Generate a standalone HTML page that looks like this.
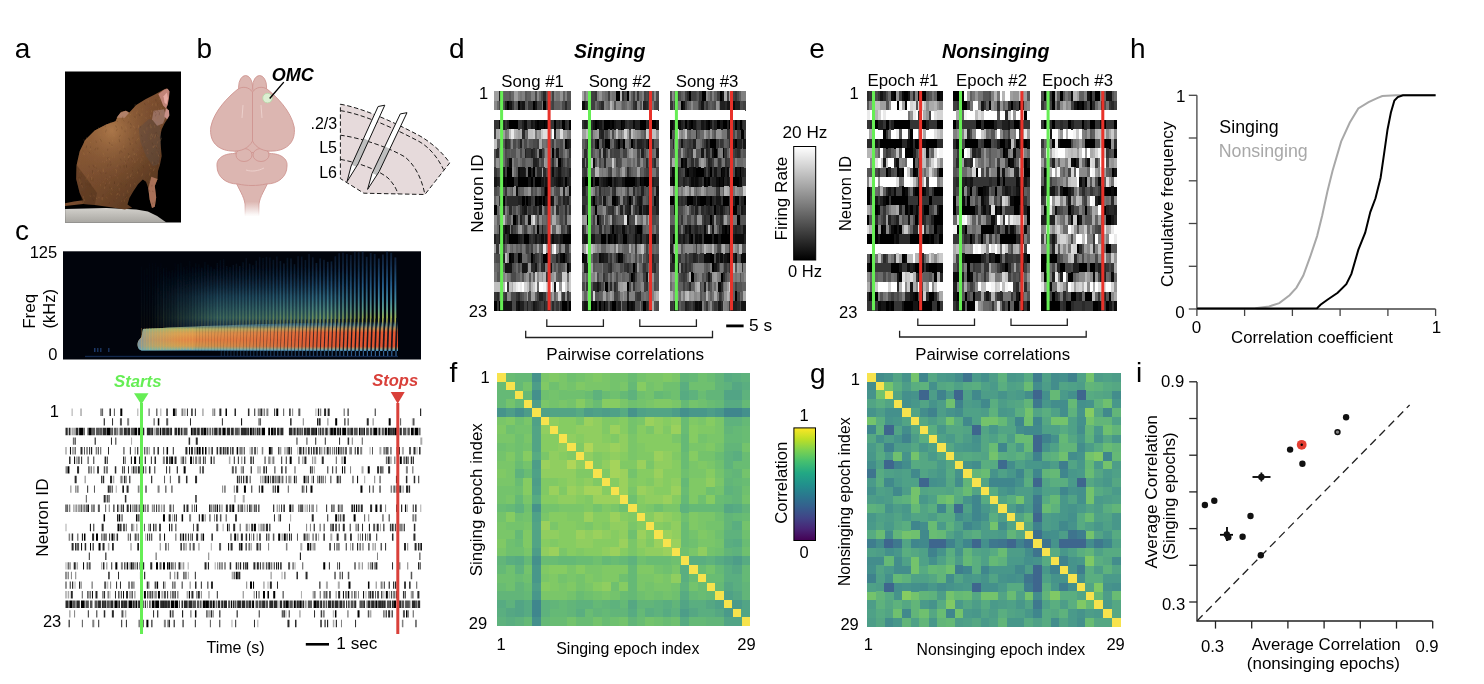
<!DOCTYPE html>
<html><head><meta charset="utf-8"><style>
html,body{margin:0;padding:0;background:#fff;}
svg{display:block;font-family:"Liberation Sans", sans-serif;}
text{opacity:0.999;}
</style></head><body>
<svg width="1484" height="684" viewBox="0 0 1484 684">
<rect width="1484" height="684" fill="#fff"/>
<text x="14.78" y="58.10" font-size="28" fill="#000" font-weight="normal" font-style="normal">a</text>
<text x="196.55" y="57.90" font-size="28" fill="#000" font-weight="normal" font-style="normal">b</text>
<text x="15.07" y="240.20" font-size="28" fill="#000" font-weight="normal" font-style="normal">c</text>
<text x="448.88" y="58.00" font-size="28" fill="#000" font-weight="normal" font-style="normal">d</text>
<text x="809.27" y="58.30" font-size="28" fill="#000" font-weight="normal" font-style="normal">e</text>
<text x="449.52" y="381.90" font-size="28" fill="#000" font-weight="normal" font-style="normal">f</text>
<text x="810.08" y="382.60" font-size="28" fill="#000" font-weight="normal" font-style="normal">g</text>
<text x="1129.92" y="58.10" font-size="28" fill="#000" font-weight="normal" font-style="normal">h</text>
<text x="1136.03" y="381.90" font-size="28" fill="#000" font-weight="normal" font-style="normal">i</text>
<g id="photo">
<rect x="65" y="71.5" width="116" height="151" fill="#000"/>
<defs><linearGradient id="rockg" x1="0" y1="0" x2="0" y2="1"><stop offset="0" stop-color="#d2d0cb"/><stop offset="1" stop-color="#a9a7a2"/></linearGradient><linearGradient id="fur" x1="0" y1="0" x2="1" y2="1"><stop offset="0" stop-color="#a06a3c"/><stop offset="0.45" stop-color="#7e5030"/><stop offset="1" stop-color="#4a2e1a"/></linearGradient><radialGradient id="furh" cx="0.45" cy="0.35" r="0.55"><stop offset="0" stop-color="#b88250" stop-opacity="0.75"/><stop offset="1" stop-color="#6a4428" stop-opacity="0"/></radialGradient></defs>
<polygon points="65.1,209.0 106.2,208.1 136.3,209.5 147.9,211.4 157.1,216.0 166.4,222.5 65.1,222.5" fill="url(#rockg)"/>
<defs><filter id="pblur"><feGaussianBlur stdDeviation="0.7"/></filter><clipPath id="pclip"><rect x="65" y="71.5" width="116" height="151"/></clipPath></defs><g clip-path="url(#pclip)"><g filter="url(#pblur)">
<polygon points="65.1,203.3 73.9,201.6 83.1,200.3 79.7,192.9 76.2,179.0 76.6,165.1 79.7,151.2 85.4,139.7 94.7,130.4 106.2,124.6 115.5,121.2 117.8,116.6 121.3,111.9 125.9,110.8 129.4,112.4 136.3,105.0 145.5,99.2 154.8,94.6 162.9,90.0 166.8,88.3 169.1,91.1 168.7,98.1 166.4,106.8 169.1,111.9 168.2,117.7 164.5,123.5 161.7,129.3 159.9,137.4 160.8,146.6 161.7,155.9 159.9,165.1 158.0,170.9 157.6,179.0 154.8,185.9 156.2,197.5 154.8,206.7 152.0,208.1 149.7,199.8 148.3,188.2 146.0,181.8 142.8,179.4 138.2,184.1 133.5,191.0 129.4,197.9 127.5,204.4 132.1,207.7 124.7,209.5 110.9,207.2 94.7,204.9 83.1,204.0 65.1,206.0" fill="url(#fur)"/>
<polygon points="65.1,203.3 73.9,201.6 83.1,200.3 79.7,192.9 76.2,179.0 76.6,165.1 79.7,151.2 85.4,139.7 94.7,130.4 106.2,124.6 115.5,121.2 117.8,116.6 121.3,111.9 125.9,110.8 129.4,112.4 136.3,105.0 145.5,99.2 154.8,94.6 162.9,90.0 166.8,88.3 169.1,91.1 168.7,98.1 166.4,106.8 169.1,111.9 168.2,117.7 164.5,123.5 161.7,129.3 159.9,137.4 160.8,146.6 161.7,155.9 159.9,165.1 158.0,170.9 157.6,179.0 154.8,185.9 156.2,197.5 154.8,206.7 152.0,208.1 149.7,199.8 148.3,188.2 146.0,181.8 142.8,179.4 138.2,184.1 133.5,191.0 129.4,197.9 127.5,204.4 132.1,207.7 124.7,209.5 110.9,207.2 94.7,204.9 83.1,204.0 65.1,206.0" fill="url(#furh)"/>
<polygon points="138.6,128.1 149.0,118.9 159.4,122.3 161.3,137.4 160.3,151.2 159.0,164.0 152.9,166.3 146.0,155.9 140.5,142.0" fill="#5e4c42" opacity="0.45"/>
<polygon points="153.6,110.8 164.0,109.2 165.9,115.4 163.1,123.5 157.1,125.8 152.0,119.3" fill="#a88078" opacity="0.7"/>
<polygon points="158.3,93.9 164.5,89.5 167.7,88.8 169.6,91.6 168.9,98.1 167.7,105.0 165.9,108.2 163.1,105.5 160.8,99.4" fill="#c08478"/>
<polygon points="163.6,96.2 166.8,92.5 168.0,98.5 166.6,104.5 164.5,102.7" fill="#e6aaa2"/>
<polygon points="165.9,108.2 168.9,110.3 169.4,115.4 167.1,119.3 164.3,116.6" fill="#c89088"/>
<polygon points="116.6,117.7 120.6,112.4 125.9,110.8 128.9,113.1 124.7,117.7" fill="#b08068"/>
<polygon points="151.3,176.7 157.6,179.0 154.8,185.9 156.2,197.5 154.8,206.7 152.0,208.1 149.7,199.8 148.3,188.2" fill="#a87058"/>
<polygon points="79.7,192.9 76.2,179.0 76.6,165.1 85.4,176.7 97.0,192.9 94.7,204.9 83.1,204.0" fill="#3e2614" opacity="0.35"/>
<line x1="130.3" y1="177.0" x2="131.4" y2="173.7" stroke="#b8844f" stroke-width="0.6" opacity="0.4"/><line x1="157.0" y1="167.1" x2="157.8" y2="165.5" stroke="#4a2e1a" stroke-width="0.6" opacity="0.4"/><line x1="150.8" y1="138.6" x2="149.8" y2="136.8" stroke="#9a6a40" stroke-width="0.6" opacity="0.4"/><line x1="150.7" y1="139.5" x2="151.2" y2="137.9" stroke="#b8844f" stroke-width="0.6" opacity="0.4"/><line x1="102.6" y1="200.3" x2="102.6" y2="197.5" stroke="#9a6a40" stroke-width="0.6" opacity="0.4"/><line x1="93.6" y1="201.1" x2="92.3" y2="197.9" stroke="#4a2e1a" stroke-width="0.6" opacity="0.4"/><line x1="103.4" y1="136.5" x2="102.6" y2="134.8" stroke="#a87448" stroke-width="0.6" opacity="0.4"/><line x1="106.1" y1="185.0" x2="106.3" y2="182.3" stroke="#5a3820" stroke-width="0.6" opacity="0.4"/><line x1="104.0" y1="172.1" x2="103.0" y2="169.9" stroke="#9a6a40" stroke-width="0.6" opacity="0.4"/><line x1="83.2" y1="201.8" x2="81.5" y2="199.3" stroke="#4a2e1a" stroke-width="0.6" opacity="0.4"/><line x1="80.0" y1="181.8" x2="79.5" y2="179.2" stroke="#a87448" stroke-width="0.6" opacity="0.4"/><line x1="116.2" y1="173.3" x2="116.6" y2="169.9" stroke="#a87448" stroke-width="0.6" opacity="0.4"/><line x1="156.9" y1="134.7" x2="156.4" y2="132.2" stroke="#4a2e1a" stroke-width="0.6" opacity="0.4"/><line x1="87.5" y1="177.7" x2="88.5" y2="174.6" stroke="#a87448" stroke-width="0.6" opacity="0.4"/><line x1="114.5" y1="202.1" x2="113.6" y2="199.8" stroke="#5a3820" stroke-width="0.6" opacity="0.4"/><line x1="154.9" y1="134.2" x2="156.1" y2="131.9" stroke="#5a3820" stroke-width="0.6" opacity="0.4"/><line x1="135.6" y1="130.6" x2="136.5" y2="128.0" stroke="#5a3820" stroke-width="0.6" opacity="0.4"/><line x1="161.5" y1="115.2" x2="159.6" y2="112.3" stroke="#b8844f" stroke-width="0.6" opacity="0.4"/><line x1="155.4" y1="101.4" x2="155.9" y2="99.3" stroke="#5a3820" stroke-width="0.6" opacity="0.4"/><line x1="116.4" y1="142.9" x2="114.6" y2="140.1" stroke="#a87448" stroke-width="0.6" opacity="0.4"/><line x1="145.2" y1="133.6" x2="143.9" y2="130.4" stroke="#b8844f" stroke-width="0.6" opacity="0.4"/><line x1="157.6" y1="165.1" x2="158.1" y2="163.5" stroke="#4a2e1a" stroke-width="0.6" opacity="0.4"/><line x1="155.2" y1="164.0" x2="154.2" y2="161.7" stroke="#4a2e1a" stroke-width="0.6" opacity="0.4"/><line x1="135.8" y1="131.8" x2="135.1" y2="129.5" stroke="#9a6a40" stroke-width="0.6" opacity="0.4"/><line x1="87.9" y1="185.5" x2="87.9" y2="183.6" stroke="#4a2e1a" stroke-width="0.6" opacity="0.4"/><line x1="150.7" y1="117.2" x2="150.6" y2="114.7" stroke="#b8844f" stroke-width="0.6" opacity="0.4"/><line x1="150.7" y1="136.5" x2="151.6" y2="133.6" stroke="#b8844f" stroke-width="0.6" opacity="0.4"/><line x1="133.8" y1="178.9" x2="133.2" y2="176.0" stroke="#5a3820" stroke-width="0.6" opacity="0.4"/><line x1="148.0" y1="126.2" x2="149.5" y2="123.7" stroke="#5a3820" stroke-width="0.6" opacity="0.4"/><line x1="132.6" y1="159.8" x2="131.1" y2="157.7" stroke="#5a3820" stroke-width="0.6" opacity="0.4"/><line x1="105.6" y1="127.2" x2="104.9" y2="124.8" stroke="#5a3820" stroke-width="0.6" opacity="0.4"/><line x1="107.5" y1="166.6" x2="108.3" y2="163.5" stroke="#5a3820" stroke-width="0.6" opacity="0.4"/><line x1="155.3" y1="116.4" x2="156.2" y2="114.2" stroke="#5a3820" stroke-width="0.6" opacity="0.4"/><line x1="158.1" y1="153.2" x2="158.1" y2="151.3" stroke="#5a3820" stroke-width="0.6" opacity="0.4"/><line x1="156.5" y1="148.8" x2="157.1" y2="145.9" stroke="#4a2e1a" stroke-width="0.6" opacity="0.4"/><line x1="92.8" y1="181.1" x2="93.0" y2="178.2" stroke="#4a2e1a" stroke-width="0.6" opacity="0.4"/><line x1="103.7" y1="156.9" x2="104.5" y2="155.0" stroke="#a87448" stroke-width="0.6" opacity="0.4"/><line x1="94.8" y1="160.4" x2="95.0" y2="158.6" stroke="#9a6a40" stroke-width="0.6" opacity="0.4"/><line x1="117.8" y1="122.1" x2="116.8" y2="120.6" stroke="#5a3820" stroke-width="0.6" opacity="0.4"/><line x1="159.1" y1="149.4" x2="159.1" y2="147.1" stroke="#5a3820" stroke-width="0.6" opacity="0.4"/><line x1="110.2" y1="163.1" x2="110.3" y2="161.2" stroke="#5a3820" stroke-width="0.6" opacity="0.4"/><line x1="101.7" y1="141.7" x2="100.2" y2="138.9" stroke="#5a3820" stroke-width="0.6" opacity="0.4"/><line x1="158.8" y1="156.5" x2="158.2" y2="154.5" stroke="#b8844f" stroke-width="0.6" opacity="0.4"/><line x1="106.7" y1="159.8" x2="108.3" y2="157.1" stroke="#4a2e1a" stroke-width="0.6" opacity="0.4"/><line x1="112.6" y1="158.0" x2="112.6" y2="155.6" stroke="#9a6a40" stroke-width="0.6" opacity="0.4"/><line x1="128.1" y1="158.0" x2="129.8" y2="155.0" stroke="#b8844f" stroke-width="0.6" opacity="0.4"/><line x1="86.1" y1="185.4" x2="86.4" y2="183.2" stroke="#5a3820" stroke-width="0.6" opacity="0.4"/><line x1="125.6" y1="163.5" x2="124.4" y2="161.0" stroke="#b8844f" stroke-width="0.6" opacity="0.4"/><line x1="109.8" y1="144.0" x2="109.1" y2="142.0" stroke="#4a2e1a" stroke-width="0.6" opacity="0.4"/><line x1="110.5" y1="189.0" x2="109.3" y2="186.6" stroke="#5a3820" stroke-width="0.6" opacity="0.4"/><line x1="119.8" y1="142.2" x2="119.0" y2="138.9" stroke="#4a2e1a" stroke-width="0.6" opacity="0.4"/><line x1="155.9" y1="113.3" x2="154.3" y2="111.0" stroke="#4a2e1a" stroke-width="0.6" opacity="0.4"/><line x1="89.9" y1="139.8" x2="89.7" y2="137.2" stroke="#9a6a40" stroke-width="0.6" opacity="0.4"/><line x1="156.3" y1="181.2" x2="155.7" y2="179.3" stroke="#9a6a40" stroke-width="0.6" opacity="0.4"/><line x1="138.5" y1="128.4" x2="138.4" y2="125.0" stroke="#b8844f" stroke-width="0.6" opacity="0.4"/><line x1="132.2" y1="162.3" x2="132.6" y2="160.6" stroke="#9a6a40" stroke-width="0.6" opacity="0.4"/><line x1="103.5" y1="154.8" x2="103.1" y2="152.8" stroke="#b8844f" stroke-width="0.6" opacity="0.4"/><line x1="135.2" y1="184.5" x2="134.6" y2="183.1" stroke="#b8844f" stroke-width="0.6" opacity="0.4"/><line x1="116.4" y1="195.5" x2="117.5" y2="193.2" stroke="#a87448" stroke-width="0.6" opacity="0.4"/><line x1="114.3" y1="183.9" x2="114.5" y2="181.1" stroke="#4a2e1a" stroke-width="0.6" opacity="0.4"/><line x1="150.0" y1="187.5" x2="149.8" y2="184.7" stroke="#9a6a40" stroke-width="0.6" opacity="0.4"/><line x1="153.3" y1="147.5" x2="153.9" y2="145.5" stroke="#a87448" stroke-width="0.6" opacity="0.4"/><line x1="136.3" y1="144.1" x2="135.5" y2="141.2" stroke="#5a3820" stroke-width="0.6" opacity="0.4"/><line x1="90.4" y1="148.9" x2="90.4" y2="146.4" stroke="#5a3820" stroke-width="0.6" opacity="0.4"/><line x1="123.3" y1="143.3" x2="123.3" y2="141.7" stroke="#9a6a40" stroke-width="0.6" opacity="0.4"/><line x1="83.7" y1="198.3" x2="83.2" y2="196.0" stroke="#a87448" stroke-width="0.6" opacity="0.4"/><line x1="82.6" y1="187.6" x2="81.6" y2="185.0" stroke="#a87448" stroke-width="0.6" opacity="0.4"/><line x1="137.8" y1="112.4" x2="136.9" y2="109.2" stroke="#9a6a40" stroke-width="0.6" opacity="0.4"/><line x1="145.3" y1="105.2" x2="144.3" y2="102.8" stroke="#4a2e1a" stroke-width="0.6" opacity="0.4"/><line x1="140.6" y1="127.8" x2="140.6" y2="126.1" stroke="#4a2e1a" stroke-width="0.6" opacity="0.4"/><line x1="151.6" y1="112.3" x2="151.4" y2="110.2" stroke="#b8844f" stroke-width="0.6" opacity="0.4"/><line x1="119.2" y1="135.6" x2="119.8" y2="132.4" stroke="#9a6a40" stroke-width="0.6" opacity="0.4"/><line x1="136.5" y1="114.1" x2="136.9" y2="111.6" stroke="#b8844f" stroke-width="0.6" opacity="0.4"/><line x1="124.3" y1="121.5" x2="123.2" y2="119.8" stroke="#5a3820" stroke-width="0.6" opacity="0.4"/><line x1="121.5" y1="112.3" x2="120.8" y2="110.2" stroke="#4a2e1a" stroke-width="0.6" opacity="0.4"/><line x1="93.4" y1="173.9" x2="93.7" y2="172.3" stroke="#a87448" stroke-width="0.6" opacity="0.4"/><line x1="127.9" y1="123.4" x2="128.9" y2="121.2" stroke="#5a3820" stroke-width="0.6" opacity="0.4"/><line x1="87.5" y1="154.5" x2="87.5" y2="152.2" stroke="#9a6a40" stroke-width="0.6" opacity="0.4"/><line x1="157.1" y1="143.7" x2="158.1" y2="140.9" stroke="#a87448" stroke-width="0.6" opacity="0.4"/><line x1="146.8" y1="112.9" x2="147.1" y2="110.7" stroke="#9a6a40" stroke-width="0.6" opacity="0.4"/><line x1="102.6" y1="197.0" x2="103.3" y2="194.0" stroke="#4a2e1a" stroke-width="0.6" opacity="0.4"/><line x1="89.9" y1="186.5" x2="90.3" y2="183.4" stroke="#4a2e1a" stroke-width="0.6" opacity="0.4"/><line x1="158.5" y1="136.6" x2="156.6" y2="133.7" stroke="#9a6a40" stroke-width="0.6" opacity="0.4"/><line x1="140.1" y1="140.1" x2="139.3" y2="138.8" stroke="#9a6a40" stroke-width="0.6" opacity="0.4"/><line x1="94.8" y1="150.2" x2="96.1" y2="147.7" stroke="#5a3820" stroke-width="0.6" opacity="0.4"/><line x1="152.6" y1="163.9" x2="152.3" y2="161.5" stroke="#a87448" stroke-width="0.6" opacity="0.4"/><line x1="94.4" y1="167.5" x2="92.8" y2="164.8" stroke="#4a2e1a" stroke-width="0.6" opacity="0.4"/><line x1="155.5" y1="137.3" x2="156.8" y2="134.8" stroke="#4a2e1a" stroke-width="0.6" opacity="0.4"/><line x1="117.8" y1="198.6" x2="116.4" y2="196.1" stroke="#5a3820" stroke-width="0.6" opacity="0.4"/><line x1="116.3" y1="123.6" x2="117.1" y2="122.3" stroke="#a87448" stroke-width="0.6" opacity="0.4"/><line x1="126.3" y1="167.9" x2="126.7" y2="164.6" stroke="#5a3820" stroke-width="0.6" opacity="0.4"/><line x1="135.1" y1="117.7" x2="134.8" y2="116.1" stroke="#4a2e1a" stroke-width="0.6" opacity="0.4"/><line x1="132.3" y1="143.9" x2="133.0" y2="142.6" stroke="#a87448" stroke-width="0.6" opacity="0.4"/><line x1="116.2" y1="170.5" x2="115.6" y2="169.1" stroke="#b8844f" stroke-width="0.6" opacity="0.4"/><line x1="125.5" y1="198.0" x2="126.0" y2="196.1" stroke="#4a2e1a" stroke-width="0.6" opacity="0.4"/><line x1="86.2" y1="148.2" x2="86.7" y2="145.4" stroke="#4a2e1a" stroke-width="0.6" opacity="0.4"/><line x1="99.8" y1="141.4" x2="99.3" y2="139.8" stroke="#a87448" stroke-width="0.6" opacity="0.4"/><line x1="157.6" y1="118.7" x2="158.2" y2="116.0" stroke="#9a6a40" stroke-width="0.6" opacity="0.4"/><line x1="123.6" y1="196.0" x2="123.9" y2="192.8" stroke="#9a6a40" stroke-width="0.6" opacity="0.4"/><line x1="130.5" y1="145.0" x2="130.0" y2="142.7" stroke="#4a2e1a" stroke-width="0.6" opacity="0.4"/><line x1="122.0" y1="112.2" x2="120.2" y2="109.7" stroke="#4a2e1a" stroke-width="0.6" opacity="0.4"/><line x1="152.7" y1="204.4" x2="152.8" y2="202.6" stroke="#4a2e1a" stroke-width="0.6" opacity="0.4"/><line x1="85.8" y1="180.2" x2="86.5" y2="178.2" stroke="#9a6a40" stroke-width="0.6" opacity="0.4"/><line x1="123.2" y1="148.2" x2="123.8" y2="145.2" stroke="#b8844f" stroke-width="0.6" opacity="0.4"/><line x1="134.0" y1="127.4" x2="133.9" y2="125.4" stroke="#9a6a40" stroke-width="0.6" opacity="0.4"/><line x1="152.2" y1="105.7" x2="152.9" y2="103.5" stroke="#b8844f" stroke-width="0.6" opacity="0.4"/><line x1="156.8" y1="112.0" x2="155.8" y2="110.6" stroke="#a87448" stroke-width="0.6" opacity="0.4"/><line x1="139.1" y1="172.6" x2="138.1" y2="169.7" stroke="#4a2e1a" stroke-width="0.6" opacity="0.4"/><line x1="125.3" y1="132.2" x2="124.8" y2="130.5" stroke="#4a2e1a" stroke-width="0.6" opacity="0.4"/><line x1="134.8" y1="128.4" x2="133.2" y2="125.8" stroke="#b8844f" stroke-width="0.6" opacity="0.4"/><line x1="114.8" y1="125.5" x2="115.5" y2="124.2" stroke="#b8844f" stroke-width="0.6" opacity="0.4"/><line x1="114.2" y1="136.6" x2="113.8" y2="135.1" stroke="#b8844f" stroke-width="0.6" opacity="0.4"/><line x1="130.0" y1="115.4" x2="131.1" y2="113.7" stroke="#b8844f" stroke-width="0.6" opacity="0.4"/><line x1="92.7" y1="173.5" x2="92.4" y2="170.1" stroke="#4a2e1a" stroke-width="0.6" opacity="0.4"/><line x1="154.7" y1="147.1" x2="154.4" y2="144.7" stroke="#9a6a40" stroke-width="0.6" opacity="0.4"/><line x1="122.8" y1="201.2" x2="123.0" y2="199.5" stroke="#4a2e1a" stroke-width="0.6" opacity="0.4"/><line x1="135.6" y1="120.1" x2="133.6" y2="117.4" stroke="#9a6a40" stroke-width="0.6" opacity="0.4"/><line x1="118.6" y1="191.8" x2="118.3" y2="189.9" stroke="#5a3820" stroke-width="0.6" opacity="0.4"/><line x1="146.9" y1="130.3" x2="146.9" y2="127.3" stroke="#9a6a40" stroke-width="0.6" opacity="0.4"/><line x1="109.0" y1="184.1" x2="110.0" y2="181.4" stroke="#a87448" stroke-width="0.6" opacity="0.4"/><line x1="130.0" y1="140.7" x2="128.6" y2="137.9" stroke="#4a2e1a" stroke-width="0.6" opacity="0.4"/><line x1="111.5" y1="178.2" x2="110.6" y2="175.0" stroke="#5a3820" stroke-width="0.6" opacity="0.4"/><line x1="118.2" y1="148.1" x2="118.2" y2="146.4" stroke="#9a6a40" stroke-width="0.6" opacity="0.4"/><line x1="121.1" y1="160.5" x2="120.2" y2="158.4" stroke="#5a3820" stroke-width="0.6" opacity="0.4"/><line x1="134.9" y1="163.0" x2="134.9" y2="160.5" stroke="#b8844f" stroke-width="0.6" opacity="0.4"/><line x1="137.0" y1="140.5" x2="138.7" y2="137.8" stroke="#b8844f" stroke-width="0.6" opacity="0.4"/><line x1="134.3" y1="155.1" x2="135.0" y2="153.0" stroke="#b8844f" stroke-width="0.6" opacity="0.4"/><line x1="80.2" y1="179.9" x2="79.4" y2="178.0" stroke="#a87448" stroke-width="0.6" opacity="0.4"/><line x1="126.8" y1="178.8" x2="127.3" y2="176.8" stroke="#a87448" stroke-width="0.6" opacity="0.4"/><line x1="101.4" y1="174.2" x2="99.8" y2="171.6" stroke="#5a3820" stroke-width="0.6" opacity="0.4"/><line x1="153.2" y1="171.2" x2="154.3" y2="168.4" stroke="#b8844f" stroke-width="0.6" opacity="0.4"/><line x1="125.3" y1="149.4" x2="124.4" y2="147.9" stroke="#5a3820" stroke-width="0.6" opacity="0.4"/><line x1="159.6" y1="155.9" x2="159.4" y2="154.4" stroke="#4a2e1a" stroke-width="0.6" opacity="0.4"/><line x1="110.0" y1="177.9" x2="110.0" y2="176.0" stroke="#b8844f" stroke-width="0.6" opacity="0.4"/><line x1="105.3" y1="132.5" x2="106.5" y2="129.5" stroke="#5a3820" stroke-width="0.6" opacity="0.4"/><line x1="103.0" y1="182.9" x2="103.5" y2="181.3" stroke="#9a6a40" stroke-width="0.6" opacity="0.4"/><line x1="84.9" y1="142.0" x2="83.8" y2="139.4" stroke="#b8844f" stroke-width="0.6" opacity="0.4"/><line x1="125.6" y1="186.4" x2="126.8" y2="183.7" stroke="#4a2e1a" stroke-width="0.6" opacity="0.4"/><line x1="97.7" y1="149.5" x2="97.9" y2="147.5" stroke="#4a2e1a" stroke-width="0.6" opacity="0.4"/><line x1="101.9" y1="162.4" x2="102.8" y2="160.8" stroke="#a87448" stroke-width="0.6" opacity="0.4"/><line x1="124.7" y1="158.0" x2="124.5" y2="155.8" stroke="#a87448" stroke-width="0.6" opacity="0.4"/><line x1="132.3" y1="171.5" x2="132.7" y2="169.9" stroke="#4a2e1a" stroke-width="0.6" opacity="0.4"/><line x1="90.0" y1="153.3" x2="89.0" y2="151.7" stroke="#4a2e1a" stroke-width="0.6" opacity="0.4"/><line x1="97.6" y1="172.2" x2="98.5" y2="169.9" stroke="#a87448" stroke-width="0.6" opacity="0.4"/><line x1="78.6" y1="169.6" x2="77.6" y2="167.7" stroke="#5a3820" stroke-width="0.6" opacity="0.4"/><line x1="141.6" y1="176.4" x2="142.7" y2="173.4" stroke="#b8844f" stroke-width="0.6" opacity="0.4"/><line x1="158.1" y1="164.5" x2="159.0" y2="163.1" stroke="#a87448" stroke-width="0.6" opacity="0.4"/><line x1="146.3" y1="118.9" x2="145.8" y2="117.1" stroke="#a87448" stroke-width="0.6" opacity="0.4"/><line x1="99.0" y1="198.2" x2="98.9" y2="196.7" stroke="#b8844f" stroke-width="0.6" opacity="0.4"/><line x1="158.6" y1="112.2" x2="157.3" y2="110.3" stroke="#5a3820" stroke-width="0.6" opacity="0.4"/><line x1="157.2" y1="105.7" x2="158.0" y2="102.9" stroke="#5a3820" stroke-width="0.6" opacity="0.4"/><line x1="79.8" y1="184.2" x2="81.4" y2="181.6" stroke="#9a6a40" stroke-width="0.6" opacity="0.4"/><line x1="154.9" y1="138.7" x2="154.2" y2="136.3" stroke="#a87448" stroke-width="0.6" opacity="0.4"/><line x1="126.4" y1="129.5" x2="125.7" y2="126.4" stroke="#b8844f" stroke-width="0.6" opacity="0.4"/><line x1="160.6" y1="126.9" x2="161.0" y2="125.1" stroke="#a87448" stroke-width="0.6" opacity="0.4"/><line x1="124.6" y1="144.1" x2="123.3" y2="141.1" stroke="#9a6a40" stroke-width="0.6" opacity="0.4"/><line x1="142.2" y1="136.5" x2="141.1" y2="134.8" stroke="#4a2e1a" stroke-width="0.6" opacity="0.4"/><line x1="85.0" y1="201.4" x2="83.8" y2="198.5" stroke="#a87448" stroke-width="0.6" opacity="0.4"/><line x1="101.7" y1="199.6" x2="102.2" y2="197.1" stroke="#a87448" stroke-width="0.6" opacity="0.4"/><line x1="91.8" y1="180.0" x2="91.7" y2="176.8" stroke="#b8844f" stroke-width="0.6" opacity="0.4"/><line x1="80.5" y1="179.9" x2="80.0" y2="176.7" stroke="#4a2e1a" stroke-width="0.6" opacity="0.4"/><line x1="154.7" y1="138.3" x2="156.3" y2="135.8" stroke="#5a3820" stroke-width="0.6" opacity="0.4"/><line x1="90.8" y1="181.1" x2="90.4" y2="177.7" stroke="#5a3820" stroke-width="0.6" opacity="0.4"/><line x1="96.5" y1="142.9" x2="95.8" y2="140.6" stroke="#5a3820" stroke-width="0.6" opacity="0.4"/><line x1="78.7" y1="165.4" x2="79.6" y2="162.5" stroke="#a87448" stroke-width="0.6" opacity="0.4"/><line x1="153.2" y1="192.2" x2="152.6" y2="190.8" stroke="#4a2e1a" stroke-width="0.6" opacity="0.4"/><line x1="158.5" y1="161.8" x2="157.6" y2="160.0" stroke="#5a3820" stroke-width="0.6" opacity="0.4"/><line x1="156.5" y1="101.4" x2="155.6" y2="99.2" stroke="#5a3820" stroke-width="0.6" opacity="0.4"/><line x1="89.4" y1="167.6" x2="89.0" y2="165.7" stroke="#5a3820" stroke-width="0.6" opacity="0.4"/><line x1="121.6" y1="201.8" x2="122.0" y2="200.1" stroke="#a87448" stroke-width="0.6" opacity="0.4"/><line x1="87.3" y1="140.5" x2="86.4" y2="137.3" stroke="#b8844f" stroke-width="0.6" opacity="0.4"/><line x1="126.9" y1="200.8" x2="126.0" y2="198.3" stroke="#5a3820" stroke-width="0.6" opacity="0.4"/><line x1="110.6" y1="123.3" x2="110.8" y2="121.7" stroke="#a87448" stroke-width="0.6" opacity="0.4"/><line x1="142.7" y1="142.6" x2="142.6" y2="139.9" stroke="#5a3820" stroke-width="0.6" opacity="0.4"/><line x1="83.2" y1="151.3" x2="81.9" y2="149.4" stroke="#5a3820" stroke-width="0.6" opacity="0.4"/><line x1="143.1" y1="157.4" x2="143.0" y2="155.7" stroke="#a87448" stroke-width="0.6" opacity="0.4"/><line x1="155.5" y1="137.5" x2="155.5" y2="134.5" stroke="#b8844f" stroke-width="0.6" opacity="0.4"/><line x1="156.1" y1="106.3" x2="155.8" y2="103.3" stroke="#b8844f" stroke-width="0.6" opacity="0.4"/><line x1="121.2" y1="185.0" x2="120.8" y2="182.7" stroke="#4a2e1a" stroke-width="0.6" opacity="0.4"/><line x1="107.7" y1="150.6" x2="107.8" y2="148.7" stroke="#4a2e1a" stroke-width="0.6" opacity="0.4"/><line x1="82.0" y1="177.0" x2="80.5" y2="174.1" stroke="#5a3820" stroke-width="0.6" opacity="0.4"/><line x1="159.0" y1="126.1" x2="158.1" y2="123.1" stroke="#a87448" stroke-width="0.6" opacity="0.4"/><line x1="100.3" y1="186.2" x2="100.6" y2="184.0" stroke="#9a6a40" stroke-width="0.6" opacity="0.4"/><line x1="136.9" y1="161.0" x2="138.3" y2="158.0" stroke="#9a6a40" stroke-width="0.6" opacity="0.4"/><line x1="127.9" y1="158.2" x2="128.9" y2="156.2" stroke="#a87448" stroke-width="0.6" opacity="0.4"/><line x1="147.1" y1="150.6" x2="147.7" y2="149.2" stroke="#b8844f" stroke-width="0.6" opacity="0.4"/><line x1="112.7" y1="141.9" x2="112.8" y2="139.6" stroke="#b8844f" stroke-width="0.6" opacity="0.4"/><line x1="96.9" y1="199.0" x2="96.2" y2="197.6" stroke="#b8844f" stroke-width="0.6" opacity="0.4"/><line x1="116.8" y1="167.1" x2="118.1" y2="164.4" stroke="#a87448" stroke-width="0.6" opacity="0.4"/><line x1="158.1" y1="170.4" x2="157.4" y2="168.2" stroke="#5a3820" stroke-width="0.6" opacity="0.4"/><line x1="100.0" y1="129.8" x2="98.3" y2="127.4" stroke="#b8844f" stroke-width="0.6" opacity="0.4"/><line x1="133.2" y1="151.0" x2="132.8" y2="148.3" stroke="#5a3820" stroke-width="0.6" opacity="0.4"/><line x1="104.7" y1="163.1" x2="104.5" y2="161.3" stroke="#a87448" stroke-width="0.6" opacity="0.4"/><line x1="131.8" y1="144.6" x2="131.7" y2="142.3" stroke="#9a6a40" stroke-width="0.6" opacity="0.4"/><line x1="90.1" y1="150.3" x2="90.5" y2="148.0" stroke="#b8844f" stroke-width="0.6" opacity="0.4"/><line x1="114.6" y1="158.0" x2="114.5" y2="154.6" stroke="#9a6a40" stroke-width="0.6" opacity="0.4"/><line x1="124.7" y1="168.5" x2="124.3" y2="165.5" stroke="#5a3820" stroke-width="0.6" opacity="0.4"/><line x1="100.1" y1="136.1" x2="100.9" y2="134.3" stroke="#a87448" stroke-width="0.6" opacity="0.4"/><line x1="158.1" y1="110.4" x2="158.7" y2="108.4" stroke="#a87448" stroke-width="0.6" opacity="0.4"/><line x1="151.0" y1="128.3" x2="151.5" y2="126.5" stroke="#b8844f" stroke-width="0.6" opacity="0.4"/><line x1="110.5" y1="165.7" x2="111.0" y2="163.8" stroke="#4a2e1a" stroke-width="0.6" opacity="0.4"/><line x1="149.9" y1="191.9" x2="149.4" y2="189.9" stroke="#5a3820" stroke-width="0.6" opacity="0.4"/><line x1="112.7" y1="190.6" x2="111.6" y2="188.8" stroke="#9a6a40" stroke-width="0.6" opacity="0.4"/><line x1="112.3" y1="147.2" x2="111.1" y2="145.2" stroke="#b8844f" stroke-width="0.6" opacity="0.4"/><line x1="123.5" y1="167.4" x2="123.9" y2="165.2" stroke="#5a3820" stroke-width="0.6" opacity="0.4"/><line x1="157.2" y1="147.6" x2="155.8" y2="145.0" stroke="#a87448" stroke-width="0.6" opacity="0.4"/><line x1="133.0" y1="168.7" x2="132.7" y2="167.0" stroke="#5a3820" stroke-width="0.6" opacity="0.4"/><line x1="124.4" y1="201.5" x2="124.1" y2="199.6" stroke="#b8844f" stroke-width="0.6" opacity="0.4"/><line x1="160.2" y1="112.3" x2="160.5" y2="110.4" stroke="#9a6a40" stroke-width="0.6" opacity="0.4"/><line x1="105.6" y1="184.3" x2="105.6" y2="182.5" stroke="#a87448" stroke-width="0.6" opacity="0.4"/><line x1="149.7" y1="166.3" x2="149.1" y2="163.7" stroke="#b8844f" stroke-width="0.6" opacity="0.4"/><line x1="131.4" y1="125.3" x2="130.2" y2="122.8" stroke="#4a2e1a" stroke-width="0.6" opacity="0.4"/><line x1="117.7" y1="178.7" x2="117.8" y2="177.0" stroke="#9a6a40" stroke-width="0.6" opacity="0.4"/><line x1="116.5" y1="199.1" x2="117.2" y2="196.8" stroke="#9a6a40" stroke-width="0.6" opacity="0.4"/><line x1="86.0" y1="145.5" x2="86.3" y2="142.3" stroke="#9a6a40" stroke-width="0.6" opacity="0.4"/><line x1="145.2" y1="149.3" x2="144.4" y2="146.2" stroke="#5a3820" stroke-width="0.6" opacity="0.4"/><line x1="136.6" y1="155.8" x2="136.6" y2="153.8" stroke="#a87448" stroke-width="0.6" opacity="0.4"/><line x1="106.5" y1="161.0" x2="106.8" y2="158.5" stroke="#b8844f" stroke-width="0.6" opacity="0.4"/><line x1="155.0" y1="128.1" x2="154.3" y2="124.9" stroke="#9a6a40" stroke-width="0.6" opacity="0.4"/><line x1="122.1" y1="129.4" x2="121.5" y2="126.4" stroke="#5a3820" stroke-width="0.6" opacity="0.4"/><line x1="133.0" y1="178.6" x2="133.4" y2="177.1" stroke="#9a6a40" stroke-width="0.6" opacity="0.4"/><line x1="104.5" y1="188.8" x2="104.9" y2="186.5" stroke="#b8844f" stroke-width="0.6" opacity="0.4"/><line x1="134.7" y1="134.2" x2="135.4" y2="131.8" stroke="#b8844f" stroke-width="0.6" opacity="0.4"/><line x1="126.5" y1="167.4" x2="126.6" y2="164.9" stroke="#4a2e1a" stroke-width="0.6" opacity="0.4"/><line x1="148.2" y1="102.6" x2="148.2" y2="100.2" stroke="#a87448" stroke-width="0.6" opacity="0.4"/><line x1="139.8" y1="116.0" x2="138.8" y2="113.7" stroke="#4a2e1a" stroke-width="0.6" opacity="0.4"/><line x1="132.7" y1="139.0" x2="133.0" y2="137.1" stroke="#5a3820" stroke-width="0.6" opacity="0.4"/><line x1="155.1" y1="119.9" x2="154.5" y2="118.3" stroke="#b8844f" stroke-width="0.6" opacity="0.4"/><line x1="109.6" y1="160.0" x2="109.0" y2="158.4" stroke="#b8844f" stroke-width="0.6" opacity="0.4"/><line x1="128.2" y1="178.6" x2="127.9" y2="175.8" stroke="#a87448" stroke-width="0.6" opacity="0.4"/><line x1="152.7" y1="154.5" x2="151.4" y2="152.6" stroke="#4a2e1a" stroke-width="0.6" opacity="0.4"/><line x1="79.7" y1="179.5" x2="78.5" y2="177.4" stroke="#4a2e1a" stroke-width="0.6" opacity="0.4"/><line x1="153.3" y1="148.0" x2="152.9" y2="146.4" stroke="#b8844f" stroke-width="0.6" opacity="0.4"/><line x1="130.4" y1="186.8" x2="130.7" y2="183.9" stroke="#b8844f" stroke-width="0.6" opacity="0.4"/><line x1="95.5" y1="167.3" x2="95.3" y2="164.8" stroke="#a87448" stroke-width="0.6" opacity="0.4"/><line x1="136.5" y1="119.4" x2="136.5" y2="116.2" stroke="#9a6a40" stroke-width="0.6" opacity="0.4"/><line x1="114.2" y1="130.0" x2="114.7" y2="127.8" stroke="#9a6a40" stroke-width="0.6" opacity="0.4"/><line x1="142.7" y1="110.2" x2="142.4" y2="108.4" stroke="#9a6a40" stroke-width="0.6" opacity="0.4"/><line x1="112.0" y1="146.0" x2="111.8" y2="144.5" stroke="#4a2e1a" stroke-width="0.6" opacity="0.4"/><line x1="122.2" y1="119.5" x2="122.8" y2="116.4" stroke="#5a3820" stroke-width="0.6" opacity="0.4"/><line x1="154.8" y1="182.4" x2="154.5" y2="179.6" stroke="#b8844f" stroke-width="0.6" opacity="0.4"/><line x1="152.0" y1="174.0" x2="151.8" y2="172.1" stroke="#5a3820" stroke-width="0.6" opacity="0.4"/><line x1="126.9" y1="174.2" x2="127.6" y2="172.8" stroke="#b8844f" stroke-width="0.6" opacity="0.4"/><line x1="159.2" y1="115.2" x2="159.6" y2="112.3" stroke="#4a2e1a" stroke-width="0.6" opacity="0.4"/><line x1="90.9" y1="143.3" x2="90.2" y2="142.0" stroke="#b8844f" stroke-width="0.6" opacity="0.4"/><line x1="117.3" y1="186.2" x2="118.6" y2="183.5" stroke="#a87448" stroke-width="0.6" opacity="0.4"/><line x1="119.1" y1="137.2" x2="120.7" y2="134.7" stroke="#5a3820" stroke-width="0.6" opacity="0.4"/><line x1="141.5" y1="148.9" x2="142.3" y2="146.6" stroke="#5a3820" stroke-width="0.6" opacity="0.4"/><line x1="129.1" y1="155.2" x2="128.1" y2="153.0" stroke="#4a2e1a" stroke-width="0.6" opacity="0.4"/><line x1="159.9" y1="99.8" x2="159.8" y2="98.1" stroke="#b8844f" stroke-width="0.6" opacity="0.4"/><line x1="84.4" y1="155.2" x2="83.4" y2="152.5" stroke="#b8844f" stroke-width="0.6" opacity="0.4"/><line x1="107.7" y1="179.9" x2="106.2" y2="177.6" stroke="#a87448" stroke-width="0.6" opacity="0.4"/><line x1="135.2" y1="107.1" x2="135.1" y2="103.9" stroke="#9a6a40" stroke-width="0.6" opacity="0.4"/><line x1="101.7" y1="145.9" x2="100.2" y2="143.4" stroke="#9a6a40" stroke-width="0.6" opacity="0.4"/><line x1="151.8" y1="186.5" x2="152.0" y2="184.8" stroke="#4a2e1a" stroke-width="0.6" opacity="0.4"/><line x1="107.3" y1="198.6" x2="106.2" y2="196.7" stroke="#9a6a40" stroke-width="0.6" opacity="0.4"/><line x1="105.6" y1="186.4" x2="105.5" y2="184.8" stroke="#4a2e1a" stroke-width="0.6" opacity="0.4"/><line x1="128.0" y1="192.7" x2="127.4" y2="190.3" stroke="#b8844f" stroke-width="0.6" opacity="0.4"/><line x1="122.3" y1="152.7" x2="121.0" y2="150.5" stroke="#4a2e1a" stroke-width="0.6" opacity="0.4"/><line x1="143.9" y1="142.8" x2="144.8" y2="141.3" stroke="#a87448" stroke-width="0.6" opacity="0.4"/><line x1="115.6" y1="176.1" x2="114.7" y2="174.7" stroke="#a87448" stroke-width="0.6" opacity="0.4"/><line x1="130.7" y1="128.3" x2="130.9" y2="126.8" stroke="#4a2e1a" stroke-width="0.6" opacity="0.4"/><line x1="103.2" y1="171.9" x2="103.2" y2="168.5" stroke="#b8844f" stroke-width="0.6" opacity="0.4"/><line x1="149.5" y1="187.6" x2="149.9" y2="184.4" stroke="#9a6a40" stroke-width="0.6" opacity="0.4"/><line x1="108.9" y1="204.1" x2="109.6" y2="202.5" stroke="#4a2e1a" stroke-width="0.6" opacity="0.4"/><line x1="152.2" y1="137.5" x2="153.2" y2="134.2" stroke="#a87448" stroke-width="0.6" opacity="0.4"/><line x1="111.0" y1="189.2" x2="111.9" y2="187.7" stroke="#b8844f" stroke-width="0.6" opacity="0.4"/><line x1="116.6" y1="127.6" x2="115.6" y2="125.5" stroke="#4a2e1a" stroke-width="0.6" opacity="0.4"/><line x1="91.4" y1="195.0" x2="91.4" y2="193.2" stroke="#4a2e1a" stroke-width="0.6" opacity="0.4"/><line x1="81.5" y1="185.1" x2="81.8" y2="183.1" stroke="#4a2e1a" stroke-width="0.6" opacity="0.4"/><line x1="151.3" y1="169.1" x2="150.4" y2="167.7" stroke="#b8844f" stroke-width="0.6" opacity="0.4"/><line x1="104.0" y1="134.1" x2="104.2" y2="132.3" stroke="#a87448" stroke-width="0.6" opacity="0.4"/><line x1="82.3" y1="151.2" x2="81.5" y2="148.7" stroke="#a87448" stroke-width="0.6" opacity="0.4"/><line x1="155.2" y1="203.6" x2="154.7" y2="201.6" stroke="#5a3820" stroke-width="0.6" opacity="0.4"/><line x1="160.4" y1="131.2" x2="159.9" y2="129.7" stroke="#a87448" stroke-width="0.6" opacity="0.4"/><line x1="127.1" y1="196.1" x2="126.7" y2="194.0" stroke="#4a2e1a" stroke-width="0.6" opacity="0.4"/><line x1="138.4" y1="150.3" x2="137.2" y2="148.6" stroke="#9a6a40" stroke-width="0.6" opacity="0.4"/><line x1="149.3" y1="175.6" x2="150.1" y2="172.4" stroke="#b8844f" stroke-width="0.6" opacity="0.4"/><line x1="96.7" y1="168.8" x2="95.5" y2="166.6" stroke="#5a3820" stroke-width="0.6" opacity="0.4"/><line x1="157.3" y1="153.6" x2="156.9" y2="151.6" stroke="#9a6a40" stroke-width="0.6" opacity="0.4"/><line x1="149.7" y1="182.1" x2="149.2" y2="180.4" stroke="#a87448" stroke-width="0.6" opacity="0.4"/><line x1="127.8" y1="119.2" x2="128.9" y2="116.8" stroke="#a87448" stroke-width="0.6" opacity="0.4"/><line x1="133.8" y1="160.2" x2="132.9" y2="157.4" stroke="#9a6a40" stroke-width="0.6" opacity="0.4"/><line x1="141.7" y1="116.1" x2="142.0" y2="113.3" stroke="#b8844f" stroke-width="0.6" opacity="0.4"/><line x1="119.0" y1="190.8" x2="119.4" y2="187.9" stroke="#a87448" stroke-width="0.6" opacity="0.4"/><line x1="128.2" y1="160.8" x2="129.1" y2="158.1" stroke="#5a3820" stroke-width="0.6" opacity="0.4"/><line x1="125.7" y1="198.6" x2="126.6" y2="197.3" stroke="#a87448" stroke-width="0.6" opacity="0.4"/><line x1="125.1" y1="162.5" x2="125.4" y2="160.4" stroke="#5a3820" stroke-width="0.6" opacity="0.4"/><line x1="128.9" y1="133.9" x2="127.9" y2="131.5" stroke="#9a6a40" stroke-width="0.6" opacity="0.4"/><line x1="140.2" y1="163.0" x2="141.5" y2="159.9" stroke="#9a6a40" stroke-width="0.6" opacity="0.4"/><line x1="111.8" y1="194.8" x2="110.7" y2="192.9" stroke="#a87448" stroke-width="0.6" opacity="0.4"/><line x1="153.0" y1="145.1" x2="152.2" y2="142.7" stroke="#4a2e1a" stroke-width="0.6" opacity="0.4"/><line x1="160.0" y1="141.2" x2="161.5" y2="138.1" stroke="#b8844f" stroke-width="0.6" opacity="0.4"/><line x1="83.6" y1="203.2" x2="83.2" y2="200.5" stroke="#9a6a40" stroke-width="0.6" opacity="0.4"/><line x1="120.5" y1="168.5" x2="119.9" y2="165.7" stroke="#5a3820" stroke-width="0.6" opacity="0.4"/><line x1="114.4" y1="184.0" x2="114.7" y2="182.2" stroke="#4a2e1a" stroke-width="0.6" opacity="0.4"/><line x1="137.4" y1="173.5" x2="137.8" y2="171.6" stroke="#b8844f" stroke-width="0.6" opacity="0.4"/><line x1="143.9" y1="168.3" x2="142.9" y2="165.0" stroke="#4a2e1a" stroke-width="0.6" opacity="0.4"/><line x1="119.5" y1="153.8" x2="120.2" y2="150.8" stroke="#4a2e1a" stroke-width="0.6" opacity="0.4"/><line x1="118.5" y1="150.2" x2="118.8" y2="148.3" stroke="#9a6a40" stroke-width="0.6" opacity="0.4"/><line x1="105.4" y1="174.0" x2="106.3" y2="172.5" stroke="#4a2e1a" stroke-width="0.6" opacity="0.4"/><line x1="132.8" y1="155.5" x2="133.8" y2="152.4" stroke="#9a6a40" stroke-width="0.6" opacity="0.4"/><line x1="79.6" y1="172.3" x2="80.0" y2="170.5" stroke="#a87448" stroke-width="0.6" opacity="0.4"/><line x1="83.9" y1="143.4" x2="85.4" y2="140.4" stroke="#a87448" stroke-width="0.6" opacity="0.4"/><line x1="106.3" y1="179.9" x2="106.3" y2="177.1" stroke="#5a3820" stroke-width="0.6" opacity="0.4"/><line x1="119.6" y1="150.5" x2="120.0" y2="148.0" stroke="#a87448" stroke-width="0.6" opacity="0.4"/><line x1="142.6" y1="160.5" x2="140.6" y2="157.7" stroke="#9a6a40" stroke-width="0.6" opacity="0.4"/><line x1="94.3" y1="196.8" x2="93.7" y2="194.8" stroke="#9a6a40" stroke-width="0.6" opacity="0.4"/><line x1="119.8" y1="196.0" x2="119.0" y2="193.8" stroke="#9a6a40" stroke-width="0.6" opacity="0.4"/><line x1="104.7" y1="179.8" x2="105.7" y2="177.8" stroke="#9a6a40" stroke-width="0.6" opacity="0.4"/><line x1="161.2" y1="109.1" x2="161.2" y2="107.1" stroke="#b8844f" stroke-width="0.6" opacity="0.4"/><line x1="122.1" y1="126.7" x2="120.7" y2="123.9" stroke="#a87448" stroke-width="0.6" opacity="0.4"/><line x1="90.6" y1="197.0" x2="89.8" y2="195.0" stroke="#9a6a40" stroke-width="0.6" opacity="0.4"/><line x1="82.1" y1="193.3" x2="81.9" y2="191.8" stroke="#5a3820" stroke-width="0.6" opacity="0.4"/><line x1="148.0" y1="154.0" x2="147.7" y2="152.3" stroke="#a87448" stroke-width="0.6" opacity="0.4"/><line x1="117.3" y1="194.8" x2="118.1" y2="193.2" stroke="#b8844f" stroke-width="0.6" opacity="0.4"/><line x1="150.6" y1="127.6" x2="150.2" y2="124.2" stroke="#a87448" stroke-width="0.6" opacity="0.4"/><line x1="116.2" y1="131.1" x2="117.4" y2="128.9" stroke="#5a3820" stroke-width="0.6" opacity="0.4"/>
</g></g>
</g>
<defs><linearGradient id="stemg" x1="0" y1="0" x2="0" y2="1"><stop offset="0.6" stop-color="#dcb6b1"/><stop offset="1" stop-color="#dcb6b1" stop-opacity="0"/></linearGradient><linearGradient id="stems" x1="0" y1="0" x2="0" y2="1"><stop offset="0.6" stop-color="#cf9591"/><stop offset="1" stop-color="#cf9591" stop-opacity="0"/></linearGradient></defs>
<g id="brain" stroke="#cf9591" stroke-width="0.9">
<path d="M235,180 C239,190 244,196 245,204 L245,216 L259,216 L259,204 C260,196 265,190 269,180 Z" fill="url(#stemg)" stroke="url(#stems)"/>
<path d="M236,132 L268,132 L270,160 L234,160 Z" fill="#dcb6b1" stroke="none"/>
<path d="M217,166 C216,157 227,152 239,154 C247,152 257,152 265,154 C277,152 288,157 287,166 C287,177 278,184 266,184 C257,186 247,186 238,184 C226,184 217,177 217,166 Z" fill="#dcb6b1"/>
<ellipse cx="244" cy="155" rx="8" ry="6.5" fill="#dcb6b1"/>
<ellipse cx="261" cy="155" rx="8" ry="6.5" fill="#dcb6b1"/>
<ellipse cx="245.6" cy="87" rx="7" ry="11.5" fill="#dcb6b1"/>
<ellipse cx="259.6" cy="87" rx="7" ry="11.5" fill="#dcb6b1"/>
<path d="M252.5,92 C249,87 243,86 238,89 C228,97 214,111 210.8,127 C209,142 218,150 231,151 C241,152 249,148 252.5,141 Z" fill="#dcb6b1"/>
<path d="M252.5,92 C256,87 262,86 267,89 C277,97 291,111 294.2,127 C296,142 287,150 274,151 C264,152 256,148 252.5,141 Z" fill="#dcb6b1"/>
</g>
<g stroke="#efd6d2" stroke-width="1" fill="none" opacity="0.8"><path d="M243,105 L242,118"/><path d="M261,105 L262,118"/><path d="M246,170 C252,172 258,171 264,168"/></g>
<circle cx="267.5" cy="98.1" r="4.8" fill="#dcefd2" stroke="#b5d8a8" stroke-width="0.8"/>
<line x1="269.7" y1="98.5" x2="283.8" y2="82.1" stroke="#000" stroke-width="1.4"/>
<text x="271.82" y="81.00" font-size="18" fill="#000" font-weight="bold" font-style="italic">OMC</text>
<g id="cortex">
<path d="M340.4,104.2 C362,108 392,121 420,136 C432,143 443,153 449.7,162.9 L424.9,194.5 L363.8,193.2 L340.4,178.6 Z" fill="#e6dadb"/>
<path d="M340.4,110.6 C362,114 392,127 420,142 C430,148 438,158 443.5,169.5" stroke="#1a1a1a" stroke-width="1" stroke-dasharray="4.5,2.5" fill="none"/>
<path d="M340.4,135.2 C362,138 390,148 405,157 C416,166 422,180 424.9,194.5" stroke="#1a1a1a" stroke-width="1" stroke-dasharray="4.5,2.5" fill="none"/>
<path d="M340.4,159.4 C360,163 378,170 388,178 C394,184 397,190 397.8,194" stroke="#1a1a1a" stroke-width="1" stroke-dasharray="4.5,2.5" fill="none"/>
<path d="M340.4,104.2 C362,108 392,121 420,136 C432,143 443,153 449.7,162.9 L424.9,194.5 L363.8,193.2 L340.4,178.6 Z" stroke="#1a1a1a" stroke-width="1" stroke-dasharray="4.5,2.5" fill="none"/>
<polygon points="384.8,105.2 378.1,106.5 351.1,166.0 347.0,181.7 358.2,163.7" fill="#fff"/>
<polygon points="368.7,140.7 363.6,138.3 351.6,164.8 356.7,167.1" fill="#bfbfbf"/>
<polygon points="384.8,105.2 378.1,106.5 351.1,166.0 347.0,181.7 358.2,163.7" fill="none" stroke="#111" stroke-width="1" stroke-linejoin="miter"/>
<polygon points="407.0,112.7 400.3,113.9 371.9,173.7 367.6,189.4 379.1,171.6" fill="#fff"/>
<polygon points="389.9,148.8 384.8,146.5 372.2,173.1 377.3,175.5" fill="#bfbfbf"/>
<polygon points="407.0,112.7 400.3,113.9 371.9,173.7 367.6,189.4 379.1,171.6" fill="none" stroke="#111" stroke-width="1" stroke-linejoin="miter"/>
</g>
<text x="310.50" y="129.00" font-size="16" fill="#000" font-weight="normal" font-style="normal">.2/3</text>
<text x="319.15" y="153.00" font-size="16" fill="#000" font-weight="normal" font-style="normal">L5</text>
<text x="319.15" y="177.60" font-size="16" fill="#000" font-weight="normal" font-style="normal">L6</text>
<rect x="63" y="251.3" width="358" height="108.19999999999999" fill="#01040c"/>
<defs><linearGradient id="band" gradientUnits="userSpaceOnUse" x1="0" y1="321" x2="0" y2="351"><stop offset="0" stop-color="#3a7ab0" stop-opacity="0"/><stop offset="0.13" stop-color="#5a9ab0" stop-opacity="0.6"/><stop offset="0.27" stop-color="#a8c870"/><stop offset="0.43" stop-color="#d8c060"/><stop offset="0.63" stop-color="#e0a050"/><stop offset="0.83" stop-color="#c8c060"/><stop offset="0.93" stop-color="#80b8a0"/><stop offset="1" stop-color="#4a90c8"/></linearGradient><linearGradient id="redV" gradientUnits="userSpaceOnUse" x1="0" y1="325" x2="0" y2="350"><stop offset="0" stop-color="#e5502e" stop-opacity="0"/><stop offset="0.3" stop-color="#e5502e"/><stop offset="0.85" stop-color="#e24a2c"/><stop offset="1" stop-color="#e24a2c" stop-opacity="0"/></linearGradient><linearGradient id="redH" gradientUnits="userSpaceOnUse" x1="140" y1="0" x2="398" y2="0"><stop offset="0" stop-color="#fff" stop-opacity="0.15"/><stop offset="0.4" stop-color="#fff" stop-opacity="0.5"/><stop offset="0.7" stop-color="#fff" stop-opacity="0.85"/><stop offset="1" stop-color="#fff" stop-opacity="0.95"/></linearGradient><mask id="redM"><rect x="130" y="310" width="280" height="45" fill="url(#redH)"/></mask><linearGradient id="bandL" gradientUnits="userSpaceOnUse" x1="137" y1="0" x2="185" y2="0"><stop offset="0" stop-color="#5f9fc0" stop-opacity="0.95"/><stop offset="0.25" stop-color="#7eb4a0" stop-opacity="0.6"/><stop offset="1" stop-color="#a8c070" stop-opacity="0"/></linearGradient><linearGradient id="stripe" gradientUnits="userSpaceOnUse" x1="0" y1="253" x2="0" y2="351"><stop offset="0" stop-color="#1c3a66" stop-opacity="0.5"/><stop offset="0.33" stop-color="#2a6a9c"/><stop offset="0.48" stop-color="#4a98b0"/><stop offset="0.58" stop-color="#70b8a0"/><stop offset="0.66" stop-color="#a8c460"/><stop offset="0.72" stop-color="#c8b850"/><stop offset="0.78" stop-color="#e88a40"/><stop offset="0.85" stop-color="#e5502e"/><stop offset="0.97" stop-color="#e24c2c"/><stop offset="1" stop-color="#4f90c0"/></linearGradient><linearGradient id="haze" x1="0" y1="0" x2="0" y2="1"><stop offset="0" stop-color="#0a2040" stop-opacity="0"/><stop offset="0.5" stop-color="#24566e" stop-opacity="0.6"/><stop offset="0.85" stop-color="#3a7070" stop-opacity="0.8"/><stop offset="1" stop-color="#2a5a80" stop-opacity="0.6"/></linearGradient><linearGradient id="hazeX" x1="0" y1="0" x2="1" y2="0"><stop offset="0" stop-color="#fff" stop-opacity="0"/><stop offset="0.3" stop-color="#fff" stop-opacity="1"/><stop offset="0.8" stop-color="#fff" stop-opacity="1"/><stop offset="1" stop-color="#fff" stop-opacity="0"/></linearGradient><mask id="hm"><rect x="150" y="265" width="220" height="62" fill="url(#hazeX)"/></mask></defs>
<defs><filter id="sblur" x="-5%" y="-5%" width="110%" height="110%"><feGaussianBlur stdDeviation="0.6"/></filter><clipPath id="sclip"><rect x="63" y="251.3" width="358" height="108.2"/></clipPath></defs><g clip-path="url(#sclip)"><g filter="url(#sblur)">
<rect x="85" y="355.8" width="313" height="1.3" fill="#1a3868" opacity="0.7"/>
<rect x="94" y="348" width="1.5" height="4" fill="#2a5090" opacity="0.7"/><rect x="97" y="348" width="1.5" height="4" fill="#2a5090" opacity="0.6"/><rect x="100" y="348" width="1.5" height="4" fill="#2a5090" opacity="0.6"/><rect x="108" y="348" width="1.5" height="4" fill="#2a5090" opacity="0.6"/>
<rect x="150" y="265" width="220" height="62" fill="url(#haze)" mask="url(#hm)" opacity="0.9"/>
<rect x="141.0" y="266.2" width="1.2" height="62.8" fill="url(#stripe)" opacity="0.05"/>
<rect x="143.7" y="269.4" width="1.2" height="59.6" fill="url(#stripe)" opacity="0.05"/>
<rect x="146.4" y="268.1" width="1.2" height="60.8" fill="url(#stripe)" opacity="0.05"/>
<rect x="149.1" y="263.1" width="1.2" height="65.6" fill="url(#stripe)" opacity="0.05"/>
<rect x="151.9" y="262.8" width="1.2" height="65.9" fill="url(#stripe)" opacity="0.05"/>
<rect x="154.7" y="263.0" width="1.2" height="65.6" fill="url(#stripe)" opacity="0.05"/>
<rect x="157.4" y="266.3" width="1.2" height="62.1" fill="url(#stripe)" opacity="0.09"/>
<rect x="160.2" y="263.2" width="1.3" height="65.2" fill="url(#stripe)" opacity="0.05"/>
<rect x="163.0" y="268.1" width="1.3" height="60.2" fill="url(#stripe)" opacity="0.11"/>
<rect x="165.9" y="267.4" width="1.3" height="60.8" fill="url(#stripe)" opacity="0.06"/>
<rect x="168.7" y="271.2" width="1.3" height="56.9" fill="url(#stripe)" opacity="0.05"/>
<rect x="171.6" y="269.9" width="1.3" height="58.1" fill="url(#stripe)" opacity="0.06"/>
<rect x="174.5" y="262.6" width="1.3" height="65.3" fill="url(#stripe)" opacity="0.05"/>
<rect x="177.4" y="264.1" width="1.3" height="63.8" fill="url(#stripe)" opacity="0.12"/>
<rect x="180.3" y="262.7" width="1.3" height="65.1" fill="url(#stripe)" opacity="0.10"/>
<rect x="183.2" y="267.1" width="1.3" height="60.6" fill="url(#stripe)" opacity="0.09"/>
<rect x="186.2" y="266.0" width="1.3" height="61.6" fill="url(#stripe)" opacity="0.06"/>
<rect x="189.1" y="261.0" width="1.3" height="66.5" fill="url(#stripe)" opacity="0.08"/>
<rect x="192.1" y="267.0" width="1.3" height="60.4" fill="url(#stripe)" opacity="0.11"/>
<rect x="195.1" y="263.2" width="1.3" height="64.1" fill="url(#stripe)" opacity="0.13"/>
<rect x="198.1" y="264.4" width="1.4" height="62.8" fill="url(#stripe)" opacity="0.11"/>
<rect x="201.1" y="267.7" width="1.4" height="59.5" fill="url(#stripe)" opacity="0.16"/>
<rect x="204.2" y="262.0" width="1.4" height="65.0" fill="url(#stripe)" opacity="0.15"/>
<rect x="207.3" y="264.6" width="1.4" height="62.3" fill="url(#stripe)" opacity="0.19"/>
<rect x="210.4" y="266.5" width="1.4" height="60.3" fill="url(#stripe)" opacity="0.14"/>
<rect x="213.5" y="268.8" width="1.4" height="57.9" fill="url(#stripe)" opacity="0.13"/>
<rect x="216.6" y="263.0" width="1.4" height="63.6" fill="url(#stripe)" opacity="0.20"/>
<rect x="219.7" y="260.2" width="1.4" height="66.3" fill="url(#stripe)" opacity="0.19"/>
<rect x="222.9" y="258.9" width="1.4" height="67.5" fill="url(#stripe)" opacity="0.21"/>
<rect x="226.1" y="266.0" width="1.4" height="60.3" fill="url(#stripe)" opacity="0.21"/>
<rect x="229.3" y="266.9" width="1.4" height="59.3" fill="url(#stripe)" opacity="0.20"/>
<rect x="232.5" y="264.9" width="1.5" height="61.2" fill="url(#stripe)" opacity="0.23"/>
<rect x="235.7" y="263.6" width="1.5" height="62.4" fill="url(#stripe)" opacity="0.23"/>
<rect x="239.0" y="266.0" width="1.5" height="59.9" fill="url(#stripe)" opacity="0.29"/>
<rect x="242.3" y="262.2" width="1.5" height="63.6" fill="url(#stripe)" opacity="0.27"/>
<rect x="245.5" y="257.9" width="1.5" height="67.8" fill="url(#stripe)" opacity="0.28"/>
<rect x="248.9" y="263.6" width="1.5" height="62.1" fill="url(#stripe)" opacity="0.33"/>
<rect x="252.2" y="265.1" width="1.5" height="60.4" fill="url(#stripe)" opacity="0.27"/>
<rect x="255.5" y="260.6" width="1.5" height="64.8" fill="url(#stripe)" opacity="0.32"/>
<rect x="258.9" y="256.8" width="1.5" height="68.5" fill="url(#stripe)" opacity="0.31"/>
<rect x="262.3" y="258.0" width="1.5" height="67.2" fill="url(#stripe)" opacity="0.28"/>
<rect x="265.7" y="256.8" width="1.5" height="68.3" fill="url(#stripe)" opacity="0.36"/>
<rect x="269.1" y="257.3" width="1.6" height="93.7" fill="url(#stripe)" opacity="0.32"/>
<rect x="272.6" y="259.7" width="1.6" height="91.3" fill="url(#stripe)" opacity="0.40"/>
<rect x="276.1" y="256.4" width="1.6" height="94.6" fill="url(#stripe)" opacity="0.37"/>
<rect x="279.6" y="260.9" width="1.6" height="90.1" fill="url(#stripe)" opacity="0.43"/>
<rect x="283.1" y="263.4" width="1.6" height="87.6" fill="url(#stripe)" opacity="0.44"/>
<rect x="286.6" y="257.8" width="1.6" height="93.2" fill="url(#stripe)" opacity="0.41"/>
<rect x="290.2" y="258.4" width="1.6" height="92.6" fill="url(#stripe)" opacity="0.47"/>
<rect x="293.7" y="264.2" width="1.6" height="86.8" fill="url(#stripe)" opacity="0.41"/>
<rect x="297.3" y="256.2" width="1.6" height="94.8" fill="url(#stripe)" opacity="0.43"/>
<rect x="300.9" y="256.6" width="1.6" height="94.4" fill="url(#stripe)" opacity="0.47"/>
<rect x="304.6" y="259.9" width="1.6" height="91.1" fill="url(#stripe)" opacity="0.47"/>
<rect x="308.2" y="253.9" width="1.7" height="97.1" fill="url(#stripe)" opacity="0.50"/>
<rect x="311.9" y="257.3" width="1.7" height="93.7" fill="url(#stripe)" opacity="0.53"/>
<rect x="315.6" y="263.0" width="1.7" height="88.0" fill="url(#stripe)" opacity="0.56"/>
<rect x="319.3" y="258.4" width="1.7" height="92.6" fill="url(#stripe)" opacity="0.57"/>
<rect x="323.1" y="259.8" width="1.7" height="91.2" fill="url(#stripe)" opacity="0.53"/>
<rect x="326.9" y="261.8" width="1.7" height="89.2" fill="url(#stripe)" opacity="0.62"/>
<rect x="330.6" y="261.4" width="1.7" height="89.6" fill="url(#stripe)" opacity="0.64"/>
<rect x="334.5" y="256.3" width="1.7" height="94.7" fill="url(#stripe)" opacity="0.61"/>
<rect x="338.3" y="253.2" width="1.7" height="97.8" fill="url(#stripe)" opacity="0.66"/>
<rect x="342.1" y="252.6" width="1.8" height="98.4" fill="url(#stripe)" opacity="0.62"/>
<rect x="346.0" y="253.9" width="1.8" height="97.1" fill="url(#stripe)" opacity="0.65"/>
<rect x="349.9" y="255.0" width="1.8" height="96.0" fill="url(#stripe)" opacity="0.66"/>
<rect x="353.9" y="251.4" width="1.8" height="99.6" fill="url(#stripe)" opacity="0.68"/>
<rect x="357.8" y="252.2" width="1.8" height="98.8" fill="url(#stripe)" opacity="0.73"/>
<rect x="361.8" y="251.2" width="1.8" height="99.8" fill="url(#stripe)" opacity="0.80"/>
<rect x="365.8" y="256.8" width="1.8" height="94.2" fill="url(#stripe)" opacity="0.75"/>
<rect x="369.8" y="253.0" width="1.8" height="98.0" fill="url(#stripe)" opacity="0.79"/>
<rect x="373.8" y="253.9" width="1.8" height="97.1" fill="url(#stripe)" opacity="0.79"/>
<rect x="377.9" y="258.5" width="1.8" height="92.5" fill="url(#stripe)" opacity="0.89"/>
<rect x="382.0" y="254.5" width="1.9" height="96.5" fill="url(#stripe)" opacity="0.87"/>
<rect x="386.1" y="250.5" width="1.9" height="100.5" fill="url(#stripe)" opacity="0.85"/>
<rect x="390.2" y="252.8" width="1.9" height="98.2" fill="url(#stripe)" opacity="0.89"/>
<rect x="394.4" y="257.4" width="1.9" height="93.6" fill="url(#stripe)" opacity="0.90"/>
<path d="M143,329 C170,327 220,325 300,323 L398,321 L398,351 L143,350.5 C137,350.5 136.5,343 139,340 L141.5,337 Z" fill="url(#band)"/>
<path d="M143,329 C170,327 220,325 300,323 L398,321 L398,351 L143,350.5 C137,350.5 136.5,343 139,340 L141.5,337 Z" fill="url(#bandL)"/>
<path d="M143,329 C170,327 220,325 300,323 L398,321 L398,351 L143,350.5 C137,350.5 136.5,343 139,340 L141.5,337 Z" fill="url(#redV)" mask="url(#redM)"/>
<rect x="141.0" y="328" width="0.8" height="22" fill="#f0b050" opacity="0.35"/>
<rect x="143.7" y="328" width="0.8" height="22" fill="#f0b050" opacity="0.35"/>
<rect x="146.4" y="328" width="0.8" height="22" fill="#f0b050" opacity="0.35"/>
<rect x="149.1" y="328" width="0.8" height="22" fill="#f0b050" opacity="0.35"/>
<rect x="151.9" y="328" width="0.8" height="22" fill="#f0b050" opacity="0.35"/>
<rect x="154.7" y="328" width="0.8" height="22" fill="#f0b050" opacity="0.35"/>
<rect x="157.4" y="328" width="0.8" height="22" fill="#f0b050" opacity="0.35"/>
<rect x="160.2" y="328" width="0.8" height="22" fill="#f0b050" opacity="0.35"/>
<rect x="163.0" y="328" width="0.8" height="22" fill="#f0b050" opacity="0.35"/>
<rect x="165.9" y="328" width="0.8" height="22" fill="#f0b050" opacity="0.35"/>
<rect x="168.7" y="328" width="0.8" height="22" fill="#f0b050" opacity="0.35"/>
<rect x="171.6" y="328" width="0.8" height="22" fill="#f0b050" opacity="0.35"/>
<rect x="174.5" y="328" width="0.8" height="22" fill="#f0b050" opacity="0.35"/>
<rect x="177.4" y="328" width="0.8" height="22" fill="#f0b050" opacity="0.35"/>
<rect x="180.3" y="328" width="0.8" height="22" fill="#f0b050" opacity="0.35"/>
<rect x="183.2" y="328" width="0.8" height="22" fill="#f0b050" opacity="0.35"/>
<rect x="186.2" y="328" width="0.8" height="22" fill="#f0b050" opacity="0.35"/>
<rect x="189.1" y="328" width="0.8" height="22" fill="#f0b050" opacity="0.35"/>
<rect x="192.1" y="328" width="0.8" height="22" fill="#f0b050" opacity="0.35"/>
<path d="M196.8,321.2 l0.4,0 l-1.2,29.8 l-0.4,0 z" fill="#07101c" opacity="0.23"/>
<path d="M199.8,321.1 l0.4,0 l-1.2,29.9 l-0.4,0 z" fill="#07101c" opacity="0.25"/>
<path d="M202.8,321.1 l0.4,0 l-1.2,29.9 l-0.4,0 z" fill="#07101c" opacity="0.26"/>
<path d="M205.9,321.0 l0.4,0 l-1.2,30.0 l-0.4,0 z" fill="#07101c" opacity="0.27"/>
<path d="M209.0,321.0 l0.4,0 l-1.2,30.0 l-0.4,0 z" fill="#07101c" opacity="0.28"/>
<path d="M212.1,320.9 l0.4,0 l-1.2,30.1 l-0.4,0 z" fill="#07101c" opacity="0.30"/>
<path d="M215.2,320.9 l0.4,0 l-1.2,30.1 l-0.4,0 z" fill="#07101c" opacity="0.31"/>
<path d="M218.3,320.8 l0.4,0 l-1.2,30.2 l-0.4,0 z" fill="#07101c" opacity="0.32"/>
<path d="M221.4,320.8 l0.4,0 l-1.2,30.2 l-0.4,0 z" fill="#07101c" opacity="0.34"/>
<rect x="220.7" y="351" width="1.2" height="5" fill="#3f7fc0" opacity="0.25"/>
<path d="M224.6,320.7 l0.4,0 l-1.2,30.3 l-0.4,0 z" fill="#07101c" opacity="0.35"/>
<rect x="223.9" y="351" width="1.2" height="5" fill="#3f7fc0" opacity="0.26"/>
<path d="M227.8,320.7 l0.4,0 l-1.2,30.3 l-0.4,0 z" fill="#07101c" opacity="0.37"/>
<rect x="227.1" y="351" width="1.2" height="5" fill="#3f7fc0" opacity="0.27"/>
<path d="M231.0,320.6 l0.4,0 l-1.2,30.4 l-0.4,0 z" fill="#07101c" opacity="0.38"/>
<rect x="230.3" y="351" width="1.2" height="5" fill="#3f7fc0" opacity="0.28"/>
<path d="M234.2,320.6 l0.4,0 l-1.2,30.4 l-0.4,0 z" fill="#07101c" opacity="0.39"/>
<rect x="233.5" y="351" width="1.2" height="5" fill="#3f7fc0" opacity="0.29"/>
<path d="M237.4,320.5 l0.4,0 l-1.2,30.5 l-0.4,0 z" fill="#07101c" opacity="0.41"/>
<rect x="236.7" y="351" width="1.2" height="5" fill="#3f7fc0" opacity="0.30"/>
<path d="M240.7,320.5 l0.4,0 l-1.2,30.5 l-0.4,0 z" fill="#07101c" opacity="0.42"/>
<rect x="240.0" y="351" width="1.2" height="5" fill="#3f7fc0" opacity="0.31"/>
<path d="M244.0,320.4 l0.5,0 l-1.2,30.6 l-0.5,0 z" fill="#07101c" opacity="0.44"/>
<rect x="243.3" y="351" width="1.2" height="5" fill="#3f7fc0" opacity="0.32"/>
<path d="M247.2,320.4 l0.5,0 l-1.2,30.6 l-0.5,0 z" fill="#07101c" opacity="0.45"/>
<rect x="246.5" y="351" width="1.2" height="5" fill="#3f7fc0" opacity="0.33"/>
<path d="M250.6,320.3 l0.5,0 l-1.2,30.7 l-0.5,0 z" fill="#07101c" opacity="0.46"/>
<rect x="249.9" y="351" width="1.2" height="5" fill="#3f7fc0" opacity="0.34"/>
<path d="M253.9,320.3 l0.5,0 l-1.2,30.7 l-0.5,0 z" fill="#07101c" opacity="0.48"/>
<rect x="253.2" y="351" width="1.2" height="5" fill="#3f7fc0" opacity="0.35"/>
<path d="M257.2,320.2 l0.6,0 l-1.2,30.8 l-0.6,0 z" fill="#07101c" opacity="0.49"/>
<rect x="256.5" y="351" width="1.2" height="5" fill="#3f7fc0" opacity="0.36"/>
<path d="M260.6,320.2 l0.6,0 l-1.2,30.8 l-0.6,0 z" fill="#07101c" opacity="0.51"/>
<rect x="259.9" y="351" width="1.2" height="5" fill="#3f7fc0" opacity="0.37"/>
<path d="M264.0,320.1 l0.6,0 l-1.2,30.9 l-0.6,0 z" fill="#07101c" opacity="0.52"/>
<rect x="263.3" y="351" width="1.2" height="5" fill="#3f7fc0" opacity="0.38"/>
<path d="M267.4,320.1 l0.6,0 l-1.2,30.9 l-0.6,0 z" fill="#07101c" opacity="0.54"/>
<rect x="266.7" y="351" width="1.2" height="5" fill="#3f7fc0" opacity="0.39"/>
<path d="M270.8,320.0 l0.6,0 l-1.2,31.0 l-0.6,0 z" fill="#07101c" opacity="0.55"/>
<rect x="270.1" y="351" width="1.2" height="5" fill="#3f7fc0" opacity="0.40"/>
<path d="M274.3,319.9 l0.7,0 l-1.2,31.1 l-0.7,0 z" fill="#07101c" opacity="0.57"/>
<rect x="273.6" y="351" width="1.2" height="5" fill="#3f7fc0" opacity="0.41"/>
<path d="M277.8,319.9 l0.7,0 l-1.2,31.1 l-0.7,0 z" fill="#07101c" opacity="0.58"/>
<rect x="277.1" y="351" width="1.2" height="5" fill="#3f7fc0" opacity="0.42"/>
<path d="M281.3,319.8 l0.7,0 l-1.2,31.2 l-0.7,0 z" fill="#07101c" opacity="0.60"/>
<rect x="280.6" y="351" width="1.2" height="5" fill="#3f7fc0" opacity="0.43"/>
<path d="M284.8,319.8 l0.8,0 l-1.2,31.2 l-0.8,0 z" fill="#07101c" opacity="0.61"/>
<rect x="284.1" y="351" width="1.2" height="5" fill="#3f7fc0" opacity="0.44"/>
<path d="M288.3,319.7 l0.8,0 l-1.2,31.3 l-0.8,0 z" fill="#07101c" opacity="0.63"/>
<rect x="287.6" y="351" width="1.2" height="5" fill="#3f7fc0" opacity="0.46"/>
<path d="M291.9,319.7 l0.8,0 l-1.2,31.3 l-0.8,0 z" fill="#07101c" opacity="0.64"/>
<rect x="291.2" y="351" width="1.2" height="5" fill="#3f7fc0" opacity="0.47"/>
<path d="M295.4,319.6 l0.8,0 l-1.2,31.4 l-0.8,0 z" fill="#07101c" opacity="0.66"/>
<rect x="294.7" y="351" width="1.2" height="5" fill="#3f7fc0" opacity="0.48"/>
<path d="M299.0,319.6 l0.9,0 l-1.2,31.4 l-0.9,0 z" fill="#07101c" opacity="0.67"/>
<rect x="298.3" y="351" width="1.2" height="5" fill="#3f7fc0" opacity="0.49"/>
<path d="M302.6,319.5 l0.9,0 l-1.2,31.5 l-0.9,0 z" fill="#07101c" opacity="0.69"/>
<rect x="301.9" y="351" width="1.2" height="5" fill="#3f7fc0" opacity="0.50"/>
<path d="M306.3,319.4 l0.9,0 l-1.2,31.6 l-0.9,0 z" fill="#07101c" opacity="0.70"/>
<rect x="305.6" y="351" width="1.2" height="5" fill="#3f7fc0" opacity="0.51"/>
<path d="M309.9,319.4 l1.0,0 l-1.2,31.6 l-1.0,0 z" fill="#07101c" opacity="0.72"/>
<rect x="309.2" y="351" width="1.2" height="5" fill="#3f7fc0" opacity="0.52"/>
<path d="M313.6,319.3 l1.0,0 l-1.2,31.7 l-1.0,0 z" fill="#07101c" opacity="0.73"/>
<rect x="312.9" y="351" width="1.2" height="5" fill="#3f7fc0" opacity="0.53"/>
<path d="M317.3,319.3 l1.0,0 l-1.2,31.7 l-1.0,0 z" fill="#07101c" opacity="0.75"/>
<rect x="316.6" y="351" width="1.2" height="5" fill="#3f7fc0" opacity="0.55"/>
<path d="M321.0,319.2 l1.0,0 l-1.2,31.8 l-1.0,0 z" fill="#07101c" opacity="0.77"/>
<rect x="320.3" y="351" width="1.2" height="5" fill="#3f7fc0" opacity="0.56"/>
<path d="M324.8,319.2 l1.1,0 l-1.2,31.8 l-1.1,0 z" fill="#07101c" opacity="0.78"/>
<rect x="324.1" y="351" width="1.2" height="5" fill="#3f7fc0" opacity="0.57"/>
<path d="M328.6,319.1 l1.1,0 l-1.2,31.9 l-1.1,0 z" fill="#07101c" opacity="0.80"/>
<rect x="327.9" y="351" width="1.2" height="5" fill="#3f7fc0" opacity="0.58"/>
<path d="M332.3,319.0 l1.1,0 l-1.2,32.0 l-1.1,0 z" fill="#07101c" opacity="0.81"/>
<rect x="331.6" y="351" width="1.2" height="5" fill="#3f7fc0" opacity="0.59"/>
<path d="M336.2,319.0 l1.2,0 l-1.2,32.0 l-1.2,0 z" fill="#07101c" opacity="0.83"/>
<rect x="335.5" y="351" width="1.2" height="5" fill="#3f7fc0" opacity="0.60"/>
<path d="M340.0,318.9 l1.2,0 l-1.2,32.1 l-1.2,0 z" fill="#07101c" opacity="0.85"/>
<rect x="339.3" y="351" width="1.2" height="5" fill="#3f7fc0" opacity="0.62"/>
<path d="M343.8,318.9 l1.3,0 l-1.2,32.1 l-1.3,0 z" fill="#07101c" opacity="0.86"/>
<rect x="343.1" y="351" width="1.2" height="5" fill="#3f7fc0" opacity="0.63"/>
<path d="M347.7,318.8 l1.3,0 l-1.2,32.2 l-1.3,0 z" fill="#07101c" opacity="0.88"/>
<rect x="347.0" y="351" width="1.2" height="5" fill="#3f7fc0" opacity="0.64"/>
<path d="M351.6,318.7 l1.3,0 l-1.2,32.3 l-1.3,0 z" fill="#07101c" opacity="0.90"/>
<rect x="350.9" y="351" width="1.2" height="5" fill="#3f7fc0" opacity="0.65"/>
<path d="M355.6,318.7 l1.4,0 l-1.2,32.3 l-1.4,0 z" fill="#07101c" opacity="0.90"/>
<rect x="354.9" y="351" width="1.2" height="5" fill="#3f7fc0" opacity="0.67"/>
<path d="M359.5,318.6 l1.4,0 l-1.2,32.4 l-1.4,0 z" fill="#07101c" opacity="0.90"/>
<rect x="358.8" y="351" width="1.2" height="5" fill="#3f7fc0" opacity="0.68"/>
<path d="M363.5,318.6 l1.4,0 l-1.2,32.4 l-1.4,0 z" fill="#07101c" opacity="0.90"/>
<rect x="362.8" y="351" width="1.2" height="5" fill="#3f7fc0" opacity="0.69"/>
<path d="M367.5,318.5 l1.5,0 l-1.2,32.5 l-1.5,0 z" fill="#07101c" opacity="0.90"/>
<rect x="366.8" y="351" width="1.2" height="5" fill="#3f7fc0" opacity="0.70"/>
<path d="M371.5,318.4 l1.5,0 l-1.2,32.6 l-1.5,0 z" fill="#07101c" opacity="0.90"/>
<rect x="370.8" y="351" width="1.2" height="5" fill="#3f7fc0" opacity="0.71"/>
<path d="M375.5,318.4 l1.6,0 l-1.2,32.6 l-1.6,0 z" fill="#07101c" opacity="0.90"/>
<rect x="374.8" y="351" width="1.2" height="5" fill="#3f7fc0" opacity="0.73"/>
<path d="M379.6,318.3 l1.6,0 l-1.2,32.7 l-1.6,0 z" fill="#07101c" opacity="0.90"/>
<rect x="378.9" y="351" width="1.2" height="5" fill="#3f7fc0" opacity="0.74"/>
<path d="M383.7,318.2 l1.7,0 l-1.2,32.8 l-1.7,0 z" fill="#07101c" opacity="0.90"/>
<rect x="383.0" y="351" width="1.2" height="5" fill="#3f7fc0" opacity="0.75"/>
<path d="M387.8,318.2 l1.7,0 l-1.2,32.8 l-1.7,0 z" fill="#07101c" opacity="0.90"/>
<rect x="387.1" y="351" width="1.2" height="5" fill="#3f7fc0" opacity="0.77"/>
<path d="M391.9,318.1 l1.7,0 l-1.2,32.9 l-1.7,0 z" fill="#07101c" opacity="0.90"/>
<rect x="391.2" y="351" width="1.2" height="5" fill="#3f7fc0" opacity="0.78"/>
<path d="M396.1,318.0 l1.8,0 l-1.2,33.0 l-1.8,0 z" fill="#07101c" opacity="0.90"/>
<rect x="395.4" y="351" width="1.2" height="5" fill="#3f7fc0" opacity="0.79"/>
</g></g>
<text x="29.65" y="258.40" font-size="16.5" fill="#000" font-weight="normal" font-style="normal">125</text>
<text x="48.27" y="360.30" font-size="16.5" fill="#000" font-weight="normal" font-style="normal">0</text>
<text x="34.95" y="328.77" font-size="17" fill="#000" font-weight="normal" font-style="normal" transform="rotate(-90 34.95 328.77)">Freq</text>
<text x="54.70" y="328.40" font-size="16.5" fill="#000" font-weight="normal" font-style="normal" transform="rotate(-90 54.70 328.40)">(kHz)</text>
<path fill="#aaaaaa" d="M71.62 408.6h1v7.4h-1zM137.32 408.6h1v7.4h-1zM160.33 408.6h1v7.4h-1zM202.17 408.6h1.5v7.4h-1.5zM315.42 408.6h1v7.4h-1zM372.43 418.2h1.5v7.4h-1.5zM411.88 418.2h1v7.4h-1zM73.17 427.8h2v7.4h-2zM131.06 437.4h1v7.4h-1zM420.3 437.4h2v7.4h-2zM71.94 447h2v7.4h-2zM149.01 447h1v7.4h-1zM208.21 447h2v7.4h-2zM249.57 447h1v7.4h-1zM256.95 447h1v7.4h-1zM297.29 447h1v7.4h-1zM321 447h1.5v7.4h-1.5zM369.56 447h1v7.4h-1zM379.38 447h2v7.4h-2zM401.91 447h2v7.4h-2zM416.53 447h1v7.4h-1zM75.83 456.6h2v7.4h-2zM197.73 456.6h1v7.4h-1zM228.89 456.6h1.5v7.4h-1.5zM270.24 456.6h1v7.4h-1zM314.22 456.6h2v7.4h-2zM341.23 456.6h2v7.4h-2zM314.03 466.2h1v7.4h-1zM361.52 466.2h2v7.4h-2zM84.47 475.8h1.5v7.4h-1.5zM112.82 475.8h1.5v7.4h-1.5zM119.96 475.8h1v7.4h-1zM260.05 475.8h1v7.4h-1zM261.67 475.8h2v7.4h-2zM364.19 475.8h1v7.4h-1zM115.75 485.4h1v7.4h-1zM234.18 495h1.5v7.4h-1.5zM242.72 495h2v7.4h-2zM119.61 504.6h1v7.4h-1zM160.84 504.6h1.5v7.4h-1.5zM252.5 504.6h1v7.4h-1zM304.61 504.6h1v7.4h-1zM311.1 504.6h1v7.4h-1zM420.27 504.6h1v7.4h-1zM172.17 514.2h1v7.4h-1zM277.94 514.2h1v7.4h-1zM290.12 514.2h1v7.4h-1zM396.93 514.2h1v7.4h-1zM65.5 523.8h1v7.4h-1zM133.26 523.8h1v7.4h-1zM222.6 523.8h1v7.4h-1zM248.73 523.8h1v7.4h-1zM258.41 523.8h1v7.4h-1zM380 523.8h1v7.4h-1zM145.19 533.4h1v7.4h-1zM250.91 533.4h1v7.4h-1zM308.22 533.4h1.5v7.4h-1.5zM318.11 533.4h1v7.4h-1zM330.29 533.4h2v7.4h-2zM107.9 543h1.5v7.4h-1.5zM198.18 543h1.5v7.4h-1.5zM210.8 543h1v7.4h-1zM300.29 543h2v7.4h-2zM350.06 543h1v7.4h-1zM361.92 543h2v7.4h-2zM65.5 562.2h1v7.4h-1zM76.54 562.2h1.5v7.4h-1.5zM101.11 562.2h1v7.4h-1zM181.49 562.2h1v7.4h-1zM187.67 562.2h1v7.4h-1zM214.7 562.2h1v7.4h-1zM294.52 562.2h1v7.4h-1zM358.22 562.2h2v7.4h-2zM367.77 562.2h1.5v7.4h-1.5zM187.84 571.8h1v7.4h-1zM231.65 571.8h1.5v7.4h-1.5zM281.52 571.8h1v7.4h-1zM74.52 581.4h1v7.4h-1zM107.23 581.4h1v7.4h-1zM267.52 581.4h1v7.4h-1zM325.93 581.4h2v7.4h-2zM337.79 581.4h2v7.4h-2zM67.7 591h1.5v7.4h-1.5zM109.43 591h1v7.4h-1zM129.01 591h2v7.4h-2zM134.09 591h1.5v7.4h-1.5zM161.32 591h2v7.4h-2zM186.59 591h2v7.4h-2zM300.94 591h1v7.4h-1zM365.48 591h1v7.4h-1zM383.36 591h1v7.4h-1zM388.69 591h1.5v7.4h-1.5zM277.57 600.6h1v7.4h-1zM366.03 600.6h1v7.4h-1zM124.84 610.2h1.5v7.4h-1.5zM208.16 610.2h2v7.4h-2zM285.46 610.2h1v7.4h-1zM332.82 610.2h1v7.4h-1zM369.4 610.2h2v7.4h-2zM231.47 619.8h1v7.4h-1zM257.32 619.8h1v7.4h-1zM332.81 619.8h1.5v7.4h-1.5z"/>
<path fill="#808080" d="M80.52 408.6h1v7.4h-1zM181.44 408.6h2v7.4h-2zM184.42 408.6h1v7.4h-1zM212.36 408.6h1v7.4h-1zM213.78 408.6h1.5v7.4h-1.5zM257.78 408.6h2v7.4h-2zM263.56 408.6h1.5v7.4h-1.5zM266.37 408.6h2v7.4h-2zM292.15 408.6h1v7.4h-1zM319.75 408.6h1.5v7.4h-1.5zM127.14 418.2h2v7.4h-2zM153.41 418.2h1.5v7.4h-1.5zM302.78 418.2h1v7.4h-1zM327.39 418.2h1v7.4h-1zM71.67 427.8h1v7.4h-1zM116.33 427.8h2v7.4h-2zM154.36 427.8h1v7.4h-1zM328.64 427.8h1v7.4h-1zM306.13 437.4h1.5v7.4h-1.5zM351.79 437.4h1v7.4h-1zM65.5 447h1v7.4h-1zM134.71 447h1v7.4h-1zM146.3 447h2v7.4h-2zM194.13 447h1.5v7.4h-1.5zM251.05 447h2v7.4h-2zM261.76 447h1.5v7.4h-1.5zM280.27 447h1v7.4h-1zM284.46 447h1v7.4h-1zM323.8 447h1.5v7.4h-1.5zM329.51 447h1.5v7.4h-1.5zM332.09 447h1v7.4h-1zM339.86 447h1v7.4h-1zM351.01 447h1v7.4h-1zM360.19 447h2v7.4h-2zM124.45 456.6h1.5v7.4h-1.5zM162.85 456.6h2v7.4h-2zM180.7 456.6h1v7.4h-1zM184.79 456.6h1.5v7.4h-1.5zM192.96 456.6h1v7.4h-1zM241.29 456.6h1v7.4h-1zM272.37 456.6h2v7.4h-2zM298.18 456.6h1.5v7.4h-1.5zM302.33 456.6h1v7.4h-1zM312.21 456.6h1v7.4h-1zM390.47 456.6h1v7.4h-1zM65.5 466.2h1.5v7.4h-1.5zM90.53 466.2h1.5v7.4h-1.5zM93.41 466.2h1v7.4h-1zM131.43 466.2h1v7.4h-1zM240.78 466.2h1v7.4h-1zM257.53 466.2h1v7.4h-1zM259.54 466.2h1v7.4h-1zM350.06 466.2h1v7.4h-1zM405.88 466.2h2v7.4h-2zM125.81 475.8h1v7.4h-1zM249.49 475.8h1.5v7.4h-1.5zM276.28 475.8h1.5v7.4h-1.5zM280.56 475.8h1v7.4h-1zM288.35 475.8h1.5v7.4h-1.5zM290.32 475.8h1v7.4h-1zM311.47 475.8h1v7.4h-1zM317 475.8h1.5v7.4h-1.5zM324.94 475.8h1v7.4h-1zM374.2 475.8h1v7.4h-1zM70.37 485.4h1v7.4h-1zM77.1 485.4h1.5v7.4h-1.5zM137.77 485.4h1.5v7.4h-1.5zM139.78 485.4h1.5v7.4h-1.5zM157.58 485.4h2v7.4h-2zM222.15 485.4h1v7.4h-1zM233.8 485.4h1v7.4h-1zM390.6 485.4h1.5v7.4h-1.5zM402.59 485.4h1v7.4h-1zM68.81 504.6h1.5v7.4h-1.5zM73.42 504.6h1v7.4h-1zM77.72 504.6h1v7.4h-1zM108.78 504.6h1v7.4h-1zM132.25 504.6h1v7.4h-1zM144.55 504.6h1.5v7.4h-1.5zM146.88 504.6h2v7.4h-2zM151.85 504.6h1v7.4h-1zM210.96 504.6h1v7.4h-1zM221.5 504.6h1v7.4h-1zM244.31 504.6h1v7.4h-1zM276.73 504.6h1v7.4h-1zM278.82 504.6h1v7.4h-1zM306.67 504.6h1v7.4h-1zM316.25 504.6h1v7.4h-1zM332.84 504.6h2v7.4h-2zM341.03 504.6h2v7.4h-2zM385.1 504.6h1v7.4h-1zM406.55 504.6h1v7.4h-1zM189.09 514.2h2v7.4h-2zM204.7 514.2h1v7.4h-1zM214.01 514.2h1v7.4h-1zM225.52 514.2h1.5v7.4h-1.5zM368.22 514.2h1v7.4h-1zM412.34 514.2h2v7.4h-2zM136.34 523.8h1v7.4h-1zM154.8 523.8h2v7.4h-2zM245.73 523.8h2v7.4h-2zM264.29 523.8h1v7.4h-1zM306.1 523.8h1v7.4h-1zM309.93 523.8h1v7.4h-1zM68.64 533.4h1.5v7.4h-1.5zM76.97 533.4h1.5v7.4h-1.5zM114.11 533.4h1v7.4h-1zM139.97 533.4h2v7.4h-2zM256.65 533.4h1v7.4h-1zM281.63 533.4h1v7.4h-1zM312.36 533.4h1.5v7.4h-1.5zM357.77 533.4h1v7.4h-1zM359.89 533.4h1v7.4h-1zM367.19 533.4h1v7.4h-1zM130.51 543h1v7.4h-1zM159.73 543h1v7.4h-1zM167.93 543h1v7.4h-1zM185.58 543h1v7.4h-1zM250.64 543h1v7.4h-1zM268.08 543h1v7.4h-1zM285.91 543h1.5v7.4h-1.5zM312.63 543h1v7.4h-1zM372.52 543h1v7.4h-1zM374.72 543h1v7.4h-1zM407.2 543h1v7.4h-1zM208.23 552.6h1v7.4h-1zM376.98 552.6h1v7.4h-1zM106.34 562.2h1v7.4h-1zM120.88 562.2h2v7.4h-2zM139.17 562.2h2v7.4h-2zM183.22 562.2h1v7.4h-1zM217.21 562.2h1v7.4h-1zM262.27 562.2h2v7.4h-2zM361.79 562.2h1v7.4h-1zM373.83 562.2h1v7.4h-1zM407.24 562.2h1v7.4h-1zM70.91 571.8h1v7.4h-1zM75.23 571.8h1v7.4h-1zM174.28 571.8h1v7.4h-1zM270.6 571.8h1v7.4h-1zM80.72 581.4h1v7.4h-1zM110.11 581.4h1v7.4h-1zM128.06 581.4h2v7.4h-2zM164.53 581.4h1v7.4h-1zM189.65 581.4h1v7.4h-1zM246.2 581.4h1v7.4h-1zM263.45 581.4h1v7.4h-1zM375.7 581.4h1v7.4h-1zM380.61 581.4h2v7.4h-2zM65.5 591h1v7.4h-1zM102.1 591h1v7.4h-1zM107.46 591h1.5v7.4h-1.5zM153.61 591h1v7.4h-1zM170.15 591h1v7.4h-1zM200.84 591h1v7.4h-1zM208.48 591h1v7.4h-1zM242.71 591h1v7.4h-1zM253.68 591h1v7.4h-1zM258.28 591h1.5v7.4h-1.5zM312.69 591h1v7.4h-1zM335.64 591h1v7.4h-1zM351.25 591h1.5v7.4h-1.5zM357.98 591h1v7.4h-1zM410.77 591h1v7.4h-1zM146.9 600.6h1v7.4h-1zM69.39 610.2h1v7.4h-1zM74.09 610.2h1v7.4h-1zM212.78 610.2h1v7.4h-1zM299.45 610.2h1v7.4h-1zM322.71 610.2h2v7.4h-2zM92.3 619.8h2v7.4h-2zM138.42 619.8h2v7.4h-2zM163.87 619.8h2v7.4h-2zM340.97 619.8h1v7.4h-1zM401.88 619.8h1.5v7.4h-1.5z"/>
<path fill="#2a2a2a" d="M100.54 408.6h1v7.4h-1zM109.46 408.6h1.5v7.4h-1.5zM156.34 408.6h1v7.4h-1zM166.3 408.6h1.5v7.4h-1.5zM175.44 408.6h1v7.4h-1zM186.92 408.6h1v7.4h-1zM191.19 408.6h1.5v7.4h-1.5zM194.87 408.6h1v7.4h-1zM219.37 408.6h2v7.4h-2zM234.51 408.6h1.5v7.4h-1.5zM247.92 408.6h1.5v7.4h-1.5zM254.23 408.6h1v7.4h-1zM260.35 408.6h2v7.4h-2zM274.15 408.6h1v7.4h-1zM289.15 408.6h1.5v7.4h-1.5zM324.09 408.6h2v7.4h-2zM327.65 408.6h2v7.4h-2zM374.73 408.6h1v7.4h-1zM112.05 418.2h1v7.4h-1zM189.99 418.2h1v7.4h-1zM221.88 418.2h1v7.4h-1zM258.57 418.2h1v7.4h-1zM290.09 418.2h1.5v7.4h-1.5zM318.62 418.2h2v7.4h-2zM347.64 418.2h1v7.4h-1zM366.75 418.2h2v7.4h-2zM65.5 427.8h2.24v7.4h-2.24zM68.7 427.8h1.79v7.4h-1.79zM75.58 427.8h2.84v7.4h-2.84zM102.76 427.8h3.63v7.4h-3.63zM123.75 427.8h3.13v7.4h-3.13zM127.33 427.8h2.74v7.4h-2.74zM142.55 427.8h1.73v7.4h-1.73zM146.86 427.8h3.94v7.4h-3.94zM151.16 427.8h2.07v7.4h-2.07zM162.13 427.8h3.51v7.4h-3.51zM166.12 427.8h3.4v7.4h-3.4zM170.11 427.8h1.95v7.4h-1.95zM174.49 427.8h2.78v7.4h-2.78zM180.68 427.8h1.84v7.4h-1.84zM193.22 427.8h3.24v7.4h-3.24zM197.11 427.8h2.63v7.4h-2.63zM200.8 427.8h2.84v7.4h-2.84zM214.14 427.8h3.46v7.4h-3.46zM218.55 427.8h2.73v7.4h-2.73zM226.77 427.8h3.42v7.4h-3.42zM231.05 427.8h2.7v7.4h-2.7zM240.8 427.8h2.31v7.4h-2.31zM243.14 427.8h3.73v7.4h-3.73zM247.19 427.8h1.97v7.4h-1.97zM252.38 427.8h1.67v7.4h-1.67zM256.58 427.8h1.55v7.4h-1.55zM258.46 427.8h2.05v7.4h-2.05zM273.67 427.8h2.33v7.4h-2.33zM276.96 427.8h2.54v7.4h-2.54zM280.3 427.8h3.12v7.4h-3.12zM288.91 427.8h3.62v7.4h-3.62zM293.35 427.8h2.36v7.4h-2.36zM296.6 427.8h2.13v7.4h-2.13zM303.97 427.8h2v7.4h-2zM306.32 427.8h3.93v7.4h-3.93zM311.09 427.8h3.82v7.4h-3.82zM318.28 427.8h1v7.4h-1zM319.82 427.8h1.57v7.4h-1.57zM325.25 427.8h2.48v7.4h-2.48zM336.99 427.8h2.07v7.4h-2.07zM350.25 427.8h2.88v7.4h-2.88zM378.43 427.8h2v7.4h-2zM390.09 427.8h1.83v7.4h-1.83zM392.16 427.8h1.89v7.4h-1.89zM399.53 427.8h2.3v7.4h-2.3zM110.97 437.4h1v7.4h-1zM115.31 437.4h1v7.4h-1zM188.62 437.4h1.5v7.4h-1.5zM195.76 437.4h2v7.4h-2zM296.46 437.4h1v7.4h-1zM315.21 437.4h1v7.4h-1zM324.79 437.4h1v7.4h-1zM339.07 437.4h1v7.4h-1zM347.63 437.4h1.5v7.4h-1.5zM74.65 447h1v7.4h-1zM80.5 447h2v7.4h-2zM86.53 447h1v7.4h-1zM89.12 447h1v7.4h-1zM97.78 447h1v7.4h-1zM107.99 447h1v7.4h-1zM123.44 447h1v7.4h-1zM129.86 447h1v7.4h-1zM142.05 447h1v7.4h-1zM144.26 447h1v7.4h-1zM157.47 447h1.5v7.4h-1.5zM172.8 447h1v7.4h-1zM185.42 447h2v7.4h-2zM190.94 447h2v7.4h-2zM211.39 447h1.5v7.4h-1.5zM216.59 447h1.5v7.4h-1.5zM219.6 447h2v7.4h-2zM222.77 447h1.5v7.4h-1.5zM224.75 447h1v7.4h-1zM226.61 447h2v7.4h-2zM230.2 447h1v7.4h-1zM232.12 447h1.5v7.4h-1.5zM239.62 447h1v7.4h-1zM241.4 447h1v7.4h-1zM243.73 447h1v7.4h-1zM290.74 447h1v7.4h-1zM308.07 447h1.5v7.4h-1.5zM310.93 447h1v7.4h-1zM313.12 447h1.5v7.4h-1.5zM315.74 447h2v7.4h-2zM326.71 447h2v7.4h-2zM335.91 447h1v7.4h-1zM341.35 447h1v7.4h-1zM345.26 447h1.5v7.4h-1.5zM349.58 447h1v7.4h-1zM354.73 447h1v7.4h-1zM383.6 447h1v7.4h-1zM390.45 447h1v7.4h-1zM396.55 447h1.5v7.4h-1.5zM398.98 447h1v7.4h-1zM413.51 447h2v7.4h-2zM419.04 447h1.5v7.4h-1.5zM69.05 456.6h1.5v7.4h-1.5zM81.11 456.6h1v7.4h-1zM87.6 456.6h1v7.4h-1zM93.28 456.6h1v7.4h-1zM104.59 456.6h1.5v7.4h-1.5zM106.79 456.6h1v7.4h-1zM123 456.6h1v7.4h-1zM138.98 456.6h1v7.4h-1zM150.88 456.6h1v7.4h-1zM154.52 456.6h1.5v7.4h-1.5zM166.04 456.6h2v7.4h-2zM169.16 456.6h1.5v7.4h-1.5zM174.52 456.6h2v7.4h-2zM182.38 456.6h1.5v7.4h-1.5zM202.92 456.6h1v7.4h-1zM204.73 456.6h1v7.4h-1zM210.55 456.6h1.5v7.4h-1.5zM213.54 456.6h1v7.4h-1zM233.79 456.6h1v7.4h-1zM237.87 456.6h1v7.4h-1zM252.87 456.6h1v7.4h-1zM264.55 456.6h1v7.4h-1zM268.55 456.6h1v7.4h-1zM281.18 456.6h1v7.4h-1zM285.77 456.6h1v7.4h-1zM304.4 456.6h2v7.4h-2zM321.75 456.6h2v7.4h-2zM387.66 456.6h2v7.4h-2zM405.67 456.6h1.5v7.4h-1.5zM407.63 456.6h1v7.4h-1zM410.75 456.6h1.5v7.4h-1.5zM412.92 456.6h1v7.4h-1zM77.07 466.2h2v7.4h-2zM114.79 466.2h1.5v7.4h-1.5zM122.16 466.2h1v7.4h-1zM123.87 466.2h1v7.4h-1zM127.99 466.2h1v7.4h-1zM132.97 466.2h1.5v7.4h-1.5zM137.83 466.2h2v7.4h-2zM143.08 466.2h1v7.4h-1zM148.96 466.2h1.5v7.4h-1.5zM154.29 466.2h1v7.4h-1zM166.05 466.2h1v7.4h-1zM169.21 466.2h1v7.4h-1zM199.7 466.2h1v7.4h-1zM263.31 466.2h1.5v7.4h-1.5zM274.39 466.2h1v7.4h-1zM281.11 466.2h1.5v7.4h-1.5zM309.94 466.2h1.5v7.4h-1.5zM327.29 466.2h1v7.4h-1zM332.17 466.2h1v7.4h-1zM335.72 466.2h1v7.4h-1zM377.1 466.2h2v7.4h-2zM380.2 466.2h1.5v7.4h-1.5zM382.37 466.2h1v7.4h-1zM388.13 466.2h2v7.4h-2zM74.65 475.8h2v7.4h-2zM101.1 475.8h1v7.4h-1zM102.69 475.8h1.5v7.4h-1.5zM110.02 475.8h2v7.4h-2zM121.38 475.8h1v7.4h-1zM123.9 475.8h1.5v7.4h-1.5zM185.96 475.8h1.5v7.4h-1.5zM195.07 475.8h2v7.4h-2zM236.88 475.8h1.5v7.4h-1.5zM240.87 475.8h1v7.4h-1zM245.74 475.8h2v7.4h-2zM264.51 475.8h2v7.4h-2zM274.65 475.8h1v7.4h-1zM278.37 475.8h1.5v7.4h-1.5zM282.28 475.8h1v7.4h-1zM295.67 475.8h1v7.4h-1zM305.51 475.8h1v7.4h-1zM313 475.8h1v7.4h-1zM318.95 475.8h1v7.4h-1zM320.73 475.8h1v7.4h-1zM322.6 475.8h1v7.4h-1zM330.36 475.8h1v7.4h-1zM336.66 475.8h2v7.4h-2zM352.48 475.8h1v7.4h-1zM379.56 475.8h1v7.4h-1zM405.88 475.8h1.5v7.4h-1.5zM413.72 475.8h1.5v7.4h-1.5zM418.22 475.8h1v7.4h-1zM87.16 485.4h1v7.4h-1zM107.73 485.4h2v7.4h-2zM110.28 485.4h1v7.4h-1zM126.59 485.4h2v7.4h-2zM165.36 485.4h1v7.4h-1zM171.44 485.4h1v7.4h-1zM224.45 485.4h1v7.4h-1zM236.18 485.4h2v7.4h-2zM251.26 485.4h1v7.4h-1zM258.85 485.4h1v7.4h-1zM272.69 485.4h1v7.4h-1zM301.78 485.4h1v7.4h-1zM306.07 485.4h1v7.4h-1zM369.13 485.4h1v7.4h-1zM372.67 485.4h1v7.4h-1zM395.64 485.4h1v7.4h-1zM397.23 485.4h1v7.4h-1zM399.24 485.4h2v7.4h-2zM406.02 485.4h2v7.4h-2zM408.62 485.4h1.5v7.4h-1.5zM103.68 495h2v7.4h-2zM108.56 495h1v7.4h-1zM124.86 495h1.5v7.4h-1.5zM141.7 495h1v7.4h-1zM195.23 495h1.5v7.4h-1.5zM81.27 504.6h1v7.4h-1zM83.59 504.6h1v7.4h-1zM85.7 504.6h1v7.4h-1zM91.44 504.6h1v7.4h-1zM117.03 504.6h1.5v7.4h-1.5zM123.02 504.6h1v7.4h-1zM126.71 504.6h2v7.4h-2zM138.69 504.6h1v7.4h-1zM143.08 504.6h1v7.4h-1zM153.66 504.6h1v7.4h-1zM156.09 504.6h1v7.4h-1zM158.47 504.6h1v7.4h-1zM163.6 504.6h1v7.4h-1zM183.57 504.6h1.5v7.4h-1.5zM186.48 504.6h2v7.4h-2zM209 504.6h1.5v7.4h-1.5zM219.24 504.6h1v7.4h-1zM225.85 504.6h2v7.4h-2zM229.39 504.6h2v7.4h-2zM237.79 504.6h1v7.4h-1zM249.06 504.6h1v7.4h-1zM255.79 504.6h1v7.4h-1zM281.08 504.6h1v7.4h-1zM283.41 504.6h1.5v7.4h-1.5zM292.44 504.6h1v7.4h-1zM298.38 504.6h1v7.4h-1zM300.26 504.6h1.5v7.4h-1.5zM302.18 504.6h1v7.4h-1zM312.52 504.6h1v7.4h-1zM326.12 504.6h1v7.4h-1zM337.86 504.6h1v7.4h-1zM351.35 504.6h2v7.4h-2zM360.76 504.6h2v7.4h-2zM370.11 504.6h2v7.4h-2zM379.81 504.6h2v7.4h-2zM396.04 504.6h1.5v7.4h-1.5zM412.75 504.6h1v7.4h-1zM415.1 504.6h1.5v7.4h-1.5zM121.55 514.2h1v7.4h-1zM138.24 514.2h1v7.4h-1zM139.81 514.2h1v7.4h-1zM168.68 514.2h2v7.4h-2zM174.17 514.2h1v7.4h-1zM175.96 514.2h1v7.4h-1zM209.45 514.2h1v7.4h-1zM216.11 514.2h1.5v7.4h-1.5zM273.96 514.2h1v7.4h-1zM279.55 514.2h1.5v7.4h-1.5zM311.74 514.2h2v7.4h-2zM327.22 514.2h1v7.4h-1zM340.23 514.2h1v7.4h-1zM342.72 514.2h2v7.4h-2zM382.46 514.2h1v7.4h-1zM388.67 514.2h1v7.4h-1zM415.33 514.2h1v7.4h-1zM93.27 523.8h1v7.4h-1zM101.64 523.8h2v7.4h-2zM120.07 523.8h1.5v7.4h-1.5zM149.97 523.8h1v7.4h-1zM175.37 523.8h1v7.4h-1zM196.57 523.8h2v7.4h-2zM228.66 523.8h1v7.4h-1zM233.19 523.8h2v7.4h-2zM251.2 523.8h2v7.4h-2zM262.62 523.8h1v7.4h-1zM266.01 523.8h2v7.4h-2zM288.99 523.8h1v7.4h-1zM323.64 523.8h1v7.4h-1zM335.3 523.8h1.5v7.4h-1.5zM338.69 523.8h1v7.4h-1zM342.79 523.8h2v7.4h-2zM349.71 523.8h1v7.4h-1zM362.02 523.8h1v7.4h-1zM376.71 523.8h2v7.4h-2zM389.91 523.8h1v7.4h-1zM391.6 523.8h2v7.4h-2zM394.85 523.8h1v7.4h-1zM399.57 523.8h1v7.4h-1zM401.41 523.8h1v7.4h-1zM413.83 523.8h1.5v7.4h-1.5zM71.66 533.4h1.5v7.4h-1.5zM92.08 533.4h2v7.4h-2zM101.38 533.4h1v7.4h-1zM109.1 533.4h1v7.4h-1zM116.57 533.4h1.5v7.4h-1.5zM129.89 533.4h1v7.4h-1zM137.69 533.4h1v7.4h-1zM147.11 533.4h1v7.4h-1zM149.15 533.4h1v7.4h-1zM151.22 533.4h1v7.4h-1zM179.93 533.4h1.5v7.4h-1.5zM187.93 533.4h1v7.4h-1zM191.89 533.4h1v7.4h-1zM196.16 533.4h2v7.4h-2zM211.4 533.4h1.5v7.4h-1.5zM230.49 533.4h1v7.4h-1zM240.88 533.4h2v7.4h-2zM245.62 533.4h1.5v7.4h-1.5zM249 533.4h1v7.4h-1zM253.2 533.4h1v7.4h-1zM259.22 533.4h1.5v7.4h-1.5zM268.39 533.4h1v7.4h-1zM286.6 533.4h1v7.4h-1zM290.92 533.4h1v7.4h-1zM303.56 533.4h2v7.4h-2zM306.59 533.4h1v7.4h-1zM323.39 533.4h1.5v7.4h-1.5zM336.64 533.4h2v7.4h-2zM362.02 533.4h1v7.4h-1zM365.06 533.4h1v7.4h-1zM376.2 533.4h1v7.4h-1zM391.96 533.4h1.5v7.4h-1.5zM413.44 533.4h2v7.4h-2zM71.61 543h2v7.4h-2zM75.02 543h1.5v7.4h-1.5zM84.69 543h1.5v7.4h-1.5zM102.54 543h2v7.4h-2zM180.4 543h1.5v7.4h-1.5zM183.47 543h1v7.4h-1zM189.6 543h1v7.4h-1zM230.59 543h2v7.4h-2zM238.94 543h1v7.4h-1zM248.65 543h1v7.4h-1zM256.43 543h2v7.4h-2zM309.79 543h1.5v7.4h-1.5zM329.31 543h1.5v7.4h-1.5zM336.51 543h1v7.4h-1zM338.43 543h1v7.4h-1zM345.74 543h1v7.4h-1zM352.33 543h1v7.4h-1zM359.6 543h1v7.4h-1zM385.09 543h1v7.4h-1zM404.01 543h2v7.4h-2zM414.59 543h2v7.4h-2zM417.94 543h1.5v7.4h-1.5zM88.8 552.6h1v7.4h-1zM419.39 552.6h1v7.4h-1zM67.7 562.2h1v7.4h-1zM73.73 562.2h2v7.4h-2zM86.73 562.2h1v7.4h-1zM102.92 562.2h1.5v7.4h-1.5zM111.23 562.2h1v7.4h-1zM142.7 562.2h1.5v7.4h-1.5zM150.25 562.2h2v7.4h-2zM170.77 562.2h1v7.4h-1zM172.46 562.2h1v7.4h-1zM178.49 562.2h2v7.4h-2zM204.55 562.2h2v7.4h-2zM219.33 562.2h1v7.4h-1zM221.54 562.2h1v7.4h-1zM224.5 562.2h1v7.4h-1zM229.69 562.2h1.5v7.4h-1.5zM235.74 562.2h1.5v7.4h-1.5zM245.16 562.2h1.5v7.4h-1.5zM253.41 562.2h2v7.4h-2zM256.81 562.2h2v7.4h-2zM259.89 562.2h1v7.4h-1zM268.3 562.2h2v7.4h-2zM273.76 562.2h1v7.4h-1zM280.15 562.2h1.5v7.4h-1.5zM292.57 562.2h1v7.4h-1zM328.89 562.2h1v7.4h-1zM339.04 562.2h1v7.4h-1zM370.42 562.2h1v7.4h-1zM372.01 562.2h1v7.4h-1zM375.37 562.2h2v7.4h-2zM392.04 562.2h1v7.4h-1zM419.68 562.2h1v7.4h-1zM65.5 571.8h1v7.4h-1zM108.19 571.8h1.5v7.4h-1.5zM118.02 571.8h1v7.4h-1zM139.95 571.8h1v7.4h-1zM185.45 571.8h1v7.4h-1zM194.84 571.8h1v7.4h-1zM233.7 571.8h1v7.4h-1zM238.31 571.8h2v7.4h-2zM296.48 571.8h1.5v7.4h-1.5zM305.55 571.8h2v7.4h-2zM339.58 571.8h1v7.4h-1zM341.86 571.8h1v7.4h-1zM65.5 581.4h1v7.4h-1zM69.73 581.4h1v7.4h-1zM116.07 581.4h1v7.4h-1zM119.97 581.4h1v7.4h-1zM163.08 581.4h1v7.4h-1zM172.35 581.4h1v7.4h-1zM174.43 581.4h1v7.4h-1zM181.66 581.4h1v7.4h-1zM194.99 581.4h1.5v7.4h-1.5zM200.85 581.4h1v7.4h-1zM207.35 581.4h1v7.4h-1zM210.97 581.4h2v7.4h-2zM269.85 581.4h2v7.4h-2zM276.99 581.4h1v7.4h-1zM383.79 581.4h1v7.4h-1zM393.04 581.4h1v7.4h-1zM394.8 581.4h1.5v7.4h-1.5zM409.09 581.4h1.5v7.4h-1.5zM70.79 591h2v7.4h-2zM89.62 591h1v7.4h-1zM95.48 591h2v7.4h-2zM103.57 591h1.5v7.4h-1.5zM114.97 591h1v7.4h-1zM120.82 591h1v7.4h-1zM126.05 591h2v7.4h-2zM151.82 591h1v7.4h-1zM155.48 591h1v7.4h-1zM167.12 591h1v7.4h-1zM173.36 591h1v7.4h-1zM174.83 591h1v7.4h-1zM191.43 591h2v7.4h-2zM197.79 591h2v7.4h-2zM216.81 591h1v7.4h-1zM256.01 591h1v7.4h-1zM282.63 591h1v7.4h-1zM314.39 591h1v7.4h-1zM323.64 591h1v7.4h-1zM329.22 591h1.5v7.4h-1.5zM338.15 591h2v7.4h-2zM370.03 591h1v7.4h-1zM371.74 591h2v7.4h-2zM391.16 591h1v7.4h-1zM395.71 591h1.5v7.4h-1.5zM402.96 591h1v7.4h-1zM412.41 591h1v7.4h-1zM417.38 591h2v7.4h-2zM65.5 600.6h3.09v7.4h-3.09zM76.37 600.6h3.45v7.4h-3.45zM98.04 600.6h2.9v7.4h-2.9zM101.81 600.6h2.1v7.4h-2.1zM104.12 600.6h2.23v7.4h-2.23zM110.32 600.6h3.04v7.4h-3.04zM118.3 600.6h1.75v7.4h-1.75zM121.03 600.6h2.59v7.4h-2.59zM123.78 600.6h3.58v7.4h-3.58zM132.57 600.6h2.18v7.4h-2.18zM138.11 600.6h2.93v7.4h-2.93zM141.47 600.6h2.24v7.4h-2.24zM160.17 600.6h2.86v7.4h-2.86zM164.9 600.6h2.7v7.4h-2.7zM167.79 600.6h2.17v7.4h-2.17zM181.47 600.6h1.7v7.4h-1.7zM184 600.6h3.68v7.4h-3.68zM188.46 600.6h3.72v7.4h-3.72zM209.53 600.6h2.88v7.4h-2.88zM215.71 600.6h1v7.4h-1zM217.71 600.6h2.51v7.4h-2.51zM221.19 600.6h2.21v7.4h-2.21zM223.92 600.6h3.06v7.4h-3.06zM232.75 600.6h1.61v7.4h-1.61zM237.18 600.6h3.78v7.4h-3.78zM241.66 600.6h3.35v7.4h-3.35zM248.41 600.6h2.85v7.4h-2.85zM262.09 600.6h3.15v7.4h-3.15zM269.26 600.6h3.84v7.4h-3.84zM273.7 600.6h3.62v7.4h-3.62zM279.72 600.6h2.42v7.4h-2.42zM283.3 600.6h1.88v7.4h-1.88zM296.52 600.6h2.35v7.4h-2.35zM302.42 600.6h1.78v7.4h-1.78zM316.79 600.6h2.53v7.4h-2.53zM320.13 600.6h2.09v7.4h-2.09zM328.03 600.6h3.32v7.4h-3.32zM331.93 600.6h1.94v7.4h-1.94zM334.55 600.6h3.96v7.4h-3.96zM339.36 600.6h2.65v7.4h-2.65zM346.06 600.6h1v7.4h-1zM354.2 600.6h2.05v7.4h-2.05zM363.22 600.6h1.83v7.4h-1.83zM367.45 600.6h3.03v7.4h-3.03zM371.13 600.6h3.5v7.4h-3.5zM378.12 600.6h2.94v7.4h-2.94zM381.19 600.6h1.98v7.4h-1.98zM383.3 600.6h2.38v7.4h-2.38zM389.97 600.6h1v7.4h-1zM391.82 600.6h2.02v7.4h-2.02zM396.84 600.6h1v7.4h-1zM399.05 600.6h2.16v7.4h-2.16zM409.31 600.6h1v7.4h-1zM411.87 600.6h3.17v7.4h-3.17zM418.03 600.6h2.12v7.4h-2.12zM87.82 610.2h1v7.4h-1zM96.31 610.2h1v7.4h-1zM103.76 610.2h1.5v7.4h-1.5zM111.86 610.2h2v7.4h-2zM153.08 610.2h1v7.4h-1zM169.73 610.2h1.5v7.4h-1.5zM210.71 610.2h1.5v7.4h-1.5zM258.72 610.2h1v7.4h-1zM281.76 610.2h1v7.4h-1zM283.36 610.2h1.5v7.4h-1.5zM288.72 610.2h1v7.4h-1zM314.04 610.2h1v7.4h-1zM367.81 610.2h1v7.4h-1zM383.43 610.2h1v7.4h-1zM388.15 610.2h2v7.4h-2zM98.2 619.8h1v7.4h-1zM121.19 619.8h1v7.4h-1zM125.9 619.8h1v7.4h-1zM167.6 619.8h1v7.4h-1zM169.02 619.8h1v7.4h-1zM194.83 619.8h1v7.4h-1zM219.28 619.8h1v7.4h-1zM235.19 619.8h1v7.4h-1zM253.98 619.8h1v7.4h-1zM287.46 619.8h2v7.4h-2zM294.99 619.8h1.5v7.4h-1.5zM320.28 619.8h1.5v7.4h-1.5zM355.06 619.8h1v7.4h-1z"/>
<path fill="#555555" d="M102.09 408.6h1v7.4h-1zM113.89 408.6h1v7.4h-1zM140.44 408.6h1v7.4h-1zM148.59 408.6h1v7.4h-1zM283.16 408.6h1v7.4h-1zM298.33 408.6h2v7.4h-2zM343.67 408.6h1v7.4h-1zM119.94 418.2h2v7.4h-2zM166.18 418.2h2v7.4h-2zM260.05 418.2h1v7.4h-1zM344.1 418.2h1.5v7.4h-1.5zM400.11 418.2h1v7.4h-1zM83.29 427.8h1.57v7.4h-1.57zM87.42 427.8h1.51v7.4h-1.51zM92.06 427.8h3.09v7.4h-3.09zM96.04 427.8h2.98v7.4h-2.98zM99.16 427.8h3.29v7.4h-3.29zM111.17 427.8h2v7.4h-2zM114.09 427.8h2.16v7.4h-2.16zM119.48 427.8h3.35v7.4h-3.35zM130.78 427.8h3.26v7.4h-3.26zM155.83 427.8h3.24v7.4h-3.24zM183.53 427.8h3.99v7.4h-3.99zM206.63 427.8h1.85v7.4h-1.85zM209.38 427.8h1.53v7.4h-1.53zM211.8 427.8h1.67v7.4h-1.67zM234.77 427.8h3.79v7.4h-3.79zM238.7 427.8h1v7.4h-1zM299.17 427.8h1.96v7.4h-1.96zM301.38 427.8h1.82v7.4h-1.82zM321.97 427.8h2.27v7.4h-2.27zM347.23 427.8h2.54v7.4h-2.54zM353.87 427.8h3.85v7.4h-3.85zM360.62 427.8h2.4v7.4h-2.4zM366.07 427.8h2.82v7.4h-2.82zM369.84 427.8h2.5v7.4h-2.5zM381.7 427.8h2.19v7.4h-2.19zM402.96 427.8h3.45v7.4h-3.45zM407.38 427.8h2.48v7.4h-2.48zM419.12 427.8h1.38v7.4h-1.38zM72.88 437.4h1v7.4h-1zM361.77 437.4h1v7.4h-1zM83.98 447h1v7.4h-1zM95.75 447h1v7.4h-1zM100.23 447h1v7.4h-1zM163.14 447h1v7.4h-1zM254.08 447h2v7.4h-2zM286.67 447h1v7.4h-1zM301.25 447h1v7.4h-1zM305.62 447h1v7.4h-1zM319 447h1.5v7.4h-1.5zM333.88 447h1v7.4h-1zM343.21 447h1v7.4h-1zM372 447h1v7.4h-1zM409.03 447h2v7.4h-2zM250.1 456.6h2v7.4h-2zM335.79 456.6h1v7.4h-1zM385.89 456.6h1v7.4h-1zM394.33 456.6h1v7.4h-1zM403.39 456.6h1.5v7.4h-1.5zM103.75 466.2h1.5v7.4h-1.5zM106.25 466.2h1.5v7.4h-1.5zM145.34 466.2h1v7.4h-1zM202.03 466.2h2v7.4h-2zM231.83 466.2h2v7.4h-2zM294.49 466.2h1v7.4h-1zM312.1 466.2h1v7.4h-1zM412.34 466.2h1v7.4h-1zM164.05 475.8h1v7.4h-1zM169.86 475.8h1v7.4h-1zM178.15 475.8h2v7.4h-2zM239.03 475.8h1v7.4h-1zM270.13 475.8h1v7.4h-1zM285.79 475.8h1v7.4h-1zM307.49 475.8h1.5v7.4h-1.5zM339.53 475.8h1.5v7.4h-1.5zM75.38 485.4h1v7.4h-1zM93.97 485.4h1v7.4h-1zM111.88 485.4h1v7.4h-1zM287.79 485.4h1v7.4h-1zM303.34 485.4h1v7.4h-1zM379.29 485.4h1.5v7.4h-1.5zM85.83 495h1v7.4h-1zM106.63 495h1.5v7.4h-1.5zM66.92 504.6h1v7.4h-1zM75.61 504.6h1v7.4h-1zM79.44 504.6h1v7.4h-1zM97.87 504.6h2v7.4h-2zM105.14 504.6h1v7.4h-1zM113.1 504.6h1.5v7.4h-1.5zM133.72 504.6h1v7.4h-1zM135.39 504.6h2v7.4h-2zM169.37 504.6h2v7.4h-2zM172.86 504.6h1v7.4h-1zM191.69 504.6h1v7.4h-1zM194.08 504.6h1v7.4h-1zM212.69 504.6h1v7.4h-1zM214.47 504.6h2v7.4h-2zM239.67 504.6h1v7.4h-1zM241.15 504.6h2v7.4h-2zM246.83 504.6h1v7.4h-1zM258.04 504.6h1.5v7.4h-1.5zM309.07 504.6h1v7.4h-1zM339.42 504.6h1v7.4h-1zM357.72 504.6h2v7.4h-2zM219.92 514.2h1.5v7.4h-1.5zM338.25 514.2h1v7.4h-1zM364.14 514.2h1v7.4h-1zM122.95 523.8h2v7.4h-2zM125.77 523.8h1v7.4h-1zM140.33 523.8h1v7.4h-1zM143.95 523.8h1v7.4h-1zM148.45 523.8h1v7.4h-1zM193.01 523.8h1v7.4h-1zM216.24 523.8h2v7.4h-2zM239.69 523.8h1v7.4h-1zM260.58 523.8h1v7.4h-1zM319.63 523.8h1v7.4h-1zM355.59 523.8h1v7.4h-1zM373.17 523.8h2v7.4h-2zM397.27 523.8h1v7.4h-1zM127.76 533.4h1v7.4h-1zM134.63 533.4h2v7.4h-2zM175.36 533.4h1v7.4h-1zM190.24 533.4h1v7.4h-1zM200.8 533.4h1v7.4h-1zM237.38 533.4h1v7.4h-1zM272.84 533.4h1.5v7.4h-1.5zM296.96 533.4h1v7.4h-1zM315.4 533.4h1.5v7.4h-1.5zM344.28 533.4h2v7.4h-2zM369.02 533.4h2v7.4h-2zM77.09 543h2v7.4h-2zM92.47 543h1.5v7.4h-1.5zM165.1 543h1.5v7.4h-1.5zM192.72 543h2v7.4h-2zM219.07 543h2v7.4h-2zM259.52 543h1.5v7.4h-1.5zM314.34 543h1v7.4h-1zM334 543h1v7.4h-1zM380.53 543h1.5v7.4h-1.5zM105.04 552.6h1.5v7.4h-1.5zM155.62 552.6h1v7.4h-1zM69.54 562.2h1v7.4h-1zM88.65 562.2h2v7.4h-2zM129.65 562.2h1v7.4h-1zM133.03 562.2h1v7.4h-1zM134.57 562.2h1v7.4h-1zM159.53 562.2h2v7.4h-2zM174.77 562.2h1v7.4h-1zM238.19 562.2h1v7.4h-1zM265.86 562.2h1.5v7.4h-1.5zM271.25 562.2h1v7.4h-1zM288.1 562.2h2v7.4h-2zM302.24 562.2h1v7.4h-1zM337.1 562.2h1v7.4h-1zM399.33 562.2h1v7.4h-1zM67.67 571.8h1v7.4h-1zM169.72 571.8h1v7.4h-1zM176.84 571.8h1.5v7.4h-1.5zM284.39 571.8h1v7.4h-1zM347.78 571.8h1.5v7.4h-1.5zM410.72 571.8h1.5v7.4h-1.5zM91.62 581.4h1v7.4h-1zM104.18 581.4h2v7.4h-2zM133.42 581.4h1v7.4h-1zM148.33 581.4h1v7.4h-1zM319.08 581.4h1.5v7.4h-1.5zM416.23 581.4h1v7.4h-1zM81.78 591h1v7.4h-1zM118.04 591h1.5v7.4h-1.5zM141.98 591h1v7.4h-1zM149.35 591h2v7.4h-2zM163.94 591h2v7.4h-2zM171.9 591h1v7.4h-1zM177.34 591h1v7.4h-1zM196.32 591h1v7.4h-1zM319.72 591h1v7.4h-1zM325.48 591h2v7.4h-2zM345.24 591h1.5v7.4h-1.5zM354.04 591h1v7.4h-1zM355.45 591h1v7.4h-1zM375.02 591h1v7.4h-1zM377.06 591h2v7.4h-2zM72.4 600.6h3.25v7.4h-3.25zM85.47 600.6h3.41v7.4h-3.41zM89.94 600.6h2.54v7.4h-2.54zM94.6 600.6h3.05v7.4h-3.05zM106.91 600.6h2.9v7.4h-2.9zM149.1 600.6h1.6v7.4h-1.6zM178.97 600.6h1v7.4h-1zM192.43 600.6h3.64v7.4h-3.64zM196.95 600.6h2.4v7.4h-2.4zM199.96 600.6h1.65v7.4h-1.65zM228.12 600.6h2.13v7.4h-2.13zM234.69 600.6h1.77v7.4h-1.77zM245.63 600.6h2.4v7.4h-2.4zM255.51 600.6h2.63v7.4h-2.63zM258.76 600.6h2.94v7.4h-2.94zM265.63 600.6h2.45v7.4h-2.45zM289.42 600.6h3.36v7.4h-3.36zM305.39 600.6h1v7.4h-1zM307.78 600.6h3.18v7.4h-3.18zM311.03 600.6h1v7.4h-1zM323.04 600.6h1.86v7.4h-1.86zM325.59 600.6h1.65v7.4h-1.65zM342.43 600.6h2.52v7.4h-2.52zM347.82 600.6h1.92v7.4h-1.92zM350.67 600.6h2.89v7.4h-2.89zM359.46 600.6h3.45v7.4h-3.45zM386.86 600.6h3.09v7.4h-3.09zM401.55 600.6h2.61v7.4h-2.61zM405.09 600.6h3.89v7.4h-3.89zM415.07 600.6h2.48v7.4h-2.48zM121.44 610.2h2v7.4h-2zM190.4 610.2h1v7.4h-1zM236.48 610.2h1.5v7.4h-1.5zM347.44 610.2h1v7.4h-1zM402.94 610.2h2v7.4h-2zM412.73 610.2h1v7.4h-1zM81.86 619.8h1v7.4h-1zM142.87 619.8h1v7.4h-1zM209.87 619.8h1v7.4h-1z"/>
<path fill="#000000" d="M120.3 408.6h2v7.4h-2zM172.94 408.6h2v7.4h-2zM225.49 408.6h1.5v7.4h-1.5zM276.24 408.6h2v7.4h-2zM317.88 408.6h1v7.4h-1zM347.59 408.6h1v7.4h-1zM420.17 408.6h1v7.4h-1zM103.74 418.2h1v7.4h-1zM157.79 418.2h1.5v7.4h-1.5zM241.09 418.2h1v7.4h-1zM317.12 418.2h1v7.4h-1zM335.18 418.2h2v7.4h-2zM388.69 418.2h2v7.4h-2zM413.34 418.2h1v7.4h-1zM79.11 427.8h3.97v7.4h-3.97zM89 427.8h2.71v7.4h-2.71zM106.7 427.8h3.93v7.4h-3.93zM134.2 427.8h3v7.4h-3zM138.09 427.8h3.96v7.4h-3.96zM159.78 427.8h1.5v7.4h-1.5zM178.05 427.8h1.76v7.4h-1.76zM190.91 427.8h1.82v7.4h-1.82zM203.8 427.8h2.39v7.4h-2.39zM222.4 427.8h3.26v7.4h-3.26zM249.89 427.8h2v7.4h-2zM254.59 427.8h1v7.4h-1zM261.62 427.8h3.41v7.4h-3.41zM268.22 427.8h1.76v7.4h-1.76zM270.95 427.8h2.49v7.4h-2.49zM315.23 427.8h1.85v7.4h-1.85zM330.22 427.8h2.72v7.4h-2.72zM333.33 427.8h2.91v7.4h-2.91zM339.5 427.8h1.63v7.4h-1.63zM342.2 427.8h3.99v7.4h-3.99zM358.91 427.8h1.57v7.4h-1.57zM363.39 427.8h1.53v7.4h-1.53zM373.33 427.8h3.96v7.4h-3.96zM384.65 427.8h2.28v7.4h-2.28zM387.71 427.8h2.16v7.4h-2.16zM394.27 427.8h2.5v7.4h-2.5zM396.88 427.8h1.94v7.4h-1.94zM410.92 427.8h2.81v7.4h-2.81zM414.6 427.8h3.78v7.4h-3.78zM74.62 437.4h1v7.4h-1zM94.68 437.4h1v7.4h-1zM69.95 447h1v7.4h-1zM91.14 447h1v7.4h-1zM137.25 447h1v7.4h-1zM153.6 447h1v7.4h-1zM166.57 447h1.5v7.4h-1.5zM188.96 447h1v7.4h-1zM196.59 447h1.5v7.4h-1.5zM198.66 447h2v7.4h-2zM202.02 447h1.5v7.4h-1.5zM205 447h1.5v7.4h-1.5zM236.66 447h1.5v7.4h-1.5zM268.89 447h2v7.4h-2zM271.39 447h1v7.4h-1zM278.3 447h1v7.4h-1zM288.37 447h1.5v7.4h-1.5zM299.31 447h1.5v7.4h-1.5zM303.17 447h1v7.4h-1zM337.9 447h1.5v7.4h-1.5zM357.19 447h1.5v7.4h-1.5zM385.66 447h1v7.4h-1zM387.36 447h1v7.4h-1zM74.06 456.6h1v7.4h-1zM78.45 456.6h1v7.4h-1zM130.88 456.6h1v7.4h-1zM134.09 456.6h2v7.4h-2zM144.75 456.6h1v7.4h-1zM171.1 456.6h2v7.4h-2zM190.06 456.6h2v7.4h-2zM195.52 456.6h1v7.4h-1zM199.58 456.6h1v7.4h-1zM244.26 456.6h1v7.4h-1zM289.67 456.6h2v7.4h-2zM343.88 456.6h2v7.4h-2zM398.04 456.6h1v7.4h-1zM399.8 456.6h2v7.4h-2zM67.43 466.2h2v7.4h-2zM88.45 466.2h1v7.4h-1zM97.28 466.2h1.5v7.4h-1.5zM135.55 466.2h1v7.4h-1zM176.77 466.2h1v7.4h-1zM183.64 466.2h2v7.4h-2zM235.42 466.2h1v7.4h-1zM242.62 466.2h1v7.4h-1zM250.71 466.2h1v7.4h-1zM265.86 466.2h1v7.4h-1zM285.42 466.2h1v7.4h-1zM341.98 466.2h1v7.4h-1zM344.28 466.2h1v7.4h-1zM367.76 466.2h2v7.4h-2zM129.31 475.8h1v7.4h-1zM151.21 475.8h1v7.4h-1zM243.21 475.8h1v7.4h-1zM267.57 475.8h1.5v7.4h-1.5zM272.3 475.8h1.5v7.4h-1.5zM293.89 475.8h1v7.4h-1zM303.58 475.8h1.5v7.4h-1.5zM357.09 475.8h1v7.4h-1zM395.94 475.8h1v7.4h-1zM122.41 485.4h1.5v7.4h-1.5zM145.51 485.4h1v7.4h-1zM243.92 485.4h2v7.4h-2zM261.35 485.4h2v7.4h-2zM274.78 485.4h1v7.4h-1zM277.11 485.4h2v7.4h-2zM310.49 485.4h2v7.4h-2zM360.47 485.4h2v7.4h-2zM393.6 485.4h1v7.4h-1zM65.5 504.6h1v7.4h-1zM87.44 504.6h1.5v7.4h-1.5zM93.48 504.6h1v7.4h-1zM121.33 504.6h1v7.4h-1zM130.1 504.6h1v7.4h-1zM141.13 504.6h1.5v7.4h-1.5zM195.94 504.6h1v7.4h-1zM217.03 504.6h1v7.4h-1zM232.22 504.6h2v7.4h-2zM250.48 504.6h1v7.4h-1zM254.34 504.6h1v7.4h-1zM273.22 504.6h1v7.4h-1zM289.29 504.6h2v7.4h-2zM331.38 504.6h1v7.4h-1zM354.07 504.6h1v7.4h-1zM356 504.6h1v7.4h-1zM375.35 504.6h2v7.4h-2zM401.18 504.6h1v7.4h-1zM404.96 504.6h1v7.4h-1zM103.56 514.2h1.5v7.4h-1.5zM117.13 514.2h1v7.4h-1zM118.71 514.2h1.5v7.4h-1.5zM135.97 514.2h1.5v7.4h-1.5zM162.98 514.2h2v7.4h-2zM181.62 514.2h1.5v7.4h-1.5zM198.82 514.2h1v7.4h-1zM201.67 514.2h2v7.4h-2zM235.24 514.2h1.5v7.4h-1.5zM335.17 514.2h2v7.4h-2zM353.62 514.2h2v7.4h-2zM89.89 523.8h1v7.4h-1zM117.49 523.8h2v7.4h-2zM131.48 523.8h1v7.4h-1zM153.18 523.8h1v7.4h-1zM159.25 523.8h1.5v7.4h-1.5zM169.03 523.8h1v7.4h-1zM171.34 523.8h1v7.4h-1zM226.98 523.8h1v7.4h-1zM253.93 523.8h2v7.4h-2zM269.34 523.8h1v7.4h-1zM313.71 523.8h1v7.4h-1zM330.47 523.8h1v7.4h-1zM332.32 523.8h1.5v7.4h-1.5zM357.69 523.8h1v7.4h-1zM368.89 523.8h1v7.4h-1zM383.37 523.8h1v7.4h-1zM403.72 523.8h1v7.4h-1zM81.89 533.4h1v7.4h-1zM83.95 533.4h1.5v7.4h-1.5zM96 533.4h2v7.4h-2zM103.61 533.4h1v7.4h-1zM105.51 533.4h1v7.4h-1zM111.48 533.4h2v7.4h-2zM159.55 533.4h1v7.4h-1zM164.05 533.4h1v7.4h-1zM182.59 533.4h1.5v7.4h-1.5zM185.33 533.4h1v7.4h-1zM202.56 533.4h1.5v7.4h-1.5zM234.18 533.4h2v7.4h-2zM266.26 533.4h1v7.4h-1zM278.2 533.4h2v7.4h-2zM283.76 533.4h2v7.4h-2zM289.1 533.4h1v7.4h-1zM350.21 533.4h1.5v7.4h-1.5zM81.07 543h1v7.4h-1zM89.99 543h1v7.4h-1zM98.54 543h2v7.4h-2zM112.17 543h1.5v7.4h-1.5zM137.38 543h1.5v7.4h-1.5zM228.1 543h1v7.4h-1zM240.48 543h2v7.4h-2zM245.63 543h1v7.4h-1zM307.15 543h2v7.4h-2zM357.13 543h1v7.4h-1zM368.42 543h1v7.4h-1zM420.41 543h1.5v7.4h-1.5zM299.86 552.6h1v7.4h-1zM83.06 562.2h1v7.4h-1zM115.35 562.2h2v7.4h-2zM124.34 562.2h1v7.4h-1zM126.68 562.2h1.5v7.4h-1.5zM131.07 562.2h1.5v7.4h-1.5zM136.79 562.2h1v7.4h-1zM156 562.2h2v7.4h-2zM162.99 562.2h2v7.4h-2zM167.04 562.2h1.5v7.4h-1.5zM169 562.2h1v7.4h-1zM207.88 562.2h1v7.4h-1zM240.11 562.2h1v7.4h-1zM243.2 562.2h1v7.4h-1zM247.11 562.2h1v7.4h-1zM276.13 562.2h1v7.4h-1zM277.9 562.2h1v7.4h-1zM323.25 562.2h2v7.4h-2zM354.51 562.2h1v7.4h-1zM418.14 562.2h1v7.4h-1zM144.2 571.8h1v7.4h-1zM183.44 571.8h1v7.4h-1zM235.75 571.8h2v7.4h-2zM334.52 571.8h1v7.4h-1zM72.19 581.4h1v7.4h-1zM79.15 581.4h1v7.4h-1zM131.48 581.4h1v7.4h-1zM140.91 581.4h1v7.4h-1zM146.78 581.4h1v7.4h-1zM154.71 581.4h1v7.4h-1zM156.62 581.4h1.5v7.4h-1.5zM249.99 581.4h2v7.4h-2zM253.05 581.4h1v7.4h-1zM348.48 581.4h2v7.4h-2zM367.94 581.4h1.5v7.4h-1.5zM388.71 581.4h1v7.4h-1zM404.26 581.4h1.5v7.4h-1.5zM87.42 591h1v7.4h-1zM91.94 591h1v7.4h-1zM123.02 591h1v7.4h-1zM131.64 591h1v7.4h-1zM140.27 591h1v7.4h-1zM143.91 591h2v7.4h-2zM147.32 591h1v7.4h-1zM157.96 591h2v7.4h-2zM189.03 591h1v7.4h-1zM262.99 591h2v7.4h-2zM267.46 591h1.5v7.4h-1.5zM273.23 591h2v7.4h-2zM342.94 591h1v7.4h-1zM347.75 591h1.5v7.4h-1.5zM363.08 591h1v7.4h-1zM368.52 591h1v7.4h-1zM381.3 591h1v7.4h-1zM385.83 591h2v7.4h-2zM393.55 591h1v7.4h-1zM404.65 591h1v7.4h-1zM69.33 600.6h2.94v7.4h-2.94zM80.96 600.6h3.7v7.4h-3.7zM114.43 600.6h3.19v7.4h-3.19zM128.51 600.6h3.63v7.4h-3.63zM135.41 600.6h1.88v7.4h-1.88zM144.79 600.6h1v7.4h-1zM151.81 600.6h2.78v7.4h-2.78zM155.2 600.6h3.97v7.4h-3.97zM163.14 600.6h1.63v7.4h-1.63zM170.77 600.6h3.68v7.4h-3.68zM174.96 600.6h3.17v7.4h-3.17zM202.77 600.6h2.52v7.4h-2.52zM205.44 600.6h3.45v7.4h-3.45zM212.97 600.6h1.73v7.4h-1.73zM230.97 600.6h1v7.4h-1zM252.08 600.6h2v7.4h-2zM285.45 600.6h3.26v7.4h-3.26zM293.79 600.6h2v7.4h-2zM299.29 600.6h2.41v7.4h-2.41zM313.57 600.6h3.06v7.4h-3.06zM375.31 600.6h2.17v7.4h-2.17zM394.03 600.6h1.99v7.4h-1.99zM157.25 610.2h1v7.4h-1zM172.45 610.2h1v7.4h-1zM182.14 610.2h1v7.4h-1zM194.94 610.2h1.5v7.4h-1.5zM206.44 610.2h1v7.4h-1zM219.35 610.2h1v7.4h-1zM320.75 610.2h1v7.4h-1zM334.93 610.2h1.5v7.4h-1.5zM357.53 610.2h2v7.4h-2zM385.69 610.2h1v7.4h-1zM391.67 610.2h1v7.4h-1zM406.03 610.2h1v7.4h-1zM407.49 610.2h1v7.4h-1zM68.65 619.8h1v7.4h-1zM146.4 619.8h2v7.4h-2zM151.39 619.8h1v7.4h-1zM173.67 619.8h1v7.4h-1zM182.56 619.8h1v7.4h-1zM324.57 619.8h1v7.4h-1zM327.14 619.8h1v7.4h-1zM335.82 619.8h1v7.4h-1zM415.48 619.8h1v7.4h-1z"/>
<rect x="140" y="403" width="3" height="231" fill="#66ee55"/>
<polygon points="134,393.2 148.5,393.2 141.3,404.5" fill="#66ee55"/>
<rect x="396.3" y="403" width="3" height="231" fill="#d9403a"/>
<polygon points="390.7,392 404.7,392 397.7,403.7" fill="#d9403a"/>
<text x="113.95" y="386.90" font-size="16.8" fill="#66ee55" font-weight="bold" font-style="italic">Starts</text>
<text x="372.15" y="385.60" font-size="16.6" fill="#d9403a" font-weight="bold" font-style="italic">Stops</text>
<text x="49.75" y="417.30" font-size="16.5" fill="#000" font-weight="normal" font-style="normal">1</text>
<text x="42.92" y="627.00" font-size="16.5" fill="#000" font-weight="normal" font-style="normal">23</text>
<text x="48.38" y="556.77" font-size="17.2" fill="#000" font-weight="normal" font-style="normal" transform="rotate(-90 48.38 556.77)">Neuron ID</text>
<text x="206.53" y="653.00" font-size="16" fill="#000" font-weight="normal" font-style="normal">Time (s)</text>
<rect x="305.8" y="643" width="23.2" height="2.6" fill="#000"/>
<text x="336.35" y="649.20" font-size="17.2" fill="#000" font-weight="normal" font-style="normal">1 sec</text>
<path fill="#9f9f9f" shape-rendering="crispEdges" d="M494.3 91.1h2.53v9.93h-2.53zM496.43 91.1h2.53v9.93h-2.53zM513.48 91.1h2.53v9.93h-2.53zM515.61 91.1h2.53v9.93h-2.53zM502.82 129.22h2.53v9.93h-2.53zM517.74 129.22h2.53v9.93h-2.53zM536.91 129.22h2.53v9.93h-2.53zM562.48 129.22h2.53v9.93h-2.53zM564.61 129.22h2.53v9.93h-2.53zM543.3 157.81h2.53v9.93h-2.53zM541.17 167.34h2.53v9.93h-2.53zM553.96 205.47h2.53v9.93h-2.53zM519.87 224.53h2.53v9.93h-2.53zM494.3 243.59h2.53v9.93h-2.53zM536.91 243.59h2.53v9.93h-2.53zM545.43 243.59h2.53v9.93h-2.53zM566.74 281.71h2.53v9.93h-2.53zM526.26 291.24h2.53v9.93h-2.53zM530.52 291.24h2.53v9.93h-2.53zM532.65 291.24h2.53v9.93h-2.53zM547.56 291.24h2.53v9.93h-2.53zM551.83 291.24h2.53v9.93h-2.53z"/>
<path fill="#202020" shape-rendering="crispEdges" d="M498.56 91.1h2.53v9.93h-2.53zM504.95 100.63h2.53v9.93h-2.53zM519.87 100.63h2.53v9.93h-2.53zM502.82 119.69h2.53v9.93h-2.53zM507.08 119.69h2.53v9.93h-2.53zM522 119.69h2.53v9.93h-2.53zM532.65 119.69h2.53v9.93h-2.53zM558.22 119.69h2.53v9.93h-2.53zM553.96 129.22h2.53v9.93h-2.53zM519.87 138.75h2.53v9.93h-2.53zM568.87 138.75h2.53v9.93h-2.53zM524.13 148.28h2.53v9.93h-2.53zM530.52 148.28h2.53v9.93h-2.53zM532.65 157.81h2.53v9.93h-2.53zM534.78 157.81h2.53v9.93h-2.53zM524.13 167.34h2.53v9.93h-2.53zM530.52 167.34h2.53v9.93h-2.53zM568.87 167.34h2.53v9.93h-2.53zM496.43 176.87h2.53v9.93h-2.53zM553.96 176.87h2.53v9.93h-2.53zM566.74 176.87h2.53v9.93h-2.53zM543.3 186.4h2.53v9.93h-2.53zM562.48 186.4h2.53v9.93h-2.53zM517.74 195.93h2.53v9.93h-2.53zM519.87 195.93h2.53v9.93h-2.53zM524.13 195.93h2.53v9.93h-2.53zM541.17 195.93h2.53v9.93h-2.53zM562.48 195.93h2.53v9.93h-2.53zM566.74 195.93h2.53v9.93h-2.53zM522 205.47h2.53v9.93h-2.53zM519.87 215h2.53v9.93h-2.53zM498.56 224.53h2.53v9.93h-2.53zM502.82 224.53h2.53v9.93h-2.53zM541.17 224.53h2.53v9.93h-2.53zM494.3 234.06h2.53v9.93h-2.53zM498.56 234.06h2.53v9.93h-2.53zM507.08 234.06h2.53v9.93h-2.53zM519.87 234.06h2.53v9.93h-2.53zM539.04 234.06h2.53v9.93h-2.53zM549.69 234.06h2.53v9.93h-2.53zM553.96 234.06h2.53v9.93h-2.53zM556.09 234.06h2.53v9.93h-2.53zM502.82 253.12h2.53v9.93h-2.53zM532.65 253.12h2.53v9.93h-2.53zM556.09 253.12h2.53v9.93h-2.53zM564.61 253.12h2.53v9.93h-2.53zM500.69 262.65h2.53v9.93h-2.53zM543.3 262.65h2.53v9.93h-2.53zM568.87 262.65h2.53v9.93h-2.53zM539.04 291.24h2.53v9.93h-2.53zM541.17 291.24h2.53v9.93h-2.53zM519.87 300.77h2.53v9.93h-2.53zM522 300.77h2.53v9.93h-2.53zM526.26 300.77h2.53v9.93h-2.53zM534.78 300.77h2.53v9.93h-2.53zM543.3 300.77h2.53v9.93h-2.53zM547.56 300.77h2.53v9.93h-2.53zM566.74 300.77h2.53v9.93h-2.53z"/>
<path fill="#606060" shape-rendering="crispEdges" d="M500.69 91.1h2.53v9.93h-2.53zM502.82 91.1h2.53v9.93h-2.53zM504.95 91.1h2.53v9.93h-2.53zM507.08 91.1h2.53v9.93h-2.53zM526.26 91.1h2.53v9.93h-2.53zM528.39 91.1h2.53v9.93h-2.53zM562.48 91.1h2.53v9.93h-2.53zM513.48 100.63h2.53v9.93h-2.53zM526.26 100.63h2.53v9.93h-2.53zM553.96 100.63h2.53v9.93h-2.53zM556.09 100.63h2.53v9.93h-2.53zM558.22 100.63h2.53v9.93h-2.53zM526.26 129.22h2.53v9.93h-2.53zM496.43 138.75h2.53v9.93h-2.53zM498.56 138.75h2.53v9.93h-2.53zM515.61 138.75h2.53v9.93h-2.53zM500.69 148.28h2.53v9.93h-2.53zM509.21 148.28h2.53v9.93h-2.53zM543.3 148.28h2.53v9.93h-2.53zM566.74 148.28h2.53v9.93h-2.53zM494.3 157.81h2.53v9.93h-2.53zM513.48 157.81h2.53v9.93h-2.53zM515.61 157.81h2.53v9.93h-2.53zM524.13 157.81h2.53v9.93h-2.53zM530.52 157.81h2.53v9.93h-2.53zM539.04 157.81h2.53v9.93h-2.53zM553.96 157.81h2.53v9.93h-2.53zM564.61 157.81h2.53v9.93h-2.53zM519.87 186.4h2.53v9.93h-2.53zM522 186.4h2.53v9.93h-2.53zM532.65 186.4h2.53v9.93h-2.53zM494.3 195.93h2.53v9.93h-2.53zM556.09 195.93h2.53v9.93h-2.53zM496.43 205.47h2.53v9.93h-2.53zM507.08 205.47h2.53v9.93h-2.53zM511.34 205.47h2.53v9.93h-2.53zM566.74 205.47h2.53v9.93h-2.53zM496.43 215h2.53v9.93h-2.53zM541.17 215h2.53v9.93h-2.53zM545.43 215h2.53v9.93h-2.53zM558.22 215h2.53v9.93h-2.53zM562.48 215h2.53v9.93h-2.53zM500.69 224.53h2.53v9.93h-2.53zM522 224.53h2.53v9.93h-2.53zM551.83 224.53h2.53v9.93h-2.53zM553.96 224.53h2.53v9.93h-2.53zM564.61 224.53h2.53v9.93h-2.53zM504.95 243.59h2.53v9.93h-2.53zM511.34 243.59h2.53v9.93h-2.53zM515.61 243.59h2.53v9.93h-2.53zM524.13 243.59h2.53v9.93h-2.53zM539.04 243.59h2.53v9.93h-2.53zM496.43 262.65h2.53v9.93h-2.53zM519.87 262.65h2.53v9.93h-2.53zM562.48 262.65h2.53v9.93h-2.53zM515.61 272.18h2.53v9.93h-2.53zM517.74 272.18h2.53v9.93h-2.53zM532.65 272.18h2.53v9.93h-2.53zM556.09 272.18h2.53v9.93h-2.53zM534.78 291.24h2.53v9.93h-2.53zM553.96 291.24h2.53v9.93h-2.53z"/>
<path fill="#555555" shape-rendering="crispEdges" d="M509.21 91.1h2.53v9.93h-2.53zM524.13 91.1h2.53v9.93h-2.53zM545.43 91.1h2.53v9.93h-2.53zM566.74 91.1h2.53v9.93h-2.53zM568.87 91.1h2.53v9.93h-2.53zM500.69 100.63h2.53v9.93h-2.53zM515.61 100.63h2.53v9.93h-2.53zM524.13 100.63h2.53v9.93h-2.53zM502.82 138.75h2.53v9.93h-2.53zM509.21 138.75h2.53v9.93h-2.53zM528.39 138.75h2.53v9.93h-2.53zM530.52 138.75h2.53v9.93h-2.53zM549.69 138.75h2.53v9.93h-2.53zM556.09 138.75h2.53v9.93h-2.53zM558.22 138.75h2.53v9.93h-2.53zM494.3 148.28h2.53v9.93h-2.53zM507.08 148.28h2.53v9.93h-2.53zM511.34 148.28h2.53v9.93h-2.53zM513.48 148.28h2.53v9.93h-2.53zM553.96 148.28h2.53v9.93h-2.53zM558.22 148.28h2.53v9.93h-2.53zM522 157.81h2.53v9.93h-2.53zM498.56 167.34h2.53v9.93h-2.53zM515.61 167.34h2.53v9.93h-2.53zM534.78 167.34h2.53v9.93h-2.53zM496.43 186.4h2.53v9.93h-2.53zM502.82 186.4h2.53v9.93h-2.53zM511.34 186.4h2.53v9.93h-2.53zM517.74 186.4h2.53v9.93h-2.53zM534.78 186.4h2.53v9.93h-2.53zM553.96 186.4h2.53v9.93h-2.53zM517.74 205.47h2.53v9.93h-2.53zM543.3 205.47h2.53v9.93h-2.53zM551.83 205.47h2.53v9.93h-2.53zM558.22 205.47h2.53v9.93h-2.53zM562.48 205.47h2.53v9.93h-2.53zM507.08 215h2.53v9.93h-2.53zM509.21 215h2.53v9.93h-2.53zM515.61 224.53h2.53v9.93h-2.53zM539.04 224.53h2.53v9.93h-2.53zM545.43 224.53h2.53v9.93h-2.53zM500.69 243.59h2.53v9.93h-2.53zM519.87 243.59h2.53v9.93h-2.53zM528.39 243.59h2.53v9.93h-2.53zM541.17 243.59h2.53v9.93h-2.53zM494.3 253.12h2.53v9.93h-2.53zM526.26 253.12h2.53v9.93h-2.53zM539.04 253.12h2.53v9.93h-2.53zM549.69 253.12h2.53v9.93h-2.53zM498.56 262.65h2.53v9.93h-2.53zM502.82 262.65h2.53v9.93h-2.53zM513.48 262.65h2.53v9.93h-2.53zM553.96 262.65h2.53v9.93h-2.53zM560.35 262.65h2.53v9.93h-2.53zM496.43 272.18h2.53v9.93h-2.53zM498.56 272.18h2.53v9.93h-2.53zM522 272.18h2.53v9.93h-2.53zM528.39 272.18h2.53v9.93h-2.53zM558.22 272.18h2.53v9.93h-2.53zM560.35 272.18h2.53v9.93h-2.53zM498.56 291.24h2.53v9.93h-2.53zM522 291.24h2.53v9.93h-2.53zM568.87 291.24h2.53v9.93h-2.53zM558.22 300.77h2.53v9.93h-2.53z"/>
<path fill="#6a6a6a" shape-rendering="crispEdges" d="M511.34 91.1h2.53v9.93h-2.53zM539.04 91.1h2.53v9.93h-2.53zM549.69 91.1h2.53v9.93h-2.53zM496.43 100.63h2.53v9.93h-2.53zM547.56 100.63h2.53v9.93h-2.53zM560.35 100.63h2.53v9.93h-2.53zM524.13 129.22h2.53v9.93h-2.53zM522 138.75h2.53v9.93h-2.53zM526.26 138.75h2.53v9.93h-2.53zM541.17 138.75h2.53v9.93h-2.53zM545.43 138.75h2.53v9.93h-2.53zM502.82 148.28h2.53v9.93h-2.53zM522 148.28h2.53v9.93h-2.53zM549.69 148.28h2.53v9.93h-2.53zM562.48 148.28h2.53v9.93h-2.53zM502.82 157.81h2.53v9.93h-2.53zM519.87 157.81h2.53v9.93h-2.53zM526.26 157.81h2.53v9.93h-2.53zM528.39 157.81h2.53v9.93h-2.53zM513.48 167.34h2.53v9.93h-2.53zM526.26 167.34h2.53v9.93h-2.53zM498.56 186.4h2.53v9.93h-2.53zM509.21 186.4h2.53v9.93h-2.53zM539.04 186.4h2.53v9.93h-2.53zM549.69 186.4h2.53v9.93h-2.53zM515.61 205.47h2.53v9.93h-2.53zM498.56 215h2.53v9.93h-2.53zM500.69 215h2.53v9.93h-2.53zM517.74 215h2.53v9.93h-2.53zM543.3 215h2.53v9.93h-2.53zM496.43 224.53h2.53v9.93h-2.53zM526.26 224.53h2.53v9.93h-2.53zM530.52 224.53h2.53v9.93h-2.53zM509.21 243.59h2.53v9.93h-2.53zM517.74 243.59h2.53v9.93h-2.53zM534.78 243.59h2.53v9.93h-2.53zM522 253.12h2.53v9.93h-2.53zM524.13 253.12h2.53v9.93h-2.53zM494.3 262.65h2.53v9.93h-2.53zM515.61 262.65h2.53v9.93h-2.53zM539.04 262.65h2.53v9.93h-2.53zM547.56 262.65h2.53v9.93h-2.53zM551.83 262.65h2.53v9.93h-2.53zM556.09 262.65h2.53v9.93h-2.53zM509.21 272.18h2.53v9.93h-2.53zM566.74 272.18h2.53v9.93h-2.53zM536.91 281.71h2.53v9.93h-2.53zM524.13 291.24h2.53v9.93h-2.53zM545.43 291.24h2.53v9.93h-2.53zM560.35 291.24h2.53v9.93h-2.53z"/>
<path fill="#808080" shape-rendering="crispEdges" d="M517.74 91.1h2.53v9.93h-2.53zM522 91.1h2.53v9.93h-2.53zM530.52 91.1h2.53v9.93h-2.53zM532.65 91.1h2.53v9.93h-2.53zM553.96 91.1h2.53v9.93h-2.53zM564.61 91.1h2.53v9.93h-2.53zM507.08 129.22h2.53v9.93h-2.53zM566.74 129.22h2.53v9.93h-2.53zM511.34 138.75h2.53v9.93h-2.53zM536.91 148.28h2.53v9.93h-2.53zM564.61 148.28h2.53v9.93h-2.53zM498.56 157.81h2.53v9.93h-2.53zM511.34 157.81h2.53v9.93h-2.53zM524.13 186.4h2.53v9.93h-2.53zM526.26 186.4h2.53v9.93h-2.53zM551.83 186.4h2.53v9.93h-2.53zM496.43 195.93h2.53v9.93h-2.53zM498.56 205.47h2.53v9.93h-2.53zM504.95 205.47h2.53v9.93h-2.53zM541.17 205.47h2.53v9.93h-2.53zM511.34 215h2.53v9.93h-2.53zM526.26 215h2.53v9.93h-2.53zM534.78 215h2.53v9.93h-2.53zM547.56 215h2.53v9.93h-2.53zM494.3 224.53h2.53v9.93h-2.53zM528.39 224.53h2.53v9.93h-2.53zM560.35 243.59h2.53v9.93h-2.53zM564.61 262.65h2.53v9.93h-2.53zM502.82 272.18h2.53v9.93h-2.53zM524.13 272.18h2.53v9.93h-2.53zM500.69 281.71h2.53v9.93h-2.53zM528.39 281.71h2.53v9.93h-2.53zM509.21 291.24h2.53v9.93h-2.53zM549.69 291.24h2.53v9.93h-2.53zM556.09 291.24h2.53v9.93h-2.53z"/>
<path fill="#757575" shape-rendering="crispEdges" d="M519.87 91.1h2.53v9.93h-2.53zM556.09 91.1h2.53v9.93h-2.53zM558.22 91.1h2.53v9.93h-2.53zM541.17 100.63h2.53v9.93h-2.53zM504.95 129.22h2.53v9.93h-2.53zM534.78 129.22h2.53v9.93h-2.53zM568.87 129.22h2.53v9.93h-2.53zM500.69 138.75h2.53v9.93h-2.53zM543.3 138.75h2.53v9.93h-2.53zM553.96 138.75h2.53v9.93h-2.53zM562.48 138.75h2.53v9.93h-2.53zM498.56 148.28h2.53v9.93h-2.53zM515.61 148.28h2.53v9.93h-2.53zM517.74 148.28h2.53v9.93h-2.53zM517.74 157.81h2.53v9.93h-2.53zM507.08 186.4h2.53v9.93h-2.53zM536.91 186.4h2.53v9.93h-2.53zM566.74 186.4h2.53v9.93h-2.53zM553.96 195.93h2.53v9.93h-2.53zM549.69 205.47h2.53v9.93h-2.53zM504.95 215h2.53v9.93h-2.53zM549.69 215h2.53v9.93h-2.53zM556.09 215h2.53v9.93h-2.53zM509.21 224.53h2.53v9.93h-2.53zM534.78 224.53h2.53v9.93h-2.53zM513.48 243.59h2.53v9.93h-2.53zM522 243.59h2.53v9.93h-2.53zM532.65 243.59h2.53v9.93h-2.53zM549.69 243.59h2.53v9.93h-2.53zM568.87 243.59h2.53v9.93h-2.53zM547.56 253.12h2.53v9.93h-2.53zM545.43 262.65h2.53v9.93h-2.53zM494.3 272.18h2.53v9.93h-2.53zM500.69 272.18h2.53v9.93h-2.53zM507.08 272.18h2.53v9.93h-2.53zM519.87 272.18h2.53v9.93h-2.53z"/>
<path fill="#4a4a4a" shape-rendering="crispEdges" d="M534.78 91.1h2.53v9.93h-2.53zM541.17 91.1h2.53v9.93h-2.53zM498.56 100.63h2.53v9.93h-2.53zM502.82 100.63h2.53v9.93h-2.53zM549.69 100.63h2.53v9.93h-2.53zM562.48 100.63h2.53v9.93h-2.53zM566.74 100.63h2.53v9.93h-2.53zM568.87 100.63h2.53v9.93h-2.53zM513.48 138.75h2.53v9.93h-2.53zM517.74 138.75h2.53v9.93h-2.53zM524.13 138.75h2.53v9.93h-2.53zM532.65 138.75h2.53v9.93h-2.53zM534.78 138.75h2.53v9.93h-2.53zM560.35 138.75h2.53v9.93h-2.53zM504.95 148.28h2.53v9.93h-2.53zM519.87 148.28h2.53v9.93h-2.53zM560.35 148.28h2.53v9.93h-2.53zM504.95 157.81h2.53v9.93h-2.53zM541.17 157.81h2.53v9.93h-2.53zM549.69 157.81h2.53v9.93h-2.53zM562.48 157.81h2.53v9.93h-2.53zM568.87 157.81h2.53v9.93h-2.53zM496.43 167.34h2.53v9.93h-2.53zM545.43 167.34h2.53v9.93h-2.53zM494.3 186.4h2.53v9.93h-2.53zM500.69 186.4h2.53v9.93h-2.53zM530.52 186.4h2.53v9.93h-2.53zM556.09 186.4h2.53v9.93h-2.53zM558.22 186.4h2.53v9.93h-2.53zM560.35 195.93h2.53v9.93h-2.53zM568.87 195.93h2.53v9.93h-2.53zM513.48 205.47h2.53v9.93h-2.53zM526.26 205.47h2.53v9.93h-2.53zM536.91 205.47h2.53v9.93h-2.53zM560.35 205.47h2.53v9.93h-2.53zM536.91 215h2.53v9.93h-2.53zM560.35 215h2.53v9.93h-2.53zM543.3 224.53h2.53v9.93h-2.53zM547.56 224.53h2.53v9.93h-2.53zM562.48 224.53h2.53v9.93h-2.53zM558.22 243.59h2.53v9.93h-2.53zM496.43 253.12h2.53v9.93h-2.53zM498.56 253.12h2.53v9.93h-2.53zM500.69 253.12h2.53v9.93h-2.53zM528.39 253.12h2.53v9.93h-2.53zM551.83 253.12h2.53v9.93h-2.53zM553.96 253.12h2.53v9.93h-2.53zM568.87 253.12h2.53v9.93h-2.53zM511.34 262.65h2.53v9.93h-2.53zM517.74 262.65h2.53v9.93h-2.53zM536.91 262.65h2.53v9.93h-2.53zM558.22 262.65h2.53v9.93h-2.53zM511.34 272.18h2.53v9.93h-2.53zM513.48 272.18h2.53v9.93h-2.53zM511.34 291.24h2.53v9.93h-2.53zM513.48 291.24h2.53v9.93h-2.53zM519.87 291.24h2.53v9.93h-2.53zM528.39 291.24h2.53v9.93h-2.53zM511.34 300.77h2.53v9.93h-2.53zM513.48 300.77h2.53v9.93h-2.53zM549.69 300.77h2.53v9.93h-2.53zM553.96 300.77h2.53v9.93h-2.53z"/>
<path fill="#8a8a8a" shape-rendering="crispEdges" d="M536.91 91.1h2.53v9.93h-2.53zM494.3 100.63h2.53v9.93h-2.53zM545.43 148.28h2.53v9.93h-2.53zM556.09 157.81h2.53v9.93h-2.53zM511.34 167.34h2.53v9.93h-2.53zM564.61 186.4h2.53v9.93h-2.53zM494.3 215h2.53v9.93h-2.53zM524.13 215h2.53v9.93h-2.53zM539.04 215h2.53v9.93h-2.53zM566.74 215h2.53v9.93h-2.53zM568.87 215h2.53v9.93h-2.53zM507.08 243.59h2.53v9.93h-2.53zM556.09 243.59h2.53v9.93h-2.53zM562.48 243.59h2.53v9.93h-2.53zM507.08 253.12h2.53v9.93h-2.53zM536.91 272.18h2.53v9.93h-2.53zM549.69 272.18h2.53v9.93h-2.53zM507.08 291.24h2.53v9.93h-2.53zM564.61 291.24h2.53v9.93h-2.53z"/>
<path fill="#2a2a2a" shape-rendering="crispEdges" d="M543.3 91.1h2.53v9.93h-2.53zM564.61 100.63h2.53v9.93h-2.53zM556.09 119.69h2.53v9.93h-2.53zM564.61 119.69h2.53v9.93h-2.53zM522 129.22h2.53v9.93h-2.53zM504.95 138.75h2.53v9.93h-2.53zM496.43 148.28h2.53v9.93h-2.53zM532.65 148.28h2.53v9.93h-2.53zM536.91 157.81h2.53v9.93h-2.53zM551.83 157.81h2.53v9.93h-2.53zM560.35 157.81h2.53v9.93h-2.53zM536.91 167.34h2.53v9.93h-2.53zM539.04 167.34h2.53v9.93h-2.53zM543.3 167.34h2.53v9.93h-2.53zM547.56 167.34h2.53v9.93h-2.53zM549.69 167.34h2.53v9.93h-2.53zM556.09 167.34h2.53v9.93h-2.53zM560.35 167.34h2.53v9.93h-2.53zM498.56 176.87h2.53v9.93h-2.53zM500.69 176.87h2.53v9.93h-2.53zM513.48 176.87h2.53v9.93h-2.53zM515.61 176.87h2.53v9.93h-2.53zM532.65 176.87h2.53v9.93h-2.53zM543.3 176.87h2.53v9.93h-2.53zM547.56 176.87h2.53v9.93h-2.53zM549.69 176.87h2.53v9.93h-2.53zM551.83 176.87h2.53v9.93h-2.53zM562.48 176.87h2.53v9.93h-2.53zM568.87 176.87h2.53v9.93h-2.53zM507.08 195.93h2.53v9.93h-2.53zM509.21 195.93h2.53v9.93h-2.53zM511.34 195.93h2.53v9.93h-2.53zM513.48 195.93h2.53v9.93h-2.53zM515.61 195.93h2.53v9.93h-2.53zM564.61 195.93h2.53v9.93h-2.53zM502.82 205.47h2.53v9.93h-2.53zM509.21 205.47h2.53v9.93h-2.53zM532.65 205.47h2.53v9.93h-2.53zM534.78 205.47h2.53v9.93h-2.53zM556.09 205.47h2.53v9.93h-2.53zM564.61 205.47h2.53v9.93h-2.53zM515.61 215h2.53v9.93h-2.53zM511.34 224.53h2.53v9.93h-2.53zM566.74 224.53h2.53v9.93h-2.53zM500.69 234.06h2.53v9.93h-2.53zM522 234.06h2.53v9.93h-2.53zM528.39 234.06h2.53v9.93h-2.53zM532.65 234.06h2.53v9.93h-2.53zM536.91 234.06h2.53v9.93h-2.53zM543.3 234.06h2.53v9.93h-2.53zM547.56 234.06h2.53v9.93h-2.53zM558.22 234.06h2.53v9.93h-2.53zM526.26 262.65h2.53v9.93h-2.53zM530.52 262.65h2.53v9.93h-2.53zM532.65 262.65h2.53v9.93h-2.53zM541.17 262.65h2.53v9.93h-2.53zM496.43 291.24h2.53v9.93h-2.53zM517.74 291.24h2.53v9.93h-2.53zM536.91 300.77h2.53v9.93h-2.53zM551.83 300.77h2.53v9.93h-2.53zM560.35 300.77h2.53v9.93h-2.53z"/>
<path fill="#353535" shape-rendering="crispEdges" d="M547.56 91.1h2.53v9.93h-2.53zM511.34 100.63h2.53v9.93h-2.53zM528.39 100.63h2.53v9.93h-2.53zM530.52 100.63h2.53v9.93h-2.53zM494.3 119.69h2.53v9.93h-2.53zM496.43 119.69h2.53v9.93h-2.53zM504.95 119.69h2.53v9.93h-2.53zM517.74 119.69h2.53v9.93h-2.53zM519.87 119.69h2.53v9.93h-2.53zM526.26 119.69h2.53v9.93h-2.53zM528.39 119.69h2.53v9.93h-2.53zM547.56 119.69h2.53v9.93h-2.53zM549.69 119.69h2.53v9.93h-2.53zM551.83 119.69h2.53v9.93h-2.53zM560.35 119.69h2.53v9.93h-2.53zM566.74 119.69h2.53v9.93h-2.53zM507.08 138.75h2.53v9.93h-2.53zM526.26 148.28h2.53v9.93h-2.53zM528.39 148.28h2.53v9.93h-2.53zM568.87 148.28h2.53v9.93h-2.53zM507.08 157.81h2.53v9.93h-2.53zM494.3 167.34h2.53v9.93h-2.53zM553.96 167.34h2.53v9.93h-2.53zM562.48 167.34h2.53v9.93h-2.53zM566.74 167.34h2.53v9.93h-2.53zM504.95 186.4h2.53v9.93h-2.53zM498.56 195.93h2.53v9.93h-2.53zM500.69 195.93h2.53v9.93h-2.53zM530.52 195.93h2.53v9.93h-2.53zM558.22 195.93h2.53v9.93h-2.53zM519.87 205.47h2.53v9.93h-2.53zM528.39 205.47h2.53v9.93h-2.53zM568.87 205.47h2.53v9.93h-2.53zM564.61 215h2.53v9.93h-2.53zM496.43 234.06h2.53v9.93h-2.53zM504.95 234.06h2.53v9.93h-2.53zM530.52 234.06h2.53v9.93h-2.53zM496.43 243.59h2.53v9.93h-2.53zM564.61 243.59h2.53v9.93h-2.53zM566.74 243.59h2.53v9.93h-2.53zM534.78 253.12h2.53v9.93h-2.53zM541.17 253.12h2.53v9.93h-2.53zM558.22 253.12h2.53v9.93h-2.53zM566.74 253.12h2.53v9.93h-2.53zM545.43 272.18h2.53v9.93h-2.53zM507.08 281.71h2.53v9.93h-2.53zM494.3 291.24h2.53v9.93h-2.53zM504.95 291.24h2.53v9.93h-2.53zM515.61 291.24h2.53v9.93h-2.53zM543.3 291.24h2.53v9.93h-2.53zM562.48 291.24h2.53v9.93h-2.53zM566.74 291.24h2.53v9.93h-2.53zM496.43 300.77h2.53v9.93h-2.53zM530.52 300.77h2.53v9.93h-2.53zM539.04 300.77h2.53v9.93h-2.53zM545.43 300.77h2.53v9.93h-2.53zM556.09 300.77h2.53v9.93h-2.53z"/>
<path fill="#404040" shape-rendering="crispEdges" d="M551.83 91.1h2.53v9.93h-2.53zM536.91 100.63h2.53v9.93h-2.53zM539.04 100.63h2.53v9.93h-2.53zM545.43 100.63h2.53v9.93h-2.53zM551.83 100.63h2.53v9.93h-2.53zM494.3 129.22h2.53v9.93h-2.53zM536.91 138.75h2.53v9.93h-2.53zM547.56 138.75h2.53v9.93h-2.53zM551.83 138.75h2.53v9.93h-2.53zM534.78 148.28h2.53v9.93h-2.53zM541.17 148.28h2.53v9.93h-2.53zM547.56 157.81h2.53v9.93h-2.53zM566.74 157.81h2.53v9.93h-2.53zM504.95 167.34h2.53v9.93h-2.53zM564.61 167.34h2.53v9.93h-2.53zM541.17 186.4h2.53v9.93h-2.53zM504.95 195.93h2.53v9.93h-2.53zM532.65 195.93h2.53v9.93h-2.53zM530.52 205.47h2.53v9.93h-2.53zM545.43 205.47h2.53v9.93h-2.53zM522 215h2.53v9.93h-2.53zM513.48 224.53h2.53v9.93h-2.53zM524.13 224.53h2.53v9.93h-2.53zM532.65 224.53h2.53v9.93h-2.53zM560.35 224.53h2.53v9.93h-2.53zM502.82 243.59h2.53v9.93h-2.53zM526.26 243.59h2.53v9.93h-2.53zM530.52 243.59h2.53v9.93h-2.53zM513.48 253.12h2.53v9.93h-2.53zM515.61 253.12h2.53v9.93h-2.53zM536.91 253.12h2.53v9.93h-2.53zM547.56 272.18h2.53v9.93h-2.53zM502.82 291.24h2.53v9.93h-2.53zM536.91 291.24h2.53v9.93h-2.53zM524.13 300.77h2.53v9.93h-2.53zM528.39 300.77h2.53v9.93h-2.53zM541.17 300.77h2.53v9.93h-2.53z"/>
<path fill="#959595" shape-rendering="crispEdges" d="M560.35 91.1h2.53v9.93h-2.53zM539.04 129.22h2.53v9.93h-2.53zM556.09 129.22h2.53v9.93h-2.53zM558.22 129.22h2.53v9.93h-2.53zM547.56 148.28h2.53v9.93h-2.53zM496.43 157.81h2.53v9.93h-2.53zM545.43 157.81h2.53v9.93h-2.53zM513.48 186.4h2.53v9.93h-2.53zM528.39 186.4h2.53v9.93h-2.53zM560.35 186.4h2.53v9.93h-2.53zM517.74 224.53h2.53v9.93h-2.53zM558.22 224.53h2.53v9.93h-2.53zM528.39 262.65h2.53v9.93h-2.53zM504.95 272.18h2.53v9.93h-2.53zM526.26 272.18h2.53v9.93h-2.53zM530.52 272.18h2.53v9.93h-2.53zM541.17 272.18h2.53v9.93h-2.53zM551.83 272.18h2.53v9.93h-2.53zM558.22 281.71h2.53v9.93h-2.53zM560.35 281.71h2.53v9.93h-2.53z"/>
<path fill="#000000" shape-rendering="crispEdges" d="M507.08 100.63h2.53v9.93h-2.53zM517.74 100.63h2.53v9.93h-2.53zM532.65 100.63h2.53v9.93h-2.53zM543.3 100.63h2.53v9.93h-2.53zM500.69 119.69h2.53v9.93h-2.53zM509.21 119.69h2.53v9.93h-2.53zM511.34 119.69h2.53v9.93h-2.53zM513.48 119.69h2.53v9.93h-2.53zM515.61 119.69h2.53v9.93h-2.53zM536.91 119.69h2.53v9.93h-2.53zM543.3 119.69h2.53v9.93h-2.53zM553.96 119.69h2.53v9.93h-2.53zM562.48 119.69h2.53v9.93h-2.53zM568.87 119.69h2.53v9.93h-2.53zM564.61 138.75h2.53v9.93h-2.53zM551.83 148.28h2.53v9.93h-2.53zM558.22 157.81h2.53v9.93h-2.53zM500.69 167.34h2.53v9.93h-2.53zM507.08 167.34h2.53v9.93h-2.53zM509.21 167.34h2.53v9.93h-2.53zM528.39 167.34h2.53v9.93h-2.53zM532.65 167.34h2.53v9.93h-2.53zM502.82 176.87h2.53v9.93h-2.53zM507.08 176.87h2.53v9.93h-2.53zM509.21 176.87h2.53v9.93h-2.53zM511.34 176.87h2.53v9.93h-2.53zM517.74 176.87h2.53v9.93h-2.53zM519.87 176.87h2.53v9.93h-2.53zM522 176.87h2.53v9.93h-2.53zM524.13 176.87h2.53v9.93h-2.53zM526.26 176.87h2.53v9.93h-2.53zM530.52 176.87h2.53v9.93h-2.53zM534.78 176.87h2.53v9.93h-2.53zM536.91 176.87h2.53v9.93h-2.53zM539.04 176.87h2.53v9.93h-2.53zM564.61 176.87h2.53v9.93h-2.53zM545.43 186.4h2.53v9.93h-2.53zM547.56 186.4h2.53v9.93h-2.53zM502.82 195.93h2.53v9.93h-2.53zM522 195.93h2.53v9.93h-2.53zM526.26 195.93h2.53v9.93h-2.53zM534.78 195.93h2.53v9.93h-2.53zM539.04 195.93h2.53v9.93h-2.53zM543.3 195.93h2.53v9.93h-2.53zM494.3 205.47h2.53v9.93h-2.53zM500.69 205.47h2.53v9.93h-2.53zM513.48 215h2.53v9.93h-2.53zM536.91 224.53h2.53v9.93h-2.53zM509.21 234.06h2.53v9.93h-2.53zM511.34 234.06h2.53v9.93h-2.53zM513.48 234.06h2.53v9.93h-2.53zM515.61 234.06h2.53v9.93h-2.53zM524.13 234.06h2.53v9.93h-2.53zM526.26 234.06h2.53v9.93h-2.53zM562.48 234.06h2.53v9.93h-2.53zM564.61 234.06h2.53v9.93h-2.53zM566.74 234.06h2.53v9.93h-2.53zM568.87 234.06h2.53v9.93h-2.53zM509.21 253.12h2.53v9.93h-2.53zM517.74 253.12h2.53v9.93h-2.53zM530.52 253.12h2.53v9.93h-2.53zM543.3 253.12h2.53v9.93h-2.53zM545.43 253.12h2.53v9.93h-2.53zM562.48 253.12h2.53v9.93h-2.53zM566.74 262.65h2.53v9.93h-2.53zM494.3 300.77h2.53v9.93h-2.53zM498.56 300.77h2.53v9.93h-2.53zM500.69 300.77h2.53v9.93h-2.53zM562.48 300.77h2.53v9.93h-2.53zM564.61 300.77h2.53v9.93h-2.53zM568.87 300.77h2.53v9.93h-2.53z"/>
<path fill="#151515" shape-rendering="crispEdges" d="M509.21 100.63h2.53v9.93h-2.53zM522 100.63h2.53v9.93h-2.53zM534.78 100.63h2.53v9.93h-2.53zM530.52 119.69h2.53v9.93h-2.53zM566.74 138.75h2.53v9.93h-2.53zM539.04 148.28h2.53v9.93h-2.53zM556.09 148.28h2.53v9.93h-2.53zM502.82 167.34h2.53v9.93h-2.53zM519.87 167.34h2.53v9.93h-2.53zM522 167.34h2.53v9.93h-2.53zM558.22 167.34h2.53v9.93h-2.53zM494.3 176.87h2.53v9.93h-2.53zM528.39 176.87h2.53v9.93h-2.53zM541.17 176.87h2.53v9.93h-2.53zM545.43 176.87h2.53v9.93h-2.53zM556.09 176.87h2.53v9.93h-2.53zM560.35 176.87h2.53v9.93h-2.53zM528.39 195.93h2.53v9.93h-2.53zM545.43 195.93h2.53v9.93h-2.53zM551.83 195.93h2.53v9.93h-2.53zM524.13 205.47h2.53v9.93h-2.53zM539.04 205.47h2.53v9.93h-2.53zM507.08 224.53h2.53v9.93h-2.53zM568.87 224.53h2.53v9.93h-2.53zM502.82 234.06h2.53v9.93h-2.53zM517.74 234.06h2.53v9.93h-2.53zM534.78 234.06h2.53v9.93h-2.53zM545.43 234.06h2.53v9.93h-2.53zM560.35 234.06h2.53v9.93h-2.53zM504.95 262.65h2.53v9.93h-2.53zM507.08 262.65h2.53v9.93h-2.53zM509.21 262.65h2.53v9.93h-2.53zM522 262.65h2.53v9.93h-2.53zM524.13 262.65h2.53v9.93h-2.53zM534.78 262.65h2.53v9.93h-2.53zM549.69 262.65h2.53v9.93h-2.53zM553.96 281.71h2.53v9.93h-2.53zM502.82 300.77h2.53v9.93h-2.53zM504.95 300.77h2.53v9.93h-2.53zM507.08 300.77h2.53v9.93h-2.53zM509.21 300.77h2.53v9.93h-2.53zM515.61 300.77h2.53v9.93h-2.53zM532.65 300.77h2.53v9.93h-2.53z"/>
<path fill="#ffffff" shape-rendering="crispEdges" d="M494.3 110.16h76.7v9.93h-76.7zM551.83 129.22h2.53v9.93h-2.53zM553.96 243.59h2.53v9.93h-2.53zM504.95 281.71h2.53v9.93h-2.53zM522 281.71h2.53v9.93h-2.53zM539.04 281.71h2.53v9.93h-2.53zM541.17 281.71h2.53v9.93h-2.53zM549.69 281.71h2.53v9.93h-2.53zM556.09 281.71h2.53v9.93h-2.53zM562.48 281.71h2.53v9.93h-2.53z"/>
<path fill="#0b0b0b" shape-rendering="crispEdges" d="M498.56 119.69h2.53v9.93h-2.53zM524.13 119.69h2.53v9.93h-2.53zM534.78 119.69h2.53v9.93h-2.53zM539.04 119.69h2.53v9.93h-2.53zM541.17 119.69h2.53v9.93h-2.53zM545.43 119.69h2.53v9.93h-2.53zM500.69 157.81h2.53v9.93h-2.53zM509.21 157.81h2.53v9.93h-2.53zM517.74 167.34h2.53v9.93h-2.53zM551.83 167.34h2.53v9.93h-2.53zM504.95 176.87h2.53v9.93h-2.53zM558.22 176.87h2.53v9.93h-2.53zM515.61 186.4h2.53v9.93h-2.53zM568.87 186.4h2.53v9.93h-2.53zM536.91 195.93h2.53v9.93h-2.53zM547.56 195.93h2.53v9.93h-2.53zM549.69 195.93h2.53v9.93h-2.53zM528.39 215h2.53v9.93h-2.53zM504.95 224.53h2.53v9.93h-2.53zM541.17 234.06h2.53v9.93h-2.53zM551.83 234.06h2.53v9.93h-2.53zM511.34 253.12h2.53v9.93h-2.53zM519.87 253.12h2.53v9.93h-2.53zM560.35 253.12h2.53v9.93h-2.53zM500.69 291.24h2.53v9.93h-2.53zM517.74 300.77h2.53v9.93h-2.53z"/>
<path fill="#aaaaaa" shape-rendering="crispEdges" d="M496.43 129.22h2.53v9.93h-2.53zM515.61 129.22h2.53v9.93h-2.53zM519.87 129.22h2.53v9.93h-2.53zM549.69 129.22h2.53v9.93h-2.53zM539.04 138.75h2.53v9.93h-2.53zM551.83 215h2.53v9.93h-2.53zM553.96 215h2.53v9.93h-2.53zM556.09 224.53h2.53v9.93h-2.53zM498.56 243.59h2.53v9.93h-2.53zM547.56 243.59h2.53v9.93h-2.53zM539.04 272.18h2.53v9.93h-2.53zM553.96 272.18h2.53v9.93h-2.53zM511.34 281.71h2.53v9.93h-2.53z"/>
<path fill="#b5b5b5" shape-rendering="crispEdges" d="M498.56 129.22h2.53v9.93h-2.53zM500.69 129.22h2.53v9.93h-2.53zM513.48 129.22h2.53v9.93h-2.53zM547.56 129.22h2.53v9.93h-2.53zM547.56 205.47h2.53v9.93h-2.53zM549.69 224.53h2.53v9.93h-2.53zM543.3 272.18h2.53v9.93h-2.53zM502.82 281.71h2.53v9.93h-2.53zM530.52 281.71h2.53v9.93h-2.53z"/>
<path fill="#bfbfbf" shape-rendering="crispEdges" d="M509.21 129.22h2.53v9.93h-2.53zM528.39 129.22h2.53v9.93h-2.53zM530.52 129.22h2.53v9.93h-2.53zM494.3 138.75h2.53v9.93h-2.53zM502.82 215h2.53v9.93h-2.53zM530.52 215h2.53v9.93h-2.53zM504.95 253.12h2.53v9.93h-2.53zM494.3 281.71h2.53v9.93h-2.53zM496.43 281.71h2.53v9.93h-2.53zM498.56 281.71h2.53v9.93h-2.53zM509.21 281.71h2.53v9.93h-2.53zM526.26 281.71h2.53v9.93h-2.53z"/>
<path fill="#eaeaea" shape-rendering="crispEdges" d="M511.34 129.22h2.53v9.93h-2.53zM543.3 243.59h2.53v9.93h-2.53zM515.61 281.71h2.53v9.93h-2.53zM519.87 281.71h2.53v9.93h-2.53zM534.78 281.71h2.53v9.93h-2.53z"/>
<path fill="#cacaca" shape-rendering="crispEdges" d="M532.65 129.22h2.53v9.93h-2.53zM541.17 129.22h2.53v9.93h-2.53zM534.78 272.18h2.53v9.93h-2.53zM562.48 272.18h2.53v9.93h-2.53zM564.61 272.18h2.53v9.93h-2.53zM568.87 272.18h2.53v9.93h-2.53zM532.65 281.71h2.53v9.93h-2.53zM568.87 281.71h2.53v9.93h-2.53z"/>
<path fill="#dfdfdf" shape-rendering="crispEdges" d="M543.3 129.22h2.53v9.93h-2.53zM545.43 129.22h2.53v9.93h-2.53zM560.35 129.22h2.53v9.93h-2.53zM532.65 215h2.53v9.93h-2.53z"/>
<path fill="#d4d4d4" shape-rendering="crispEdges" d="M551.83 243.59h2.53v9.93h-2.53zM513.48 281.71h2.53v9.93h-2.53zM524.13 281.71h2.53v9.93h-2.53zM545.43 281.71h2.53v9.93h-2.53zM547.56 281.71h2.53v9.93h-2.53zM551.83 281.71h2.53v9.93h-2.53zM564.61 281.71h2.53v9.93h-2.53zM558.22 291.24h2.53v9.93h-2.53z"/>
<path fill="#f4f4f4" shape-rendering="crispEdges" d="M517.74 281.71h2.53v9.93h-2.53zM543.3 281.71h2.53v9.93h-2.53z"/>
<rect x="500.1" y="91.1" width="3" height="219.2" fill="#66ee55"/>
<rect x="547.6" y="91.1" width="3" height="219.2" fill="#e8322a"/>
<path fill="#aaaaaa" shape-rendering="crispEdges" d="M582.2 91.1h2.51v9.93h-2.51zM649.76 224.53h2.51v9.93h-2.51zM592.76 243.59h2.51v9.93h-2.51zM628.64 243.59h2.51v9.93h-2.51zM647.64 272.18h2.51v9.93h-2.51zM622.31 281.71h2.51v9.93h-2.51zM624.42 281.71h2.51v9.93h-2.51zM649.76 291.24h2.51v9.93h-2.51zM651.87 300.77h2.51v9.93h-2.51z"/>
<path fill="#757575" shape-rendering="crispEdges" d="M584.31 91.1h2.51v9.93h-2.51zM601.2 91.1h2.51v9.93h-2.51zM603.31 91.1h2.51v9.93h-2.51zM611.76 91.1h2.51v9.93h-2.51zM613.87 91.1h2.51v9.93h-2.51zM634.98 91.1h2.51v9.93h-2.51zM605.42 100.63h2.51v9.93h-2.51zM620.2 100.63h2.51v9.93h-2.51zM628.64 100.63h2.51v9.93h-2.51zM649.76 100.63h2.51v9.93h-2.51zM651.87 100.63h2.51v9.93h-2.51zM620.2 129.22h2.51v9.93h-2.51zM624.42 138.75h2.51v9.93h-2.51zM626.53 138.75h2.51v9.93h-2.51zM582.2 148.28h2.51v9.93h-2.51zM594.87 148.28h2.51v9.93h-2.51zM626.53 148.28h2.51v9.93h-2.51zM639.2 148.28h2.51v9.93h-2.51zM653.98 148.28h2.51v9.93h-2.51zM584.31 157.81h2.51v9.93h-2.51zM605.42 157.81h2.51v9.93h-2.51zM607.53 157.81h2.51v9.93h-2.51zM609.64 157.81h2.51v9.93h-2.51zM656.09 157.81h2.51v9.93h-2.51zM586.42 167.34h2.51v9.93h-2.51zM601.2 167.34h2.51v9.93h-2.51zM605.42 167.34h2.51v9.93h-2.51zM651.87 167.34h2.51v9.93h-2.51zM653.98 167.34h2.51v9.93h-2.51zM615.98 186.4h2.51v9.93h-2.51zM620.2 186.4h2.51v9.93h-2.51zM628.64 186.4h2.51v9.93h-2.51zM630.76 186.4h2.51v9.93h-2.51zM601.2 195.93h2.51v9.93h-2.51zM632.87 195.93h2.51v9.93h-2.51zM601.2 205.47h2.51v9.93h-2.51zM649.76 205.47h2.51v9.93h-2.51zM607.53 215h2.51v9.93h-2.51zM639.2 215h2.51v9.93h-2.51zM653.98 224.53h2.51v9.93h-2.51zM613.87 243.59h2.51v9.93h-2.51zM618.09 243.59h2.51v9.93h-2.51zM630.76 243.59h2.51v9.93h-2.51zM643.42 243.59h2.51v9.93h-2.51zM649.76 243.59h2.51v9.93h-2.51zM632.87 253.12h2.51v9.93h-2.51zM637.09 253.12h2.51v9.93h-2.51zM601.2 262.65h2.51v9.93h-2.51zM601.2 272.18h2.51v9.93h-2.51zM607.53 272.18h2.51v9.93h-2.51zM620.2 272.18h2.51v9.93h-2.51zM639.2 272.18h2.51v9.93h-2.51zM641.31 272.18h2.51v9.93h-2.51zM584.31 281.71h2.51v9.93h-2.51zM603.31 281.71h2.51v9.93h-2.51zM639.2 281.71h2.51v9.93h-2.51zM643.42 291.24h2.51v9.93h-2.51zM620.2 300.77h2.51v9.93h-2.51zM639.2 300.77h2.51v9.93h-2.51z"/>
<path fill="#959595" shape-rendering="crispEdges" d="M586.42 91.1h2.51v9.93h-2.51zM599.09 91.1h2.51v9.93h-2.51zM611.76 100.63h2.51v9.93h-2.51zM641.31 100.63h2.51v9.93h-2.51zM594.87 129.22h2.51v9.93h-2.51zM609.64 129.22h2.51v9.93h-2.51zM622.31 129.22h2.51v9.93h-2.51zM634.98 129.22h2.51v9.93h-2.51zM656.09 129.22h2.51v9.93h-2.51zM628.64 148.28h2.51v9.93h-2.51zM590.64 186.4h2.51v9.93h-2.51zM615.98 205.47h2.51v9.93h-2.51zM582.2 215h2.51v9.93h-2.51zM603.31 215h2.51v9.93h-2.51zM594.87 243.59h2.51v9.93h-2.51zM609.64 243.59h2.51v9.93h-2.51zM611.76 243.59h2.51v9.93h-2.51zM637.09 243.59h2.51v9.93h-2.51zM641.31 253.12h2.51v9.93h-2.51zM637.09 262.65h2.51v9.93h-2.51zM651.87 272.18h2.51v9.93h-2.51zM618.09 281.71h2.51v9.93h-2.51zM622.31 291.24h2.51v9.93h-2.51z"/>
<path fill="#555555" shape-rendering="crispEdges" d="M588.53 91.1h2.51v9.93h-2.51zM651.87 91.1h2.51v9.93h-2.51zM596.98 100.63h2.51v9.93h-2.51zM613.87 100.63h2.51v9.93h-2.51zM639.2 100.63h2.51v9.93h-2.51zM590.64 129.22h2.51v9.93h-2.51zM603.31 129.22h2.51v9.93h-2.51zM628.64 129.22h2.51v9.93h-2.51zM643.42 129.22h2.51v9.93h-2.51zM592.76 138.75h2.51v9.93h-2.51zM628.64 138.75h2.51v9.93h-2.51zM653.98 138.75h2.51v9.93h-2.51zM656.09 138.75h2.51v9.93h-2.51zM586.42 148.28h2.51v9.93h-2.51zM588.53 148.28h2.51v9.93h-2.51zM594.87 157.81h2.51v9.93h-2.51zM620.2 157.81h2.51v9.93h-2.51zM647.64 157.81h2.51v9.93h-2.51zM590.64 167.34h2.51v9.93h-2.51zM592.76 167.34h2.51v9.93h-2.51zM618.09 167.34h2.51v9.93h-2.51zM639.2 167.34h2.51v9.93h-2.51zM634.98 186.4h2.51v9.93h-2.51zM645.53 186.4h2.51v9.93h-2.51zM588.53 195.93h2.51v9.93h-2.51zM605.42 195.93h2.51v9.93h-2.51zM645.53 195.93h2.51v9.93h-2.51zM588.53 205.47h2.51v9.93h-2.51zM592.76 205.47h2.51v9.93h-2.51zM613.87 205.47h2.51v9.93h-2.51zM605.42 215h2.51v9.93h-2.51zM615.98 215h2.51v9.93h-2.51zM656.09 215h2.51v9.93h-2.51zM605.42 224.53h2.51v9.93h-2.51zM607.53 224.53h2.51v9.93h-2.51zM624.42 253.12h2.51v9.93h-2.51zM639.2 253.12h2.51v9.93h-2.51zM643.42 253.12h2.51v9.93h-2.51zM592.76 262.65h2.51v9.93h-2.51zM611.76 262.65h2.51v9.93h-2.51zM622.31 262.65h2.51v9.93h-2.51zM641.31 262.65h2.51v9.93h-2.51zM656.09 262.65h2.51v9.93h-2.51zM609.64 272.18h2.51v9.93h-2.51zM653.98 272.18h2.51v9.93h-2.51zM656.09 272.18h2.51v9.93h-2.51zM590.64 281.71h2.51v9.93h-2.51zM656.09 281.71h2.51v9.93h-2.51zM594.87 291.24h2.51v9.93h-2.51zM596.98 291.24h2.51v9.93h-2.51zM618.09 291.24h2.51v9.93h-2.51zM653.98 300.77h2.51v9.93h-2.51z"/>
<path fill="#404040" shape-rendering="crispEdges" d="M590.64 91.1h2.51v9.93h-2.51zM592.76 91.1h2.51v9.93h-2.51zM607.53 91.1h2.51v9.93h-2.51zM632.87 91.1h2.51v9.93h-2.51zM643.42 91.1h2.51v9.93h-2.51zM647.64 91.1h2.51v9.93h-2.51zM590.64 100.63h2.51v9.93h-2.51zM592.76 100.63h2.51v9.93h-2.51zM599.09 100.63h2.51v9.93h-2.51zM647.64 100.63h2.51v9.93h-2.51zM656.09 100.63h2.51v9.93h-2.51zM605.42 129.22h2.51v9.93h-2.51zM590.64 138.75h2.51v9.93h-2.51zM609.64 148.28h2.51v9.93h-2.51zM613.87 148.28h2.51v9.93h-2.51zM615.98 148.28h2.51v9.93h-2.51zM618.09 148.28h2.51v9.93h-2.51zM622.31 148.28h2.51v9.93h-2.51zM624.42 148.28h2.51v9.93h-2.51zM637.09 148.28h2.51v9.93h-2.51zM649.76 148.28h2.51v9.93h-2.51zM615.98 157.81h2.51v9.93h-2.51zM649.76 157.81h2.51v9.93h-2.51zM651.87 157.81h2.51v9.93h-2.51zM582.2 167.34h2.51v9.93h-2.51zM609.64 167.34h2.51v9.93h-2.51zM645.53 167.34h2.51v9.93h-2.51zM647.64 167.34h2.51v9.93h-2.51zM603.31 186.4h2.51v9.93h-2.51zM626.53 186.4h2.51v9.93h-2.51zM637.09 186.4h2.51v9.93h-2.51zM586.42 195.93h2.51v9.93h-2.51zM624.42 195.93h2.51v9.93h-2.51zM634.98 195.93h2.51v9.93h-2.51zM647.64 195.93h2.51v9.93h-2.51zM641.31 205.47h2.51v9.93h-2.51zM592.76 215h2.51v9.93h-2.51zM613.87 215h2.51v9.93h-2.51zM628.64 215h2.51v9.93h-2.51zM649.76 215h2.51v9.93h-2.51zM603.31 224.53h2.51v9.93h-2.51zM626.53 224.53h2.51v9.93h-2.51zM634.98 243.59h2.51v9.93h-2.51zM645.53 243.59h2.51v9.93h-2.51zM592.76 253.12h2.51v9.93h-2.51zM594.87 253.12h2.51v9.93h-2.51zM622.31 253.12h2.51v9.93h-2.51zM645.53 253.12h2.51v9.93h-2.51zM653.98 253.12h2.51v9.93h-2.51zM656.09 253.12h2.51v9.93h-2.51zM628.64 262.65h2.51v9.93h-2.51zM628.64 272.18h2.51v9.93h-2.51zM634.98 272.18h2.51v9.93h-2.51zM643.42 272.18h2.51v9.93h-2.51zM615.98 281.71h2.51v9.93h-2.51zM643.42 281.71h2.51v9.93h-2.51zM613.87 291.24h2.51v9.93h-2.51zM615.98 291.24h2.51v9.93h-2.51zM634.98 291.24h2.51v9.93h-2.51zM641.31 300.77h2.51v9.93h-2.51z"/>
<path fill="#353535" shape-rendering="crispEdges" d="M594.87 91.1h2.51v9.93h-2.51zM637.09 91.1h2.51v9.93h-2.51zM586.42 100.63h2.51v9.93h-2.51zM632.87 100.63h2.51v9.93h-2.51zM582.2 119.69h2.51v9.93h-2.51zM586.42 119.69h2.51v9.93h-2.51zM626.53 119.69h2.51v9.93h-2.51zM586.42 138.75h2.51v9.93h-2.51zM588.53 138.75h2.51v9.93h-2.51zM603.31 138.75h2.51v9.93h-2.51zM613.87 138.75h2.51v9.93h-2.51zM643.42 138.75h2.51v9.93h-2.51zM599.09 148.28h2.51v9.93h-2.51zM586.42 157.81h2.51v9.93h-2.51zM584.31 167.34h2.51v9.93h-2.51zM649.76 167.34h2.51v9.93h-2.51zM611.76 186.4h2.51v9.93h-2.51zM582.2 195.93h2.51v9.93h-2.51zM584.31 195.93h2.51v9.93h-2.51zM594.87 195.93h2.51v9.93h-2.51zM599.09 195.93h2.51v9.93h-2.51zM618.09 195.93h2.51v9.93h-2.51zM622.31 195.93h2.51v9.93h-2.51zM641.31 195.93h2.51v9.93h-2.51zM649.76 195.93h2.51v9.93h-2.51zM584.31 205.47h2.51v9.93h-2.51zM607.53 205.47h2.51v9.93h-2.51zM609.64 205.47h2.51v9.93h-2.51zM637.09 205.47h2.51v9.93h-2.51zM651.87 205.47h2.51v9.93h-2.51zM653.98 205.47h2.51v9.93h-2.51zM611.76 215h2.51v9.93h-2.51zM620.2 224.53h2.51v9.93h-2.51zM630.76 224.53h2.51v9.93h-2.51zM632.87 224.53h2.51v9.93h-2.51zM641.31 224.53h2.51v9.93h-2.51zM594.87 234.06h2.51v9.93h-2.51zM596.98 234.06h2.51v9.93h-2.51zM599.09 234.06h2.51v9.93h-2.51zM605.42 234.06h2.51v9.93h-2.51zM618.09 234.06h2.51v9.93h-2.51zM628.64 234.06h2.51v9.93h-2.51zM630.76 234.06h2.51v9.93h-2.51zM641.31 234.06h2.51v9.93h-2.51zM643.42 234.06h2.51v9.93h-2.51zM656.09 234.06h2.51v9.93h-2.51zM588.53 253.12h2.51v9.93h-2.51zM609.64 253.12h2.51v9.93h-2.51zM647.64 253.12h2.51v9.93h-2.51zM607.53 262.65h2.51v9.93h-2.51zM624.42 262.65h2.51v9.93h-2.51zM643.42 262.65h2.51v9.93h-2.51zM651.87 262.65h2.51v9.93h-2.51zM603.31 272.18h2.51v9.93h-2.51zM586.42 281.71h2.51v9.93h-2.51zM632.87 281.71h2.51v9.93h-2.51zM645.53 281.71h2.51v9.93h-2.51zM637.09 291.24h2.51v9.93h-2.51zM639.2 291.24h2.51v9.93h-2.51zM622.31 300.77h2.51v9.93h-2.51zM624.42 300.77h2.51v9.93h-2.51zM647.64 300.77h2.51v9.93h-2.51z"/>
<path fill="#808080" shape-rendering="crispEdges" d="M596.98 91.1h2.51v9.93h-2.51zM609.64 91.1h2.51v9.93h-2.51zM641.31 91.1h2.51v9.93h-2.51zM603.31 100.63h2.51v9.93h-2.51zM626.53 100.63h2.51v9.93h-2.51zM637.09 100.63h2.51v9.93h-2.51zM613.87 129.22h2.51v9.93h-2.51zM639.2 129.22h2.51v9.93h-2.51zM607.53 148.28h2.51v9.93h-2.51zM632.87 148.28h2.51v9.93h-2.51zM634.98 148.28h2.51v9.93h-2.51zM647.64 148.28h2.51v9.93h-2.51zM596.98 157.81h2.51v9.93h-2.51zM613.87 157.81h2.51v9.93h-2.51zM622.31 157.81h2.51v9.93h-2.51zM624.42 157.81h2.51v9.93h-2.51zM630.76 157.81h2.51v9.93h-2.51zM634.98 157.81h2.51v9.93h-2.51zM639.2 157.81h2.51v9.93h-2.51zM599.09 167.34h2.51v9.93h-2.51zM603.31 167.34h2.51v9.93h-2.51zM613.87 167.34h2.51v9.93h-2.51zM620.2 167.34h2.51v9.93h-2.51zM592.76 186.4h2.51v9.93h-2.51zM618.09 186.4h2.51v9.93h-2.51zM620.2 195.93h2.51v9.93h-2.51zM594.87 215h2.51v9.93h-2.51zM637.09 215h2.51v9.93h-2.51zM582.2 243.59h2.51v9.93h-2.51zM596.98 243.59h2.51v9.93h-2.51zM605.42 243.59h2.51v9.93h-2.51zM607.53 243.59h2.51v9.93h-2.51zM620.2 243.59h2.51v9.93h-2.51zM586.42 253.12h2.51v9.93h-2.51zM630.76 253.12h2.51v9.93h-2.51zM582.2 262.65h2.51v9.93h-2.51zM584.31 272.18h2.51v9.93h-2.51zM588.53 272.18h2.51v9.93h-2.51zM592.76 272.18h2.51v9.93h-2.51zM611.76 272.18h2.51v9.93h-2.51zM588.53 281.71h2.51v9.93h-2.51zM630.76 281.71h2.51v9.93h-2.51zM651.87 281.71h2.51v9.93h-2.51zM607.53 291.24h2.51v9.93h-2.51zM620.2 291.24h2.51v9.93h-2.51zM624.42 291.24h2.51v9.93h-2.51zM628.64 291.24h2.51v9.93h-2.51zM630.76 291.24h2.51v9.93h-2.51zM632.87 291.24h2.51v9.93h-2.51zM651.87 291.24h2.51v9.93h-2.51z"/>
<path fill="#6a6a6a" shape-rendering="crispEdges" d="M605.42 91.1h2.51v9.93h-2.51zM639.2 91.1h2.51v9.93h-2.51zM588.53 100.63h2.51v9.93h-2.51zM594.87 100.63h2.51v9.93h-2.51zM607.53 100.63h2.51v9.93h-2.51zM624.42 100.63h2.51v9.93h-2.51zM641.31 129.22h2.51v9.93h-2.51zM611.76 138.75h2.51v9.93h-2.51zM596.98 148.28h2.51v9.93h-2.51zM645.53 148.28h2.51v9.93h-2.51zM651.87 148.28h2.51v9.93h-2.51zM626.53 157.81h2.51v9.93h-2.51zM628.64 157.81h2.51v9.93h-2.51zM632.87 157.81h2.51v9.93h-2.51zM588.53 167.34h2.51v9.93h-2.51zM624.42 167.34h2.51v9.93h-2.51zM632.87 167.34h2.51v9.93h-2.51zM634.98 167.34h2.51v9.93h-2.51zM609.64 186.4h2.51v9.93h-2.51zM624.42 186.4h2.51v9.93h-2.51zM653.98 186.4h2.51v9.93h-2.51zM607.53 195.93h2.51v9.93h-2.51zM609.64 195.93h2.51v9.93h-2.51zM590.64 205.47h2.51v9.93h-2.51zM596.98 205.47h2.51v9.93h-2.51zM599.09 205.47h2.51v9.93h-2.51zM641.31 215h2.51v9.93h-2.51zM645.53 215h2.51v9.93h-2.51zM601.2 224.53h2.51v9.93h-2.51zM645.53 224.53h2.51v9.93h-2.51zM647.64 224.53h2.51v9.93h-2.51zM622.31 243.59h2.51v9.93h-2.51zM653.98 243.59h2.51v9.93h-2.51zM590.64 253.12h2.51v9.93h-2.51zM626.53 253.12h2.51v9.93h-2.51zM615.98 262.65h2.51v9.93h-2.51zM618.09 262.65h2.51v9.93h-2.51zM639.2 262.65h2.51v9.93h-2.51zM647.64 262.65h2.51v9.93h-2.51zM582.2 272.18h2.51v9.93h-2.51zM599.09 272.18h2.51v9.93h-2.51zM613.87 272.18h2.51v9.93h-2.51zM618.09 272.18h2.51v9.93h-2.51zM624.42 272.18h2.51v9.93h-2.51zM626.53 272.18h2.51v9.93h-2.51zM637.09 272.18h2.51v9.93h-2.51zM649.76 272.18h2.51v9.93h-2.51zM611.76 281.71h2.51v9.93h-2.51zM637.09 281.71h2.51v9.93h-2.51zM647.64 281.71h2.51v9.93h-2.51zM601.2 291.24h2.51v9.93h-2.51zM605.42 291.24h2.51v9.93h-2.51zM641.31 291.24h2.51v9.93h-2.51zM645.53 291.24h2.51v9.93h-2.51z"/>
<path fill="#000000" shape-rendering="crispEdges" d="M615.98 91.1h2.51v9.93h-2.51zM618.09 91.1h2.51v9.93h-2.51zM626.53 91.1h2.51v9.93h-2.51zM594.87 119.69h2.51v9.93h-2.51zM603.31 119.69h2.51v9.93h-2.51zM605.42 119.69h2.51v9.93h-2.51zM607.53 119.69h2.51v9.93h-2.51zM611.76 119.69h2.51v9.93h-2.51zM620.2 119.69h2.51v9.93h-2.51zM639.2 119.69h2.51v9.93h-2.51zM641.31 119.69h2.51v9.93h-2.51zM643.42 119.69h2.51v9.93h-2.51zM651.87 119.69h2.51v9.93h-2.51zM653.98 119.69h2.51v9.93h-2.51zM596.98 138.75h2.51v9.93h-2.51zM605.42 138.75h2.51v9.93h-2.51zM607.53 138.75h2.51v9.93h-2.51zM618.09 138.75h2.51v9.93h-2.51zM622.31 138.75h2.51v9.93h-2.51zM630.76 138.75h2.51v9.93h-2.51zM647.64 138.75h2.51v9.93h-2.51zM588.53 157.81h2.51v9.93h-2.51zM584.31 176.87h2.51v9.93h-2.51zM586.42 176.87h2.51v9.93h-2.51zM588.53 176.87h2.51v9.93h-2.51zM590.64 176.87h2.51v9.93h-2.51zM594.87 176.87h2.51v9.93h-2.51zM596.98 176.87h2.51v9.93h-2.51zM607.53 176.87h2.51v9.93h-2.51zM609.64 176.87h2.51v9.93h-2.51zM624.42 176.87h2.51v9.93h-2.51zM626.53 176.87h2.51v9.93h-2.51zM628.64 176.87h2.51v9.93h-2.51zM630.76 176.87h2.51v9.93h-2.51zM632.87 176.87h2.51v9.93h-2.51zM639.2 176.87h2.51v9.93h-2.51zM643.42 176.87h2.51v9.93h-2.51zM645.53 176.87h2.51v9.93h-2.51zM647.64 176.87h2.51v9.93h-2.51zM592.76 195.93h2.51v9.93h-2.51zM611.76 195.93h2.51v9.93h-2.51zM613.87 195.93h2.51v9.93h-2.51zM628.64 195.93h2.51v9.93h-2.51zM594.87 205.47h2.51v9.93h-2.51zM586.42 215h2.51v9.93h-2.51zM596.98 215h2.51v9.93h-2.51zM611.76 224.53h2.51v9.93h-2.51zM637.09 224.53h2.51v9.93h-2.51zM639.2 224.53h2.51v9.93h-2.51zM588.53 234.06h2.51v9.93h-2.51zM601.2 234.06h2.51v9.93h-2.51zM603.31 234.06h2.51v9.93h-2.51zM607.53 234.06h2.51v9.93h-2.51zM613.87 234.06h2.51v9.93h-2.51zM622.31 234.06h2.51v9.93h-2.51zM624.42 234.06h2.51v9.93h-2.51zM649.76 234.06h2.51v9.93h-2.51zM582.2 253.12h2.51v9.93h-2.51zM618.09 253.12h2.51v9.93h-2.51zM632.87 262.65h2.51v9.93h-2.51zM630.76 272.18h2.51v9.93h-2.51zM605.42 281.71h2.51v9.93h-2.51zM626.53 281.71h2.51v9.93h-2.51zM590.64 300.77h2.51v9.93h-2.51zM594.87 300.77h2.51v9.93h-2.51zM599.09 300.77h2.51v9.93h-2.51zM603.31 300.77h2.51v9.93h-2.51zM611.76 300.77h2.51v9.93h-2.51zM613.87 300.77h2.51v9.93h-2.51zM626.53 300.77h2.51v9.93h-2.51zM643.42 300.77h2.51v9.93h-2.51z"/>
<path fill="#b5b5b5" shape-rendering="crispEdges" d="M620.2 91.1h2.51v9.93h-2.51zM609.64 100.63h2.51v9.93h-2.51zM594.87 167.34h2.51v9.93h-2.51zM596.98 167.34h2.51v9.93h-2.51zM615.98 243.59h2.51v9.93h-2.51zM656.09 291.24h2.51v9.93h-2.51z"/>
<path fill="#2a2a2a" shape-rendering="crispEdges" d="M622.31 91.1h2.51v9.93h-2.51zM584.31 100.63h2.51v9.93h-2.51zM601.2 100.63h2.51v9.93h-2.51zM634.98 100.63h2.51v9.93h-2.51zM645.53 100.63h2.51v9.93h-2.51zM588.53 119.69h2.51v9.93h-2.51zM590.64 119.69h2.51v9.93h-2.51zM601.2 119.69h2.51v9.93h-2.51zM624.42 119.69h2.51v9.93h-2.51zM628.64 119.69h2.51v9.93h-2.51zM630.76 119.69h2.51v9.93h-2.51zM645.53 119.69h2.51v9.93h-2.51zM649.76 119.69h2.51v9.93h-2.51zM599.09 129.22h2.51v9.93h-2.51zM601.2 138.75h2.51v9.93h-2.51zM620.2 138.75h2.51v9.93h-2.51zM632.87 138.75h2.51v9.93h-2.51zM641.31 138.75h2.51v9.93h-2.51zM651.87 138.75h2.51v9.93h-2.51zM584.31 148.28h2.51v9.93h-2.51zM582.2 157.81h2.51v9.93h-2.51zM603.31 157.81h2.51v9.93h-2.51zM645.53 157.81h2.51v9.93h-2.51zM653.98 157.81h2.51v9.93h-2.51zM626.53 167.34h2.51v9.93h-2.51zM592.76 176.87h2.51v9.93h-2.51zM599.09 176.87h2.51v9.93h-2.51zM611.76 176.87h2.51v9.93h-2.51zM618.09 176.87h2.51v9.93h-2.51zM620.2 176.87h2.51v9.93h-2.51zM637.09 176.87h2.51v9.93h-2.51zM653.98 176.87h2.51v9.93h-2.51zM656.09 176.87h2.51v9.93h-2.51zM584.31 186.4h2.51v9.93h-2.51zM599.09 186.4h2.51v9.93h-2.51zM613.87 186.4h2.51v9.93h-2.51zM632.87 186.4h2.51v9.93h-2.51zM630.76 195.93h2.51v9.93h-2.51zM611.76 205.47h2.51v9.93h-2.51zM624.42 205.47h2.51v9.93h-2.51zM634.98 205.47h2.51v9.93h-2.51zM599.09 215h2.51v9.93h-2.51zM582.2 224.53h2.51v9.93h-2.51zM599.09 224.53h2.51v9.93h-2.51zM609.64 224.53h2.51v9.93h-2.51zM613.87 224.53h2.51v9.93h-2.51zM618.09 224.53h2.51v9.93h-2.51zM624.42 224.53h2.51v9.93h-2.51zM628.64 224.53h2.51v9.93h-2.51zM586.42 234.06h2.51v9.93h-2.51zM620.2 234.06h2.51v9.93h-2.51zM626.53 234.06h2.51v9.93h-2.51zM632.87 234.06h2.51v9.93h-2.51zM615.98 253.12h2.51v9.93h-2.51zM651.87 253.12h2.51v9.93h-2.51zM609.64 262.65h2.51v9.93h-2.51zM626.53 262.65h2.51v9.93h-2.51zM634.98 262.65h2.51v9.93h-2.51zM653.98 262.65h2.51v9.93h-2.51zM592.76 281.71h2.51v9.93h-2.51zM594.87 281.71h2.51v9.93h-2.51zM599.09 281.71h2.51v9.93h-2.51zM609.64 281.71h2.51v9.93h-2.51zM613.87 281.71h2.51v9.93h-2.51zM626.53 291.24h2.51v9.93h-2.51zM582.2 300.77h2.51v9.93h-2.51zM596.98 300.77h2.51v9.93h-2.51zM615.98 300.77h2.51v9.93h-2.51zM645.53 300.77h2.51v9.93h-2.51z"/>
<path fill="#4a4a4a" shape-rendering="crispEdges" d="M624.42 91.1h2.51v9.93h-2.51zM645.53 91.1h2.51v9.93h-2.51zM656.09 91.1h2.51v9.93h-2.51zM653.98 100.63h2.51v9.93h-2.51zM611.76 129.22h2.51v9.93h-2.51zM584.31 138.75h2.51v9.93h-2.51zM634.98 138.75h2.51v9.93h-2.51zM590.64 148.28h2.51v9.93h-2.51zM605.42 148.28h2.51v9.93h-2.51zM611.76 148.28h2.51v9.93h-2.51zM643.42 148.28h2.51v9.93h-2.51zM599.09 157.81h2.51v9.93h-2.51zM618.09 157.81h2.51v9.93h-2.51zM637.09 157.81h2.51v9.93h-2.51zM607.53 167.34h2.51v9.93h-2.51zM628.64 167.34h2.51v9.93h-2.51zM643.42 167.34h2.51v9.93h-2.51zM656.09 167.34h2.51v9.93h-2.51zM586.42 186.4h2.51v9.93h-2.51zM594.87 186.4h2.51v9.93h-2.51zM601.2 186.4h2.51v9.93h-2.51zM605.42 186.4h2.51v9.93h-2.51zM607.53 186.4h2.51v9.93h-2.51zM639.2 186.4h2.51v9.93h-2.51zM643.42 186.4h2.51v9.93h-2.51zM647.64 186.4h2.51v9.93h-2.51zM649.76 186.4h2.51v9.93h-2.51zM651.87 186.4h2.51v9.93h-2.51zM596.98 195.93h2.51v9.93h-2.51zM651.87 195.93h2.51v9.93h-2.51zM586.42 205.47h2.51v9.93h-2.51zM605.42 205.47h2.51v9.93h-2.51zM632.87 205.47h2.51v9.93h-2.51zM601.2 215h2.51v9.93h-2.51zM630.76 215h2.51v9.93h-2.51zM632.87 215h2.51v9.93h-2.51zM651.87 215h2.51v9.93h-2.51zM653.98 215h2.51v9.93h-2.51zM584.31 224.53h2.51v9.93h-2.51zM590.64 224.53h2.51v9.93h-2.51zM592.76 224.53h2.51v9.93h-2.51zM656.09 224.53h2.51v9.93h-2.51zM596.98 253.12h2.51v9.93h-2.51zM607.53 253.12h2.51v9.93h-2.51zM613.87 253.12h2.51v9.93h-2.51zM634.98 253.12h2.51v9.93h-2.51zM603.31 262.65h2.51v9.93h-2.51zM605.42 262.65h2.51v9.93h-2.51zM620.2 262.65h2.51v9.93h-2.51zM630.76 262.65h2.51v9.93h-2.51zM645.53 262.65h2.51v9.93h-2.51zM649.76 262.65h2.51v9.93h-2.51zM596.98 272.18h2.51v9.93h-2.51zM605.42 272.18h2.51v9.93h-2.51zM615.98 272.18h2.51v9.93h-2.51zM582.2 281.71h2.51v9.93h-2.51zM601.2 281.71h2.51v9.93h-2.51zM628.64 281.71h2.51v9.93h-2.51zM653.98 281.71h2.51v9.93h-2.51zM590.64 291.24h2.51v9.93h-2.51zM607.53 300.77h2.51v9.93h-2.51zM634.98 300.77h2.51v9.93h-2.51zM637.09 300.77h2.51v9.93h-2.51zM656.09 300.77h2.51v9.93h-2.51z"/>
<path fill="#8a8a8a" shape-rendering="crispEdges" d="M628.64 91.1h2.51v9.93h-2.51zM653.98 91.1h2.51v9.93h-2.51zM615.98 100.63h2.51v9.93h-2.51zM618.09 100.63h2.51v9.93h-2.51zM592.76 129.22h2.51v9.93h-2.51zM618.09 129.22h2.51v9.93h-2.51zM637.09 129.22h2.51v9.93h-2.51zM601.2 148.28h2.51v9.93h-2.51zM641.31 157.81h2.51v9.93h-2.51zM611.76 167.34h2.51v9.93h-2.51zM622.31 186.4h2.51v9.93h-2.51zM603.31 205.47h2.51v9.93h-2.51zM630.76 205.47h2.51v9.93h-2.51zM586.42 224.53h2.51v9.93h-2.51zM599.09 243.59h2.51v9.93h-2.51zM632.87 243.59h2.51v9.93h-2.51zM590.64 272.18h2.51v9.93h-2.51zM641.31 281.71h2.51v9.93h-2.51zM649.76 281.71h2.51v9.93h-2.51zM582.2 291.24h2.51v9.93h-2.51zM586.42 291.24h2.51v9.93h-2.51zM611.76 291.24h2.51v9.93h-2.51z"/>
<path fill="#606060" shape-rendering="crispEdges" d="M630.76 91.1h2.51v9.93h-2.51zM649.76 91.1h2.51v9.93h-2.51zM622.31 100.63h2.51v9.93h-2.51zM630.76 100.63h2.51v9.93h-2.51zM607.53 129.22h2.51v9.93h-2.51zM582.2 138.75h2.51v9.93h-2.51zM599.09 138.75h2.51v9.93h-2.51zM609.64 138.75h2.51v9.93h-2.51zM592.76 148.28h2.51v9.93h-2.51zM620.2 148.28h2.51v9.93h-2.51zM601.2 157.81h2.51v9.93h-2.51zM643.42 157.81h2.51v9.93h-2.51zM615.98 167.34h2.51v9.93h-2.51zM630.76 167.34h2.51v9.93h-2.51zM641.31 167.34h2.51v9.93h-2.51zM588.53 186.4h2.51v9.93h-2.51zM596.98 186.4h2.51v9.93h-2.51zM643.42 195.93h2.51v9.93h-2.51zM618.09 205.47h2.51v9.93h-2.51zM622.31 205.47h2.51v9.93h-2.51zM590.64 215h2.51v9.93h-2.51zM618.09 215h2.51v9.93h-2.51zM620.2 215h2.51v9.93h-2.51zM622.31 215h2.51v9.93h-2.51zM594.87 224.53h2.51v9.93h-2.51zM596.98 224.53h2.51v9.93h-2.51zM643.42 224.53h2.51v9.93h-2.51zM651.87 224.53h2.51v9.93h-2.51zM601.2 243.59h2.51v9.93h-2.51zM603.31 243.59h2.51v9.93h-2.51zM624.42 243.59h2.51v9.93h-2.51zM626.53 243.59h2.51v9.93h-2.51zM647.64 243.59h2.51v9.93h-2.51zM651.87 243.59h2.51v9.93h-2.51zM656.09 243.59h2.51v9.93h-2.51zM611.76 253.12h2.51v9.93h-2.51zM628.64 253.12h2.51v9.93h-2.51zM649.76 253.12h2.51v9.93h-2.51zM594.87 262.65h2.51v9.93h-2.51zM596.98 262.65h2.51v9.93h-2.51zM599.09 262.65h2.51v9.93h-2.51zM613.87 262.65h2.51v9.93h-2.51zM586.42 272.18h2.51v9.93h-2.51zM622.31 272.18h2.51v9.93h-2.51zM607.53 281.71h2.51v9.93h-2.51zM634.98 281.71h2.51v9.93h-2.51zM584.31 291.24h2.51v9.93h-2.51zM599.09 291.24h2.51v9.93h-2.51zM647.64 291.24h2.51v9.93h-2.51z"/>
<path fill="#0b0b0b" shape-rendering="crispEdges" d="M582.2 100.63h2.51v9.93h-2.51zM596.98 119.69h2.51v9.93h-2.51zM609.64 119.69h2.51v9.93h-2.51zM622.31 119.69h2.51v9.93h-2.51zM632.87 119.69h2.51v9.93h-2.51zM649.76 138.75h2.51v9.93h-2.51zM592.76 157.81h2.51v9.93h-2.51zM605.42 176.87h2.51v9.93h-2.51zM641.31 176.87h2.51v9.93h-2.51zM649.76 176.87h2.51v9.93h-2.51zM653.98 195.93h2.51v9.93h-2.51zM639.2 205.47h2.51v9.93h-2.51zM626.53 215h2.51v9.93h-2.51zM588.53 224.53h2.51v9.93h-2.51zM622.31 224.53h2.51v9.93h-2.51zM609.64 234.06h2.51v9.93h-2.51zM634.98 234.06h2.51v9.93h-2.51zM639.2 234.06h2.51v9.93h-2.51zM653.98 234.06h2.51v9.93h-2.51zM584.31 253.12h2.51v9.93h-2.51zM599.09 253.12h2.51v9.93h-2.51zM620.2 253.12h2.51v9.93h-2.51zM592.76 300.77h2.51v9.93h-2.51zM630.76 300.77h2.51v9.93h-2.51z"/>
<path fill="#202020" shape-rendering="crispEdges" d="M643.42 100.63h2.51v9.93h-2.51zM584.31 119.69h2.51v9.93h-2.51zM615.98 119.69h2.51v9.93h-2.51zM618.09 119.69h2.51v9.93h-2.51zM634.98 119.69h2.51v9.93h-2.51zM637.09 119.69h2.51v9.93h-2.51zM647.64 119.69h2.51v9.93h-2.51zM601.2 129.22h2.51v9.93h-2.51zM615.98 138.75h2.51v9.93h-2.51zM637.09 138.75h2.51v9.93h-2.51zM639.2 138.75h2.51v9.93h-2.51zM645.53 138.75h2.51v9.93h-2.51zM603.31 148.28h2.51v9.93h-2.51zM641.31 148.28h2.51v9.93h-2.51zM656.09 148.28h2.51v9.93h-2.51zM601.2 176.87h2.51v9.93h-2.51zM615.98 176.87h2.51v9.93h-2.51zM651.87 176.87h2.51v9.93h-2.51zM582.2 186.4h2.51v9.93h-2.51zM641.31 186.4h2.51v9.93h-2.51zM590.64 195.93h2.51v9.93h-2.51zM626.53 195.93h2.51v9.93h-2.51zM637.09 195.93h2.51v9.93h-2.51zM656.09 195.93h2.51v9.93h-2.51zM582.2 205.47h2.51v9.93h-2.51zM620.2 205.47h2.51v9.93h-2.51zM626.53 205.47h2.51v9.93h-2.51zM643.42 205.47h2.51v9.93h-2.51zM656.09 205.47h2.51v9.93h-2.51zM615.98 224.53h2.51v9.93h-2.51zM582.2 234.06h2.51v9.93h-2.51zM637.09 234.06h2.51v9.93h-2.51zM645.53 234.06h2.51v9.93h-2.51zM603.31 253.12h2.51v9.93h-2.51zM605.42 253.12h2.51v9.93h-2.51zM584.31 262.65h2.51v9.93h-2.51zM586.42 262.65h2.51v9.93h-2.51zM586.42 300.77h2.51v9.93h-2.51zM601.2 300.77h2.51v9.93h-2.51zM605.42 300.77h2.51v9.93h-2.51zM609.64 300.77h2.51v9.93h-2.51zM618.09 300.77h2.51v9.93h-2.51z"/>
<path fill="#ffffff" shape-rendering="crispEdges" d="M582.2 110.16h76v9.93h-76z"/>
<path fill="#151515" shape-rendering="crispEdges" d="M592.76 119.69h2.51v9.93h-2.51zM599.09 119.69h2.51v9.93h-2.51zM613.87 119.69h2.51v9.93h-2.51zM656.09 119.69h2.51v9.93h-2.51zM594.87 138.75h2.51v9.93h-2.51zM582.2 176.87h2.51v9.93h-2.51zM603.31 176.87h2.51v9.93h-2.51zM613.87 176.87h2.51v9.93h-2.51zM622.31 176.87h2.51v9.93h-2.51zM634.98 176.87h2.51v9.93h-2.51zM656.09 186.4h2.51v9.93h-2.51zM603.31 195.93h2.51v9.93h-2.51zM615.98 195.93h2.51v9.93h-2.51zM639.2 195.93h2.51v9.93h-2.51zM628.64 205.47h2.51v9.93h-2.51zM645.53 205.47h2.51v9.93h-2.51zM647.64 205.47h2.51v9.93h-2.51zM588.53 215h2.51v9.93h-2.51zM634.98 224.53h2.51v9.93h-2.51zM584.31 234.06h2.51v9.93h-2.51zM590.64 234.06h2.51v9.93h-2.51zM592.76 234.06h2.51v9.93h-2.51zM611.76 234.06h2.51v9.93h-2.51zM615.98 234.06h2.51v9.93h-2.51zM647.64 234.06h2.51v9.93h-2.51zM651.87 234.06h2.51v9.93h-2.51zM601.2 253.12h2.51v9.93h-2.51zM588.53 262.65h2.51v9.93h-2.51zM632.87 272.18h2.51v9.93h-2.51zM645.53 272.18h2.51v9.93h-2.51zM596.98 281.71h2.51v9.93h-2.51zM584.31 300.77h2.51v9.93h-2.51zM588.53 300.77h2.51v9.93h-2.51zM628.64 300.77h2.51v9.93h-2.51zM632.87 300.77h2.51v9.93h-2.51zM649.76 300.77h2.51v9.93h-2.51z"/>
<path fill="#9f9f9f" shape-rendering="crispEdges" d="M582.2 129.22h2.51v9.93h-2.51zM584.31 129.22h2.51v9.93h-2.51zM596.98 129.22h2.51v9.93h-2.51zM626.53 129.22h2.51v9.93h-2.51zM632.87 129.22h2.51v9.93h-2.51zM630.76 148.28h2.51v9.93h-2.51zM622.31 167.34h2.51v9.93h-2.51zM637.09 167.34h2.51v9.93h-2.51zM584.31 215h2.51v9.93h-2.51zM609.64 215h2.51v9.93h-2.51zM643.42 215h2.51v9.93h-2.51zM647.64 215h2.51v9.93h-2.51zM584.31 243.59h2.51v9.93h-2.51zM639.2 243.59h2.51v9.93h-2.51zM590.64 262.65h2.51v9.93h-2.51zM594.87 272.18h2.51v9.93h-2.51zM620.2 281.71h2.51v9.93h-2.51zM588.53 291.24h2.51v9.93h-2.51zM603.31 291.24h2.51v9.93h-2.51zM609.64 291.24h2.51v9.93h-2.51zM653.98 291.24h2.51v9.93h-2.51z"/>
<path fill="#bfbfbf" shape-rendering="crispEdges" d="M586.42 129.22h2.51v9.93h-2.51zM588.53 129.22h2.51v9.93h-2.51zM615.98 129.22h2.51v9.93h-2.51zM630.76 129.22h2.51v9.93h-2.51zM647.64 129.22h2.51v9.93h-2.51zM651.87 129.22h2.51v9.93h-2.51zM653.98 129.22h2.51v9.93h-2.51zM590.64 157.81h2.51v9.93h-2.51zM590.64 243.59h2.51v9.93h-2.51zM641.31 243.59h2.51v9.93h-2.51z"/>
<path fill="#d4d4d4" shape-rendering="crispEdges" d="M624.42 129.22h2.51v9.93h-2.51zM592.76 291.24h2.51v9.93h-2.51z"/>
<path fill="#cacaca" shape-rendering="crispEdges" d="M645.53 129.22h2.51v9.93h-2.51zM649.76 129.22h2.51v9.93h-2.51zM611.76 157.81h2.51v9.93h-2.51zM634.98 215h2.51v9.93h-2.51z"/>
<path fill="#dfdfdf" shape-rendering="crispEdges" d="M624.42 215h2.51v9.93h-2.51zM586.42 243.59h2.51v9.93h-2.51z"/>
<path fill="#f4f4f4" shape-rendering="crispEdges" d="M588.53 243.59h2.51v9.93h-2.51z"/>
<rect x="588.0" y="91.1" width="3" height="219.2" fill="#66ee55"/>
<rect x="649.0" y="91.1" width="3" height="219.2" fill="#e8322a"/>
<path fill="#4a4a4a" shape-rendering="crispEdges" d="M670.1 91.1h2.49v9.93h-2.49zM678.47 91.1h2.49v9.93h-2.49zM695.2 91.1h2.49v9.93h-2.49zM737.03 91.1h2.49v9.93h-2.49zM697.29 100.63h2.49v9.93h-2.49zM703.57 100.63h2.49v9.93h-2.49zM714.02 100.63h2.49v9.93h-2.49zM739.12 100.63h2.49v9.93h-2.49zM741.22 100.63h2.49v9.93h-2.49zM732.85 129.22h2.49v9.93h-2.49zM739.12 129.22h2.49v9.93h-2.49zM743.31 129.22h2.49v9.93h-2.49zM678.47 138.75h2.49v9.93h-2.49zM684.74 138.75h2.49v9.93h-2.49zM701.48 138.75h2.49v9.93h-2.49zM684.74 148.28h2.49v9.93h-2.49zM688.92 157.81h2.49v9.93h-2.49zM697.29 157.81h2.49v9.93h-2.49zM705.66 157.81h2.49v9.93h-2.49zM682.65 167.34h2.49v9.93h-2.49zM732.85 167.34h2.49v9.93h-2.49zM678.47 205.47h2.49v9.93h-2.49zM680.56 205.47h2.49v9.93h-2.49zM693.11 205.47h2.49v9.93h-2.49zM697.29 205.47h2.49v9.93h-2.49zM726.58 205.47h2.49v9.93h-2.49zM739.12 205.47h2.49v9.93h-2.49zM686.83 215h2.49v9.93h-2.49zM688.92 215h2.49v9.93h-2.49zM693.11 215h2.49v9.93h-2.49zM739.12 215h2.49v9.93h-2.49zM716.12 243.59h2.49v9.93h-2.49zM686.83 253.12h2.49v9.93h-2.49zM697.29 253.12h2.49v9.93h-2.49zM714.02 253.12h2.49v9.93h-2.49zM730.76 253.12h2.49v9.93h-2.49zM739.12 253.12h2.49v9.93h-2.49zM691.02 262.65h2.49v9.93h-2.49zM718.21 262.65h2.49v9.93h-2.49zM726.58 262.65h2.49v9.93h-2.49zM678.47 272.18h2.49v9.93h-2.49zM724.48 272.18h2.49v9.93h-2.49zM676.38 281.71h2.49v9.93h-2.49zM686.83 281.71h2.49v9.93h-2.49zM699.38 281.71h2.49v9.93h-2.49zM674.28 291.24h2.49v9.93h-2.49zM680.56 300.77h2.49v9.93h-2.49zM682.65 300.77h2.49v9.93h-2.49zM711.93 300.77h2.49v9.93h-2.49z"/>
<path fill="#8a8a8a" shape-rendering="crispEdges" d="M672.19 91.1h2.49v9.93h-2.49zM705.66 91.1h2.49v9.93h-2.49zM691.02 100.63h2.49v9.93h-2.49zM720.3 129.22h2.49v9.93h-2.49zM699.38 157.81h2.49v9.93h-2.49zM703.57 157.81h2.49v9.93h-2.49zM730.76 157.81h2.49v9.93h-2.49zM678.47 186.4h2.49v9.93h-2.49zM703.57 186.4h2.49v9.93h-2.49zM728.67 186.4h2.49v9.93h-2.49zM737.03 186.4h2.49v9.93h-2.49zM686.83 205.47h2.49v9.93h-2.49zM674.28 215h2.49v9.93h-2.49zM714.02 215h2.49v9.93h-2.49zM676.38 243.59h2.49v9.93h-2.49zM684.74 243.59h2.49v9.93h-2.49zM686.83 243.59h2.49v9.93h-2.49zM688.92 243.59h2.49v9.93h-2.49zM691.02 243.59h2.49v9.93h-2.49zM701.48 243.59h2.49v9.93h-2.49zM709.84 243.59h2.49v9.93h-2.49zM720.3 243.59h2.49v9.93h-2.49zM734.94 243.59h2.49v9.93h-2.49zM678.47 262.65h2.49v9.93h-2.49zM743.31 272.18h2.49v9.93h-2.49zM705.66 281.71h2.49v9.93h-2.49zM672.19 291.24h2.49v9.93h-2.49zM693.11 291.24h2.49v9.93h-2.49zM695.2 291.24h2.49v9.93h-2.49zM709.84 300.77h2.49v9.93h-2.49zM722.39 300.77h2.49v9.93h-2.49z"/>
<path fill="#6a6a6a" shape-rendering="crispEdges" d="M674.28 91.1h2.49v9.93h-2.49zM682.65 91.1h2.49v9.93h-2.49zM672.19 100.63h2.49v9.93h-2.49zM688.92 100.63h2.49v9.93h-2.49zM693.11 100.63h2.49v9.93h-2.49zM695.2 100.63h2.49v9.93h-2.49zM686.83 129.22h2.49v9.93h-2.49zM699.38 129.22h2.49v9.93h-2.49zM701.48 129.22h2.49v9.93h-2.49zM707.75 129.22h2.49v9.93h-2.49zM711.93 129.22h2.49v9.93h-2.49zM734.94 129.22h2.49v9.93h-2.49zM699.38 138.75h2.49v9.93h-2.49zM676.38 148.28h2.49v9.93h-2.49zM703.57 148.28h2.49v9.93h-2.49zM674.28 157.81h2.49v9.93h-2.49zM737.03 157.81h2.49v9.93h-2.49zM739.12 157.81h2.49v9.93h-2.49zM741.22 157.81h2.49v9.93h-2.49zM728.67 167.34h2.49v9.93h-2.49zM705.66 186.4h2.49v9.93h-2.49zM714.02 186.4h2.49v9.93h-2.49zM682.65 215h2.49v9.93h-2.49zM691.02 215h2.49v9.93h-2.49zM726.58 215h2.49v9.93h-2.49zM672.19 243.59h2.49v9.93h-2.49zM699.38 243.59h2.49v9.93h-2.49zM730.76 243.59h2.49v9.93h-2.49zM676.38 272.18h2.49v9.93h-2.49zM686.83 272.18h2.49v9.93h-2.49zM728.67 272.18h2.49v9.93h-2.49zM730.76 272.18h2.49v9.93h-2.49zM670.1 281.71h2.49v9.93h-2.49zM693.11 281.71h2.49v9.93h-2.49zM714.02 281.71h2.49v9.93h-2.49zM722.39 281.71h2.49v9.93h-2.49zM678.47 291.24h2.49v9.93h-2.49zM701.48 291.24h2.49v9.93h-2.49zM730.76 291.24h2.49v9.93h-2.49zM739.12 291.24h2.49v9.93h-2.49zM707.75 300.77h2.49v9.93h-2.49z"/>
<path fill="#404040" shape-rendering="crispEdges" d="M676.38 91.1h2.49v9.93h-2.49zM684.74 91.1h2.49v9.93h-2.49zM691.02 91.1h2.49v9.93h-2.49zM693.11 91.1h2.49v9.93h-2.49zM716.12 91.1h2.49v9.93h-2.49zM718.21 91.1h2.49v9.93h-2.49zM726.58 91.1h2.49v9.93h-2.49zM730.76 91.1h2.49v9.93h-2.49zM732.85 91.1h2.49v9.93h-2.49zM674.28 100.63h2.49v9.93h-2.49zM676.38 100.63h2.49v9.93h-2.49zM684.74 100.63h2.49v9.93h-2.49zM743.31 100.63h2.49v9.93h-2.49zM737.03 129.22h2.49v9.93h-2.49zM682.65 138.75h2.49v9.93h-2.49zM686.83 138.75h2.49v9.93h-2.49zM691.02 138.75h2.49v9.93h-2.49zM722.39 138.75h2.49v9.93h-2.49zM741.22 138.75h2.49v9.93h-2.49zM674.28 148.28h2.49v9.93h-2.49zM688.92 148.28h2.49v9.93h-2.49zM732.85 148.28h2.49v9.93h-2.49zM739.12 148.28h2.49v9.93h-2.49zM711.93 157.81h2.49v9.93h-2.49zM726.58 157.81h2.49v9.93h-2.49zM728.67 157.81h2.49v9.93h-2.49zM680.56 167.34h2.49v9.93h-2.49zM705.66 167.34h2.49v9.93h-2.49zM676.38 205.47h2.49v9.93h-2.49zM724.48 205.47h2.49v9.93h-2.49zM695.2 215h2.49v9.93h-2.49zM701.48 215h2.49v9.93h-2.49zM716.12 215h2.49v9.93h-2.49zM718.21 215h2.49v9.93h-2.49zM678.47 224.53h2.49v9.93h-2.49zM682.65 224.53h2.49v9.93h-2.49zM705.66 224.53h2.49v9.93h-2.49zM695.2 243.59h2.49v9.93h-2.49zM718.21 243.59h2.49v9.93h-2.49zM728.67 243.59h2.49v9.93h-2.49zM670.1 253.12h2.49v9.93h-2.49zM674.28 262.65h2.49v9.93h-2.49zM682.65 262.65h2.49v9.93h-2.49zM686.83 262.65h2.49v9.93h-2.49zM680.56 272.18h2.49v9.93h-2.49zM684.74 272.18h2.49v9.93h-2.49zM705.66 272.18h2.49v9.93h-2.49zM682.65 281.71h2.49v9.93h-2.49zM707.75 281.71h2.49v9.93h-2.49zM734.94 281.71h2.49v9.93h-2.49zM720.3 291.24h2.49v9.93h-2.49zM737.03 291.24h2.49v9.93h-2.49zM672.19 300.77h2.49v9.93h-2.49zM691.02 300.77h2.49v9.93h-2.49zM716.12 300.77h2.49v9.93h-2.49zM739.12 300.77h2.49v9.93h-2.49z"/>
<path fill="#606060" shape-rendering="crispEdges" d="M680.56 91.1h2.49v9.93h-2.49zM714.02 91.1h2.49v9.93h-2.49zM739.12 91.1h2.49v9.93h-2.49zM686.83 100.63h2.49v9.93h-2.49zM709.84 100.63h2.49v9.93h-2.49zM688.92 129.22h2.49v9.93h-2.49zM724.48 138.75h2.49v9.93h-2.49zM672.19 148.28h2.49v9.93h-2.49zM682.65 148.28h2.49v9.93h-2.49zM699.38 148.28h2.49v9.93h-2.49zM726.58 148.28h2.49v9.93h-2.49zM741.22 148.28h2.49v9.93h-2.49zM676.38 157.81h2.49v9.93h-2.49zM678.47 157.81h2.49v9.93h-2.49zM693.11 157.81h2.49v9.93h-2.49zM716.12 157.81h2.49v9.93h-2.49zM695.2 186.4h2.49v9.93h-2.49zM722.39 186.4h2.49v9.93h-2.49zM682.65 205.47h2.49v9.93h-2.49zM699.38 205.47h2.49v9.93h-2.49zM670.1 215h2.49v9.93h-2.49zM672.19 215h2.49v9.93h-2.49zM722.39 215h2.49v9.93h-2.49zM728.67 215h2.49v9.93h-2.49zM703.57 262.65h2.49v9.93h-2.49zM707.75 262.65h2.49v9.93h-2.49zM722.39 262.65h2.49v9.93h-2.49zM693.11 272.18h2.49v9.93h-2.49zM695.2 272.18h2.49v9.93h-2.49zM703.57 272.18h2.49v9.93h-2.49zM726.58 272.18h2.49v9.93h-2.49zM678.47 281.71h2.49v9.93h-2.49zM680.56 281.71h2.49v9.93h-2.49zM691.02 281.71h2.49v9.93h-2.49zM701.48 281.71h2.49v9.93h-2.49zM732.85 281.71h2.49v9.93h-2.49zM741.22 281.71h2.49v9.93h-2.49zM743.31 281.71h2.49v9.93h-2.49zM703.57 291.24h2.49v9.93h-2.49zM709.84 291.24h2.49v9.93h-2.49zM722.39 291.24h2.49v9.93h-2.49zM732.85 291.24h2.49v9.93h-2.49zM741.22 291.24h2.49v9.93h-2.49zM678.47 300.77h2.49v9.93h-2.49z"/>
<path fill="#2a2a2a" shape-rendering="crispEdges" d="M686.83 91.1h2.49v9.93h-2.49zM724.48 100.63h2.49v9.93h-2.49zM674.28 119.69h2.49v9.93h-2.49zM682.65 119.69h2.49v9.93h-2.49zM695.2 119.69h2.49v9.93h-2.49zM741.22 119.69h2.49v9.93h-2.49zM695.2 129.22h2.49v9.93h-2.49zM672.19 138.75h2.49v9.93h-2.49zM707.75 138.75h2.49v9.93h-2.49zM707.75 148.28h2.49v9.93h-2.49zM716.12 148.28h2.49v9.93h-2.49zM737.03 148.28h2.49v9.93h-2.49zM691.02 157.81h2.49v9.93h-2.49zM709.84 157.81h2.49v9.93h-2.49zM743.31 167.34h2.49v9.93h-2.49zM684.74 176.87h2.49v9.93h-2.49zM709.84 176.87h2.49v9.93h-2.49zM718.21 186.4h2.49v9.93h-2.49zM680.56 195.93h2.49v9.93h-2.49zM684.74 195.93h2.49v9.93h-2.49zM714.02 195.93h2.49v9.93h-2.49zM701.48 205.47h2.49v9.93h-2.49zM705.66 205.47h2.49v9.93h-2.49zM709.84 205.47h2.49v9.93h-2.49zM718.21 205.47h2.49v9.93h-2.49zM722.39 205.47h2.49v9.93h-2.49zM728.67 205.47h2.49v9.93h-2.49zM703.57 215h2.49v9.93h-2.49zM711.93 215h2.49v9.93h-2.49zM720.3 215h2.49v9.93h-2.49zM674.28 224.53h2.49v9.93h-2.49zM693.11 224.53h2.49v9.93h-2.49zM699.38 224.53h2.49v9.93h-2.49zM718.21 224.53h2.49v9.93h-2.49zM732.85 224.53h2.49v9.93h-2.49zM737.03 224.53h2.49v9.93h-2.49zM739.12 224.53h2.49v9.93h-2.49zM680.56 234.06h2.49v9.93h-2.49zM684.74 234.06h2.49v9.93h-2.49zM730.76 234.06h2.49v9.93h-2.49zM695.2 253.12h2.49v9.93h-2.49zM718.21 253.12h2.49v9.93h-2.49zM722.39 253.12h2.49v9.93h-2.49zM670.1 262.65h2.49v9.93h-2.49zM672.19 262.65h2.49v9.93h-2.49zM680.56 262.65h2.49v9.93h-2.49zM684.74 262.65h2.49v9.93h-2.49zM716.12 262.65h2.49v9.93h-2.49zM722.39 272.18h2.49v9.93h-2.49zM688.92 281.71h2.49v9.93h-2.49zM720.3 281.71h2.49v9.93h-2.49zM686.83 300.77h2.49v9.93h-2.49zM693.11 300.77h2.49v9.93h-2.49zM720.3 300.77h2.49v9.93h-2.49zM737.03 300.77h2.49v9.93h-2.49z"/>
<path fill="#000000" shape-rendering="crispEdges" d="M688.92 91.1h2.49v9.93h-2.49zM701.48 91.1h2.49v9.93h-2.49zM703.57 91.1h2.49v9.93h-2.49zM720.3 91.1h2.49v9.93h-2.49zM680.56 100.63h2.49v9.93h-2.49zM730.76 100.63h2.49v9.93h-2.49zM684.74 119.69h2.49v9.93h-2.49zM691.02 119.69h2.49v9.93h-2.49zM707.75 119.69h2.49v9.93h-2.49zM716.12 119.69h2.49v9.93h-2.49zM718.21 119.69h2.49v9.93h-2.49zM722.39 119.69h2.49v9.93h-2.49zM724.48 119.69h2.49v9.93h-2.49zM728.67 119.69h2.49v9.93h-2.49zM730.76 119.69h2.49v9.93h-2.49zM734.94 119.69h2.49v9.93h-2.49zM739.12 119.69h2.49v9.93h-2.49zM670.1 129.22h2.49v9.93h-2.49zM741.22 129.22h2.49v9.93h-2.49zM709.84 138.75h2.49v9.93h-2.49zM711.93 138.75h2.49v9.93h-2.49zM714.02 138.75h2.49v9.93h-2.49zM734.94 138.75h2.49v9.93h-2.49zM714.02 148.28h2.49v9.93h-2.49zM722.39 148.28h2.49v9.93h-2.49zM680.56 157.81h2.49v9.93h-2.49zM686.83 167.34h2.49v9.93h-2.49zM695.2 167.34h2.49v9.93h-2.49zM697.29 167.34h2.49v9.93h-2.49zM699.38 167.34h2.49v9.93h-2.49zM701.48 167.34h2.49v9.93h-2.49zM709.84 167.34h2.49v9.93h-2.49zM720.3 167.34h2.49v9.93h-2.49zM739.12 167.34h2.49v9.93h-2.49zM672.19 176.87h2.49v9.93h-2.49zM674.28 176.87h2.49v9.93h-2.49zM703.57 176.87h2.49v9.93h-2.49zM707.75 176.87h2.49v9.93h-2.49zM718.21 176.87h2.49v9.93h-2.49zM722.39 176.87h2.49v9.93h-2.49zM730.76 176.87h2.49v9.93h-2.49zM732.85 176.87h2.49v9.93h-2.49zM734.94 176.87h2.49v9.93h-2.49zM737.03 176.87h2.49v9.93h-2.49zM670.1 195.93h2.49v9.93h-2.49zM672.19 195.93h2.49v9.93h-2.49zM686.83 195.93h2.49v9.93h-2.49zM688.92 195.93h2.49v9.93h-2.49zM691.02 195.93h2.49v9.93h-2.49zM699.38 195.93h2.49v9.93h-2.49zM701.48 195.93h2.49v9.93h-2.49zM703.57 195.93h2.49v9.93h-2.49zM709.84 195.93h2.49v9.93h-2.49zM722.39 195.93h2.49v9.93h-2.49zM724.48 195.93h2.49v9.93h-2.49zM726.58 195.93h2.49v9.93h-2.49zM734.94 195.93h2.49v9.93h-2.49zM737.03 195.93h2.49v9.93h-2.49zM743.31 195.93h2.49v9.93h-2.49zM714.02 205.47h2.49v9.93h-2.49zM732.85 205.47h2.49v9.93h-2.49zM734.94 205.47h2.49v9.93h-2.49zM709.84 215h2.49v9.93h-2.49zM737.03 215h2.49v9.93h-2.49zM724.48 224.53h2.49v9.93h-2.49zM728.67 224.53h2.49v9.93h-2.49zM730.76 224.53h2.49v9.93h-2.49zM672.19 234.06h2.49v9.93h-2.49zM674.28 234.06h2.49v9.93h-2.49zM676.38 234.06h2.49v9.93h-2.49zM691.02 234.06h2.49v9.93h-2.49zM703.57 234.06h2.49v9.93h-2.49zM705.66 234.06h2.49v9.93h-2.49zM707.75 234.06h2.49v9.93h-2.49zM709.84 234.06h2.49v9.93h-2.49zM714.02 234.06h2.49v9.93h-2.49zM716.12 234.06h2.49v9.93h-2.49zM720.3 234.06h2.49v9.93h-2.49zM722.39 234.06h2.49v9.93h-2.49zM724.48 234.06h2.49v9.93h-2.49zM726.58 234.06h2.49v9.93h-2.49zM728.67 234.06h2.49v9.93h-2.49zM709.84 253.12h2.49v9.93h-2.49zM711.93 253.12h2.49v9.93h-2.49zM728.67 253.12h2.49v9.93h-2.49zM711.93 262.65h2.49v9.93h-2.49zM691.02 272.18h2.49v9.93h-2.49zM720.3 272.18h2.49v9.93h-2.49zM734.94 291.24h2.49v9.93h-2.49z"/>
<path fill="#555555" shape-rendering="crispEdges" d="M697.29 91.1h2.49v9.93h-2.49zM709.84 91.1h2.49v9.93h-2.49zM707.75 100.63h2.49v9.93h-2.49zM711.93 100.63h2.49v9.93h-2.49zM672.19 129.22h2.49v9.93h-2.49zM674.28 129.22h2.49v9.93h-2.49zM697.29 129.22h2.49v9.93h-2.49zM714.02 129.22h2.49v9.93h-2.49zM670.1 138.75h2.49v9.93h-2.49zM718.21 138.75h2.49v9.93h-2.49zM726.58 138.75h2.49v9.93h-2.49zM670.1 148.28h2.49v9.93h-2.49zM678.47 148.28h2.49v9.93h-2.49zM695.2 148.28h2.49v9.93h-2.49zM697.29 148.28h2.49v9.93h-2.49zM709.84 148.28h2.49v9.93h-2.49zM743.31 148.28h2.49v9.93h-2.49zM670.1 157.81h2.49v9.93h-2.49zM686.83 157.81h2.49v9.93h-2.49zM720.3 157.81h2.49v9.93h-2.49zM732.85 157.81h2.49v9.93h-2.49zM670.1 205.47h2.49v9.93h-2.49zM672.19 205.47h2.49v9.93h-2.49zM688.92 205.47h2.49v9.93h-2.49zM678.47 215h2.49v9.93h-2.49zM741.22 215h2.49v9.93h-2.49zM743.31 215h2.49v9.93h-2.49zM709.84 224.53h2.49v9.93h-2.49zM716.12 224.53h2.49v9.93h-2.49zM680.56 243.59h2.49v9.93h-2.49zM741.22 243.59h2.49v9.93h-2.49zM743.31 243.59h2.49v9.93h-2.49zM680.56 253.12h2.49v9.93h-2.49zM682.65 253.12h2.49v9.93h-2.49zM737.03 253.12h2.49v9.93h-2.49zM705.66 262.65h2.49v9.93h-2.49zM734.94 262.65h2.49v9.93h-2.49zM701.48 272.18h2.49v9.93h-2.49zM739.12 272.18h2.49v9.93h-2.49zM674.28 281.71h2.49v9.93h-2.49zM684.74 281.71h2.49v9.93h-2.49zM709.84 281.71h2.49v9.93h-2.49zM737.03 281.71h2.49v9.93h-2.49zM739.12 281.71h2.49v9.93h-2.49zM699.38 291.24h2.49v9.93h-2.49zM703.57 300.77h2.49v9.93h-2.49z"/>
<path fill="#353535" shape-rendering="crispEdges" d="M699.38 91.1h2.49v9.93h-2.49zM734.94 91.1h2.49v9.93h-2.49zM670.1 100.63h2.49v9.93h-2.49zM699.38 100.63h2.49v9.93h-2.49zM705.66 100.63h2.49v9.93h-2.49zM676.38 119.69h2.49v9.93h-2.49zM697.29 119.69h2.49v9.93h-2.49zM699.38 119.69h2.49v9.93h-2.49zM711.93 119.69h2.49v9.93h-2.49zM732.85 119.69h2.49v9.93h-2.49zM743.31 119.69h2.49v9.93h-2.49zM726.58 129.22h2.49v9.93h-2.49zM728.67 129.22h2.49v9.93h-2.49zM688.92 138.75h2.49v9.93h-2.49zM703.57 138.75h2.49v9.93h-2.49zM716.12 138.75h2.49v9.93h-2.49zM720.3 138.75h2.49v9.93h-2.49zM728.67 138.75h2.49v9.93h-2.49zM686.83 148.28h2.49v9.93h-2.49zM691.02 148.28h2.49v9.93h-2.49zM724.48 148.28h2.49v9.93h-2.49zM734.94 148.28h2.49v9.93h-2.49zM695.2 157.81h2.49v9.93h-2.49zM718.21 157.81h2.49v9.93h-2.49zM724.48 157.81h2.49v9.93h-2.49zM670.1 167.34h2.49v9.93h-2.49zM678.47 167.34h2.49v9.93h-2.49zM711.93 167.34h2.49v9.93h-2.49zM716.12 167.34h2.49v9.93h-2.49zM718.21 167.34h2.49v9.93h-2.49zM730.76 167.34h2.49v9.93h-2.49zM678.47 176.87h2.49v9.93h-2.49zM680.56 176.87h2.49v9.93h-2.49zM686.83 176.87h2.49v9.93h-2.49zM701.48 176.87h2.49v9.93h-2.49zM741.22 176.87h2.49v9.93h-2.49zM743.31 176.87h2.49v9.93h-2.49zM716.12 186.4h2.49v9.93h-2.49zM678.47 195.93h2.49v9.93h-2.49zM682.65 195.93h2.49v9.93h-2.49zM695.2 195.93h2.49v9.93h-2.49zM720.3 195.93h2.49v9.93h-2.49zM728.67 195.93h2.49v9.93h-2.49zM730.76 195.93h2.49v9.93h-2.49zM739.12 195.93h2.49v9.93h-2.49zM691.02 205.47h2.49v9.93h-2.49zM703.57 205.47h2.49v9.93h-2.49zM711.93 205.47h2.49v9.93h-2.49zM730.76 205.47h2.49v9.93h-2.49zM737.03 205.47h2.49v9.93h-2.49zM676.38 215h2.49v9.93h-2.49zM680.56 215h2.49v9.93h-2.49zM705.66 215h2.49v9.93h-2.49zM707.75 215h2.49v9.93h-2.49zM670.1 224.53h2.49v9.93h-2.49zM672.19 224.53h2.49v9.93h-2.49zM691.02 224.53h2.49v9.93h-2.49zM697.29 224.53h2.49v9.93h-2.49zM701.48 224.53h2.49v9.93h-2.49zM720.3 224.53h2.49v9.93h-2.49zM741.22 224.53h2.49v9.93h-2.49zM670.1 234.06h2.49v9.93h-2.49zM686.83 234.06h2.49v9.93h-2.49zM693.11 234.06h2.49v9.93h-2.49zM701.48 234.06h2.49v9.93h-2.49zM676.38 253.12h2.49v9.93h-2.49zM678.47 253.12h2.49v9.93h-2.49zM684.74 253.12h2.49v9.93h-2.49zM688.92 253.12h2.49v9.93h-2.49zM691.02 253.12h2.49v9.93h-2.49zM699.38 253.12h2.49v9.93h-2.49zM701.48 253.12h2.49v9.93h-2.49zM688.92 262.65h2.49v9.93h-2.49zM724.48 262.65h2.49v9.93h-2.49zM728.67 262.65h2.49v9.93h-2.49zM730.76 262.65h2.49v9.93h-2.49zM741.22 262.65h2.49v9.93h-2.49zM682.65 272.18h2.49v9.93h-2.49zM709.84 272.18h2.49v9.93h-2.49zM718.21 291.24h2.49v9.93h-2.49zM670.1 300.77h2.49v9.93h-2.49zM676.38 300.77h2.49v9.93h-2.49zM688.92 300.77h2.49v9.93h-2.49zM705.66 300.77h2.49v9.93h-2.49zM714.02 300.77h2.49v9.93h-2.49zM728.67 300.77h2.49v9.93h-2.49z"/>
<path fill="#757575" shape-rendering="crispEdges" d="M707.75 91.1h2.49v9.93h-2.49zM718.21 100.63h2.49v9.93h-2.49zM691.02 129.22h2.49v9.93h-2.49zM693.11 129.22h2.49v9.93h-2.49zM722.39 129.22h2.49v9.93h-2.49zM724.48 129.22h2.49v9.93h-2.49zM674.28 138.75h2.49v9.93h-2.49zM676.38 138.75h2.49v9.93h-2.49zM695.2 138.75h2.49v9.93h-2.49zM697.29 138.75h2.49v9.93h-2.49zM718.21 148.28h2.49v9.93h-2.49zM714.02 157.81h2.49v9.93h-2.49zM722.39 157.81h2.49v9.93h-2.49zM743.31 157.81h2.49v9.93h-2.49zM672.19 186.4h2.49v9.93h-2.49zM676.38 186.4h2.49v9.93h-2.49zM680.56 186.4h2.49v9.93h-2.49zM688.92 186.4h2.49v9.93h-2.49zM693.11 186.4h2.49v9.93h-2.49zM697.29 186.4h2.49v9.93h-2.49zM707.75 186.4h2.49v9.93h-2.49zM709.84 186.4h2.49v9.93h-2.49zM711.93 186.4h2.49v9.93h-2.49zM730.76 186.4h2.49v9.93h-2.49zM732.85 186.4h2.49v9.93h-2.49zM684.74 205.47h2.49v9.93h-2.49zM684.74 215h2.49v9.93h-2.49zM730.76 215h2.49v9.93h-2.49zM732.85 215h2.49v9.93h-2.49zM734.94 215h2.49v9.93h-2.49zM680.56 224.53h2.49v9.93h-2.49zM682.65 243.59h2.49v9.93h-2.49zM693.11 243.59h2.49v9.93h-2.49zM714.02 243.59h2.49v9.93h-2.49zM724.48 243.59h2.49v9.93h-2.49zM726.58 243.59h2.49v9.93h-2.49zM737.03 243.59h2.49v9.93h-2.49zM693.11 262.65h2.49v9.93h-2.49zM720.3 262.65h2.49v9.93h-2.49zM697.29 272.18h2.49v9.93h-2.49zM718.21 272.18h2.49v9.93h-2.49zM734.94 272.18h2.49v9.93h-2.49zM741.22 272.18h2.49v9.93h-2.49zM711.93 291.24h2.49v9.93h-2.49zM716.12 291.24h2.49v9.93h-2.49zM726.58 300.77h2.49v9.93h-2.49z"/>
<path fill="#808080" shape-rendering="crispEdges" d="M711.93 91.1h2.49v9.93h-2.49zM741.22 91.1h2.49v9.93h-2.49zM743.31 91.1h2.49v9.93h-2.49zM678.47 100.63h2.49v9.93h-2.49zM680.56 129.22h2.49v9.93h-2.49zM705.66 129.22h2.49v9.93h-2.49zM730.76 129.22h2.49v9.93h-2.49zM720.3 148.28h2.49v9.93h-2.49zM728.67 148.28h2.49v9.93h-2.49zM730.76 148.28h2.49v9.93h-2.49zM734.94 157.81h2.49v9.93h-2.49zM674.28 186.4h2.49v9.93h-2.49zM699.38 186.4h2.49v9.93h-2.49zM720.3 186.4h2.49v9.93h-2.49zM739.12 186.4h2.49v9.93h-2.49zM741.22 186.4h2.49v9.93h-2.49zM714.02 224.53h2.49v9.93h-2.49zM697.29 243.59h2.49v9.93h-2.49zM695.2 262.65h2.49v9.93h-2.49zM697.29 262.65h2.49v9.93h-2.49zM699.38 262.65h2.49v9.93h-2.49zM701.48 262.65h2.49v9.93h-2.49zM709.84 262.65h2.49v9.93h-2.49zM743.31 262.65h2.49v9.93h-2.49zM670.1 272.18h2.49v9.93h-2.49zM699.38 272.18h2.49v9.93h-2.49zM716.12 272.18h2.49v9.93h-2.49zM732.85 272.18h2.49v9.93h-2.49zM737.03 272.18h2.49v9.93h-2.49zM672.19 281.71h2.49v9.93h-2.49zM711.93 281.71h2.49v9.93h-2.49zM724.48 281.71h2.49v9.93h-2.49zM676.38 291.24h2.49v9.93h-2.49zM682.65 291.24h2.49v9.93h-2.49zM707.75 291.24h2.49v9.93h-2.49zM701.48 300.77h2.49v9.93h-2.49zM724.48 300.77h2.49v9.93h-2.49z"/>
<path fill="#151515" shape-rendering="crispEdges" d="M722.39 91.1h2.49v9.93h-2.49zM682.65 100.63h2.49v9.93h-2.49zM701.48 100.63h2.49v9.93h-2.49zM726.58 100.63h2.49v9.93h-2.49zM728.67 100.63h2.49v9.93h-2.49zM693.11 119.69h2.49v9.93h-2.49zM701.48 119.69h2.49v9.93h-2.49zM709.84 119.69h2.49v9.93h-2.49zM720.3 119.69h2.49v9.93h-2.49zM680.56 138.75h2.49v9.93h-2.49zM705.66 138.75h2.49v9.93h-2.49zM730.76 138.75h2.49v9.93h-2.49zM732.85 138.75h2.49v9.93h-2.49zM743.31 138.75h2.49v9.93h-2.49zM701.48 148.28h2.49v9.93h-2.49zM711.93 148.28h2.49v9.93h-2.49zM682.65 157.81h2.49v9.93h-2.49zM688.92 167.34h2.49v9.93h-2.49zM691.02 167.34h2.49v9.93h-2.49zM714.02 167.34h2.49v9.93h-2.49zM737.03 167.34h2.49v9.93h-2.49zM693.11 176.87h2.49v9.93h-2.49zM697.29 176.87h2.49v9.93h-2.49zM726.58 176.87h2.49v9.93h-2.49zM693.11 195.93h2.49v9.93h-2.49zM705.66 195.93h2.49v9.93h-2.49zM707.75 195.93h2.49v9.93h-2.49zM716.12 195.93h2.49v9.93h-2.49zM718.21 195.93h2.49v9.93h-2.49zM720.3 205.47h2.49v9.93h-2.49zM741.22 205.47h2.49v9.93h-2.49zM684.74 224.53h2.49v9.93h-2.49zM711.93 224.53h2.49v9.93h-2.49zM726.58 224.53h2.49v9.93h-2.49zM743.31 224.53h2.49v9.93h-2.49zM682.65 234.06h2.49v9.93h-2.49zM697.29 234.06h2.49v9.93h-2.49zM718.21 234.06h2.49v9.93h-2.49zM732.85 234.06h2.49v9.93h-2.49zM672.19 253.12h2.49v9.93h-2.49zM716.12 253.12h2.49v9.93h-2.49zM724.48 253.12h2.49v9.93h-2.49zM676.38 262.65h2.49v9.93h-2.49zM714.02 262.65h2.49v9.93h-2.49zM674.28 272.18h2.49v9.93h-2.49zM707.75 272.18h2.49v9.93h-2.49zM674.28 300.77h2.49v9.93h-2.49zM697.29 300.77h2.49v9.93h-2.49zM718.21 300.77h2.49v9.93h-2.49zM730.76 300.77h2.49v9.93h-2.49zM741.22 300.77h2.49v9.93h-2.49zM743.31 300.77h2.49v9.93h-2.49z"/>
<path fill="#aaaaaa" shape-rendering="crispEdges" d="M724.48 91.1h2.49v9.93h-2.49zM672.19 157.81h2.49v9.93h-2.49zM684.74 186.4h2.49v9.93h-2.49zM691.02 186.4h2.49v9.93h-2.49zM726.58 186.4h2.49v9.93h-2.49zM722.39 243.59h2.49v9.93h-2.49zM688.92 272.18h2.49v9.93h-2.49zM730.76 281.71h2.49v9.93h-2.49zM714.02 291.24h2.49v9.93h-2.49zM743.31 291.24h2.49v9.93h-2.49z"/>
<path fill="#9f9f9f" shape-rendering="crispEdges" d="M728.67 91.1h2.49v9.93h-2.49zM703.57 129.22h2.49v9.93h-2.49zM693.11 148.28h2.49v9.93h-2.49zM701.48 157.81h2.49v9.93h-2.49zM686.83 186.4h2.49v9.93h-2.49zM701.48 186.4h2.49v9.93h-2.49zM724.48 215h2.49v9.93h-2.49zM705.66 243.59h2.49v9.93h-2.49zM732.85 243.59h2.49v9.93h-2.49zM737.03 262.65h2.49v9.93h-2.49zM714.02 272.18h2.49v9.93h-2.49zM695.2 281.71h2.49v9.93h-2.49zM726.58 281.71h2.49v9.93h-2.49zM680.56 291.24h2.49v9.93h-2.49zM691.02 291.24h2.49v9.93h-2.49zM728.67 291.24h2.49v9.93h-2.49z"/>
<path fill="#959595" shape-rendering="crispEdges" d="M716.12 100.63h2.49v9.93h-2.49zM678.47 129.22h2.49v9.93h-2.49zM682.65 129.22h2.49v9.93h-2.49zM709.84 129.22h2.49v9.93h-2.49zM716.12 129.22h2.49v9.93h-2.49zM718.21 129.22h2.49v9.93h-2.49zM680.56 148.28h2.49v9.93h-2.49zM682.65 186.4h2.49v9.93h-2.49zM734.94 186.4h2.49v9.93h-2.49zM697.29 215h2.49v9.93h-2.49zM699.38 215h2.49v9.93h-2.49zM678.47 243.59h2.49v9.93h-2.49zM707.75 243.59h2.49v9.93h-2.49zM739.12 262.65h2.49v9.93h-2.49zM672.19 272.18h2.49v9.93h-2.49zM711.93 272.18h2.49v9.93h-2.49zM716.12 281.71h2.49v9.93h-2.49zM688.92 291.24h2.49v9.93h-2.49zM697.29 291.24h2.49v9.93h-2.49zM724.48 291.24h2.49v9.93h-2.49z"/>
<path fill="#202020" shape-rendering="crispEdges" d="M720.3 100.63h2.49v9.93h-2.49zM722.39 100.63h2.49v9.93h-2.49zM734.94 100.63h2.49v9.93h-2.49zM737.03 100.63h2.49v9.93h-2.49zM672.19 119.69h2.49v9.93h-2.49zM680.56 119.69h2.49v9.93h-2.49zM686.83 119.69h2.49v9.93h-2.49zM703.57 119.69h2.49v9.93h-2.49zM714.02 119.69h2.49v9.93h-2.49zM726.58 119.69h2.49v9.93h-2.49zM737.03 119.69h2.49v9.93h-2.49zM693.11 138.75h2.49v9.93h-2.49zM737.03 138.75h2.49v9.93h-2.49zM739.12 138.75h2.49v9.93h-2.49zM705.66 148.28h2.49v9.93h-2.49zM707.75 157.81h2.49v9.93h-2.49zM676.38 167.34h2.49v9.93h-2.49zM703.57 167.34h2.49v9.93h-2.49zM707.75 167.34h2.49v9.93h-2.49zM724.48 167.34h2.49v9.93h-2.49zM741.22 167.34h2.49v9.93h-2.49zM676.38 176.87h2.49v9.93h-2.49zM682.65 176.87h2.49v9.93h-2.49zM688.92 176.87h2.49v9.93h-2.49zM699.38 176.87h2.49v9.93h-2.49zM711.93 176.87h2.49v9.93h-2.49zM714.02 176.87h2.49v9.93h-2.49zM724.48 176.87h2.49v9.93h-2.49zM728.67 176.87h2.49v9.93h-2.49zM674.28 195.93h2.49v9.93h-2.49zM676.38 195.93h2.49v9.93h-2.49zM711.93 195.93h2.49v9.93h-2.49zM732.85 195.93h2.49v9.93h-2.49zM741.22 195.93h2.49v9.93h-2.49zM695.2 205.47h2.49v9.93h-2.49zM707.75 205.47h2.49v9.93h-2.49zM716.12 205.47h2.49v9.93h-2.49zM743.31 205.47h2.49v9.93h-2.49zM676.38 224.53h2.49v9.93h-2.49zM686.83 224.53h2.49v9.93h-2.49zM695.2 224.53h2.49v9.93h-2.49zM734.94 224.53h2.49v9.93h-2.49zM678.47 234.06h2.49v9.93h-2.49zM711.93 234.06h2.49v9.93h-2.49zM743.31 234.06h2.49v9.93h-2.49zM670.1 243.59h2.49v9.93h-2.49zM693.11 253.12h2.49v9.93h-2.49zM732.85 253.12h2.49v9.93h-2.49zM703.57 281.71h2.49v9.93h-2.49zM684.74 300.77h2.49v9.93h-2.49zM732.85 300.77h2.49v9.93h-2.49zM734.94 300.77h2.49v9.93h-2.49z"/>
<path fill="#0b0b0b" shape-rendering="crispEdges" d="M732.85 100.63h2.49v9.93h-2.49zM670.1 119.69h2.49v9.93h-2.49zM678.47 119.69h2.49v9.93h-2.49zM688.92 119.69h2.49v9.93h-2.49zM705.66 119.69h2.49v9.93h-2.49zM684.74 157.81h2.49v9.93h-2.49zM672.19 167.34h2.49v9.93h-2.49zM674.28 167.34h2.49v9.93h-2.49zM684.74 167.34h2.49v9.93h-2.49zM693.11 167.34h2.49v9.93h-2.49zM722.39 167.34h2.49v9.93h-2.49zM726.58 167.34h2.49v9.93h-2.49zM734.94 167.34h2.49v9.93h-2.49zM670.1 176.87h2.49v9.93h-2.49zM691.02 176.87h2.49v9.93h-2.49zM695.2 176.87h2.49v9.93h-2.49zM705.66 176.87h2.49v9.93h-2.49zM716.12 176.87h2.49v9.93h-2.49zM720.3 176.87h2.49v9.93h-2.49zM739.12 176.87h2.49v9.93h-2.49zM697.29 195.93h2.49v9.93h-2.49zM674.28 205.47h2.49v9.93h-2.49zM688.92 224.53h2.49v9.93h-2.49zM703.57 224.53h2.49v9.93h-2.49zM722.39 224.53h2.49v9.93h-2.49zM688.92 234.06h2.49v9.93h-2.49zM695.2 234.06h2.49v9.93h-2.49zM699.38 234.06h2.49v9.93h-2.49zM734.94 234.06h2.49v9.93h-2.49zM737.03 234.06h2.49v9.93h-2.49zM739.12 234.06h2.49v9.93h-2.49zM741.22 234.06h2.49v9.93h-2.49zM674.28 253.12h2.49v9.93h-2.49zM703.57 253.12h2.49v9.93h-2.49zM705.66 253.12h2.49v9.93h-2.49zM707.75 253.12h2.49v9.93h-2.49zM720.3 253.12h2.49v9.93h-2.49zM726.58 253.12h2.49v9.93h-2.49zM734.94 253.12h2.49v9.93h-2.49zM741.22 253.12h2.49v9.93h-2.49zM743.31 253.12h2.49v9.93h-2.49zM718.21 281.71h2.49v9.93h-2.49zM695.2 300.77h2.49v9.93h-2.49zM699.38 300.77h2.49v9.93h-2.49z"/>
<path fill="#ffffff" shape-rendering="crispEdges" d="M670.1 110.16h75.3v9.93h-75.3z"/>
<path fill="#d4d4d4" shape-rendering="crispEdges" d="M676.38 129.22h2.49v9.93h-2.49z"/>
<path fill="#bfbfbf" shape-rendering="crispEdges" d="M684.74 129.22h2.49v9.93h-2.49zM670.1 186.4h2.49v9.93h-2.49zM686.83 291.24h2.49v9.93h-2.49z"/>
<path fill="#b5b5b5" shape-rendering="crispEdges" d="M724.48 186.4h2.49v9.93h-2.49zM707.75 224.53h2.49v9.93h-2.49zM674.28 243.59h2.49v9.93h-2.49zM703.57 243.59h2.49v9.93h-2.49zM711.93 243.59h2.49v9.93h-2.49zM739.12 243.59h2.49v9.93h-2.49zM732.85 262.65h2.49v9.93h-2.49zM697.29 281.71h2.49v9.93h-2.49zM670.1 291.24h2.49v9.93h-2.49zM684.74 291.24h2.49v9.93h-2.49zM705.66 291.24h2.49v9.93h-2.49zM726.58 291.24h2.49v9.93h-2.49z"/>
<path fill="#cacaca" shape-rendering="crispEdges" d="M743.31 186.4h2.49v9.93h-2.49zM728.67 281.71h2.49v9.93h-2.49z"/>
<rect x="674.9" y="91.1" width="3" height="219.2" fill="#66ee55"/>
<rect x="730.0" y="91.1" width="3" height="219.2" fill="#e8322a"/>
<path fill="#2a2a2a" shape-rendering="crispEdges" d="M866.8 91.1h3.09v9.93h-3.09zM882.94 91.1h3.09v9.93h-3.09zM912.52 91.1h3.09v9.93h-3.09zM869.49 119.69h3.09v9.93h-3.09zM866.8 138.75h3.09v9.93h-3.09zM869.49 138.75h3.09v9.93h-3.09zM877.56 138.75h3.09v9.93h-3.09zM901.76 138.75h3.09v9.93h-3.09zM904.45 138.75h3.09v9.93h-3.09zM912.52 138.75h3.09v9.93h-3.09zM936.72 138.75h3.09v9.93h-3.09zM939.41 138.75h3.09v9.93h-3.09zM893.69 157.81h3.09v9.93h-3.09zM869.49 186.4h3.09v9.93h-3.09zM885.62 186.4h3.09v9.93h-3.09zM891 186.4h3.09v9.93h-3.09zM925.96 186.4h3.09v9.93h-3.09zM931.34 186.4h3.09v9.93h-3.09zM917.9 205.47h3.09v9.93h-3.09zM874.87 215h3.09v9.93h-3.09zM923.27 215h3.09v9.93h-3.09zM912.52 224.53h3.09v9.93h-3.09zM915.21 224.53h3.09v9.93h-3.09zM923.27 224.53h3.09v9.93h-3.09zM899.07 234.06h3.09v9.93h-3.09zM901.76 234.06h3.09v9.93h-3.09zM904.45 234.06h3.09v9.93h-3.09zM907.14 234.06h3.09v9.93h-3.09zM920.59 234.06h3.09v9.93h-3.09zM936.72 234.06h3.09v9.93h-3.09zM882.94 253.12h3.09v9.93h-3.09zM939.41 272.18h3.09v9.93h-3.09zM896.38 281.71h3.09v9.93h-3.09zM866.8 291.24h3.09v9.93h-3.09zM904.45 291.24h3.09v9.93h-3.09zM907.14 291.24h3.09v9.93h-3.09zM925.96 291.24h3.09v9.93h-3.09zM934.03 291.24h3.09v9.93h-3.09z"/>
<path fill="#353535" shape-rendering="crispEdges" d="M869.49 91.1h3.09v9.93h-3.09zM877.56 91.1h3.09v9.93h-3.09zM917.9 110.16h3.09v9.93h-3.09zM866.8 119.69h3.09v9.93h-3.09zM882.94 119.69h3.09v9.93h-3.09zM888.31 119.69h3.09v9.93h-3.09zM909.83 119.69h3.09v9.93h-3.09zM912.52 119.69h3.09v9.93h-3.09zM915.21 119.69h3.09v9.93h-3.09zM917.9 119.69h3.09v9.93h-3.09zM928.65 119.69h3.09v9.93h-3.09zM931.34 119.69h3.09v9.93h-3.09zM934.03 119.69h3.09v9.93h-3.09zM885.62 129.22h3.09v9.93h-3.09zM885.62 148.28h3.09v9.93h-3.09zM877.56 167.34h3.09v9.93h-3.09zM936.72 167.34h3.09v9.93h-3.09zM869.49 195.93h3.09v9.93h-3.09zM872.18 195.93h3.09v9.93h-3.09zM877.56 195.93h3.09v9.93h-3.09zM888.31 195.93h3.09v9.93h-3.09zM907.14 195.93h3.09v9.93h-3.09zM909.83 195.93h3.09v9.93h-3.09zM912.52 195.93h3.09v9.93h-3.09zM915.21 195.93h3.09v9.93h-3.09zM920.59 195.93h3.09v9.93h-3.09zM923.27 195.93h3.09v9.93h-3.09zM925.96 195.93h3.09v9.93h-3.09zM931.34 195.93h3.09v9.93h-3.09zM934.03 195.93h3.09v9.93h-3.09zM936.72 195.93h3.09v9.93h-3.09zM939.41 195.93h3.09v9.93h-3.09zM882.94 205.47h3.09v9.93h-3.09zM882.94 215h3.09v9.93h-3.09zM893.69 215h3.09v9.93h-3.09zM917.9 215h3.09v9.93h-3.09zM888.31 224.53h3.09v9.93h-3.09zM874.87 262.65h3.09v9.93h-3.09zM877.56 262.65h3.09v9.93h-3.09zM880.25 262.65h3.09v9.93h-3.09zM882.94 262.65h3.09v9.93h-3.09zM885.62 262.65h3.09v9.93h-3.09zM888.31 262.65h3.09v9.93h-3.09zM901.76 262.65h3.09v9.93h-3.09zM904.45 262.65h3.09v9.93h-3.09zM923.27 262.65h3.09v9.93h-3.09zM915.21 272.18h3.09v9.93h-3.09zM866.8 300.77h3.09v9.93h-3.09zM869.49 300.77h3.09v9.93h-3.09zM872.18 300.77h3.09v9.93h-3.09zM874.87 300.77h3.09v9.93h-3.09zM893.69 300.77h3.09v9.93h-3.09zM896.38 300.77h3.09v9.93h-3.09zM899.07 300.77h3.09v9.93h-3.09zM931.34 300.77h3.09v9.93h-3.09zM934.03 300.77h3.09v9.93h-3.09zM939.41 300.77h3.09v9.93h-3.09z"/>
<path fill="#757575" shape-rendering="crispEdges" d="M872.18 91.1h3.09v9.93h-3.09zM931.34 91.1h3.09v9.93h-3.09zM907.14 110.16h3.09v9.93h-3.09zM925.96 157.81h3.09v9.93h-3.09zM901.76 176.87h3.09v9.93h-3.09zM934.03 205.47h3.09v9.93h-3.09zM909.83 215h3.09v9.93h-3.09zM925.96 224.53h3.09v9.93h-3.09zM874.87 253.12h3.09v9.93h-3.09zM891 253.12h3.09v9.93h-3.09zM891 272.18h3.09v9.93h-3.09zM931.34 272.18h3.09v9.93h-3.09zM882.94 291.24h3.09v9.93h-3.09z"/>
<path fill="#4a4a4a" shape-rendering="crispEdges" d="M874.87 91.1h3.09v9.93h-3.09zM885.62 91.1h3.09v9.93h-3.09zM925.96 91.1h3.09v9.93h-3.09zM915.21 148.28h3.09v9.93h-3.09zM872.18 157.81h3.09v9.93h-3.09zM872.18 167.34h3.09v9.93h-3.09zM874.87 167.34h3.09v9.93h-3.09zM891 167.34h3.09v9.93h-3.09zM907.14 186.4h3.09v9.93h-3.09zM928.65 186.4h3.09v9.93h-3.09zM931.34 205.47h3.09v9.93h-3.09zM872.18 215h3.09v9.93h-3.09zM880.25 215h3.09v9.93h-3.09zM912.52 215h3.09v9.93h-3.09zM925.96 215h3.09v9.93h-3.09zM931.34 224.53h3.09v9.93h-3.09zM882.94 272.18h3.09v9.93h-3.09zM920.59 281.71h3.09v9.93h-3.09zM896.38 291.24h3.09v9.93h-3.09zM917.9 291.24h3.09v9.93h-3.09z"/>
<path fill="#151515" shape-rendering="crispEdges" d="M880.25 91.1h3.09v9.93h-3.09zM907.14 91.1h3.09v9.93h-3.09zM874.87 138.75h3.09v9.93h-3.09zM882.94 157.81h3.09v9.93h-3.09zM888.31 186.4h3.09v9.93h-3.09zM912.52 186.4h3.09v9.93h-3.09zM874.87 195.93h3.09v9.93h-3.09zM907.14 205.47h3.09v9.93h-3.09zM936.72 205.47h3.09v9.93h-3.09zM907.14 215h3.09v9.93h-3.09zM896.38 224.53h3.09v9.93h-3.09zM939.41 224.53h3.09v9.93h-3.09zM872.18 234.06h3.09v9.93h-3.09zM877.56 234.06h3.09v9.93h-3.09zM893.69 234.06h3.09v9.93h-3.09zM899.07 262.65h3.09v9.93h-3.09zM912.52 262.65h3.09v9.93h-3.09zM896.38 272.18h3.09v9.93h-3.09zM917.9 272.18h3.09v9.93h-3.09zM909.83 281.71h3.09v9.93h-3.09zM909.83 291.24h3.09v9.93h-3.09zM880.25 300.77h3.09v9.93h-3.09zM882.94 300.77h3.09v9.93h-3.09zM901.76 300.77h3.09v9.93h-3.09zM912.52 300.77h3.09v9.93h-3.09zM915.21 300.77h3.09v9.93h-3.09z"/>
<path fill="#6a6a6a" shape-rendering="crispEdges" d="M888.31 91.1h3.09v9.93h-3.09zM909.83 91.1h3.09v9.93h-3.09zM888.31 129.22h3.09v9.93h-3.09zM893.69 148.28h3.09v9.93h-3.09zM917.9 148.28h3.09v9.93h-3.09zM904.45 157.81h3.09v9.93h-3.09zM917.9 167.34h3.09v9.93h-3.09zM923.27 167.34h3.09v9.93h-3.09zM899.07 176.87h3.09v9.93h-3.09zM874.87 186.4h3.09v9.93h-3.09zM909.83 186.4h3.09v9.93h-3.09zM880.25 253.12h3.09v9.93h-3.09zM877.56 272.18h3.09v9.93h-3.09zM880.25 272.18h3.09v9.93h-3.09zM885.62 272.18h3.09v9.93h-3.09zM893.69 272.18h3.09v9.93h-3.09zM920.59 272.18h3.09v9.93h-3.09z"/>
<path fill="#0b0b0b" shape-rendering="crispEdges" d="M891 91.1h3.09v9.93h-3.09zM901.76 91.1h3.09v9.93h-3.09zM939.41 91.1h3.09v9.93h-3.09zM907.14 138.75h3.09v9.93h-3.09zM917.9 138.75h3.09v9.93h-3.09zM920.59 138.75h3.09v9.93h-3.09zM923.27 138.75h3.09v9.93h-3.09zM925.96 148.28h3.09v9.93h-3.09zM896.38 157.81h3.09v9.93h-3.09zM899.07 167.34h3.09v9.93h-3.09zM915.21 167.34h3.09v9.93h-3.09zM893.69 186.4h3.09v9.93h-3.09zM904.45 186.4h3.09v9.93h-3.09zM923.27 186.4h3.09v9.93h-3.09zM882.94 195.93h3.09v9.93h-3.09zM877.56 205.47h3.09v9.93h-3.09zM915.21 205.47h3.09v9.93h-3.09zM882.94 224.53h3.09v9.93h-3.09zM891 224.53h3.09v9.93h-3.09zM896.38 234.06h3.09v9.93h-3.09zM928.65 234.06h3.09v9.93h-3.09zM869.49 253.12h3.09v9.93h-3.09zM904.45 253.12h3.09v9.93h-3.09zM866.8 262.65h3.09v9.93h-3.09zM907.14 262.65h3.09v9.93h-3.09zM920.59 262.65h3.09v9.93h-3.09zM925.96 262.65h3.09v9.93h-3.09zM936.72 262.65h3.09v9.93h-3.09zM939.41 262.65h3.09v9.93h-3.09zM872.18 272.18h3.09v9.93h-3.09zM869.49 291.24h3.09v9.93h-3.09zM912.52 291.24h3.09v9.93h-3.09zM877.56 300.77h3.09v9.93h-3.09zM888.31 300.77h3.09v9.93h-3.09z"/>
<path fill="#000000" shape-rendering="crispEdges" d="M893.69 91.1h3.09v9.93h-3.09zM904.45 91.1h3.09v9.93h-3.09zM917.9 91.1h3.09v9.93h-3.09zM920.59 91.1h3.09v9.93h-3.09zM923.27 91.1h3.09v9.93h-3.09zM936.72 91.1h3.09v9.93h-3.09zM896.38 100.63h3.09v9.93h-3.09zM904.45 100.63h3.09v9.93h-3.09zM872.18 119.69h3.09v9.93h-3.09zM874.87 119.69h3.09v9.93h-3.09zM885.62 119.69h3.09v9.93h-3.09zM893.69 119.69h3.09v9.93h-3.09zM896.38 119.69h3.09v9.93h-3.09zM899.07 119.69h3.09v9.93h-3.09zM901.76 119.69h3.09v9.93h-3.09zM904.45 119.69h3.09v9.93h-3.09zM907.14 119.69h3.09v9.93h-3.09zM920.59 119.69h3.09v9.93h-3.09zM923.27 119.69h3.09v9.93h-3.09zM936.72 119.69h3.09v9.93h-3.09zM939.41 119.69h3.09v9.93h-3.09zM882.94 129.22h3.09v9.93h-3.09zM909.83 129.22h3.09v9.93h-3.09zM880.25 138.75h3.09v9.93h-3.09zM882.94 138.75h3.09v9.93h-3.09zM885.62 138.75h3.09v9.93h-3.09zM888.31 138.75h3.09v9.93h-3.09zM891 138.75h3.09v9.93h-3.09zM893.69 138.75h3.09v9.93h-3.09zM896.38 138.75h3.09v9.93h-3.09zM899.07 138.75h3.09v9.93h-3.09zM909.83 138.75h3.09v9.93h-3.09zM915.21 138.75h3.09v9.93h-3.09zM925.96 138.75h3.09v9.93h-3.09zM928.65 138.75h3.09v9.93h-3.09zM931.34 138.75h3.09v9.93h-3.09zM934.03 138.75h3.09v9.93h-3.09zM904.45 148.28h3.09v9.93h-3.09zM907.14 148.28h3.09v9.93h-3.09zM909.83 148.28h3.09v9.93h-3.09zM912.52 157.81h3.09v9.93h-3.09zM885.62 167.34h3.09v9.93h-3.09zM896.38 167.34h3.09v9.93h-3.09zM901.76 167.34h3.09v9.93h-3.09zM912.52 167.34h3.09v9.93h-3.09zM939.41 167.34h3.09v9.93h-3.09zM866.8 186.4h3.09v9.93h-3.09zM872.18 186.4h3.09v9.93h-3.09zM901.76 186.4h3.09v9.93h-3.09zM915.21 186.4h3.09v9.93h-3.09zM917.9 186.4h3.09v9.93h-3.09zM920.59 186.4h3.09v9.93h-3.09zM934.03 186.4h3.09v9.93h-3.09zM936.72 186.4h3.09v9.93h-3.09zM939.41 186.4h3.09v9.93h-3.09zM866.8 195.93h3.09v9.93h-3.09zM885.62 195.93h3.09v9.93h-3.09zM891 195.93h3.09v9.93h-3.09zM893.69 195.93h3.09v9.93h-3.09zM896.38 195.93h3.09v9.93h-3.09zM899.07 195.93h3.09v9.93h-3.09zM901.76 195.93h3.09v9.93h-3.09zM904.45 195.93h3.09v9.93h-3.09zM917.9 195.93h3.09v9.93h-3.09zM928.65 195.93h3.09v9.93h-3.09zM872.18 205.47h3.09v9.93h-3.09zM874.87 205.47h3.09v9.93h-3.09zM904.45 205.47h3.09v9.93h-3.09zM909.83 205.47h3.09v9.93h-3.09zM923.27 205.47h3.09v9.93h-3.09zM925.96 205.47h3.09v9.93h-3.09zM939.41 205.47h3.09v9.93h-3.09zM866.8 215h3.09v9.93h-3.09zM915.21 215h3.09v9.93h-3.09zM934.03 215h3.09v9.93h-3.09zM936.72 215h3.09v9.93h-3.09zM939.41 215h3.09v9.93h-3.09zM874.87 224.53h3.09v9.93h-3.09zM880.25 224.53h3.09v9.93h-3.09zM893.69 224.53h3.09v9.93h-3.09zM899.07 224.53h3.09v9.93h-3.09zM934.03 224.53h3.09v9.93h-3.09zM866.8 234.06h3.09v9.93h-3.09zM869.49 234.06h3.09v9.93h-3.09zM874.87 234.06h3.09v9.93h-3.09zM880.25 234.06h3.09v9.93h-3.09zM882.94 234.06h3.09v9.93h-3.09zM885.62 234.06h3.09v9.93h-3.09zM888.31 234.06h3.09v9.93h-3.09zM891 234.06h3.09v9.93h-3.09zM909.83 234.06h3.09v9.93h-3.09zM912.52 234.06h3.09v9.93h-3.09zM915.21 234.06h3.09v9.93h-3.09zM917.9 234.06h3.09v9.93h-3.09zM923.27 234.06h3.09v9.93h-3.09zM925.96 234.06h3.09v9.93h-3.09zM931.34 234.06h3.09v9.93h-3.09zM939.41 234.06h3.09v9.93h-3.09zM901.76 253.12h3.09v9.93h-3.09zM869.49 262.65h3.09v9.93h-3.09zM891 262.65h3.09v9.93h-3.09zM893.69 262.65h3.09v9.93h-3.09zM896.38 262.65h3.09v9.93h-3.09zM915.21 262.65h3.09v9.93h-3.09zM917.9 262.65h3.09v9.93h-3.09zM928.65 262.65h3.09v9.93h-3.09zM931.34 262.65h3.09v9.93h-3.09zM934.03 262.65h3.09v9.93h-3.09zM899.07 272.18h3.09v9.93h-3.09zM934.03 272.18h3.09v9.93h-3.09zM874.87 291.24h3.09v9.93h-3.09zM915.21 291.24h3.09v9.93h-3.09zM928.65 291.24h3.09v9.93h-3.09zM931.34 291.24h3.09v9.93h-3.09zM885.62 300.77h3.09v9.93h-3.09zM891 300.77h3.09v9.93h-3.09zM904.45 300.77h3.09v9.93h-3.09zM907.14 300.77h3.09v9.93h-3.09zM909.83 300.77h3.09v9.93h-3.09zM917.9 300.77h3.09v9.93h-3.09zM920.59 300.77h3.09v9.93h-3.09zM923.27 300.77h3.09v9.93h-3.09zM925.96 300.77h3.09v9.93h-3.09zM928.65 300.77h3.09v9.93h-3.09zM936.72 300.77h3.09v9.93h-3.09z"/>
<path fill="#959595" shape-rendering="crispEdges" d="M896.38 91.1h3.09v9.93h-3.09zM888.31 100.63h3.09v9.93h-3.09zM936.72 100.63h3.09v9.93h-3.09zM909.83 110.16h3.09v9.93h-3.09zM925.96 110.16h3.09v9.93h-3.09zM925.96 167.34h3.09v9.93h-3.09zM877.56 176.87h3.09v9.93h-3.09zM939.41 176.87h3.09v9.93h-3.09zM891 205.47h3.09v9.93h-3.09zM893.69 205.47h3.09v9.93h-3.09zM877.56 224.53h3.09v9.93h-3.09zM901.76 224.53h3.09v9.93h-3.09zM925.96 281.71h3.09v9.93h-3.09z"/>
<path fill="#404040" shape-rendering="crispEdges" d="M899.07 91.1h3.09v9.93h-3.09zM928.65 110.16h3.09v9.93h-3.09zM907.14 129.22h3.09v9.93h-3.09zM888.31 148.28h3.09v9.93h-3.09zM917.9 157.81h3.09v9.93h-3.09zM917.9 176.87h3.09v9.93h-3.09zM925.96 176.87h3.09v9.93h-3.09zM896.38 186.4h3.09v9.93h-3.09zM899.07 186.4h3.09v9.93h-3.09zM928.65 205.47h3.09v9.93h-3.09zM891 215h3.09v9.93h-3.09zM928.65 215h3.09v9.93h-3.09zM928.65 224.53h3.09v9.93h-3.09zM885.62 253.12h3.09v9.93h-3.09zM893.69 253.12h3.09v9.93h-3.09zM891 291.24h3.09v9.93h-3.09z"/>
<path fill="#808080" shape-rendering="crispEdges" d="M915.21 91.1h3.09v9.93h-3.09zM939.41 100.63h3.09v9.93h-3.09zM874.87 148.28h3.09v9.93h-3.09zM928.65 148.28h3.09v9.93h-3.09zM901.76 157.81h3.09v9.93h-3.09zM934.03 167.34h3.09v9.93h-3.09zM866.8 176.87h3.09v9.93h-3.09zM936.72 176.87h3.09v9.93h-3.09zM888.31 205.47h3.09v9.93h-3.09zM899.07 215h3.09v9.93h-3.09zM877.56 291.24h3.09v9.93h-3.09zM885.62 291.24h3.09v9.93h-3.09zM901.76 291.24h3.09v9.93h-3.09z"/>
<path fill="#555555" shape-rendering="crispEdges" d="M928.65 91.1h3.09v9.93h-3.09zM866.8 100.63h3.09v9.93h-3.09zM872.18 100.63h3.09v9.93h-3.09zM885.62 100.63h3.09v9.93h-3.09zM915.21 100.63h3.09v9.93h-3.09zM899.07 129.22h3.09v9.93h-3.09zM882.94 148.28h3.09v9.93h-3.09zM899.07 148.28h3.09v9.93h-3.09zM866.8 167.34h3.09v9.93h-3.09zM869.49 167.34h3.09v9.93h-3.09zM893.69 167.34h3.09v9.93h-3.09zM880.25 205.47h3.09v9.93h-3.09zM901.76 205.47h3.09v9.93h-3.09zM869.49 215h3.09v9.93h-3.09zM901.76 215h3.09v9.93h-3.09zM866.8 253.12h3.09v9.93h-3.09zM872.18 253.12h3.09v9.93h-3.09zM888.31 272.18h3.09v9.93h-3.09zM928.65 272.18h3.09v9.93h-3.09zM869.49 281.71h3.09v9.93h-3.09zM880.25 291.24h3.09v9.93h-3.09zM888.31 291.24h3.09v9.93h-3.09zM893.69 291.24h3.09v9.93h-3.09z"/>
<path fill="#606060" shape-rendering="crispEdges" d="M934.03 91.1h3.09v9.93h-3.09zM872.18 129.22h3.09v9.93h-3.09zM877.56 148.28h3.09v9.93h-3.09zM891 148.28h3.09v9.93h-3.09zM931.34 148.28h3.09v9.93h-3.09zM915.21 157.81h3.09v9.93h-3.09zM880.25 167.34h3.09v9.93h-3.09zM882.94 167.34h3.09v9.93h-3.09zM909.83 167.34h3.09v9.93h-3.09zM877.56 186.4h3.09v9.93h-3.09zM882.94 186.4h3.09v9.93h-3.09zM885.62 205.47h3.09v9.93h-3.09zM877.56 215h3.09v9.93h-3.09zM904.45 215h3.09v9.93h-3.09zM909.83 224.53h3.09v9.93h-3.09zM923.27 253.12h3.09v9.93h-3.09zM869.49 272.18h3.09v9.93h-3.09zM874.87 272.18h3.09v9.93h-3.09zM923.27 272.18h3.09v9.93h-3.09zM925.96 272.18h3.09v9.93h-3.09zM899.07 291.24h3.09v9.93h-3.09zM936.72 291.24h3.09v9.93h-3.09z"/>
<path fill="#8a8a8a" shape-rendering="crispEdges" d="M869.49 100.63h3.09v9.93h-3.09zM925.96 100.63h3.09v9.93h-3.09zM869.49 157.81h3.09v9.93h-3.09zM899.07 157.81h3.09v9.93h-3.09zM939.41 157.81h3.09v9.93h-3.09zM920.59 167.34h3.09v9.93h-3.09zM915.21 176.87h3.09v9.93h-3.09zM869.49 205.47h3.09v9.93h-3.09zM885.62 224.53h3.09v9.93h-3.09zM907.14 224.53h3.09v9.93h-3.09zM888.31 253.12h3.09v9.93h-3.09zM925.96 253.12h3.09v9.93h-3.09zM934.03 253.12h3.09v9.93h-3.09zM866.8 272.18h3.09v9.93h-3.09zM904.45 281.71h3.09v9.93h-3.09zM915.21 281.71h3.09v9.93h-3.09zM931.34 281.71h3.09v9.93h-3.09z"/>
<path fill="#bfbfbf" shape-rendering="crispEdges" d="M874.87 100.63h3.09v9.93h-3.09zM877.56 100.63h3.09v9.93h-3.09zM923.27 100.63h3.09v9.93h-3.09zM896.38 148.28h3.09v9.93h-3.09zM880.25 157.81h3.09v9.93h-3.09zM885.62 157.81h3.09v9.93h-3.09zM920.59 157.81h3.09v9.93h-3.09zM923.27 157.81h3.09v9.93h-3.09zM912.52 176.87h3.09v9.93h-3.09zM907.14 253.12h3.09v9.93h-3.09zM909.83 253.12h3.09v9.93h-3.09zM904.45 272.18h3.09v9.93h-3.09zM872.18 281.71h3.09v9.93h-3.09z"/>
<path fill="#9f9f9f" shape-rendering="crispEdges" d="M880.25 100.63h3.09v9.93h-3.09zM882.94 100.63h3.09v9.93h-3.09zM901.76 100.63h3.09v9.93h-3.09zM917.9 129.22h3.09v9.93h-3.09zM928.65 157.81h3.09v9.93h-3.09zM931.34 167.34h3.09v9.93h-3.09zM885.62 215h3.09v9.93h-3.09zM872.18 224.53h3.09v9.93h-3.09zM899.07 253.12h3.09v9.93h-3.09z"/>
<path fill="#ffffff" shape-rendering="crispEdges" d="M891 100.63h3.09v9.93h-3.09zM893.69 100.63h3.09v9.93h-3.09zM907.14 100.63h3.09v9.93h-3.09zM869.49 110.16h3.09v9.93h-3.09zM872.18 110.16h3.09v9.93h-3.09zM880.25 110.16h3.09v9.93h-3.09zM885.62 110.16h3.09v9.93h-3.09zM888.31 110.16h3.09v9.93h-3.09zM891 110.16h3.09v9.93h-3.09zM893.69 110.16h3.09v9.93h-3.09zM896.38 110.16h3.09v9.93h-3.09zM899.07 110.16h3.09v9.93h-3.09zM901.76 110.16h3.09v9.93h-3.09zM904.45 110.16h3.09v9.93h-3.09zM915.21 110.16h3.09v9.93h-3.09zM920.59 110.16h3.09v9.93h-3.09zM931.34 110.16h3.09v9.93h-3.09zM866.8 129.22h3.09v9.93h-3.09zM874.87 129.22h3.09v9.93h-3.09zM877.56 129.22h3.09v9.93h-3.09zM880.25 129.22h3.09v9.93h-3.09zM891 129.22h3.09v9.93h-3.09zM893.69 129.22h3.09v9.93h-3.09zM901.76 129.22h3.09v9.93h-3.09zM904.45 129.22h3.09v9.93h-3.09zM912.52 129.22h3.09v9.93h-3.09zM915.21 129.22h3.09v9.93h-3.09zM925.96 129.22h3.09v9.93h-3.09zM928.65 129.22h3.09v9.93h-3.09zM931.34 129.22h3.09v9.93h-3.09zM880.25 148.28h3.09v9.93h-3.09zM901.76 148.28h3.09v9.93h-3.09zM936.72 148.28h3.09v9.93h-3.09zM866.8 157.81h3.09v9.93h-3.09zM877.56 157.81h3.09v9.93h-3.09zM888.31 157.81h3.09v9.93h-3.09zM891 157.81h3.09v9.93h-3.09zM907.14 157.81h3.09v9.93h-3.09zM909.83 157.81h3.09v9.93h-3.09zM904.45 167.34h3.09v9.93h-3.09zM874.87 176.87h3.09v9.93h-3.09zM880.25 176.87h3.09v9.93h-3.09zM882.94 176.87h3.09v9.93h-3.09zM885.62 176.87h3.09v9.93h-3.09zM888.31 176.87h3.09v9.93h-3.09zM891 176.87h3.09v9.93h-3.09zM893.69 176.87h3.09v9.93h-3.09zM904.45 176.87h3.09v9.93h-3.09zM907.14 176.87h3.09v9.93h-3.09zM928.65 176.87h3.09v9.93h-3.09zM931.34 176.87h3.09v9.93h-3.09zM934.03 176.87h3.09v9.93h-3.09zM866.8 243.59h75.3v9.93h-75.3zM912.52 253.12h3.09v9.93h-3.09zM877.56 281.71h3.09v9.93h-3.09zM880.25 281.71h3.09v9.93h-3.09zM882.94 281.71h3.09v9.93h-3.09zM885.62 281.71h3.09v9.93h-3.09zM891 281.71h3.09v9.93h-3.09zM893.69 281.71h3.09v9.93h-3.09zM901.76 281.71h3.09v9.93h-3.09zM917.9 281.71h3.09v9.93h-3.09zM928.65 281.71h3.09v9.93h-3.09zM936.72 281.71h3.09v9.93h-3.09zM939.41 281.71h3.09v9.93h-3.09z"/>
<path fill="#f4f4f4" shape-rendering="crispEdges" d="M899.07 100.63h3.09v9.93h-3.09zM920.59 129.22h3.09v9.93h-3.09zM939.41 148.28h3.09v9.93h-3.09zM934.03 157.81h3.09v9.93h-3.09zM909.83 176.87h3.09v9.93h-3.09zM923.27 176.87h3.09v9.93h-3.09z"/>
<path fill="#d4d4d4" shape-rendering="crispEdges" d="M909.83 100.63h3.09v9.93h-3.09zM917.9 100.63h3.09v9.93h-3.09zM877.56 110.16h3.09v9.93h-3.09zM936.72 110.16h3.09v9.93h-3.09zM939.41 110.16h3.09v9.93h-3.09zM934.03 148.28h3.09v9.93h-3.09zM931.34 157.81h3.09v9.93h-3.09zM928.65 167.34h3.09v9.93h-3.09zM872.18 176.87h3.09v9.93h-3.09zM920.59 224.53h3.09v9.93h-3.09zM928.65 253.12h3.09v9.93h-3.09zM888.31 281.71h3.09v9.93h-3.09z"/>
<path fill="#dfdfdf" shape-rendering="crispEdges" d="M912.52 100.63h3.09v9.93h-3.09zM920.59 100.63h3.09v9.93h-3.09zM934.03 110.16h3.09v9.93h-3.09zM934.03 129.22h3.09v9.93h-3.09zM874.87 157.81h3.09v9.93h-3.09zM869.49 176.87h3.09v9.93h-3.09zM896.38 176.87h3.09v9.93h-3.09zM866.8 224.53h3.09v9.93h-3.09zM901.76 272.18h3.09v9.93h-3.09zM909.83 272.18h3.09v9.93h-3.09z"/>
<path fill="#aaaaaa" shape-rendering="crispEdges" d="M928.65 100.63h3.09v9.93h-3.09zM931.34 100.63h3.09v9.93h-3.09zM923.27 110.16h3.09v9.93h-3.09zM869.49 129.22h3.09v9.93h-3.09zM923.27 129.22h3.09v9.93h-3.09zM866.8 205.47h3.09v9.93h-3.09zM896.38 205.47h3.09v9.93h-3.09zM917.9 253.12h3.09v9.93h-3.09zM931.34 253.12h3.09v9.93h-3.09zM936.72 272.18h3.09v9.93h-3.09zM866.8 281.71h3.09v9.93h-3.09zM912.52 281.71h3.09v9.93h-3.09zM939.41 291.24h3.09v9.93h-3.09z"/>
<path fill="#b5b5b5" shape-rendering="crispEdges" d="M934.03 100.63h3.09v9.93h-3.09zM874.87 110.16h3.09v9.93h-3.09zM939.41 129.22h3.09v9.93h-3.09zM866.8 148.28h3.09v9.93h-3.09zM869.49 148.28h3.09v9.93h-3.09zM923.27 148.28h3.09v9.93h-3.09zM936.72 157.81h3.09v9.93h-3.09zM920.59 176.87h3.09v9.93h-3.09zM880.25 186.4h3.09v9.93h-3.09zM869.49 224.53h3.09v9.93h-3.09zM915.21 253.12h3.09v9.93h-3.09zM936.72 253.12h3.09v9.93h-3.09zM912.52 272.18h3.09v9.93h-3.09zM899.07 281.71h3.09v9.93h-3.09zM923.27 281.71h3.09v9.93h-3.09z"/>
<path fill="#eaeaea" shape-rendering="crispEdges" d="M866.8 110.16h3.09v9.93h-3.09zM882.94 110.16h3.09v9.93h-3.09zM912.52 110.16h3.09v9.93h-3.09zM896.38 129.22h3.09v9.93h-3.09zM872.18 148.28h3.09v9.93h-3.09z"/>
<path fill="#202020" shape-rendering="crispEdges" d="M877.56 119.69h3.09v9.93h-3.09zM880.25 119.69h3.09v9.93h-3.09zM891 119.69h3.09v9.93h-3.09zM925.96 119.69h3.09v9.93h-3.09zM872.18 138.75h3.09v9.93h-3.09zM912.52 148.28h3.09v9.93h-3.09zM888.31 167.34h3.09v9.93h-3.09zM880.25 195.93h3.09v9.93h-3.09zM899.07 205.47h3.09v9.93h-3.09zM912.52 205.47h3.09v9.93h-3.09zM920.59 205.47h3.09v9.93h-3.09zM888.31 215h3.09v9.93h-3.09zM896.38 215h3.09v9.93h-3.09zM920.59 215h3.09v9.93h-3.09zM931.34 215h3.09v9.93h-3.09zM936.72 224.53h3.09v9.93h-3.09zM934.03 234.06h3.09v9.93h-3.09zM920.59 253.12h3.09v9.93h-3.09zM872.18 262.65h3.09v9.93h-3.09zM909.83 262.65h3.09v9.93h-3.09zM920.59 291.24h3.09v9.93h-3.09z"/>
<path fill="#cacaca" shape-rendering="crispEdges" d="M936.72 129.22h3.09v9.93h-3.09zM920.59 148.28h3.09v9.93h-3.09zM907.14 167.34h3.09v9.93h-3.09zM904.45 224.53h3.09v9.93h-3.09zM917.9 224.53h3.09v9.93h-3.09zM877.56 253.12h3.09v9.93h-3.09zM896.38 253.12h3.09v9.93h-3.09zM939.41 253.12h3.09v9.93h-3.09zM907.14 272.18h3.09v9.93h-3.09zM874.87 281.71h3.09v9.93h-3.09zM907.14 281.71h3.09v9.93h-3.09zM934.03 281.71h3.09v9.93h-3.09zM872.18 291.24h3.09v9.93h-3.09zM923.27 291.24h3.09v9.93h-3.09z"/>
<rect x="872.0" y="91.1" width="3" height="219.2" fill="#66ee55"/>
<rect x="919.1" y="91.1" width="3" height="219.2" fill="#e8322a"/>
<path fill="#000000" shape-rendering="crispEdges" d="M953.4 91.1h3.12v9.93h-3.12zM956.12 91.1h3.12v9.93h-3.12zM961.55 91.1h3.12v9.93h-3.12zM961.55 100.63h3.12v9.93h-3.12zM964.27 100.63h3.12v9.93h-3.12zM988.73 100.63h3.12v9.93h-3.12zM1010.48 100.63h3.12v9.93h-3.12zM1018.63 100.63h3.12v9.93h-3.12zM1021.35 100.63h3.12v9.93h-3.12zM1024.06 110.16h3.12v9.93h-3.12zM953.4 119.69h3.12v9.93h-3.12zM958.84 119.69h3.12v9.93h-3.12zM975.14 119.69h3.12v9.93h-3.12zM977.86 119.69h3.12v9.93h-3.12zM983.3 119.69h3.12v9.93h-3.12zM986.01 119.69h3.12v9.93h-3.12zM988.73 119.69h3.12v9.93h-3.12zM991.45 119.69h3.12v9.93h-3.12zM1013.19 119.69h3.12v9.93h-3.12zM1015.91 119.69h3.12v9.93h-3.12zM964.27 138.75h3.12v9.93h-3.12zM966.99 138.75h3.12v9.93h-3.12zM969.71 138.75h3.12v9.93h-3.12zM972.42 138.75h3.12v9.93h-3.12zM975.14 138.75h3.12v9.93h-3.12zM983.3 138.75h3.12v9.93h-3.12zM986.01 138.75h3.12v9.93h-3.12zM988.73 138.75h3.12v9.93h-3.12zM999.6 138.75h3.12v9.93h-3.12zM1002.32 138.75h3.12v9.93h-3.12zM1015.91 138.75h3.12v9.93h-3.12zM1024.06 138.75h3.12v9.93h-3.12zM961.55 148.28h3.12v9.93h-3.12zM1002.32 148.28h3.12v9.93h-3.12zM1007.76 157.81h3.12v9.93h-3.12zM1024.06 157.81h3.12v9.93h-3.12zM975.14 167.34h3.12v9.93h-3.12zM1024.06 167.34h3.12v9.93h-3.12zM1026.78 167.34h3.12v9.93h-3.12zM996.89 176.87h3.12v9.93h-3.12zM1002.32 176.87h3.12v9.93h-3.12zM958.84 186.4h3.12v9.93h-3.12zM969.71 186.4h3.12v9.93h-3.12zM977.86 186.4h3.12v9.93h-3.12zM980.58 186.4h3.12v9.93h-3.12zM994.17 186.4h3.12v9.93h-3.12zM1021.35 186.4h3.12v9.93h-3.12zM953.4 195.93h3.12v9.93h-3.12zM958.84 195.93h3.12v9.93h-3.12zM966.99 195.93h3.12v9.93h-3.12zM1013.19 195.93h3.12v9.93h-3.12zM1015.91 195.93h3.12v9.93h-3.12zM1018.63 195.93h3.12v9.93h-3.12zM953.4 205.47h3.12v9.93h-3.12zM961.55 205.47h3.12v9.93h-3.12zM964.27 205.47h3.12v9.93h-3.12zM966.99 205.47h3.12v9.93h-3.12zM969.71 205.47h3.12v9.93h-3.12zM972.42 205.47h3.12v9.93h-3.12zM994.17 205.47h3.12v9.93h-3.12zM999.6 205.47h3.12v9.93h-3.12zM1013.19 205.47h3.12v9.93h-3.12zM1015.91 205.47h3.12v9.93h-3.12zM1026.78 205.47h3.12v9.93h-3.12zM1026.78 215h3.12v9.93h-3.12zM956.12 224.53h3.12v9.93h-3.12zM964.27 224.53h3.12v9.93h-3.12zM980.58 224.53h3.12v9.93h-3.12zM983.3 224.53h3.12v9.93h-3.12zM986.01 224.53h3.12v9.93h-3.12zM988.73 224.53h3.12v9.93h-3.12zM991.45 224.53h3.12v9.93h-3.12zM969.71 234.06h3.12v9.93h-3.12zM980.58 234.06h3.12v9.93h-3.12zM999.6 234.06h3.12v9.93h-3.12zM1002.32 234.06h3.12v9.93h-3.12zM1005.04 234.06h3.12v9.93h-3.12zM1007.76 234.06h3.12v9.93h-3.12zM1010.48 234.06h3.12v9.93h-3.12zM1013.19 234.06h3.12v9.93h-3.12zM964.27 253.12h3.12v9.93h-3.12zM966.99 253.12h3.12v9.93h-3.12zM969.71 253.12h3.12v9.93h-3.12zM972.42 253.12h3.12v9.93h-3.12zM975.14 253.12h3.12v9.93h-3.12zM977.86 253.12h3.12v9.93h-3.12zM994.17 253.12h3.12v9.93h-3.12zM996.89 253.12h3.12v9.93h-3.12zM1026.78 253.12h3.12v9.93h-3.12zM966.99 262.65h3.12v9.93h-3.12zM1005.04 262.65h3.12v9.93h-3.12zM1021.35 262.65h3.12v9.93h-3.12zM966.99 272.18h3.12v9.93h-3.12zM956.12 291.24h3.12v9.93h-3.12zM964.27 291.24h3.12v9.93h-3.12zM972.42 291.24h3.12v9.93h-3.12zM1018.63 291.24h3.12v9.93h-3.12zM966.99 300.77h3.12v9.93h-3.12zM969.71 300.77h3.12v9.93h-3.12zM972.42 300.77h3.12v9.93h-3.12zM1007.76 300.77h3.12v9.93h-3.12zM1013.19 300.77h3.12v9.93h-3.12zM1015.91 300.77h3.12v9.93h-3.12zM1021.35 300.77h3.12v9.93h-3.12z"/>
<path fill="#353535" shape-rendering="crispEdges" d="M958.84 91.1h3.12v9.93h-3.12zM956.12 100.63h3.12v9.93h-3.12zM966.99 100.63h3.12v9.93h-3.12zM983.3 100.63h3.12v9.93h-3.12zM1013.19 100.63h3.12v9.93h-3.12zM956.12 119.69h3.12v9.93h-3.12zM961.55 119.69h3.12v9.93h-3.12zM964.27 119.69h3.12v9.93h-3.12zM966.99 119.69h3.12v9.93h-3.12zM969.71 119.69h3.12v9.93h-3.12zM972.42 119.69h3.12v9.93h-3.12zM996.89 119.69h3.12v9.93h-3.12zM999.6 119.69h3.12v9.93h-3.12zM1021.35 119.69h3.12v9.93h-3.12zM1024.06 119.69h3.12v9.93h-3.12zM1026.78 119.69h3.12v9.93h-3.12zM980.58 138.75h3.12v9.93h-3.12zM956.12 148.28h3.12v9.93h-3.12zM975.14 148.28h3.12v9.93h-3.12zM966.99 157.81h3.12v9.93h-3.12zM953.4 176.87h3.12v9.93h-3.12zM958.84 176.87h3.12v9.93h-3.12zM972.42 176.87h3.12v9.93h-3.12zM975.14 176.87h3.12v9.93h-3.12zM977.86 176.87h3.12v9.93h-3.12zM980.58 176.87h3.12v9.93h-3.12zM983.3 176.87h3.12v9.93h-3.12zM986.01 176.87h3.12v9.93h-3.12zM991.45 176.87h3.12v9.93h-3.12zM994.17 176.87h3.12v9.93h-3.12zM999.6 176.87h3.12v9.93h-3.12zM1005.04 176.87h3.12v9.93h-3.12zM1007.76 176.87h3.12v9.93h-3.12zM1010.48 176.87h3.12v9.93h-3.12zM1013.19 176.87h3.12v9.93h-3.12zM953.4 186.4h3.12v9.93h-3.12zM966.99 186.4h3.12v9.93h-3.12zM975.14 186.4h3.12v9.93h-3.12zM1010.48 186.4h3.12v9.93h-3.12zM999.6 195.93h3.12v9.93h-3.12zM1024.06 195.93h3.12v9.93h-3.12zM1005.04 205.47h3.12v9.93h-3.12zM1007.76 205.47h3.12v9.93h-3.12zM1010.48 205.47h3.12v9.93h-3.12zM1021.35 205.47h3.12v9.93h-3.12zM994.17 215h3.12v9.93h-3.12zM1002.32 215h3.12v9.93h-3.12zM953.4 234.06h3.12v9.93h-3.12zM956.12 234.06h3.12v9.93h-3.12zM966.99 234.06h3.12v9.93h-3.12zM1007.76 253.12h3.12v9.93h-3.12zM1010.48 253.12h3.12v9.93h-3.12zM1015.91 253.12h3.12v9.93h-3.12zM1018.63 253.12h3.12v9.93h-3.12zM956.12 262.65h3.12v9.93h-3.12zM972.42 262.65h3.12v9.93h-3.12zM983.3 262.65h3.12v9.93h-3.12zM986.01 262.65h3.12v9.93h-3.12zM983.3 272.18h3.12v9.93h-3.12zM983.3 291.24h3.12v9.93h-3.12zM988.73 291.24h3.12v9.93h-3.12zM996.89 291.24h3.12v9.93h-3.12zM1010.48 291.24h3.12v9.93h-3.12zM953.4 300.77h3.12v9.93h-3.12zM958.84 300.77h3.12v9.93h-3.12zM991.45 300.77h3.12v9.93h-3.12zM1024.06 300.77h3.12v9.93h-3.12z"/>
<path fill="#ffffff" shape-rendering="crispEdges" d="M964.27 91.1h3.12v9.93h-3.12zM999.6 91.1h3.12v9.93h-3.12zM1005.04 91.1h3.12v9.93h-3.12zM1007.76 91.1h3.12v9.93h-3.12zM972.42 100.63h3.12v9.93h-3.12zM975.14 100.63h3.12v9.93h-3.12zM953.4 110.16h3.12v9.93h-3.12zM966.99 110.16h3.12v9.93h-3.12zM969.71 110.16h3.12v9.93h-3.12zM972.42 110.16h3.12v9.93h-3.12zM983.3 110.16h3.12v9.93h-3.12zM986.01 110.16h3.12v9.93h-3.12zM988.73 110.16h3.12v9.93h-3.12zM991.45 110.16h3.12v9.93h-3.12zM994.17 110.16h3.12v9.93h-3.12zM999.6 110.16h3.12v9.93h-3.12zM1002.32 110.16h3.12v9.93h-3.12zM1010.48 110.16h3.12v9.93h-3.12zM1015.91 110.16h3.12v9.93h-3.12zM1018.63 110.16h3.12v9.93h-3.12zM1026.78 110.16h3.12v9.93h-3.12zM975.14 129.22h3.12v9.93h-3.12zM977.86 129.22h3.12v9.93h-3.12zM996.89 129.22h3.12v9.93h-3.12zM1015.91 129.22h3.12v9.93h-3.12zM964.27 148.28h3.12v9.93h-3.12zM972.42 157.81h3.12v9.93h-3.12zM977.86 167.34h3.12v9.93h-3.12zM964.27 215h3.12v9.93h-3.12zM996.89 215h3.12v9.93h-3.12zM1005.04 215h3.12v9.93h-3.12zM1021.35 215h3.12v9.93h-3.12zM972.42 243.59h3.12v9.93h-3.12zM977.86 243.59h3.12v9.93h-3.12zM988.73 243.59h3.12v9.93h-3.12zM994.17 243.59h3.12v9.93h-3.12zM1021.35 243.59h3.12v9.93h-3.12zM1026.78 243.59h3.12v9.93h-3.12zM977.86 281.71h3.12v9.93h-3.12zM986.01 281.71h3.12v9.93h-3.12zM988.73 281.71h3.12v9.93h-3.12zM999.6 281.71h3.12v9.93h-3.12zM1007.76 281.71h3.12v9.93h-3.12zM1010.48 281.71h3.12v9.93h-3.12z"/>
<path fill="#9f9f9f" shape-rendering="crispEdges" d="M966.99 91.1h3.12v9.93h-3.12zM1010.48 91.1h3.12v9.93h-3.12zM1021.35 91.1h3.12v9.93h-3.12zM1024.06 91.1h3.12v9.93h-3.12zM994.17 129.22h3.12v9.93h-3.12zM1026.78 129.22h3.12v9.93h-3.12zM961.55 157.81h3.12v9.93h-3.12zM975.14 157.81h3.12v9.93h-3.12zM988.73 167.34h3.12v9.93h-3.12zM1021.35 167.34h3.12v9.93h-3.12zM991.45 195.93h3.12v9.93h-3.12zM969.71 215h3.12v9.93h-3.12zM975.14 215h3.12v9.93h-3.12zM1007.76 215h3.12v9.93h-3.12zM964.27 243.59h3.12v9.93h-3.12zM966.99 243.59h3.12v9.93h-3.12zM953.4 253.12h3.12v9.93h-3.12zM1013.19 262.65h3.12v9.93h-3.12zM958.84 281.71h3.12v9.93h-3.12zM980.58 291.24h3.12v9.93h-3.12z"/>
<path fill="#606060" shape-rendering="crispEdges" d="M969.71 91.1h3.12v9.93h-3.12zM986.01 100.63h3.12v9.93h-3.12zM1002.32 100.63h3.12v9.93h-3.12zM961.55 110.16h3.12v9.93h-3.12zM1005.04 129.22h3.12v9.93h-3.12zM1013.19 138.75h3.12v9.93h-3.12zM953.4 148.28h3.12v9.93h-3.12zM958.84 148.28h3.12v9.93h-3.12zM953.4 157.81h3.12v9.93h-3.12zM1015.91 157.81h3.12v9.93h-3.12zM956.12 167.34h3.12v9.93h-3.12zM972.42 186.4h3.12v9.93h-3.12zM988.73 186.4h3.12v9.93h-3.12zM996.89 186.4h3.12v9.93h-3.12zM999.6 186.4h3.12v9.93h-3.12zM1024.06 186.4h3.12v9.93h-3.12zM977.86 205.47h3.12v9.93h-3.12zM972.42 215h3.12v9.93h-3.12zM999.6 224.53h3.12v9.93h-3.12zM1026.78 224.53h3.12v9.93h-3.12zM994.17 262.65h3.12v9.93h-3.12zM980.58 272.18h3.12v9.93h-3.12zM986.01 272.18h3.12v9.93h-3.12zM1010.48 272.18h3.12v9.93h-3.12zM1024.06 272.18h3.12v9.93h-3.12zM966.99 281.71h3.12v9.93h-3.12zM969.71 291.24h3.12v9.93h-3.12zM964.27 300.77h3.12v9.93h-3.12zM988.73 300.77h3.12v9.93h-3.12zM1010.48 300.77h3.12v9.93h-3.12z"/>
<path fill="#757575" shape-rendering="crispEdges" d="M972.42 91.1h3.12v9.93h-3.12zM977.86 91.1h3.12v9.93h-3.12zM980.58 91.1h3.12v9.93h-3.12zM996.89 91.1h3.12v9.93h-3.12zM969.71 100.63h3.12v9.93h-3.12zM1005.04 100.63h3.12v9.93h-3.12zM988.73 129.22h3.12v9.93h-3.12zM996.89 148.28h3.12v9.93h-3.12zM1007.76 148.28h3.12v9.93h-3.12zM977.86 157.81h3.12v9.93h-3.12zM1005.04 167.34h3.12v9.93h-3.12zM972.42 195.93h3.12v9.93h-3.12zM1007.76 195.93h3.12v9.93h-3.12zM966.99 224.53h3.12v9.93h-3.12zM1021.35 224.53h3.12v9.93h-3.12zM977.86 272.18h3.12v9.93h-3.12zM994.17 272.18h3.12v9.93h-3.12zM996.89 272.18h3.12v9.93h-3.12zM1018.63 281.71h3.12v9.93h-3.12zM1026.78 281.71h3.12v9.93h-3.12zM1002.32 291.24h3.12v9.93h-3.12zM1005.04 291.24h3.12v9.93h-3.12zM1007.76 291.24h3.12v9.93h-3.12zM1024.06 291.24h3.12v9.93h-3.12zM994.17 300.77h3.12v9.93h-3.12zM999.6 300.77h3.12v9.93h-3.12z"/>
<path fill="#959595" shape-rendering="crispEdges" d="M975.14 91.1h3.12v9.93h-3.12zM1013.19 91.1h3.12v9.93h-3.12zM1015.91 91.1h3.12v9.93h-3.12zM991.45 100.63h3.12v9.93h-3.12zM999.6 100.63h3.12v9.93h-3.12zM1013.19 110.16h3.12v9.93h-3.12zM956.12 129.22h3.12v9.93h-3.12zM983.3 148.28h3.12v9.93h-3.12zM983.3 157.81h3.12v9.93h-3.12zM994.17 157.81h3.12v9.93h-3.12zM983.3 167.34h3.12v9.93h-3.12zM1018.63 167.34h3.12v9.93h-3.12zM988.73 195.93h3.12v9.93h-3.12zM980.58 215h3.12v9.93h-3.12zM986.01 234.06h3.12v9.93h-3.12zM958.84 243.59h3.12v9.93h-3.12zM969.71 243.59h3.12v9.93h-3.12zM1021.35 272.18h3.12v9.93h-3.12zM1026.78 272.18h3.12v9.93h-3.12zM977.86 300.77h3.12v9.93h-3.12z"/>
<path fill="#555555" shape-rendering="crispEdges" d="M983.3 91.1h3.12v9.93h-3.12zM986.01 91.1h3.12v9.93h-3.12zM1026.78 91.1h3.12v9.93h-3.12zM996.89 110.16h3.12v9.93h-3.12zM991.45 129.22h3.12v9.93h-3.12zM1002.32 129.22h3.12v9.93h-3.12zM988.73 148.28h3.12v9.93h-3.12zM999.6 148.28h3.12v9.93h-3.12zM1015.91 148.28h3.12v9.93h-3.12zM1018.63 148.28h3.12v9.93h-3.12zM988.73 157.81h3.12v9.93h-3.12zM953.4 167.34h3.12v9.93h-3.12zM1026.78 186.4h3.12v9.93h-3.12zM1026.78 195.93h3.12v9.93h-3.12zM977.86 215h3.12v9.93h-3.12zM1002.32 224.53h3.12v9.93h-3.12zM958.84 234.06h3.12v9.93h-3.12zM1026.78 234.06h3.12v9.93h-3.12zM953.4 262.65h3.12v9.93h-3.12zM961.55 262.65h3.12v9.93h-3.12zM969.71 262.65h3.12v9.93h-3.12zM1010.48 262.65h3.12v9.93h-3.12zM1018.63 262.65h3.12v9.93h-3.12zM1015.91 272.18h3.12v9.93h-3.12zM961.55 281.71h3.12v9.93h-3.12zM972.42 281.71h3.12v9.93h-3.12zM961.55 291.24h3.12v9.93h-3.12zM994.17 291.24h3.12v9.93h-3.12zM1013.19 291.24h3.12v9.93h-3.12zM1021.35 291.24h3.12v9.93h-3.12zM1026.78 291.24h3.12v9.93h-3.12z"/>
<path fill="#4a4a4a" shape-rendering="crispEdges" d="M988.73 91.1h3.12v9.93h-3.12zM969.71 129.22h3.12v9.93h-3.12zM961.55 138.75h3.12v9.93h-3.12zM991.45 138.75h3.12v9.93h-3.12zM1005.04 157.81h3.12v9.93h-3.12zM980.58 167.34h3.12v9.93h-3.12zM956.12 186.4h3.12v9.93h-3.12zM991.45 186.4h3.12v9.93h-3.12zM964.27 195.93h3.12v9.93h-3.12zM975.14 195.93h3.12v9.93h-3.12zM994.17 195.93h3.12v9.93h-3.12zM956.12 205.47h3.12v9.93h-3.12zM986.01 215h3.12v9.93h-3.12zM988.73 215h3.12v9.93h-3.12zM961.55 234.06h3.12v9.93h-3.12zM983.3 234.06h3.12v9.93h-3.12zM994.17 234.06h3.12v9.93h-3.12zM1010.48 243.59h3.12v9.93h-3.12zM986.01 253.12h3.12v9.93h-3.12zM958.84 262.65h3.12v9.93h-3.12zM1015.91 262.65h3.12v9.93h-3.12zM975.14 272.18h3.12v9.93h-3.12zM1013.19 272.18h3.12v9.93h-3.12zM966.99 291.24h3.12v9.93h-3.12zM1005.04 300.77h3.12v9.93h-3.12zM1018.63 300.77h3.12v9.93h-3.12z"/>
<path fill="#808080" shape-rendering="crispEdges" d="M991.45 91.1h3.12v9.93h-3.12zM977.86 100.63h3.12v9.93h-3.12zM994.17 100.63h3.12v9.93h-3.12zM1024.06 100.63h3.12v9.93h-3.12zM958.84 110.16h3.12v9.93h-3.12zM953.4 129.22h3.12v9.93h-3.12zM961.55 129.22h3.12v9.93h-3.12zM1013.19 129.22h3.12v9.93h-3.12zM969.71 148.28h3.12v9.93h-3.12zM1024.06 148.28h3.12v9.93h-3.12zM986.01 157.81h3.12v9.93h-3.12zM969.71 167.34h3.12v9.93h-3.12zM991.45 167.34h3.12v9.93h-3.12zM994.17 167.34h3.12v9.93h-3.12zM999.6 167.34h3.12v9.93h-3.12zM956.12 195.93h3.12v9.93h-3.12zM958.84 205.47h3.12v9.93h-3.12zM1024.06 215h3.12v9.93h-3.12zM969.71 224.53h3.12v9.93h-3.12zM975.14 224.53h3.12v9.93h-3.12zM977.86 224.53h3.12v9.93h-3.12zM1018.63 224.53h3.12v9.93h-3.12zM991.45 234.06h3.12v9.93h-3.12zM1024.06 234.06h3.12v9.93h-3.12zM961.55 243.59h3.12v9.93h-3.12zM1018.63 243.59h3.12v9.93h-3.12zM964.27 262.65h3.12v9.93h-3.12zM999.6 272.18h3.12v9.93h-3.12z"/>
<path fill="#b5b5b5" shape-rendering="crispEdges" d="M994.17 91.1h3.12v9.93h-3.12zM1002.32 91.1h3.12v9.93h-3.12zM983.3 129.22h3.12v9.93h-3.12zM1021.35 129.22h3.12v9.93h-3.12zM1015.91 243.59h3.12v9.93h-3.12zM988.73 272.18h3.12v9.93h-3.12zM1021.35 281.71h3.12v9.93h-3.12zM991.45 291.24h3.12v9.93h-3.12z"/>
<path fill="#cacaca" shape-rendering="crispEdges" d="M1018.63 91.1h3.12v9.93h-3.12zM980.58 110.16h3.12v9.93h-3.12zM1007.76 110.16h3.12v9.93h-3.12zM964.27 129.22h3.12v9.93h-3.12zM980.58 129.22h3.12v9.93h-3.12zM1015.91 215h3.12v9.93h-3.12zM983.3 243.59h3.12v9.93h-3.12zM1005.04 243.59h3.12v9.93h-3.12zM994.17 281.71h3.12v9.93h-3.12zM958.84 291.24h3.12v9.93h-3.12z"/>
<path fill="#404040" shape-rendering="crispEdges" d="M953.4 100.63h3.12v9.93h-3.12zM958.84 100.63h3.12v9.93h-3.12zM1015.91 100.63h3.12v9.93h-3.12zM1007.76 129.22h3.12v9.93h-3.12zM1018.63 129.22h3.12v9.93h-3.12zM977.86 138.75h3.12v9.93h-3.12zM994.17 138.75h3.12v9.93h-3.12zM996.89 157.81h3.12v9.93h-3.12zM1013.19 157.81h3.12v9.93h-3.12zM986.01 167.34h3.12v9.93h-3.12zM994.17 224.53h3.12v9.93h-3.12zM1007.76 224.53h3.12v9.93h-3.12zM977.86 234.06h3.12v9.93h-3.12zM988.73 234.06h3.12v9.93h-3.12zM1024.06 243.59h3.12v9.93h-3.12zM956.12 253.12h3.12v9.93h-3.12zM958.84 253.12h3.12v9.93h-3.12zM1013.19 253.12h3.12v9.93h-3.12zM975.14 262.65h3.12v9.93h-3.12zM977.86 262.65h3.12v9.93h-3.12zM996.89 262.65h3.12v9.93h-3.12zM1024.06 262.65h3.12v9.93h-3.12zM958.84 272.18h3.12v9.93h-3.12zM1007.76 272.18h3.12v9.93h-3.12zM1018.63 272.18h3.12v9.93h-3.12zM969.71 281.71h3.12v9.93h-3.12zM1013.19 281.71h3.12v9.93h-3.12zM975.14 291.24h3.12v9.93h-3.12zM977.86 291.24h3.12v9.93h-3.12z"/>
<path fill="#151515" shape-rendering="crispEdges" d="M980.58 100.63h3.12v9.93h-3.12zM1007.76 119.69h3.12v9.93h-3.12zM1018.63 119.69h3.12v9.93h-3.12zM1018.63 138.75h3.12v9.93h-3.12zM1026.78 157.81h3.12v9.93h-3.12zM1002.32 167.34h3.12v9.93h-3.12zM964.27 176.87h3.12v9.93h-3.12zM969.71 176.87h3.12v9.93h-3.12zM1018.63 176.87h3.12v9.93h-3.12zM1024.06 176.87h3.12v9.93h-3.12zM961.55 186.4h3.12v9.93h-3.12zM986.01 186.4h3.12v9.93h-3.12zM1005.04 186.4h3.12v9.93h-3.12zM1015.91 186.4h3.12v9.93h-3.12zM1021.35 195.93h3.12v9.93h-3.12zM988.73 205.47h3.12v9.93h-3.12zM996.89 205.47h3.12v9.93h-3.12zM1018.63 205.47h3.12v9.93h-3.12zM958.84 224.53h3.12v9.93h-3.12zM1021.35 234.06h3.12v9.93h-3.12zM961.55 253.12h3.12v9.93h-3.12zM988.73 253.12h3.12v9.93h-3.12zM1024.06 253.12h3.12v9.93h-3.12zM961.55 272.18h3.12v9.93h-3.12zM953.4 291.24h3.12v9.93h-3.12zM986.01 291.24h3.12v9.93h-3.12zM1015.91 291.24h3.12v9.93h-3.12z"/>
<path fill="#2a2a2a" shape-rendering="crispEdges" d="M996.89 100.63h3.12v9.93h-3.12zM1007.76 100.63h3.12v9.93h-3.12zM1005.04 110.16h3.12v9.93h-3.12zM980.58 119.69h3.12v9.93h-3.12zM1010.48 119.69h3.12v9.93h-3.12zM966.99 129.22h3.12v9.93h-3.12zM953.4 138.75h3.12v9.93h-3.12zM977.86 148.28h3.12v9.93h-3.12zM956.12 157.81h3.12v9.93h-3.12zM964.27 157.81h3.12v9.93h-3.12zM969.71 157.81h3.12v9.93h-3.12zM1013.19 167.34h3.12v9.93h-3.12zM956.12 176.87h3.12v9.93h-3.12zM988.73 176.87h3.12v9.93h-3.12zM1021.35 176.87h3.12v9.93h-3.12zM1026.78 176.87h3.12v9.93h-3.12zM1002.32 186.4h3.12v9.93h-3.12zM1013.19 186.4h3.12v9.93h-3.12zM986.01 195.93h3.12v9.93h-3.12zM975.14 205.47h3.12v9.93h-3.12zM986.01 205.47h3.12v9.93h-3.12zM961.55 224.53h3.12v9.93h-3.12zM1013.19 224.53h3.12v9.93h-3.12zM964.27 234.06h3.12v9.93h-3.12zM972.42 234.06h3.12v9.93h-3.12zM1015.91 234.06h3.12v9.93h-3.12zM983.3 253.12h3.12v9.93h-3.12zM999.6 253.12h3.12v9.93h-3.12zM1005.04 253.12h3.12v9.93h-3.12zM999.6 262.65h3.12v9.93h-3.12zM1007.76 262.65h3.12v9.93h-3.12zM1015.91 281.71h3.12v9.93h-3.12zM1024.06 281.71h3.12v9.93h-3.12zM999.6 291.24h3.12v9.93h-3.12zM1002.32 300.77h3.12v9.93h-3.12z"/>
<path fill="#8a8a8a" shape-rendering="crispEdges" d="M1026.78 100.63h3.12v9.93h-3.12zM972.42 129.22h3.12v9.93h-3.12zM999.6 129.22h3.12v9.93h-3.12zM1010.48 129.22h3.12v9.93h-3.12zM1010.48 148.28h3.12v9.93h-3.12zM958.84 157.81h3.12v9.93h-3.12zM999.6 157.81h3.12v9.93h-3.12zM1002.32 157.81h3.12v9.93h-3.12zM966.99 167.34h3.12v9.93h-3.12zM1007.76 167.34h3.12v9.93h-3.12zM964.27 186.4h3.12v9.93h-3.12zM983.3 215h3.12v9.93h-3.12zM986.01 243.59h3.12v9.93h-3.12zM956.12 281.71h3.12v9.93h-3.12zM975.14 281.71h3.12v9.93h-3.12zM980.58 300.77h3.12v9.93h-3.12z"/>
<path fill="#aaaaaa" shape-rendering="crispEdges" d="M956.12 110.16h3.12v9.93h-3.12zM1010.48 167.34h3.12v9.93h-3.12zM953.4 243.59h3.12v9.93h-3.12zM1013.19 243.59h3.12v9.93h-3.12zM988.73 262.65h3.12v9.93h-3.12zM964.27 281.71h3.12v9.93h-3.12z"/>
<path fill="#f4f4f4" shape-rendering="crispEdges" d="M964.27 110.16h3.12v9.93h-3.12zM1021.35 110.16h3.12v9.93h-3.12zM961.55 215h3.12v9.93h-3.12zM953.4 224.53h3.12v9.93h-3.12zM975.14 243.59h3.12v9.93h-3.12zM991.45 281.71h3.12v9.93h-3.12zM1005.04 281.71h3.12v9.93h-3.12z"/>
<path fill="#bfbfbf" shape-rendering="crispEdges" d="M975.14 110.16h3.12v9.93h-3.12zM1010.48 138.75h3.12v9.93h-3.12zM1018.63 157.81h3.12v9.93h-3.12zM1005.04 195.93h3.12v9.93h-3.12zM966.99 215h3.12v9.93h-3.12zM999.6 215h3.12v9.93h-3.12zM956.12 243.59h3.12v9.93h-3.12zM991.45 272.18h3.12v9.93h-3.12zM1005.04 272.18h3.12v9.93h-3.12zM980.58 281.71h3.12v9.93h-3.12zM983.3 281.71h3.12v9.93h-3.12zM1002.32 281.71h3.12v9.93h-3.12z"/>
<path fill="#dfdfdf" shape-rendering="crispEdges" d="M977.86 110.16h3.12v9.93h-3.12zM991.45 205.47h3.12v9.93h-3.12zM956.12 215h3.12v9.93h-3.12zM991.45 243.59h3.12v9.93h-3.12zM996.89 300.77h3.12v9.93h-3.12z"/>
<path fill="#202020" shape-rendering="crispEdges" d="M994.17 119.69h3.12v9.93h-3.12zM1002.32 119.69h3.12v9.93h-3.12zM1005.04 119.69h3.12v9.93h-3.12zM996.89 138.75h3.12v9.93h-3.12zM1005.04 138.75h3.12v9.93h-3.12zM972.42 148.28h3.12v9.93h-3.12zM958.84 167.34h3.12v9.93h-3.12zM1015.91 167.34h3.12v9.93h-3.12zM961.55 176.87h3.12v9.93h-3.12zM966.99 176.87h3.12v9.93h-3.12zM1007.76 186.4h3.12v9.93h-3.12zM983.3 195.93h3.12v9.93h-3.12zM980.58 205.47h3.12v9.93h-3.12zM1024.06 205.47h3.12v9.93h-3.12zM996.89 224.53h3.12v9.93h-3.12zM1018.63 234.06h3.12v9.93h-3.12zM980.58 253.12h3.12v9.93h-3.12zM991.45 253.12h3.12v9.93h-3.12zM1021.35 253.12h3.12v9.93h-3.12zM1002.32 262.65h3.12v9.93h-3.12zM953.4 281.71h3.12v9.93h-3.12zM956.12 300.77h3.12v9.93h-3.12z"/>
<path fill="#6a6a6a" shape-rendering="crispEdges" d="M958.84 129.22h3.12v9.93h-3.12zM986.01 129.22h3.12v9.93h-3.12zM958.84 138.75h3.12v9.93h-3.12zM980.58 148.28h3.12v9.93h-3.12zM986.01 148.28h3.12v9.93h-3.12zM991.45 148.28h3.12v9.93h-3.12zM994.17 148.28h3.12v9.93h-3.12zM1026.78 148.28h3.12v9.93h-3.12zM980.58 157.81h3.12v9.93h-3.12zM991.45 157.81h3.12v9.93h-3.12zM1021.35 157.81h3.12v9.93h-3.12zM961.55 167.34h3.12v9.93h-3.12zM964.27 167.34h3.12v9.93h-3.12zM969.71 195.93h3.12v9.93h-3.12zM977.86 195.93h3.12v9.93h-3.12zM996.89 195.93h3.12v9.93h-3.12zM1002.32 205.47h3.12v9.93h-3.12zM953.4 215h3.12v9.93h-3.12zM972.42 224.53h3.12v9.93h-3.12zM1015.91 224.53h3.12v9.93h-3.12zM975.14 234.06h3.12v9.93h-3.12zM996.89 234.06h3.12v9.93h-3.12zM999.6 243.59h3.12v9.93h-3.12zM1007.76 243.59h3.12v9.93h-3.12zM1002.32 253.12h3.12v9.93h-3.12zM980.58 262.65h3.12v9.93h-3.12zM991.45 262.65h3.12v9.93h-3.12zM1026.78 262.65h3.12v9.93h-3.12zM964.27 272.18h3.12v9.93h-3.12zM972.42 272.18h3.12v9.93h-3.12zM983.3 300.77h3.12v9.93h-3.12zM986.01 300.77h3.12v9.93h-3.12z"/>
<path fill="#eaeaea" shape-rendering="crispEdges" d="M1024.06 129.22h3.12v9.93h-3.12zM966.99 148.28h3.12v9.93h-3.12zM1010.48 215h3.12v9.93h-3.12zM1002.32 243.59h3.12v9.93h-3.12zM975.14 300.77h3.12v9.93h-3.12z"/>
<path fill="#0b0b0b" shape-rendering="crispEdges" d="M956.12 138.75h3.12v9.93h-3.12zM1007.76 138.75h3.12v9.93h-3.12zM1021.35 138.75h3.12v9.93h-3.12zM1026.78 138.75h3.12v9.93h-3.12zM1005.04 148.28h3.12v9.93h-3.12zM1013.19 148.28h3.12v9.93h-3.12zM1010.48 157.81h3.12v9.93h-3.12zM996.89 167.34h3.12v9.93h-3.12zM1015.91 176.87h3.12v9.93h-3.12zM983.3 186.4h3.12v9.93h-3.12zM1018.63 186.4h3.12v9.93h-3.12zM961.55 195.93h3.12v9.93h-3.12zM980.58 195.93h3.12v9.93h-3.12zM1010.48 195.93h3.12v9.93h-3.12zM983.3 205.47h3.12v9.93h-3.12zM991.45 215h3.12v9.93h-3.12zM1005.04 224.53h3.12v9.93h-3.12zM1010.48 224.53h3.12v9.93h-3.12zM1024.06 224.53h3.12v9.93h-3.12zM953.4 272.18h3.12v9.93h-3.12zM956.12 272.18h3.12v9.93h-3.12zM969.71 272.18h3.12v9.93h-3.12zM961.55 300.77h3.12v9.93h-3.12zM1026.78 300.77h3.12v9.93h-3.12z"/>
<path fill="#d4d4d4" shape-rendering="crispEdges" d="M1021.35 148.28h3.12v9.93h-3.12zM972.42 167.34h3.12v9.93h-3.12zM1002.32 195.93h3.12v9.93h-3.12zM958.84 215h3.12v9.93h-3.12zM1013.19 215h3.12v9.93h-3.12zM1018.63 215h3.12v9.93h-3.12zM980.58 243.59h3.12v9.93h-3.12zM996.89 243.59h3.12v9.93h-3.12zM1002.32 272.18h3.12v9.93h-3.12zM996.89 281.71h3.12v9.93h-3.12z"/>
<rect x="959.0" y="91.1" width="3" height="219.2" fill="#66ee55"/>
<rect x="1020.4" y="91.1" width="3" height="219.2" fill="#e8322a"/>
<path fill="#4a4a4a" shape-rendering="crispEdges" d="M1041 91.1h3.1v9.93h-3.1zM1046.41 100.63h3.1v9.93h-3.1zM1086.96 100.63h3.1v9.93h-3.1zM1103.18 100.63h3.1v9.93h-3.1zM1070.74 138.75h3.1v9.93h-3.1zM1108.59 148.28h3.1v9.93h-3.1zM1105.89 157.81h3.1v9.93h-3.1zM1095.07 176.87h3.1v9.93h-3.1zM1078.85 186.4h3.1v9.93h-3.1zM1084.26 186.4h3.1v9.93h-3.1zM1092.37 186.4h3.1v9.93h-3.1zM1065.33 195.93h3.1v9.93h-3.1zM1059.92 205.47h3.1v9.93h-3.1zM1073.44 205.47h3.1v9.93h-3.1zM1076.15 205.47h3.1v9.93h-3.1zM1068.04 215h3.1v9.93h-3.1zM1095.07 224.53h3.1v9.93h-3.1zM1070.74 234.06h3.1v9.93h-3.1zM1081.55 253.12h3.1v9.93h-3.1zM1095.07 253.12h3.1v9.93h-3.1zM1051.81 262.65h3.1v9.93h-3.1zM1070.74 262.65h3.1v9.93h-3.1zM1108.59 262.65h3.1v9.93h-3.1zM1097.78 272.18h3.1v9.93h-3.1zM1046.41 281.71h3.1v9.93h-3.1zM1065.33 291.24h3.1v9.93h-3.1z"/>
<path fill="#000000" shape-rendering="crispEdges" d="M1043.7 91.1h3.1v9.93h-3.1zM1051.81 91.1h3.1v9.93h-3.1zM1059.92 91.1h3.1v9.93h-3.1zM1089.66 91.1h3.1v9.93h-3.1zM1095.07 91.1h3.1v9.93h-3.1zM1097.78 91.1h3.1v9.93h-3.1zM1051.81 100.63h3.1v9.93h-3.1zM1076.15 100.63h3.1v9.93h-3.1zM1081.55 100.63h3.1v9.93h-3.1zM1089.66 100.63h3.1v9.93h-3.1zM1100.48 100.63h3.1v9.93h-3.1zM1043.7 119.69h3.1v9.93h-3.1zM1051.81 119.69h3.1v9.93h-3.1zM1068.04 119.69h3.1v9.93h-3.1zM1081.55 119.69h3.1v9.93h-3.1zM1089.66 119.69h3.1v9.93h-3.1zM1092.37 119.69h3.1v9.93h-3.1zM1103.18 119.69h3.1v9.93h-3.1zM1114 119.69h3.1v9.93h-3.1zM1051.81 138.75h3.1v9.93h-3.1zM1059.92 138.75h3.1v9.93h-3.1zM1062.63 138.75h3.1v9.93h-3.1zM1065.33 138.75h3.1v9.93h-3.1zM1068.04 138.75h3.1v9.93h-3.1zM1084.26 138.75h3.1v9.93h-3.1zM1086.96 138.75h3.1v9.93h-3.1zM1089.66 138.75h3.1v9.93h-3.1zM1092.37 138.75h3.1v9.93h-3.1zM1103.18 138.75h3.1v9.93h-3.1zM1105.89 138.75h3.1v9.93h-3.1zM1108.59 138.75h3.1v9.93h-3.1zM1114 148.28h3.1v9.93h-3.1zM1073.44 157.81h3.1v9.93h-3.1zM1043.7 167.34h3.1v9.93h-3.1zM1046.41 167.34h3.1v9.93h-3.1zM1111.29 167.34h3.1v9.93h-3.1zM1084.26 176.87h3.1v9.93h-3.1zM1062.63 186.4h3.1v9.93h-3.1zM1065.33 186.4h3.1v9.93h-3.1zM1103.18 186.4h3.1v9.93h-3.1zM1105.89 186.4h3.1v9.93h-3.1zM1108.59 186.4h3.1v9.93h-3.1zM1114 186.4h3.1v9.93h-3.1zM1043.7 205.47h3.1v9.93h-3.1zM1068.04 205.47h3.1v9.93h-3.1zM1084.26 205.47h3.1v9.93h-3.1zM1103.18 205.47h3.1v9.93h-3.1zM1046.41 215h3.1v9.93h-3.1zM1076.15 215h3.1v9.93h-3.1zM1105.89 215h3.1v9.93h-3.1zM1108.59 215h3.1v9.93h-3.1zM1076.15 243.59h3.1v9.93h-3.1zM1105.89 243.59h3.1v9.93h-3.1zM1108.59 243.59h3.1v9.93h-3.1zM1041 253.12h3.1v9.93h-3.1zM1043.7 253.12h3.1v9.93h-3.1zM1046.41 253.12h3.1v9.93h-3.1zM1049.11 253.12h3.1v9.93h-3.1zM1051.81 253.12h3.1v9.93h-3.1zM1054.52 253.12h3.1v9.93h-3.1zM1041 262.65h3.1v9.93h-3.1zM1043.7 262.65h3.1v9.93h-3.1zM1059.92 262.65h3.1v9.93h-3.1zM1062.63 262.65h3.1v9.93h-3.1zM1078.85 262.65h3.1v9.93h-3.1zM1081.55 262.65h3.1v9.93h-3.1zM1084.26 262.65h3.1v9.93h-3.1zM1089.66 262.65h3.1v9.93h-3.1zM1092.37 262.65h3.1v9.93h-3.1zM1043.7 272.18h3.1v9.93h-3.1zM1046.41 272.18h3.1v9.93h-3.1zM1068.04 272.18h3.1v9.93h-3.1zM1070.74 272.18h3.1v9.93h-3.1zM1041 291.24h3.1v9.93h-3.1zM1043.7 291.24h3.1v9.93h-3.1zM1051.81 291.24h3.1v9.93h-3.1zM1070.74 291.24h3.1v9.93h-3.1zM1073.44 291.24h3.1v9.93h-3.1zM1084.26 291.24h3.1v9.93h-3.1zM1086.96 291.24h3.1v9.93h-3.1zM1089.66 291.24h3.1v9.93h-3.1zM1108.59 291.24h3.1v9.93h-3.1zM1041 300.77h3.1v9.93h-3.1zM1043.7 300.77h3.1v9.93h-3.1zM1046.41 300.77h3.1v9.93h-3.1zM1049.11 300.77h3.1v9.93h-3.1zM1051.81 300.77h3.1v9.93h-3.1zM1054.52 300.77h3.1v9.93h-3.1zM1057.22 300.77h3.1v9.93h-3.1zM1065.33 300.77h3.1v9.93h-3.1zM1068.04 300.77h3.1v9.93h-3.1zM1092.37 300.77h3.1v9.93h-3.1zM1095.07 300.77h3.1v9.93h-3.1zM1105.89 300.77h3.1v9.93h-3.1z"/>
<path fill="#555555" shape-rendering="crispEdges" d="M1046.41 91.1h3.1v9.93h-3.1zM1062.63 91.1h3.1v9.93h-3.1zM1111.29 91.1h3.1v9.93h-3.1zM1043.7 100.63h3.1v9.93h-3.1zM1089.66 129.22h3.1v9.93h-3.1zM1095.07 138.75h3.1v9.93h-3.1zM1097.78 138.75h3.1v9.93h-3.1zM1111.29 148.28h3.1v9.93h-3.1zM1043.7 157.81h3.1v9.93h-3.1zM1049.11 157.81h3.1v9.93h-3.1zM1108.59 167.34h3.1v9.93h-3.1zM1089.66 176.87h3.1v9.93h-3.1zM1086.96 186.4h3.1v9.93h-3.1zM1095.07 186.4h3.1v9.93h-3.1zM1081.55 195.93h3.1v9.93h-3.1zM1086.96 205.47h3.1v9.93h-3.1zM1084.26 215h3.1v9.93h-3.1zM1086.96 215h3.1v9.93h-3.1zM1089.66 215h3.1v9.93h-3.1zM1100.48 215h3.1v9.93h-3.1zM1076.15 224.53h3.1v9.93h-3.1zM1057.22 243.59h3.1v9.93h-3.1zM1081.55 243.59h3.1v9.93h-3.1zM1111.29 243.59h3.1v9.93h-3.1zM1114 243.59h3.1v9.93h-3.1zM1059.92 253.12h3.1v9.93h-3.1zM1086.96 262.65h3.1v9.93h-3.1zM1068.04 291.24h3.1v9.93h-3.1zM1105.89 291.24h3.1v9.93h-3.1z"/>
<path fill="#353535" shape-rendering="crispEdges" d="M1049.11 91.1h3.1v9.93h-3.1zM1041 100.63h3.1v9.93h-3.1zM1108.59 100.63h3.1v9.93h-3.1zM1041 119.69h3.1v9.93h-3.1zM1046.41 119.69h3.1v9.93h-3.1zM1054.52 119.69h3.1v9.93h-3.1zM1057.22 119.69h3.1v9.93h-3.1zM1062.63 119.69h3.1v9.93h-3.1zM1065.33 119.69h3.1v9.93h-3.1zM1073.44 119.69h3.1v9.93h-3.1zM1076.15 119.69h3.1v9.93h-3.1zM1078.85 119.69h3.1v9.93h-3.1zM1086.96 119.69h3.1v9.93h-3.1zM1095.07 119.69h3.1v9.93h-3.1zM1097.78 119.69h3.1v9.93h-3.1zM1105.89 119.69h3.1v9.93h-3.1zM1108.59 119.69h3.1v9.93h-3.1zM1111.29 119.69h3.1v9.93h-3.1zM1041 138.75h3.1v9.93h-3.1zM1105.89 148.28h3.1v9.93h-3.1zM1084.26 157.81h3.1v9.93h-3.1zM1089.66 186.4h3.1v9.93h-3.1zM1041 195.93h3.1v9.93h-3.1zM1049.11 234.06h3.1v9.93h-3.1zM1092.37 234.06h3.1v9.93h-3.1zM1092.37 243.59h3.1v9.93h-3.1zM1095.07 262.65h3.1v9.93h-3.1zM1105.89 262.65h3.1v9.93h-3.1zM1111.29 262.65h3.1v9.93h-3.1zM1097.78 291.24h3.1v9.93h-3.1zM1059.92 300.77h3.1v9.93h-3.1zM1073.44 300.77h3.1v9.93h-3.1zM1076.15 300.77h3.1v9.93h-3.1zM1078.85 300.77h3.1v9.93h-3.1zM1084.26 300.77h3.1v9.93h-3.1zM1086.96 300.77h3.1v9.93h-3.1zM1089.66 300.77h3.1v9.93h-3.1zM1100.48 300.77h3.1v9.93h-3.1zM1103.18 300.77h3.1v9.93h-3.1zM1111.29 300.77h3.1v9.93h-3.1z"/>
<path fill="#9f9f9f" shape-rendering="crispEdges" d="M1054.52 91.1h3.1v9.93h-3.1zM1076.15 91.1h3.1v9.93h-3.1zM1078.85 138.75h3.1v9.93h-3.1zM1049.11 148.28h3.1v9.93h-3.1zM1076.15 148.28h3.1v9.93h-3.1zM1041 157.81h3.1v9.93h-3.1zM1059.92 157.81h3.1v9.93h-3.1zM1062.63 157.81h3.1v9.93h-3.1zM1108.59 157.81h3.1v9.93h-3.1zM1095.07 167.34h3.1v9.93h-3.1zM1103.18 167.34h3.1v9.93h-3.1zM1086.96 176.87h3.1v9.93h-3.1zM1092.37 176.87h3.1v9.93h-3.1zM1108.59 176.87h3.1v9.93h-3.1zM1076.15 186.4h3.1v9.93h-3.1zM1070.74 195.93h3.1v9.93h-3.1zM1095.07 205.47h3.1v9.93h-3.1zM1097.78 215h3.1v9.93h-3.1zM1059.92 224.53h3.1v9.93h-3.1zM1078.85 224.53h3.1v9.93h-3.1zM1081.55 224.53h3.1v9.93h-3.1zM1089.66 224.53h3.1v9.93h-3.1zM1073.44 234.06h3.1v9.93h-3.1zM1084.26 243.59h3.1v9.93h-3.1zM1086.96 272.18h3.1v9.93h-3.1zM1073.44 281.71h3.1v9.93h-3.1z"/>
<path fill="#606060" shape-rendering="crispEdges" d="M1057.22 91.1h3.1v9.93h-3.1zM1068.04 91.1h3.1v9.93h-3.1zM1078.85 91.1h3.1v9.93h-3.1zM1081.55 91.1h3.1v9.93h-3.1zM1103.18 91.1h3.1v9.93h-3.1zM1092.37 129.22h3.1v9.93h-3.1zM1046.41 138.75h3.1v9.93h-3.1zM1041 148.28h3.1v9.93h-3.1zM1057.22 157.81h3.1v9.93h-3.1zM1062.63 167.34h3.1v9.93h-3.1zM1073.44 167.34h3.1v9.93h-3.1zM1105.89 167.34h3.1v9.93h-3.1zM1041 176.87h3.1v9.93h-3.1zM1051.81 176.87h3.1v9.93h-3.1zM1054.52 176.87h3.1v9.93h-3.1zM1100.48 176.87h3.1v9.93h-3.1zM1103.18 176.87h3.1v9.93h-3.1zM1062.63 205.47h3.1v9.93h-3.1zM1065.33 205.47h3.1v9.93h-3.1zM1081.55 205.47h3.1v9.93h-3.1zM1095.07 215h3.1v9.93h-3.1zM1046.41 243.59h3.1v9.93h-3.1zM1049.11 243.59h3.1v9.93h-3.1zM1073.44 272.18h3.1v9.93h-3.1zM1108.59 272.18h3.1v9.93h-3.1zM1065.33 281.71h3.1v9.93h-3.1z"/>
<path fill="#757575" shape-rendering="crispEdges" d="M1065.33 91.1h3.1v9.93h-3.1zM1054.52 100.63h3.1v9.93h-3.1zM1105.89 100.63h3.1v9.93h-3.1zM1084.26 129.22h3.1v9.93h-3.1zM1073.44 138.75h3.1v9.93h-3.1zM1081.55 138.75h3.1v9.93h-3.1zM1043.7 148.28h3.1v9.93h-3.1zM1097.78 157.81h3.1v9.93h-3.1zM1059.92 167.34h3.1v9.93h-3.1zM1057.22 176.87h3.1v9.93h-3.1zM1111.29 176.87h3.1v9.93h-3.1zM1057.22 186.4h3.1v9.93h-3.1zM1073.44 186.4h3.1v9.93h-3.1zM1073.44 195.93h3.1v9.93h-3.1zM1103.18 195.93h3.1v9.93h-3.1zM1108.59 195.93h3.1v9.93h-3.1zM1051.81 205.47h3.1v9.93h-3.1zM1059.92 215h3.1v9.93h-3.1zM1081.55 215h3.1v9.93h-3.1zM1103.18 215h3.1v9.93h-3.1zM1068.04 243.59h3.1v9.93h-3.1zM1062.63 253.12h3.1v9.93h-3.1zM1065.33 253.12h3.1v9.93h-3.1zM1100.48 253.12h3.1v9.93h-3.1zM1105.89 253.12h3.1v9.93h-3.1zM1049.11 272.18h3.1v9.93h-3.1zM1076.15 272.18h3.1v9.93h-3.1zM1051.81 281.71h3.1v9.93h-3.1zM1054.52 281.71h3.1v9.93h-3.1zM1059.92 291.24h3.1v9.93h-3.1zM1100.48 291.24h3.1v9.93h-3.1z"/>
<path fill="#0b0b0b" shape-rendering="crispEdges" d="M1070.74 91.1h3.1v9.93h-3.1zM1078.85 100.63h3.1v9.93h-3.1zM1070.74 157.81h3.1v9.93h-3.1zM1086.96 157.81h3.1v9.93h-3.1zM1078.85 176.87h3.1v9.93h-3.1zM1097.78 176.87h3.1v9.93h-3.1zM1046.41 186.4h3.1v9.93h-3.1zM1111.29 186.4h3.1v9.93h-3.1zM1097.78 195.93h3.1v9.93h-3.1zM1046.41 205.47h3.1v9.93h-3.1zM1054.52 205.47h3.1v9.93h-3.1zM1070.74 215h3.1v9.93h-3.1zM1092.37 272.18h3.1v9.93h-3.1zM1111.29 272.18h3.1v9.93h-3.1zM1049.11 281.71h3.1v9.93h-3.1zM1097.78 300.77h3.1v9.93h-3.1zM1114 300.77h3.1v9.93h-3.1z"/>
<path fill="#b5b5b5" shape-rendering="crispEdges" d="M1073.44 91.1h3.1v9.93h-3.1zM1057.22 129.22h3.1v9.93h-3.1zM1065.33 129.22h3.1v9.93h-3.1zM1095.07 129.22h3.1v9.93h-3.1zM1100.48 138.75h3.1v9.93h-3.1zM1070.74 148.28h3.1v9.93h-3.1zM1092.37 148.28h3.1v9.93h-3.1zM1062.63 195.93h3.1v9.93h-3.1zM1078.85 195.93h3.1v9.93h-3.1zM1054.52 215h3.1v9.93h-3.1zM1108.59 224.53h3.1v9.93h-3.1zM1043.7 234.06h3.1v9.93h-3.1zM1059.92 243.59h3.1v9.93h-3.1zM1065.33 243.59h3.1v9.93h-3.1zM1068.04 253.12h3.1v9.93h-3.1zM1084.26 272.18h3.1v9.93h-3.1zM1081.55 281.71h3.1v9.93h-3.1z"/>
<path fill="#808080" shape-rendering="crispEdges" d="M1084.26 91.1h3.1v9.93h-3.1zM1100.48 91.1h3.1v9.93h-3.1zM1081.55 129.22h3.1v9.93h-3.1zM1076.15 138.75h3.1v9.93h-3.1zM1046.41 157.81h3.1v9.93h-3.1zM1065.33 157.81h3.1v9.93h-3.1zM1065.33 167.34h3.1v9.93h-3.1zM1059.92 176.87h3.1v9.93h-3.1zM1078.85 205.47h3.1v9.93h-3.1zM1041 224.53h3.1v9.93h-3.1zM1100.48 224.53h3.1v9.93h-3.1zM1086.96 234.06h3.1v9.93h-3.1zM1089.66 234.06h3.1v9.93h-3.1zM1097.78 234.06h3.1v9.93h-3.1zM1100.48 234.06h3.1v9.93h-3.1zM1105.89 234.06h3.1v9.93h-3.1zM1095.07 243.59h3.1v9.93h-3.1zM1078.85 253.12h3.1v9.93h-3.1zM1084.26 253.12h3.1v9.93h-3.1zM1089.66 253.12h3.1v9.93h-3.1zM1092.37 253.12h3.1v9.93h-3.1zM1057.22 272.18h3.1v9.93h-3.1zM1065.33 272.18h3.1v9.93h-3.1z"/>
<path fill="#151515" shape-rendering="crispEdges" d="M1086.96 91.1h3.1v9.93h-3.1zM1105.89 91.1h3.1v9.93h-3.1zM1108.59 91.1h3.1v9.93h-3.1zM1073.44 100.63h3.1v9.93h-3.1zM1100.48 119.69h3.1v9.93h-3.1zM1049.11 129.22h3.1v9.93h-3.1zM1057.22 138.75h3.1v9.93h-3.1zM1114 167.34h3.1v9.93h-3.1zM1041 186.4h3.1v9.93h-3.1zM1049.11 186.4h3.1v9.93h-3.1zM1051.81 186.4h3.1v9.93h-3.1zM1059.92 186.4h3.1v9.93h-3.1zM1068.04 186.4h3.1v9.93h-3.1zM1068.04 195.93h3.1v9.93h-3.1zM1100.48 195.93h3.1v9.93h-3.1zM1078.85 215h3.1v9.93h-3.1zM1111.29 215h3.1v9.93h-3.1zM1051.81 234.06h3.1v9.93h-3.1zM1046.41 291.24h3.1v9.93h-3.1zM1108.59 300.77h3.1v9.93h-3.1z"/>
<path fill="#404040" shape-rendering="crispEdges" d="M1092.37 91.1h3.1v9.93h-3.1zM1049.11 100.63h3.1v9.93h-3.1zM1057.22 100.63h3.1v9.93h-3.1zM1070.74 100.63h3.1v9.93h-3.1zM1114 100.63h3.1v9.93h-3.1zM1095.07 157.81h3.1v9.93h-3.1zM1068.04 167.34h3.1v9.93h-3.1zM1049.11 176.87h3.1v9.93h-3.1zM1054.52 186.4h3.1v9.93h-3.1zM1097.78 186.4h3.1v9.93h-3.1zM1043.7 195.93h3.1v9.93h-3.1zM1084.26 195.93h3.1v9.93h-3.1zM1057.22 205.47h3.1v9.93h-3.1zM1097.78 224.53h3.1v9.93h-3.1zM1041 234.06h3.1v9.93h-3.1zM1054.52 234.06h3.1v9.93h-3.1zM1057.22 253.12h3.1v9.93h-3.1zM1046.41 262.65h3.1v9.93h-3.1zM1065.33 262.65h3.1v9.93h-3.1zM1068.04 262.65h3.1v9.93h-3.1zM1049.11 291.24h3.1v9.93h-3.1zM1057.22 291.24h3.1v9.93h-3.1z"/>
<path fill="#6a6a6a" shape-rendering="crispEdges" d="M1114 91.1h3.1v9.93h-3.1zM1095.07 100.63h3.1v9.93h-3.1zM1043.7 138.75h3.1v9.93h-3.1zM1049.11 138.75h3.1v9.93h-3.1zM1081.55 157.81h3.1v9.93h-3.1zM1041 167.34h3.1v9.93h-3.1zM1086.96 167.34h3.1v9.93h-3.1zM1046.41 176.87h3.1v9.93h-3.1zM1065.33 176.87h3.1v9.93h-3.1zM1105.89 195.93h3.1v9.93h-3.1zM1089.66 205.47h3.1v9.93h-3.1zM1062.63 215h3.1v9.93h-3.1zM1062.63 224.53h3.1v9.93h-3.1zM1065.33 224.53h3.1v9.93h-3.1zM1086.96 224.53h3.1v9.93h-3.1zM1092.37 224.53h3.1v9.93h-3.1zM1103.18 243.59h3.1v9.93h-3.1zM1076.15 253.12h3.1v9.93h-3.1zM1086.96 253.12h3.1v9.93h-3.1zM1108.59 253.12h3.1v9.93h-3.1zM1049.11 262.65h3.1v9.93h-3.1zM1105.89 272.18h3.1v9.93h-3.1zM1114 272.18h3.1v9.93h-3.1zM1081.55 291.24h3.1v9.93h-3.1zM1095.07 291.24h3.1v9.93h-3.1z"/>
<path fill="#8a8a8a" shape-rendering="crispEdges" d="M1059.92 100.63h3.1v9.93h-3.1zM1065.33 100.63h3.1v9.93h-3.1zM1097.78 100.63h3.1v9.93h-3.1zM1105.89 129.22h3.1v9.93h-3.1zM1114 129.22h3.1v9.93h-3.1zM1078.85 167.34h3.1v9.93h-3.1zM1081.55 167.34h3.1v9.93h-3.1zM1084.26 167.34h3.1v9.93h-3.1zM1097.78 167.34h3.1v9.93h-3.1zM1059.92 195.93h3.1v9.93h-3.1zM1041 205.47h3.1v9.93h-3.1zM1043.7 224.53h3.1v9.93h-3.1zM1051.81 224.53h3.1v9.93h-3.1zM1041 243.59h3.1v9.93h-3.1zM1043.7 243.59h3.1v9.93h-3.1zM1062.63 243.59h3.1v9.93h-3.1zM1086.96 243.59h3.1v9.93h-3.1zM1097.78 253.12h3.1v9.93h-3.1zM1054.52 262.65h3.1v9.93h-3.1zM1078.85 272.18h3.1v9.93h-3.1zM1081.55 272.18h3.1v9.93h-3.1zM1089.66 272.18h3.1v9.93h-3.1zM1086.96 281.71h3.1v9.93h-3.1zM1111.29 291.24h3.1v9.93h-3.1z"/>
<path fill="#aaaaaa" shape-rendering="crispEdges" d="M1062.63 100.63h3.1v9.93h-3.1zM1108.59 129.22h3.1v9.93h-3.1zM1089.66 148.28h3.1v9.93h-3.1zM1078.85 157.81h3.1v9.93h-3.1zM1114 157.81h3.1v9.93h-3.1zM1049.11 167.34h3.1v9.93h-3.1zM1054.52 167.34h3.1v9.93h-3.1zM1092.37 205.47h3.1v9.93h-3.1zM1100.48 205.47h3.1v9.93h-3.1zM1065.33 215h3.1v9.93h-3.1zM1092.37 215h3.1v9.93h-3.1zM1049.11 224.53h3.1v9.93h-3.1zM1105.89 224.53h3.1v9.93h-3.1zM1103.18 234.06h3.1v9.93h-3.1zM1114 262.65h3.1v9.93h-3.1zM1041 272.18h3.1v9.93h-3.1zM1092.37 281.71h3.1v9.93h-3.1zM1114 291.24h3.1v9.93h-3.1z"/>
<path fill="#959595" shape-rendering="crispEdges" d="M1068.04 100.63h3.1v9.93h-3.1zM1059.92 129.22h3.1v9.93h-3.1zM1086.96 129.22h3.1v9.93h-3.1zM1111.29 138.75h3.1v9.93h-3.1zM1084.26 148.28h3.1v9.93h-3.1zM1054.52 157.81h3.1v9.93h-3.1zM1111.29 157.81h3.1v9.93h-3.1zM1062.63 176.87h3.1v9.93h-3.1zM1051.81 195.93h3.1v9.93h-3.1zM1086.96 195.93h3.1v9.93h-3.1zM1114 195.93h3.1v9.93h-3.1zM1057.22 215h3.1v9.93h-3.1zM1073.44 224.53h3.1v9.93h-3.1zM1068.04 234.06h3.1v9.93h-3.1zM1100.48 243.59h3.1v9.93h-3.1zM1114 253.12h3.1v9.93h-3.1zM1095.07 272.18h3.1v9.93h-3.1zM1043.7 281.71h3.1v9.93h-3.1zM1062.63 281.71h3.1v9.93h-3.1zM1114 281.71h3.1v9.93h-3.1z"/>
<path fill="#2a2a2a" shape-rendering="crispEdges" d="M1084.26 100.63h3.1v9.93h-3.1zM1092.37 100.63h3.1v9.93h-3.1zM1111.29 100.63h3.1v9.93h-3.1zM1049.11 119.69h3.1v9.93h-3.1zM1059.92 119.69h3.1v9.93h-3.1zM1084.26 119.69h3.1v9.93h-3.1zM1114 138.75h3.1v9.93h-3.1zM1081.55 176.87h3.1v9.93h-3.1zM1070.74 186.4h3.1v9.93h-3.1zM1081.55 186.4h3.1v9.93h-3.1zM1111.29 195.93h3.1v9.93h-3.1zM1070.74 205.47h3.1v9.93h-3.1zM1108.59 205.47h3.1v9.93h-3.1zM1111.29 205.47h3.1v9.93h-3.1zM1114 215h3.1v9.93h-3.1zM1078.85 243.59h3.1v9.93h-3.1zM1073.44 253.12h3.1v9.93h-3.1zM1057.22 262.65h3.1v9.93h-3.1zM1100.48 262.65h3.1v9.93h-3.1zM1103.18 262.65h3.1v9.93h-3.1zM1054.52 291.24h3.1v9.93h-3.1zM1062.63 291.24h3.1v9.93h-3.1zM1076.15 291.24h3.1v9.93h-3.1zM1062.63 300.77h3.1v9.93h-3.1zM1070.74 300.77h3.1v9.93h-3.1zM1081.55 300.77h3.1v9.93h-3.1z"/>
<path fill="#ffffff" shape-rendering="crispEdges" d="M1041 110.16h75.7v9.93h-75.7zM1041 129.22h3.1v9.93h-3.1zM1043.7 129.22h3.1v9.93h-3.1zM1051.81 129.22h3.1v9.93h-3.1zM1054.52 129.22h3.1v9.93h-3.1zM1062.63 129.22h3.1v9.93h-3.1zM1068.04 129.22h3.1v9.93h-3.1zM1070.74 129.22h3.1v9.93h-3.1zM1078.85 129.22h3.1v9.93h-3.1zM1046.41 148.28h3.1v9.93h-3.1zM1057.22 148.28h3.1v9.93h-3.1zM1059.92 148.28h3.1v9.93h-3.1zM1062.63 148.28h3.1v9.93h-3.1zM1081.55 148.28h3.1v9.93h-3.1zM1086.96 148.28h3.1v9.93h-3.1zM1100.48 148.28h3.1v9.93h-3.1zM1100.48 157.81h3.1v9.93h-3.1zM1103.18 157.81h3.1v9.93h-3.1zM1051.81 167.34h3.1v9.93h-3.1zM1076.15 167.34h3.1v9.93h-3.1zM1089.66 167.34h3.1v9.93h-3.1zM1076.15 176.87h3.1v9.93h-3.1zM1049.11 195.93h3.1v9.93h-3.1zM1089.66 195.93h3.1v9.93h-3.1zM1097.78 205.47h3.1v9.93h-3.1zM1068.04 224.53h3.1v9.93h-3.1zM1114 224.53h3.1v9.93h-3.1zM1076.15 234.06h3.1v9.93h-3.1zM1078.85 234.06h3.1v9.93h-3.1zM1084.26 234.06h3.1v9.93h-3.1zM1095.07 234.06h3.1v9.93h-3.1zM1108.59 234.06h3.1v9.93h-3.1zM1111.29 234.06h3.1v9.93h-3.1zM1062.63 272.18h3.1v9.93h-3.1zM1068.04 281.71h3.1v9.93h-3.1zM1089.66 281.71h3.1v9.93h-3.1zM1095.07 281.71h3.1v9.93h-3.1zM1100.48 281.71h3.1v9.93h-3.1zM1105.89 281.71h3.1v9.93h-3.1zM1108.59 281.71h3.1v9.93h-3.1z"/>
<path fill="#202020" shape-rendering="crispEdges" d="M1070.74 119.69h3.1v9.93h-3.1zM1051.81 157.81h3.1v9.93h-3.1zM1076.15 157.81h3.1v9.93h-3.1zM1043.7 176.87h3.1v9.93h-3.1zM1043.7 186.4h3.1v9.93h-3.1zM1100.48 186.4h3.1v9.93h-3.1zM1095.07 195.93h3.1v9.93h-3.1zM1105.89 205.47h3.1v9.93h-3.1zM1114 205.47h3.1v9.93h-3.1zM1041 215h3.1v9.93h-3.1zM1043.7 215h3.1v9.93h-3.1zM1049.11 215h3.1v9.93h-3.1zM1051.81 215h3.1v9.93h-3.1zM1046.41 234.06h3.1v9.93h-3.1zM1051.81 243.59h3.1v9.93h-3.1zM1073.44 262.65h3.1v9.93h-3.1zM1076.15 262.65h3.1v9.93h-3.1zM1097.78 262.65h3.1v9.93h-3.1zM1051.81 272.18h3.1v9.93h-3.1zM1059.92 272.18h3.1v9.93h-3.1zM1100.48 272.18h3.1v9.93h-3.1zM1103.18 272.18h3.1v9.93h-3.1zM1078.85 291.24h3.1v9.93h-3.1zM1103.18 291.24h3.1v9.93h-3.1z"/>
<path fill="#f4f4f4" shape-rendering="crispEdges" d="M1046.41 129.22h3.1v9.93h-3.1zM1073.44 129.22h3.1v9.93h-3.1zM1054.52 148.28h3.1v9.93h-3.1zM1097.78 148.28h3.1v9.93h-3.1zM1057.22 167.34h3.1v9.93h-3.1zM1092.37 167.34h3.1v9.93h-3.1zM1114 176.87h3.1v9.93h-3.1zM1092.37 195.93h3.1v9.93h-3.1zM1046.41 224.53h3.1v9.93h-3.1z"/>
<path fill="#cacaca" shape-rendering="crispEdges" d="M1076.15 129.22h3.1v9.93h-3.1zM1103.18 129.22h3.1v9.93h-3.1zM1111.29 129.22h3.1v9.93h-3.1zM1065.33 148.28h3.1v9.93h-3.1zM1078.85 148.28h3.1v9.93h-3.1zM1103.18 148.28h3.1v9.93h-3.1zM1068.04 157.81h3.1v9.93h-3.1zM1070.74 176.87h3.1v9.93h-3.1zM1073.44 176.87h3.1v9.93h-3.1zM1073.44 215h3.1v9.93h-3.1zM1084.26 224.53h3.1v9.93h-3.1zM1070.74 253.12h3.1v9.93h-3.1zM1103.18 253.12h3.1v9.93h-3.1zM1111.29 253.12h3.1v9.93h-3.1zM1076.15 281.71h3.1v9.93h-3.1z"/>
<path fill="#bfbfbf" shape-rendering="crispEdges" d="M1097.78 129.22h3.1v9.93h-3.1zM1100.48 129.22h3.1v9.93h-3.1zM1068.04 148.28h3.1v9.93h-3.1zM1073.44 148.28h3.1v9.93h-3.1zM1068.04 176.87h3.1v9.93h-3.1zM1076.15 195.93h3.1v9.93h-3.1zM1054.52 224.53h3.1v9.93h-3.1zM1057.22 234.06h3.1v9.93h-3.1zM1065.33 234.06h3.1v9.93h-3.1zM1081.55 234.06h3.1v9.93h-3.1zM1054.52 243.59h3.1v9.93h-3.1zM1089.66 243.59h3.1v9.93h-3.1zM1097.78 243.59h3.1v9.93h-3.1zM1059.92 281.71h3.1v9.93h-3.1zM1092.37 291.24h3.1v9.93h-3.1z"/>
<path fill="#eaeaea" shape-rendering="crispEdges" d="M1054.52 138.75h3.1v9.93h-3.1zM1049.11 205.47h3.1v9.93h-3.1zM1103.18 224.53h3.1v9.93h-3.1zM1111.29 224.53h3.1v9.93h-3.1zM1114 234.06h3.1v9.93h-3.1zM1054.52 272.18h3.1v9.93h-3.1zM1041 281.71h3.1v9.93h-3.1zM1084.26 281.71h3.1v9.93h-3.1z"/>
<path fill="#dfdfdf" shape-rendering="crispEdges" d="M1051.81 148.28h3.1v9.93h-3.1zM1089.66 157.81h3.1v9.93h-3.1zM1100.48 167.34h3.1v9.93h-3.1zM1105.89 176.87h3.1v9.93h-3.1zM1070.74 243.59h3.1v9.93h-3.1zM1070.74 281.71h3.1v9.93h-3.1zM1097.78 281.71h3.1v9.93h-3.1zM1103.18 281.71h3.1v9.93h-3.1z"/>
<path fill="#d4d4d4" shape-rendering="crispEdges" d="M1095.07 148.28h3.1v9.93h-3.1zM1092.37 157.81h3.1v9.93h-3.1zM1070.74 167.34h3.1v9.93h-3.1zM1046.41 195.93h3.1v9.93h-3.1zM1054.52 195.93h3.1v9.93h-3.1zM1057.22 195.93h3.1v9.93h-3.1zM1057.22 224.53h3.1v9.93h-3.1zM1070.74 224.53h3.1v9.93h-3.1zM1059.92 234.06h3.1v9.93h-3.1zM1062.63 234.06h3.1v9.93h-3.1zM1073.44 243.59h3.1v9.93h-3.1zM1057.22 281.71h3.1v9.93h-3.1zM1078.85 281.71h3.1v9.93h-3.1zM1111.29 281.71h3.1v9.93h-3.1z"/>
<rect x="1046.6" y="91.1" width="3" height="219.2" fill="#66ee55"/>
<rect x="1101.3" y="91.1" width="3" height="219.2" fill="#e8322a"/>
<path d="M546.8,319.2 V326.3 H603.4 V319.2" fill="none" stroke="#222" stroke-width="1.3"/>
<path d="M639.8,319.2 V326.3 H696.4 V319.2" fill="none" stroke="#222" stroke-width="1.3"/>
<path d="M525.7,330.8 V337.5 H712.5 V330.8" fill="none" stroke="#222" stroke-width="1.3"/>
<path d="M917.8,318.5 V325.3 H974.5 V318.5" fill="none" stroke="#222" stroke-width="1.3"/>
<path d="M1011.0,318.5 V325.3 H1067.3 V318.5" fill="none" stroke="#222" stroke-width="1.3"/>
<path d="M899.6,330.8 V337.0 H1086.2 V330.8" fill="none" stroke="#222" stroke-width="1.3"/>
<rect x="726.2" y="324.5" width="17.4" height="2.8" fill="#000"/>
<text x="749.05" y="330.50" font-size="17.3" fill="#000" font-weight="normal" font-style="normal">5 s</text>
<text x="573.95" y="58.30" font-size="19.5" fill="#000" font-weight="bold" font-style="italic">Singing</text>
<text x="942.12" y="58.30" font-size="19.5" fill="#000" font-weight="bold" font-style="italic">Nonsinging</text>
<text x="501.35" y="86.80" font-size="16.8" fill="#000" font-weight="normal" font-style="normal">Song #1</text>
<text x="588.65" y="86.80" font-size="16.8" fill="#000" font-weight="normal" font-style="normal">Song #2</text>
<text x="675.85" y="86.80" font-size="16.8" fill="#000" font-weight="normal" font-style="normal">Song #3</text>
<text x="867.52" y="85.70" font-size="16.8" fill="#000" font-weight="normal" font-style="normal">Epoch #1</text>
<text x="956.12" y="85.70" font-size="16.8" fill="#000" font-weight="normal" font-style="normal">Epoch #2</text>
<text x="1042.12" y="85.70" font-size="16.8" fill="#000" font-weight="normal" font-style="normal">Epoch #3</text>
<text x="478.95" y="99.00" font-size="16.5" fill="#000" font-weight="normal" font-style="normal">1</text>
<text x="468.82" y="316.60" font-size="16.5" fill="#000" font-weight="normal" font-style="normal">23</text>
<text x="849.55" y="99.40" font-size="16.5" fill="#000" font-weight="normal" font-style="normal">1</text>
<text x="839.12" y="318.00" font-size="16.5" fill="#000" font-weight="normal" font-style="normal">23</text>
<text x="482.68" y="232.78" font-size="17.2" fill="#000" font-weight="normal" font-style="normal" transform="rotate(-90 482.68 232.78)">Neuron ID</text>
<text x="850.88" y="231.07" font-size="16.5" fill="#000" font-weight="normal" font-style="normal" transform="rotate(-90 850.88 231.07)">Neuron ID</text>
<text x="546.33" y="359.70" font-size="17.1" fill="#000" font-weight="normal" font-style="normal">Pairwise correlations</text>
<text x="915.23" y="359.50" font-size="16.8" fill="#000" font-weight="normal" font-style="normal">Pairwise correlations</text>
<defs><linearGradient id="gcb" x1="0" y1="0" x2="0" y2="1"><stop offset="0" stop-color="#fff"/><stop offset="1" stop-color="#000"/></linearGradient><linearGradient id="vcb" x1="0" y1="1" x2="0" y2="0"><stop offset="0.0" stop-color="#440154"/><stop offset="0.1" stop-color="#482475"/><stop offset="0.2" stop-color="#414487"/><stop offset="0.3" stop-color="#355f8d"/><stop offset="0.4" stop-color="#2a788e"/><stop offset="0.5" stop-color="#21918c"/><stop offset="0.6" stop-color="#22a884"/><stop offset="0.7" stop-color="#44bf70"/><stop offset="0.8" stop-color="#7ad151"/><stop offset="0.9" stop-color="#bddf26"/><stop offset="1.0" stop-color="#fde725"/></linearGradient></defs>
<rect x="793.7" y="146.5" width="22" height="113.5" fill="url(#gcb)" stroke="#000" stroke-width="1"/>
<text x="782.52" y="137.60" font-size="17.2" fill="#000" font-weight="normal" font-style="normal">20 Hz</text>
<text x="788.08" y="277.10" font-size="16.5" fill="#000" font-weight="normal" font-style="normal">0 Hz</text>
<text x="786.58" y="240.38" font-size="17.1" fill="#000" font-weight="normal" font-style="normal" transform="rotate(-90 786.58 240.38)">Firing Rate</text>
<path fill="#f7e34d" shape-rendering="crispEdges" d="M497.1 373h9.12v9.12h-9.12zM505.82 381.72h9.12v9.12h-9.12zM514.53 390.43h9.12v9.12h-9.12zM523.25 399.15h9.12v9.12h-9.12zM531.97 407.87h9.12v9.12h-9.12zM540.69 416.59h9.12v9.12h-9.12zM549.4 425.3h9.12v9.12h-9.12zM558.12 434.02h9.12v9.12h-9.12zM566.84 442.74h9.12v9.12h-9.12zM575.56 451.46h9.12v9.12h-9.12zM584.27 460.17h9.12v9.12h-9.12zM592.99 468.89h9.12v9.12h-9.12zM601.71 477.61h9.12v9.12h-9.12zM610.42 486.32h9.12v9.12h-9.12zM619.14 495.04h9.12v9.12h-9.12zM627.86 503.76h9.12v9.12h-9.12zM636.58 512.48h9.12v9.12h-9.12zM645.29 521.19h9.12v9.12h-9.12zM654.01 529.91h9.12v9.12h-9.12zM662.73 538.63h9.12v9.12h-9.12zM671.44 547.34h9.12v9.12h-9.12zM680.16 556.06h9.12v9.12h-9.12zM688.88 564.78h9.12v9.12h-9.12zM697.6 573.5h9.12v9.12h-9.12zM706.31 582.21h9.12v9.12h-9.12zM715.03 590.93h9.12v9.12h-9.12zM723.75 599.65h9.12v9.12h-9.12zM732.47 608.37h9.12v9.12h-9.12zM741.18 617.08h9.12v9.12h-9.12z"/>
<path fill="#69bc73" shape-rendering="crispEdges" d="M505.82 373h9.12v9.12h-9.12zM627.86 373h9.12v9.12h-9.12zM706.31 373h9.12v9.12h-9.12zM497.1 381.72h9.12v9.12h-9.12zM584.27 390.43h9.12v9.12h-9.12zM601.71 390.43h9.12v9.12h-9.12zM662.73 390.43h9.12v9.12h-9.12zM697.6 390.43h9.12v9.12h-9.12zM592.99 399.15h9.12v9.12h-9.12zM706.31 399.15h9.12v9.12h-9.12zM680.16 416.59h9.12v9.12h-9.12zM680.16 425.3h9.12v9.12h-9.12zM741.18 425.3h9.12v9.12h-9.12zM741.18 434.02h9.12v9.12h-9.12zM680.16 451.46h9.12v9.12h-9.12zM715.03 451.46h9.12v9.12h-9.12zM741.18 451.46h9.12v9.12h-9.12zM514.53 460.17h9.12v9.12h-9.12zM680.16 460.17h9.12v9.12h-9.12zM732.47 460.17h9.12v9.12h-9.12zM741.18 460.17h9.12v9.12h-9.12zM523.25 468.89h9.12v9.12h-9.12zM514.53 477.61h9.12v9.12h-9.12zM741.18 477.61h9.12v9.12h-9.12zM680.16 486.32h9.12v9.12h-9.12zM715.03 495.04h9.12v9.12h-9.12zM497.1 503.76h9.12v9.12h-9.12zM741.18 512.48h9.12v9.12h-9.12zM680.16 521.19h9.12v9.12h-9.12zM680.16 529.91h9.12v9.12h-9.12zM514.53 538.63h9.12v9.12h-9.12zM680.16 538.63h9.12v9.12h-9.12zM741.18 538.63h9.12v9.12h-9.12zM540.69 556.06h9.12v9.12h-9.12zM549.4 556.06h9.12v9.12h-9.12zM575.56 556.06h9.12v9.12h-9.12zM584.27 556.06h9.12v9.12h-9.12zM610.42 556.06h9.12v9.12h-9.12zM645.29 556.06h9.12v9.12h-9.12zM654.01 556.06h9.12v9.12h-9.12zM662.73 556.06h9.12v9.12h-9.12zM697.6 564.78h9.12v9.12h-9.12zM514.53 573.5h9.12v9.12h-9.12zM688.88 573.5h9.12v9.12h-9.12zM706.31 573.5h9.12v9.12h-9.12zM715.03 573.5h9.12v9.12h-9.12zM497.1 582.21h9.12v9.12h-9.12zM523.25 582.21h9.12v9.12h-9.12zM697.6 582.21h9.12v9.12h-9.12zM575.56 590.93h9.12v9.12h-9.12zM619.14 590.93h9.12v9.12h-9.12zM697.6 590.93h9.12v9.12h-9.12zM584.27 608.37h9.12v9.12h-9.12zM549.4 617.08h9.12v9.12h-9.12zM558.12 617.08h9.12v9.12h-9.12zM575.56 617.08h9.12v9.12h-9.12zM584.27 617.08h9.12v9.12h-9.12zM601.71 617.08h9.12v9.12h-9.12zM636.58 617.08h9.12v9.12h-9.12zM662.73 617.08h9.12v9.12h-9.12z"/>
<path fill="#65b976" shape-rendering="crispEdges" d="M514.53 373h9.12v9.12h-9.12zM523.25 373h9.12v9.12h-9.12zM688.88 373h9.12v9.12h-9.12zM514.53 381.72h9.12v9.12h-9.12zM627.86 381.72h9.12v9.12h-9.12zM497.1 390.43h9.12v9.12h-9.12zM505.82 390.43h9.12v9.12h-9.12zM523.25 390.43h9.12v9.12h-9.12zM619.14 390.43h9.12v9.12h-9.12zM654.01 390.43h9.12v9.12h-9.12zM497.1 399.15h9.12v9.12h-9.12zM514.53 399.15h9.12v9.12h-9.12zM680.16 399.15h9.12v9.12h-9.12zM715.03 399.15h9.12v9.12h-9.12zM741.18 399.15h9.12v9.12h-9.12zM741.18 416.59h9.12v9.12h-9.12zM732.47 425.3h9.12v9.12h-9.12zM680.16 434.02h9.12v9.12h-9.12zM723.75 434.02h9.12v9.12h-9.12zM732.47 434.02h9.12v9.12h-9.12zM680.16 442.74h9.12v9.12h-9.12zM723.75 468.89h9.12v9.12h-9.12zM680.16 477.61h9.12v9.12h-9.12zM732.47 477.61h9.12v9.12h-9.12zM514.53 495.04h9.12v9.12h-9.12zM680.16 495.04h9.12v9.12h-9.12zM723.75 495.04h9.12v9.12h-9.12zM505.82 503.76h9.12v9.12h-9.12zM688.88 503.76h9.12v9.12h-9.12zM697.6 503.76h9.12v9.12h-9.12zM706.31 503.76h9.12v9.12h-9.12zM715.03 503.76h9.12v9.12h-9.12zM732.47 512.48h9.12v9.12h-9.12zM514.53 529.91h9.12v9.12h-9.12zM523.25 556.06h9.12v9.12h-9.12zM558.12 556.06h9.12v9.12h-9.12zM566.84 556.06h9.12v9.12h-9.12zM601.71 556.06h9.12v9.12h-9.12zM619.14 556.06h9.12v9.12h-9.12zM497.1 564.78h9.12v9.12h-9.12zM627.86 564.78h9.12v9.12h-9.12zM715.03 564.78h9.12v9.12h-9.12zM741.18 564.78h9.12v9.12h-9.12zM627.86 573.5h9.12v9.12h-9.12zM741.18 573.5h9.12v9.12h-9.12zM627.86 582.21h9.12v9.12h-9.12zM715.03 582.21h9.12v9.12h-9.12zM523.25 590.93h9.12v9.12h-9.12zM627.86 590.93h9.12v9.12h-9.12zM688.88 590.93h9.12v9.12h-9.12zM706.31 590.93h9.12v9.12h-9.12zM558.12 599.65h9.12v9.12h-9.12zM592.99 599.65h9.12v9.12h-9.12zM619.14 599.65h9.12v9.12h-9.12zM549.4 608.37h9.12v9.12h-9.12zM558.12 608.37h9.12v9.12h-9.12zM601.71 608.37h9.12v9.12h-9.12zM636.58 608.37h9.12v9.12h-9.12zM523.25 617.08h9.12v9.12h-9.12zM540.69 617.08h9.12v9.12h-9.12zM688.88 617.08h9.12v9.12h-9.12zM697.6 617.08h9.12v9.12h-9.12z"/>
<path fill="#46938b" shape-rendering="crispEdges" d="M531.97 373h9.12v9.12h-9.12zM497.1 407.87h9.12v9.12h-9.12zM627.86 407.87h9.12v9.12h-9.12zM531.97 503.76h9.12v9.12h-9.12z"/>
<path fill="#7ac669" shape-rendering="crispEdges" d="M540.69 373h9.12v9.12h-9.12zM558.12 373h9.12v9.12h-9.12zM584.27 373h9.12v9.12h-9.12zM601.71 373h9.12v9.12h-9.12zM645.29 373h9.12v9.12h-9.12zM654.01 373h9.12v9.12h-9.12zM671.44 373h9.12v9.12h-9.12zM558.12 381.72h9.12v9.12h-9.12zM584.27 381.72h9.12v9.12h-9.12zM592.99 381.72h9.12v9.12h-9.12zM601.71 381.72h9.12v9.12h-9.12zM619.14 381.72h9.12v9.12h-9.12zM654.01 381.72h9.12v9.12h-9.12zM540.69 399.15h9.12v9.12h-9.12zM558.12 399.15h9.12v9.12h-9.12zM619.14 399.15h9.12v9.12h-9.12zM645.29 399.15h9.12v9.12h-9.12zM671.44 399.15h9.12v9.12h-9.12zM497.1 416.59h9.12v9.12h-9.12zM523.25 416.59h9.12v9.12h-9.12zM575.56 416.59h9.12v9.12h-9.12zM636.58 416.59h9.12v9.12h-9.12zM697.6 416.59h9.12v9.12h-9.12zM715.03 416.59h9.12v9.12h-9.12zM645.29 425.3h9.12v9.12h-9.12zM715.03 425.3h9.12v9.12h-9.12zM497.1 434.02h9.12v9.12h-9.12zM505.82 434.02h9.12v9.12h-9.12zM523.25 434.02h9.12v9.12h-9.12zM627.86 434.02h9.12v9.12h-9.12zM671.44 434.02h9.12v9.12h-9.12zM706.31 434.02h9.12v9.12h-9.12zM715.03 434.02h9.12v9.12h-9.12zM627.86 442.74h9.12v9.12h-9.12zM688.88 442.74h9.12v9.12h-9.12zM697.6 442.74h9.12v9.12h-9.12zM540.69 451.46h9.12v9.12h-9.12zM627.86 451.46h9.12v9.12h-9.12zM497.1 460.17h9.12v9.12h-9.12zM505.82 460.17h9.12v9.12h-9.12zM645.29 460.17h9.12v9.12h-9.12zM688.88 460.17h9.12v9.12h-9.12zM706.31 460.17h9.12v9.12h-9.12zM505.82 468.89h9.12v9.12h-9.12zM688.88 468.89h9.12v9.12h-9.12zM697.6 468.89h9.12v9.12h-9.12zM497.1 477.61h9.12v9.12h-9.12zM505.82 477.61h9.12v9.12h-9.12zM715.03 477.61h9.12v9.12h-9.12zM627.86 486.32h9.12v9.12h-9.12zM505.82 495.04h9.12v9.12h-9.12zM523.25 495.04h9.12v9.12h-9.12zM558.12 503.76h9.12v9.12h-9.12zM566.84 503.76h9.12v9.12h-9.12zM575.56 503.76h9.12v9.12h-9.12zM610.42 503.76h9.12v9.12h-9.12zM645.29 503.76h9.12v9.12h-9.12zM662.73 503.76h9.12v9.12h-9.12zM671.44 503.76h9.12v9.12h-9.12zM540.69 512.48h9.12v9.12h-9.12zM697.6 512.48h9.12v9.12h-9.12zM706.31 512.48h9.12v9.12h-9.12zM497.1 521.19h9.12v9.12h-9.12zM523.25 521.19h9.12v9.12h-9.12zM549.4 521.19h9.12v9.12h-9.12zM584.27 521.19h9.12v9.12h-9.12zM627.86 521.19h9.12v9.12h-9.12zM697.6 521.19h9.12v9.12h-9.12zM497.1 529.91h9.12v9.12h-9.12zM505.82 529.91h9.12v9.12h-9.12zM706.31 529.91h9.12v9.12h-9.12zM627.86 538.63h9.12v9.12h-9.12zM697.6 538.63h9.12v9.12h-9.12zM706.31 538.63h9.12v9.12h-9.12zM497.1 547.34h9.12v9.12h-9.12zM523.25 547.34h9.12v9.12h-9.12zM558.12 547.34h9.12v9.12h-9.12zM627.86 547.34h9.12v9.12h-9.12zM688.88 547.34h9.12v9.12h-9.12zM566.84 564.78h9.12v9.12h-9.12zM584.27 564.78h9.12v9.12h-9.12zM592.99 564.78h9.12v9.12h-9.12zM671.44 564.78h9.12v9.12h-9.12zM540.69 573.5h9.12v9.12h-9.12zM566.84 573.5h9.12v9.12h-9.12zM592.99 573.5h9.12v9.12h-9.12zM636.58 573.5h9.12v9.12h-9.12zM645.29 573.5h9.12v9.12h-9.12zM662.73 573.5h9.12v9.12h-9.12zM558.12 582.21h9.12v9.12h-9.12zM584.27 582.21h9.12v9.12h-9.12zM636.58 582.21h9.12v9.12h-9.12zM654.01 582.21h9.12v9.12h-9.12zM662.73 582.21h9.12v9.12h-9.12zM540.69 590.93h9.12v9.12h-9.12zM549.4 590.93h9.12v9.12h-9.12zM558.12 590.93h9.12v9.12h-9.12zM601.71 590.93h9.12v9.12h-9.12z"/>
<path fill="#80c965" shape-rendering="crispEdges" d="M549.4 373h9.12v9.12h-9.12zM592.99 373h9.12v9.12h-9.12zM662.73 373h9.12v9.12h-9.12zM540.69 381.72h9.12v9.12h-9.12zM575.56 381.72h9.12v9.12h-9.12zM654.01 399.15h9.12v9.12h-9.12zM662.73 399.15h9.12v9.12h-9.12zM505.82 416.59h9.12v9.12h-9.12zM601.71 416.59h9.12v9.12h-9.12zM610.42 416.59h9.12v9.12h-9.12zM688.88 416.59h9.12v9.12h-9.12zM497.1 425.3h9.12v9.12h-9.12zM601.71 425.3h9.12v9.12h-9.12zM662.73 425.3h9.12v9.12h-9.12zM697.6 425.3h9.12v9.12h-9.12zM706.31 425.3h9.12v9.12h-9.12zM610.42 434.02h9.12v9.12h-9.12zM575.56 442.74h9.12v9.12h-9.12zM636.58 442.74h9.12v9.12h-9.12zM706.31 442.74h9.12v9.12h-9.12zM505.82 451.46h9.12v9.12h-9.12zM566.84 451.46h9.12v9.12h-9.12zM592.99 451.46h9.12v9.12h-9.12zM636.58 451.46h9.12v9.12h-9.12zM645.29 451.46h9.12v9.12h-9.12zM671.44 451.46h9.12v9.12h-9.12zM592.99 460.17h9.12v9.12h-9.12zM619.14 460.17h9.12v9.12h-9.12zM627.86 460.17h9.12v9.12h-9.12zM697.6 460.17h9.12v9.12h-9.12zM497.1 468.89h9.12v9.12h-9.12zM575.56 468.89h9.12v9.12h-9.12zM584.27 468.89h9.12v9.12h-9.12zM601.71 468.89h9.12v9.12h-9.12zM540.69 477.61h9.12v9.12h-9.12zM549.4 477.61h9.12v9.12h-9.12zM592.99 477.61h9.12v9.12h-9.12zM627.86 477.61h9.12v9.12h-9.12zM645.29 477.61h9.12v9.12h-9.12zM688.88 477.61h9.12v9.12h-9.12zM697.6 477.61h9.12v9.12h-9.12zM540.69 486.32h9.12v9.12h-9.12zM558.12 486.32h9.12v9.12h-9.12zM688.88 486.32h9.12v9.12h-9.12zM697.6 486.32h9.12v9.12h-9.12zM584.27 495.04h9.12v9.12h-9.12zM688.88 495.04h9.12v9.12h-9.12zM584.27 503.76h9.12v9.12h-9.12zM601.71 503.76h9.12v9.12h-9.12zM636.58 503.76h9.12v9.12h-9.12zM566.84 512.48h9.12v9.12h-9.12zM575.56 512.48h9.12v9.12h-9.12zM627.86 512.48h9.12v9.12h-9.12zM688.88 512.48h9.12v9.12h-9.12zM575.56 521.19h9.12v9.12h-9.12zM601.71 521.19h9.12v9.12h-9.12zM662.73 521.19h9.12v9.12h-9.12zM688.88 521.19h9.12v9.12h-9.12zM523.25 529.91h9.12v9.12h-9.12zM697.6 529.91h9.12v9.12h-9.12zM497.1 538.63h9.12v9.12h-9.12zM523.25 538.63h9.12v9.12h-9.12zM549.4 538.63h9.12v9.12h-9.12zM645.29 538.63h9.12v9.12h-9.12zM575.56 547.34h9.12v9.12h-9.12zM540.69 564.78h9.12v9.12h-9.12zM601.71 564.78h9.12v9.12h-9.12zM610.42 564.78h9.12v9.12h-9.12zM619.14 564.78h9.12v9.12h-9.12zM636.58 564.78h9.12v9.12h-9.12zM645.29 564.78h9.12v9.12h-9.12zM549.4 573.5h9.12v9.12h-9.12zM584.27 573.5h9.12v9.12h-9.12zM601.71 573.5h9.12v9.12h-9.12zM610.42 573.5h9.12v9.12h-9.12zM654.01 573.5h9.12v9.12h-9.12zM549.4 582.21h9.12v9.12h-9.12zM566.84 582.21h9.12v9.12h-9.12z"/>
<path fill="#6fc06f" shape-rendering="crispEdges" d="M566.84 373h9.12v9.12h-9.12zM697.6 373h9.12v9.12h-9.12zM549.4 381.72h9.12v9.12h-9.12zM662.73 381.72h9.12v9.12h-9.12zM671.44 381.72h9.12v9.12h-9.12zM688.88 381.72h9.12v9.12h-9.12zM697.6 381.72h9.12v9.12h-9.12zM706.31 381.72h9.12v9.12h-9.12zM540.69 390.43h9.12v9.12h-9.12zM558.12 390.43h9.12v9.12h-9.12zM566.84 390.43h9.12v9.12h-9.12zM575.56 390.43h9.12v9.12h-9.12zM610.42 390.43h9.12v9.12h-9.12zM636.58 390.43h9.12v9.12h-9.12zM671.44 390.43h9.12v9.12h-9.12zM627.86 399.15h9.12v9.12h-9.12zM697.6 399.15h9.12v9.12h-9.12zM514.53 416.59h9.12v9.12h-9.12zM505.82 425.3h9.12v9.12h-9.12zM514.53 434.02h9.12v9.12h-9.12zM497.1 442.74h9.12v9.12h-9.12zM514.53 442.74h9.12v9.12h-9.12zM514.53 451.46h9.12v9.12h-9.12zM715.03 460.17h9.12v9.12h-9.12zM680.16 468.89h9.12v9.12h-9.12zM514.53 486.32h9.12v9.12h-9.12zM706.31 486.32h9.12v9.12h-9.12zM741.18 486.32h9.12v9.12h-9.12zM627.86 495.04h9.12v9.12h-9.12zM697.6 495.04h9.12v9.12h-9.12zM523.25 503.76h9.12v9.12h-9.12zM619.14 503.76h9.12v9.12h-9.12zM654.01 503.76h9.12v9.12h-9.12zM514.53 512.48h9.12v9.12h-9.12zM680.16 512.48h9.12v9.12h-9.12zM715.03 512.48h9.12v9.12h-9.12zM627.86 529.91h9.12v9.12h-9.12zM715.03 529.91h9.12v9.12h-9.12zM741.18 529.91h9.12v9.12h-9.12zM505.82 538.63h9.12v9.12h-9.12zM688.88 538.63h9.12v9.12h-9.12zM505.82 547.34h9.12v9.12h-9.12zM514.53 547.34h9.12v9.12h-9.12zM680.16 547.34h9.12v9.12h-9.12zM715.03 547.34h9.12v9.12h-9.12zM741.18 547.34h9.12v9.12h-9.12zM592.99 556.06h9.12v9.12h-9.12zM636.58 556.06h9.12v9.12h-9.12zM671.44 556.06h9.12v9.12h-9.12zM505.82 564.78h9.12v9.12h-9.12zM662.73 564.78h9.12v9.12h-9.12zM497.1 573.5h9.12v9.12h-9.12zM505.82 573.5h9.12v9.12h-9.12zM523.25 573.5h9.12v9.12h-9.12zM619.14 573.5h9.12v9.12h-9.12zM505.82 582.21h9.12v9.12h-9.12zM610.42 582.21h9.12v9.12h-9.12zM584.27 590.93h9.12v9.12h-9.12zM636.58 590.93h9.12v9.12h-9.12zM654.01 590.93h9.12v9.12h-9.12zM671.44 590.93h9.12v9.12h-9.12zM610.42 617.08h9.12v9.12h-9.12zM654.01 617.08h9.12v9.12h-9.12zM671.44 617.08h9.12v9.12h-9.12z"/>
<path fill="#74c36c" shape-rendering="crispEdges" d="M575.56 373h9.12v9.12h-9.12zM610.42 373h9.12v9.12h-9.12zM619.14 373h9.12v9.12h-9.12zM636.58 373h9.12v9.12h-9.12zM523.25 381.72h9.12v9.12h-9.12zM566.84 381.72h9.12v9.12h-9.12zM610.42 381.72h9.12v9.12h-9.12zM645.29 381.72h9.12v9.12h-9.12zM549.4 390.43h9.12v9.12h-9.12zM645.29 390.43h9.12v9.12h-9.12zM505.82 399.15h9.12v9.12h-9.12zM549.4 399.15h9.12v9.12h-9.12zM566.84 399.15h9.12v9.12h-9.12zM584.27 399.15h9.12v9.12h-9.12zM636.58 399.15h9.12v9.12h-9.12zM688.88 399.15h9.12v9.12h-9.12zM627.86 416.59h9.12v9.12h-9.12zM514.53 425.3h9.12v9.12h-9.12zM523.25 425.3h9.12v9.12h-9.12zM627.86 425.3h9.12v9.12h-9.12zM697.6 434.02h9.12v9.12h-9.12zM505.82 442.74h9.12v9.12h-9.12zM523.25 442.74h9.12v9.12h-9.12zM715.03 442.74h9.12v9.12h-9.12zM741.18 442.74h9.12v9.12h-9.12zM497.1 451.46h9.12v9.12h-9.12zM697.6 451.46h9.12v9.12h-9.12zM706.31 451.46h9.12v9.12h-9.12zM523.25 460.17h9.12v9.12h-9.12zM627.86 468.89h9.12v9.12h-9.12zM715.03 468.89h9.12v9.12h-9.12zM741.18 468.89h9.12v9.12h-9.12zM497.1 486.32h9.12v9.12h-9.12zM505.82 486.32h9.12v9.12h-9.12zM715.03 486.32h9.12v9.12h-9.12zM497.1 495.04h9.12v9.12h-9.12zM741.18 495.04h9.12v9.12h-9.12zM540.69 503.76h9.12v9.12h-9.12zM549.4 503.76h9.12v9.12h-9.12zM592.99 503.76h9.12v9.12h-9.12zM497.1 512.48h9.12v9.12h-9.12zM523.25 512.48h9.12v9.12h-9.12zM505.82 521.19h9.12v9.12h-9.12zM514.53 521.19h9.12v9.12h-9.12zM706.31 521.19h9.12v9.12h-9.12zM715.03 521.19h9.12v9.12h-9.12zM741.18 521.19h9.12v9.12h-9.12zM688.88 529.91h9.12v9.12h-9.12zM715.03 538.63h9.12v9.12h-9.12zM706.31 547.34h9.12v9.12h-9.12zM523.25 564.78h9.12v9.12h-9.12zM654.01 564.78h9.12v9.12h-9.12zM706.31 564.78h9.12v9.12h-9.12zM558.12 573.5h9.12v9.12h-9.12zM575.56 573.5h9.12v9.12h-9.12zM575.56 582.21h9.12v9.12h-9.12zM645.29 582.21h9.12v9.12h-9.12zM671.44 582.21h9.12v9.12h-9.12zM688.88 582.21h9.12v9.12h-9.12zM566.84 590.93h9.12v9.12h-9.12zM592.99 590.93h9.12v9.12h-9.12zM610.42 590.93h9.12v9.12h-9.12zM645.29 590.93h9.12v9.12h-9.12zM662.73 590.93h9.12v9.12h-9.12zM566.84 617.08h9.12v9.12h-9.12zM592.99 617.08h9.12v9.12h-9.12zM619.14 617.08h9.12v9.12h-9.12zM645.29 617.08h9.12v9.12h-9.12z"/>
<path fill="#62b579" shape-rendering="crispEdges" d="M680.16 373h9.12v9.12h-9.12zM715.03 373h9.12v9.12h-9.12zM715.03 381.72h9.12v9.12h-9.12zM706.31 390.43h9.12v9.12h-9.12zM715.03 390.43h9.12v9.12h-9.12zM723.75 425.3h9.12v9.12h-9.12zM723.75 442.74h9.12v9.12h-9.12zM732.47 442.74h9.12v9.12h-9.12zM732.47 468.89h9.12v9.12h-9.12zM723.75 477.61h9.12v9.12h-9.12zM732.47 486.32h9.12v9.12h-9.12zM732.47 495.04h9.12v9.12h-9.12zM741.18 503.76h9.12v9.12h-9.12zM723.75 512.48h9.12v9.12h-9.12zM723.75 521.19h9.12v9.12h-9.12zM723.75 547.34h9.12v9.12h-9.12zM497.1 556.06h9.12v9.12h-9.12zM514.53 582.21h9.12v9.12h-9.12zM741.18 582.21h9.12v9.12h-9.12zM497.1 590.93h9.12v9.12h-9.12zM505.82 590.93h9.12v9.12h-9.12zM514.53 590.93h9.12v9.12h-9.12zM741.18 590.93h9.12v9.12h-9.12zM549.4 599.65h9.12v9.12h-9.12zM566.84 599.65h9.12v9.12h-9.12zM601.71 599.65h9.12v9.12h-9.12zM636.58 599.65h9.12v9.12h-9.12zM645.29 599.65h9.12v9.12h-9.12zM671.44 599.65h9.12v9.12h-9.12zM566.84 608.37h9.12v9.12h-9.12zM592.99 608.37h9.12v9.12h-9.12zM610.42 608.37h9.12v9.12h-9.12zM619.14 608.37h9.12v9.12h-9.12zM627.86 617.08h9.12v9.12h-9.12zM706.31 617.08h9.12v9.12h-9.12zM715.03 617.08h9.12v9.12h-9.12z"/>
<path fill="#57ab82" shape-rendering="crispEdges" d="M723.75 373h9.12v9.12h-9.12zM680.16 390.43h9.12v9.12h-9.12zM723.75 399.15h9.12v9.12h-9.12zM732.47 399.15h9.12v9.12h-9.12zM575.56 407.87h9.12v9.12h-9.12zM619.14 407.87h9.12v9.12h-9.12zM531.97 451.46h9.12v9.12h-9.12zM531.97 495.04h9.12v9.12h-9.12zM732.47 503.76h9.12v9.12h-9.12zM732.47 538.63h9.12v9.12h-9.12zM514.53 556.06h9.12v9.12h-9.12zM715.03 556.06h9.12v9.12h-9.12zM741.18 556.06h9.12v9.12h-9.12zM680.16 590.93h9.12v9.12h-9.12zM497.1 599.65h9.12v9.12h-9.12zM523.25 599.65h9.12v9.12h-9.12zM523.25 608.37h9.12v9.12h-9.12zM627.86 608.37h9.12v9.12h-9.12zM662.73 608.37h9.12v9.12h-9.12zM680.16 617.08h9.12v9.12h-9.12z"/>
<path fill="#5aae80" shape-rendering="crispEdges" d="M732.47 373h9.12v9.12h-9.12zM680.16 381.72h9.12v9.12h-9.12zM741.18 381.72h9.12v9.12h-9.12zM732.47 451.46h9.12v9.12h-9.12zM732.47 521.19h9.12v9.12h-9.12zM723.75 538.63h9.12v9.12h-9.12zM505.82 556.06h9.12v9.12h-9.12zM688.88 556.06h9.12v9.12h-9.12zM697.6 556.06h9.12v9.12h-9.12zM680.16 564.78h9.12v9.12h-9.12zM723.75 564.78h9.12v9.12h-9.12zM680.16 573.5h9.12v9.12h-9.12zM723.75 573.5h9.12v9.12h-9.12zM732.47 573.5h9.12v9.12h-9.12zM732.47 582.21h9.12v9.12h-9.12zM662.73 599.65h9.12v9.12h-9.12zM688.88 599.65h9.12v9.12h-9.12zM697.6 599.65h9.12v9.12h-9.12zM497.1 608.37h9.12v9.12h-9.12zM575.56 608.37h9.12v9.12h-9.12zM645.29 608.37h9.12v9.12h-9.12zM697.6 608.37h9.12v9.12h-9.12zM706.31 608.37h9.12v9.12h-9.12zM505.82 617.08h9.12v9.12h-9.12z"/>
<path fill="#5eb27d" shape-rendering="crispEdges" d="M741.18 373h9.12v9.12h-9.12zM723.75 381.72h9.12v9.12h-9.12zM592.99 390.43h9.12v9.12h-9.12zM627.86 390.43h9.12v9.12h-9.12zM688.88 390.43h9.12v9.12h-9.12zM741.18 390.43h9.12v9.12h-9.12zM723.75 416.59h9.12v9.12h-9.12zM732.47 416.59h9.12v9.12h-9.12zM723.75 451.46h9.12v9.12h-9.12zM723.75 460.17h9.12v9.12h-9.12zM514.53 468.89h9.12v9.12h-9.12zM723.75 486.32h9.12v9.12h-9.12zM514.53 503.76h9.12v9.12h-9.12zM680.16 503.76h9.12v9.12h-9.12zM723.75 529.91h9.12v9.12h-9.12zM732.47 529.91h9.12v9.12h-9.12zM732.47 547.34h9.12v9.12h-9.12zM627.86 556.06h9.12v9.12h-9.12zM706.31 556.06h9.12v9.12h-9.12zM514.53 564.78h9.12v9.12h-9.12zM680.16 582.21h9.12v9.12h-9.12zM505.82 599.65h9.12v9.12h-9.12zM540.69 599.65h9.12v9.12h-9.12zM575.56 599.65h9.12v9.12h-9.12zM584.27 599.65h9.12v9.12h-9.12zM610.42 599.65h9.12v9.12h-9.12zM654.01 599.65h9.12v9.12h-9.12zM540.69 608.37h9.12v9.12h-9.12zM654.01 608.37h9.12v9.12h-9.12zM671.44 608.37h9.12v9.12h-9.12zM497.1 617.08h9.12v9.12h-9.12zM514.53 617.08h9.12v9.12h-9.12z"/>
<path fill="#4d9d88" shape-rendering="crispEdges" d="M531.97 381.72h9.12v9.12h-9.12zM531.97 399.15h9.12v9.12h-9.12zM505.82 407.87h9.12v9.12h-9.12zM523.25 407.87h9.12v9.12h-9.12zM584.27 407.87h9.12v9.12h-9.12zM601.71 407.87h9.12v9.12h-9.12zM671.44 407.87h9.12v9.12h-9.12zM706.31 407.87h9.12v9.12h-9.12zM531.97 460.17h9.12v9.12h-9.12zM531.97 477.61h9.12v9.12h-9.12zM531.97 547.34h9.12v9.12h-9.12zM732.47 556.06h9.12v9.12h-9.12zM531.97 582.21h9.12v9.12h-9.12zM680.16 608.37h9.12v9.12h-9.12z"/>
<path fill="#86cc62" shape-rendering="crispEdges" d="M636.58 381.72h9.12v9.12h-9.12zM575.56 399.15h9.12v9.12h-9.12zM601.71 399.15h9.12v9.12h-9.12zM610.42 399.15h9.12v9.12h-9.12zM558.12 416.59h9.12v9.12h-9.12zM566.84 416.59h9.12v9.12h-9.12zM619.14 416.59h9.12v9.12h-9.12zM662.73 416.59h9.12v9.12h-9.12zM706.31 416.59h9.12v9.12h-9.12zM558.12 425.3h9.12v9.12h-9.12zM566.84 425.3h9.12v9.12h-9.12zM619.14 425.3h9.12v9.12h-9.12zM636.58 425.3h9.12v9.12h-9.12zM688.88 425.3h9.12v9.12h-9.12zM540.69 434.02h9.12v9.12h-9.12zM549.4 434.02h9.12v9.12h-9.12zM575.56 434.02h9.12v9.12h-9.12zM601.71 434.02h9.12v9.12h-9.12zM636.58 434.02h9.12v9.12h-9.12zM645.29 434.02h9.12v9.12h-9.12zM654.01 434.02h9.12v9.12h-9.12zM662.73 434.02h9.12v9.12h-9.12zM688.88 434.02h9.12v9.12h-9.12zM540.69 442.74h9.12v9.12h-9.12zM549.4 442.74h9.12v9.12h-9.12zM645.29 442.74h9.12v9.12h-9.12zM654.01 442.74h9.12v9.12h-9.12zM662.73 442.74h9.12v9.12h-9.12zM671.44 442.74h9.12v9.12h-9.12zM523.25 451.46h9.12v9.12h-9.12zM558.12 451.46h9.12v9.12h-9.12zM601.71 451.46h9.12v9.12h-9.12zM619.14 451.46h9.12v9.12h-9.12zM688.88 451.46h9.12v9.12h-9.12zM671.44 460.17h9.12v9.12h-9.12zM636.58 468.89h9.12v9.12h-9.12zM645.29 468.89h9.12v9.12h-9.12zM662.73 468.89h9.12v9.12h-9.12zM671.44 468.89h9.12v9.12h-9.12zM706.31 468.89h9.12v9.12h-9.12zM523.25 477.61h9.12v9.12h-9.12zM558.12 477.61h9.12v9.12h-9.12zM575.56 477.61h9.12v9.12h-9.12zM610.42 477.61h9.12v9.12h-9.12zM636.58 477.61h9.12v9.12h-9.12zM662.73 477.61h9.12v9.12h-9.12zM523.25 486.32h9.12v9.12h-9.12zM601.71 486.32h9.12v9.12h-9.12zM654.01 486.32h9.12v9.12h-9.12zM662.73 486.32h9.12v9.12h-9.12zM540.69 495.04h9.12v9.12h-9.12zM549.4 495.04h9.12v9.12h-9.12zM575.56 495.04h9.12v9.12h-9.12zM636.58 495.04h9.12v9.12h-9.12zM671.44 495.04h9.12v9.12h-9.12zM706.31 495.04h9.12v9.12h-9.12zM505.82 512.48h9.12v9.12h-9.12zM549.4 512.48h9.12v9.12h-9.12zM558.12 512.48h9.12v9.12h-9.12zM592.99 512.48h9.12v9.12h-9.12zM601.71 512.48h9.12v9.12h-9.12zM619.14 512.48h9.12v9.12h-9.12zM645.29 512.48h9.12v9.12h-9.12zM671.44 512.48h9.12v9.12h-9.12zM558.12 521.19h9.12v9.12h-9.12zM566.84 521.19h9.12v9.12h-9.12zM592.99 521.19h9.12v9.12h-9.12zM636.58 521.19h9.12v9.12h-9.12zM654.01 521.19h9.12v9.12h-9.12zM558.12 529.91h9.12v9.12h-9.12zM566.84 529.91h9.12v9.12h-9.12zM610.42 529.91h9.12v9.12h-9.12zM645.29 529.91h9.12v9.12h-9.12zM540.69 538.63h9.12v9.12h-9.12zM558.12 538.63h9.12v9.12h-9.12zM566.84 538.63h9.12v9.12h-9.12zM592.99 538.63h9.12v9.12h-9.12zM601.71 538.63h9.12v9.12h-9.12zM610.42 538.63h9.12v9.12h-9.12zM566.84 547.34h9.12v9.12h-9.12zM584.27 547.34h9.12v9.12h-9.12zM592.99 547.34h9.12v9.12h-9.12zM619.14 547.34h9.12v9.12h-9.12zM636.58 547.34h9.12v9.12h-9.12zM549.4 564.78h9.12v9.12h-9.12zM558.12 564.78h9.12v9.12h-9.12zM575.56 564.78h9.12v9.12h-9.12zM540.69 582.21h9.12v9.12h-9.12zM592.99 582.21h9.12v9.12h-9.12zM619.14 582.21h9.12v9.12h-9.12z"/>
<path fill="#55a783" shape-rendering="crispEdges" d="M732.47 381.72h9.12v9.12h-9.12zM723.75 503.76h9.12v9.12h-9.12zM732.47 564.78h9.12v9.12h-9.12zM723.75 582.21h9.12v9.12h-9.12zM732.47 590.93h9.12v9.12h-9.12zM627.86 599.65h9.12v9.12h-9.12zM706.31 599.65h9.12v9.12h-9.12zM505.82 608.37h9.12v9.12h-9.12zM688.88 608.37h9.12v9.12h-9.12zM715.03 608.37h9.12v9.12h-9.12z"/>
<path fill="#44908c" shape-rendering="crispEdges" d="M531.97 390.43h9.12v9.12h-9.12zM514.53 407.87h9.12v9.12h-9.12zM680.16 407.87h9.12v9.12h-9.12zM741.18 407.87h9.12v9.12h-9.12zM531.97 556.06h9.12v9.12h-9.12zM531.97 617.08h9.12v9.12h-9.12z"/>
<path fill="#52a485" shape-rendering="crispEdges" d="M723.75 390.43h9.12v9.12h-9.12zM732.47 390.43h9.12v9.12h-9.12zM549.4 407.87h9.12v9.12h-9.12zM558.12 407.87h9.12v9.12h-9.12zM566.84 407.87h9.12v9.12h-9.12zM645.29 407.87h9.12v9.12h-9.12zM654.01 407.87h9.12v9.12h-9.12zM662.73 407.87h9.12v9.12h-9.12zM531.97 425.3h9.12v9.12h-9.12zM531.97 434.02h9.12v9.12h-9.12zM531.97 442.74h9.12v9.12h-9.12zM531.97 521.19h9.12v9.12h-9.12zM531.97 529.91h9.12v9.12h-9.12zM531.97 538.63h9.12v9.12h-9.12zM723.75 556.06h9.12v9.12h-9.12zM514.53 599.65h9.12v9.12h-9.12zM680.16 599.65h9.12v9.12h-9.12zM741.18 599.65h9.12v9.12h-9.12zM514.53 608.37h9.12v9.12h-9.12zM741.18 608.37h9.12v9.12h-9.12zM723.75 617.08h9.12v9.12h-9.12zM732.47 617.08h9.12v9.12h-9.12z"/>
<path fill="#4fa187" shape-rendering="crispEdges" d="M540.69 407.87h9.12v9.12h-9.12zM592.99 407.87h9.12v9.12h-9.12zM610.42 407.87h9.12v9.12h-9.12zM636.58 407.87h9.12v9.12h-9.12zM531.97 416.59h9.12v9.12h-9.12zM531.97 468.89h9.12v9.12h-9.12zM531.97 486.32h9.12v9.12h-9.12zM531.97 512.48h9.12v9.12h-9.12zM723.75 590.93h9.12v9.12h-9.12zM715.03 599.65h9.12v9.12h-9.12z"/>
<path fill="#48978a" shape-rendering="crispEdges" d="M688.88 407.87h9.12v9.12h-9.12zM697.6 407.87h9.12v9.12h-9.12zM715.03 407.87h9.12v9.12h-9.12zM531.97 564.78h9.12v9.12h-9.12zM531.97 573.5h9.12v9.12h-9.12zM531.97 590.93h9.12v9.12h-9.12z"/>
<path fill="#3f868d" shape-rendering="crispEdges" d="M723.75 407.87h9.12v9.12h-9.12zM732.47 407.87h9.12v9.12h-9.12zM531.97 599.65h9.12v9.12h-9.12zM531.97 608.37h9.12v9.12h-9.12z"/>
<path fill="#90ce60" shape-rendering="crispEdges" d="M549.4 416.59h9.12v9.12h-9.12zM592.99 416.59h9.12v9.12h-9.12zM654.01 416.59h9.12v9.12h-9.12zM671.44 416.59h9.12v9.12h-9.12zM540.69 425.3h9.12v9.12h-9.12zM575.56 425.3h9.12v9.12h-9.12zM584.27 425.3h9.12v9.12h-9.12zM592.99 425.3h9.12v9.12h-9.12zM654.01 425.3h9.12v9.12h-9.12zM566.84 434.02h9.12v9.12h-9.12zM584.27 434.02h9.12v9.12h-9.12zM592.99 434.02h9.12v9.12h-9.12zM619.14 434.02h9.12v9.12h-9.12zM558.12 442.74h9.12v9.12h-9.12zM592.99 442.74h9.12v9.12h-9.12zM601.71 442.74h9.12v9.12h-9.12zM619.14 442.74h9.12v9.12h-9.12zM549.4 451.46h9.12v9.12h-9.12zM584.27 451.46h9.12v9.12h-9.12zM610.42 451.46h9.12v9.12h-9.12zM662.73 451.46h9.12v9.12h-9.12zM549.4 460.17h9.12v9.12h-9.12zM558.12 460.17h9.12v9.12h-9.12zM575.56 460.17h9.12v9.12h-9.12zM601.71 460.17h9.12v9.12h-9.12zM654.01 460.17h9.12v9.12h-9.12zM662.73 460.17h9.12v9.12h-9.12zM540.69 468.89h9.12v9.12h-9.12zM549.4 468.89h9.12v9.12h-9.12zM558.12 468.89h9.12v9.12h-9.12zM566.84 468.89h9.12v9.12h-9.12zM566.84 477.61h9.12v9.12h-9.12zM584.27 477.61h9.12v9.12h-9.12zM654.01 477.61h9.12v9.12h-9.12zM671.44 477.61h9.12v9.12h-9.12zM706.31 477.61h9.12v9.12h-9.12zM575.56 486.32h9.12v9.12h-9.12zM645.29 486.32h9.12v9.12h-9.12zM558.12 495.04h9.12v9.12h-9.12zM566.84 495.04h9.12v9.12h-9.12zM645.29 495.04h9.12v9.12h-9.12zM654.01 495.04h9.12v9.12h-9.12zM662.73 512.48h9.12v9.12h-9.12zM610.42 521.19h9.12v9.12h-9.12zM619.14 521.19h9.12v9.12h-9.12zM671.44 521.19h9.12v9.12h-9.12zM540.69 529.91h9.12v9.12h-9.12zM549.4 529.91h9.12v9.12h-9.12zM584.27 529.91h9.12v9.12h-9.12zM601.71 529.91h9.12v9.12h-9.12zM619.14 529.91h9.12v9.12h-9.12zM671.44 529.91h9.12v9.12h-9.12zM575.56 538.63h9.12v9.12h-9.12zM584.27 538.63h9.12v9.12h-9.12zM636.58 538.63h9.12v9.12h-9.12zM540.69 547.34h9.12v9.12h-9.12zM601.71 547.34h9.12v9.12h-9.12zM645.29 547.34h9.12v9.12h-9.12zM654.01 547.34h9.12v9.12h-9.12zM697.6 547.34h9.12v9.12h-9.12zM671.44 573.5h9.12v9.12h-9.12zM601.71 582.21h9.12v9.12h-9.12z"/>
<path fill="#9bd15d" shape-rendering="crispEdges" d="M584.27 416.59h9.12v9.12h-9.12zM645.29 416.59h9.12v9.12h-9.12zM610.42 425.3h9.12v9.12h-9.12zM671.44 425.3h9.12v9.12h-9.12zM610.42 442.74h9.12v9.12h-9.12zM654.01 451.46h9.12v9.12h-9.12zM540.69 460.17h9.12v9.12h-9.12zM636.58 460.17h9.12v9.12h-9.12zM619.14 468.89h9.12v9.12h-9.12zM654.01 468.89h9.12v9.12h-9.12zM619.14 477.61h9.12v9.12h-9.12zM549.4 486.32h9.12v9.12h-9.12zM566.84 486.32h9.12v9.12h-9.12zM619.14 486.32h9.12v9.12h-9.12zM636.58 486.32h9.12v9.12h-9.12zM671.44 486.32h9.12v9.12h-9.12zM592.99 495.04h9.12v9.12h-9.12zM601.71 495.04h9.12v9.12h-9.12zM610.42 495.04h9.12v9.12h-9.12zM662.73 495.04h9.12v9.12h-9.12zM584.27 512.48h9.12v9.12h-9.12zM610.42 512.48h9.12v9.12h-9.12zM654.01 512.48h9.12v9.12h-9.12zM540.69 521.19h9.12v9.12h-9.12zM575.56 529.91h9.12v9.12h-9.12zM592.99 529.91h9.12v9.12h-9.12zM636.58 529.91h9.12v9.12h-9.12zM662.73 529.91h9.12v9.12h-9.12zM619.14 538.63h9.12v9.12h-9.12zM654.01 538.63h9.12v9.12h-9.12zM671.44 538.63h9.12v9.12h-9.12zM549.4 547.34h9.12v9.12h-9.12zM610.42 547.34h9.12v9.12h-9.12zM662.73 547.34h9.12v9.12h-9.12z"/>
<path fill="#b0d659" shape-rendering="crispEdges" d="M584.27 442.74h9.12v9.12h-9.12zM566.84 460.17h9.12v9.12h-9.12z"/>
<path fill="#a5d45b" shape-rendering="crispEdges" d="M610.42 460.17h9.12v9.12h-9.12zM610.42 468.89h9.12v9.12h-9.12zM584.27 486.32h9.12v9.12h-9.12zM592.99 486.32h9.12v9.12h-9.12z"/>
<path fill="#4a9a8a" shape-rendering="crispEdges" d="M732.47 599.65h9.12v9.12h-9.12zM723.75 608.37h9.12v9.12h-9.12z"/>
<path fill="#f7e34d" shape-rendering="crispEdges" d="M867 373h9.13v9.13h-9.13zM875.73 381.73h9.13v9.13h-9.13zM884.47 390.47h9.13v9.13h-9.13zM893.2 399.2h9.13v9.13h-9.13zM901.94 407.94h9.13v9.13h-9.13zM910.67 416.67h9.13v9.13h-9.13zM919.41 425.41h9.13v9.13h-9.13zM928.14 434.14h9.13v9.13h-9.13zM936.88 442.88h9.13v9.13h-9.13zM945.61 451.61h9.13v9.13h-9.13zM954.34 460.34h9.13v9.13h-9.13zM963.08 469.08h9.13v9.13h-9.13zM971.81 477.81h9.13v9.13h-9.13zM980.55 486.55h9.13v9.13h-9.13zM989.28 495.28h9.13v9.13h-9.13zM998.02 504.02h9.13v9.13h-9.13zM1006.75 512.75h9.13v9.13h-9.13zM1015.49 521.49h9.13v9.13h-9.13zM1024.22 530.22h9.13v9.13h-9.13zM1032.96 538.96h9.13v9.13h-9.13zM1041.69 547.69h9.13v9.13h-9.13zM1050.42 556.42h9.13v9.13h-9.13zM1059.16 565.16h9.13v9.13h-9.13zM1067.89 573.89h9.13v9.13h-9.13zM1076.63 582.63h9.13v9.13h-9.13zM1085.36 591.36h9.13v9.13h-9.13zM1094.1 600.1h9.13v9.13h-9.13zM1102.83 608.83h9.13v9.13h-9.13zM1111.57 617.57h9.13v9.13h-9.13z"/>
<path fill="#438d8c" shape-rendering="crispEdges" d="M875.73 373h9.13v9.13h-9.13zM954.34 373h9.13v9.13h-9.13zM1050.42 373h9.13v9.13h-9.13zM867 381.73h9.13v9.13h-9.13zM1032.96 381.73h9.13v9.13h-9.13zM1050.42 381.73h9.13v9.13h-9.13zM1024.22 390.47h9.13v9.13h-9.13zM1111.57 390.47h9.13v9.13h-9.13zM1050.42 399.2h9.13v9.13h-9.13zM1059.16 399.2h9.13v9.13h-9.13zM919.41 407.94h9.13v9.13h-9.13zM954.34 407.94h9.13v9.13h-9.13zM1059.16 407.94h9.13v9.13h-9.13zM901.94 425.41h9.13v9.13h-9.13zM1015.49 425.41h9.13v9.13h-9.13zM1076.63 425.41h9.13v9.13h-9.13zM1076.63 442.88h9.13v9.13h-9.13zM1067.89 451.61h9.13v9.13h-9.13zM867 460.34h9.13v9.13h-9.13zM901.94 460.34h9.13v9.13h-9.13zM971.81 460.34h9.13v9.13h-9.13zM1006.75 460.34h9.13v9.13h-9.13zM954.34 477.81h9.13v9.13h-9.13zM1015.49 504.02h9.13v9.13h-9.13zM954.34 512.75h9.13v9.13h-9.13zM919.41 521.49h9.13v9.13h-9.13zM998.02 521.49h9.13v9.13h-9.13zM884.47 530.22h9.13v9.13h-9.13zM1041.69 530.22h9.13v9.13h-9.13zM875.73 538.96h9.13v9.13h-9.13zM1085.36 538.96h9.13v9.13h-9.13zM1024.22 547.69h9.13v9.13h-9.13zM867 556.42h9.13v9.13h-9.13zM875.73 556.42h9.13v9.13h-9.13zM893.2 556.42h9.13v9.13h-9.13zM1111.57 556.42h9.13v9.13h-9.13zM893.2 565.16h9.13v9.13h-9.13zM901.94 565.16h9.13v9.13h-9.13zM945.61 573.89h9.13v9.13h-9.13zM919.41 582.63h9.13v9.13h-9.13zM936.88 582.63h9.13v9.13h-9.13zM1032.96 591.36h9.13v9.13h-9.13zM884.47 617.57h9.13v9.13h-9.13zM1050.42 617.57h9.13v9.13h-9.13z"/>
<path fill="#46938b" shape-rendering="crispEdges" d="M884.47 373h9.13v9.13h-9.13zM901.94 373h9.13v9.13h-9.13zM867 390.47h9.13v9.13h-9.13zM910.67 390.47h9.13v9.13h-9.13zM998.02 390.47h9.13v9.13h-9.13zM928.14 399.2h9.13v9.13h-9.13zM1085.36 399.2h9.13v9.13h-9.13zM867 407.94h9.13v9.13h-9.13zM945.61 407.94h9.13v9.13h-9.13zM1076.63 407.94h9.13v9.13h-9.13zM884.47 416.67h9.13v9.13h-9.13zM893.2 434.14h9.13v9.13h-9.13zM1094.1 434.14h9.13v9.13h-9.13zM971.81 442.88h9.13v9.13h-9.13zM1041.69 442.88h9.13v9.13h-9.13zM901.94 451.61h9.13v9.13h-9.13zM1076.63 451.61h9.13v9.13h-9.13zM963.08 460.34h9.13v9.13h-9.13zM1041.69 460.34h9.13v9.13h-9.13zM954.34 469.08h9.13v9.13h-9.13zM989.28 469.08h9.13v9.13h-9.13zM936.88 477.81h9.13v9.13h-9.13zM1067.89 486.55h9.13v9.13h-9.13zM963.08 495.28h9.13v9.13h-9.13zM884.47 504.02h9.13v9.13h-9.13zM1067.89 504.02h9.13v9.13h-9.13zM1067.89 521.49h9.13v9.13h-9.13zM1050.42 538.96h9.13v9.13h-9.13zM936.88 547.69h9.13v9.13h-9.13zM954.34 547.69h9.13v9.13h-9.13zM1032.96 556.42h9.13v9.13h-9.13zM1067.89 556.42h9.13v9.13h-9.13zM1067.89 565.16h9.13v9.13h-9.13zM980.55 573.89h9.13v9.13h-9.13zM998.02 573.89h9.13v9.13h-9.13zM1015.49 573.89h9.13v9.13h-9.13zM1050.42 573.89h9.13v9.13h-9.13zM1059.16 573.89h9.13v9.13h-9.13zM901.94 582.63h9.13v9.13h-9.13zM945.61 582.63h9.13v9.13h-9.13zM1102.83 582.63h9.13v9.13h-9.13zM893.2 591.36h9.13v9.13h-9.13zM928.14 600.1h9.13v9.13h-9.13zM1076.63 608.83h9.13v9.13h-9.13z"/>
<path fill="#52a485" shape-rendering="crispEdges" d="M893.2 373h9.13v9.13h-9.13zM1015.49 381.73h9.13v9.13h-9.13zM1059.16 381.73h9.13v9.13h-9.13zM893.2 390.47h9.13v9.13h-9.13zM1102.83 390.47h9.13v9.13h-9.13zM867 399.2h9.13v9.13h-9.13zM884.47 399.2h9.13v9.13h-9.13zM919.41 399.2h9.13v9.13h-9.13zM1006.75 399.2h9.13v9.13h-9.13zM910.67 407.94h9.13v9.13h-9.13zM1032.96 407.94h9.13v9.13h-9.13zM901.94 416.67h9.13v9.13h-9.13zM1006.75 416.67h9.13v9.13h-9.13zM893.2 425.41h9.13v9.13h-9.13zM963.08 425.41h9.13v9.13h-9.13zM980.55 425.41h9.13v9.13h-9.13zM998.02 425.41h9.13v9.13h-9.13zM1006.75 425.41h9.13v9.13h-9.13zM980.55 451.61h9.13v9.13h-9.13zM1024.22 451.61h9.13v9.13h-9.13zM1067.89 460.34h9.13v9.13h-9.13zM919.41 469.08h9.13v9.13h-9.13zM980.55 477.81h9.13v9.13h-9.13zM1041.69 477.81h9.13v9.13h-9.13zM919.41 486.55h9.13v9.13h-9.13zM945.61 486.55h9.13v9.13h-9.13zM971.81 486.55h9.13v9.13h-9.13zM1102.83 486.55h9.13v9.13h-9.13zM998.02 495.28h9.13v9.13h-9.13zM1067.89 495.28h9.13v9.13h-9.13zM919.41 504.02h9.13v9.13h-9.13zM989.28 504.02h9.13v9.13h-9.13zM1085.36 504.02h9.13v9.13h-9.13zM893.2 512.75h9.13v9.13h-9.13zM910.67 512.75h9.13v9.13h-9.13zM919.41 512.75h9.13v9.13h-9.13zM1015.49 512.75h9.13v9.13h-9.13zM1102.83 512.75h9.13v9.13h-9.13zM875.73 521.49h9.13v9.13h-9.13zM1006.75 521.49h9.13v9.13h-9.13zM945.61 530.22h9.13v9.13h-9.13zM1094.1 530.22h9.13v9.13h-9.13zM901.94 538.96h9.13v9.13h-9.13zM971.81 547.69h9.13v9.13h-9.13zM875.73 565.16h9.13v9.13h-9.13zM1111.57 565.16h9.13v9.13h-9.13zM954.34 573.89h9.13v9.13h-9.13zM989.28 573.89h9.13v9.13h-9.13zM1085.36 582.63h9.13v9.13h-9.13zM998.02 591.36h9.13v9.13h-9.13zM1076.63 591.36h9.13v9.13h-9.13zM1024.22 600.1h9.13v9.13h-9.13zM884.47 608.83h9.13v9.13h-9.13zM980.55 608.83h9.13v9.13h-9.13zM1006.75 608.83h9.13v9.13h-9.13zM1059.16 617.57h9.13v9.13h-9.13z"/>
<path fill="#74c36c" shape-rendering="crispEdges" d="M910.67 373h9.13v9.13h-9.13zM1085.36 373h9.13v9.13h-9.13zM884.47 381.73h9.13v9.13h-9.13zM875.73 390.47h9.13v9.13h-9.13zM1024.22 407.94h9.13v9.13h-9.13zM867 416.67h9.13v9.13h-9.13zM945.61 416.67h9.13v9.13h-9.13zM980.55 416.67h9.13v9.13h-9.13zM989.28 416.67h9.13v9.13h-9.13zM1050.42 416.67h9.13v9.13h-9.13zM1059.16 416.67h9.13v9.13h-9.13zM1085.36 416.67h9.13v9.13h-9.13zM910.67 451.61h9.13v9.13h-9.13zM989.28 451.61h9.13v9.13h-9.13zM1085.36 451.61h9.13v9.13h-9.13zM1102.83 460.34h9.13v9.13h-9.13zM910.67 486.55h9.13v9.13h-9.13zM1085.36 486.55h9.13v9.13h-9.13zM910.67 495.28h9.13v9.13h-9.13zM945.61 495.28h9.13v9.13h-9.13zM1015.49 495.28h9.13v9.13h-9.13zM1085.36 495.28h9.13v9.13h-9.13zM989.28 521.49h9.13v9.13h-9.13zM901.94 530.22h9.13v9.13h-9.13zM1085.36 530.22h9.13v9.13h-9.13zM910.67 556.42h9.13v9.13h-9.13zM910.67 565.16h9.13v9.13h-9.13zM867 591.36h9.13v9.13h-9.13zM910.67 591.36h9.13v9.13h-9.13zM945.61 591.36h9.13v9.13h-9.13zM980.55 591.36h9.13v9.13h-9.13zM989.28 591.36h9.13v9.13h-9.13zM1024.22 591.36h9.13v9.13h-9.13zM954.34 608.83h9.13v9.13h-9.13z"/>
<path fill="#3f868d" shape-rendering="crispEdges" d="M919.41 373h9.13v9.13h-9.13zM1015.49 416.67h9.13v9.13h-9.13zM1032.96 416.67h9.13v9.13h-9.13zM867 425.41h9.13v9.13h-9.13zM998.02 442.88h9.13v9.13h-9.13zM1102.83 451.61h9.13v9.13h-9.13zM1015.49 469.08h9.13v9.13h-9.13zM1032.96 469.08h9.13v9.13h-9.13zM1059.16 469.08h9.13v9.13h-9.13zM989.28 477.81h9.13v9.13h-9.13zM998.02 477.81h9.13v9.13h-9.13zM1006.75 477.81h9.13v9.13h-9.13zM1059.16 486.55h9.13v9.13h-9.13zM971.81 495.28h9.13v9.13h-9.13zM936.88 504.02h9.13v9.13h-9.13zM971.81 504.02h9.13v9.13h-9.13zM971.81 512.75h9.13v9.13h-9.13zM910.67 521.49h9.13v9.13h-9.13zM963.08 521.49h9.13v9.13h-9.13zM910.67 538.96h9.13v9.13h-9.13zM963.08 538.96h9.13v9.13h-9.13zM1102.83 538.96h9.13v9.13h-9.13zM963.08 565.16h9.13v9.13h-9.13zM980.55 565.16h9.13v9.13h-9.13zM945.61 608.83h9.13v9.13h-9.13zM1032.96 608.83h9.13v9.13h-9.13z"/>
<path fill="#55a783" shape-rendering="crispEdges" d="M928.14 373h9.13v9.13h-9.13zM936.88 381.73h9.13v9.13h-9.13zM1111.57 381.73h9.13v9.13h-9.13zM1094.1 390.47h9.13v9.13h-9.13zM1015.49 399.2h9.13v9.13h-9.13zM1094.1 407.94h9.13v9.13h-9.13zM919.41 416.67h9.13v9.13h-9.13zM936.88 416.67h9.13v9.13h-9.13zM1041.69 416.67h9.13v9.13h-9.13zM910.67 425.41h9.13v9.13h-9.13zM945.61 425.41h9.13v9.13h-9.13zM954.34 425.41h9.13v9.13h-9.13zM867 434.14h9.13v9.13h-9.13zM954.34 434.14h9.13v9.13h-9.13zM980.55 434.14h9.13v9.13h-9.13zM1067.89 434.14h9.13v9.13h-9.13zM1102.83 434.14h9.13v9.13h-9.13zM875.73 442.88h9.13v9.13h-9.13zM910.67 442.88h9.13v9.13h-9.13zM945.61 442.88h9.13v9.13h-9.13zM980.55 442.88h9.13v9.13h-9.13zM919.41 451.61h9.13v9.13h-9.13zM936.88 451.61h9.13v9.13h-9.13zM954.34 451.61h9.13v9.13h-9.13zM971.81 451.61h9.13v9.13h-9.13zM919.41 460.34h9.13v9.13h-9.13zM928.14 460.34h9.13v9.13h-9.13zM945.61 460.34h9.13v9.13h-9.13zM1024.22 469.08h9.13v9.13h-9.13zM1094.1 469.08h9.13v9.13h-9.13zM945.61 477.81h9.13v9.13h-9.13zM1085.36 477.81h9.13v9.13h-9.13zM1111.57 477.81h9.13v9.13h-9.13zM928.14 486.55h9.13v9.13h-9.13zM936.88 486.55h9.13v9.13h-9.13zM893.2 521.49h9.13v9.13h-9.13zM1024.22 521.49h9.13v9.13h-9.13zM963.08 530.22h9.13v9.13h-9.13zM1015.49 530.22h9.13v9.13h-9.13zM910.67 547.69h9.13v9.13h-9.13zM1102.83 556.42h9.13v9.13h-9.13zM928.14 573.89h9.13v9.13h-9.13zM971.81 591.36h9.13v9.13h-9.13zM884.47 600.1h9.13v9.13h-9.13zM901.94 600.1h9.13v9.13h-9.13zM963.08 600.1h9.13v9.13h-9.13zM1111.57 600.1h9.13v9.13h-9.13zM928.14 608.83h9.13v9.13h-9.13zM1050.42 608.83h9.13v9.13h-9.13zM1111.57 608.83h9.13v9.13h-9.13zM875.73 617.57h9.13v9.13h-9.13zM971.81 617.57h9.13v9.13h-9.13zM1094.1 617.57h9.13v9.13h-9.13zM1102.83 617.57h9.13v9.13h-9.13z"/>
<path fill="#4a9a8a" shape-rendering="crispEdges" d="M936.88 373h9.13v9.13h-9.13zM971.81 373h9.13v9.13h-9.13zM1015.49 373h9.13v9.13h-9.13zM989.28 381.73h9.13v9.13h-9.13zM945.61 390.47h9.13v9.13h-9.13zM1015.49 390.47h9.13v9.13h-9.13zM1059.16 390.47h9.13v9.13h-9.13zM971.81 399.2h9.13v9.13h-9.13zM1006.75 407.94h9.13v9.13h-9.13zM1094.1 425.41h9.13v9.13h-9.13zM945.61 434.14h9.13v9.13h-9.13zM867 442.88h9.13v9.13h-9.13zM954.34 442.88h9.13v9.13h-9.13zM1015.49 442.88h9.13v9.13h-9.13zM884.47 451.61h9.13v9.13h-9.13zM928.14 451.61h9.13v9.13h-9.13zM936.88 460.34h9.13v9.13h-9.13zM1094.1 460.34h9.13v9.13h-9.13zM1076.63 469.08h9.13v9.13h-9.13zM1102.83 469.08h9.13v9.13h-9.13zM867 477.81h9.13v9.13h-9.13zM893.2 477.81h9.13v9.13h-9.13zM1067.89 477.81h9.13v9.13h-9.13zM1111.57 486.55h9.13v9.13h-9.13zM875.73 495.28h9.13v9.13h-9.13zM1094.1 495.28h9.13v9.13h-9.13zM1024.22 504.02h9.13v9.13h-9.13zM1076.63 504.02h9.13v9.13h-9.13zM901.94 512.75h9.13v9.13h-9.13zM1050.42 512.75h9.13v9.13h-9.13zM867 521.49h9.13v9.13h-9.13zM884.47 521.49h9.13v9.13h-9.13zM936.88 521.49h9.13v9.13h-9.13zM1050.42 521.49h9.13v9.13h-9.13zM998.02 530.22h9.13v9.13h-9.13zM1006.75 556.42h9.13v9.13h-9.13zM1015.49 556.42h9.13v9.13h-9.13zM884.47 565.16h9.13v9.13h-9.13zM971.81 573.89h9.13v9.13h-9.13zM1102.83 573.89h9.13v9.13h-9.13zM1111.57 573.89h9.13v9.13h-9.13zM963.08 582.63h9.13v9.13h-9.13zM998.02 582.63h9.13v9.13h-9.13zM919.41 600.1h9.13v9.13h-9.13zM954.34 600.1h9.13v9.13h-9.13zM989.28 600.1h9.13v9.13h-9.13zM1102.83 600.1h9.13v9.13h-9.13zM963.08 608.83h9.13v9.13h-9.13zM1067.89 608.83h9.13v9.13h-9.13zM1094.1 608.83h9.13v9.13h-9.13zM980.55 617.57h9.13v9.13h-9.13zM1067.89 617.57h9.13v9.13h-9.13z"/>
<path fill="#48978a" shape-rendering="crispEdges" d="M945.61 373h9.13v9.13h-9.13zM1006.75 373h9.13v9.13h-9.13zM910.67 399.2h9.13v9.13h-9.13zM1041.69 399.2h9.13v9.13h-9.13zM1111.57 399.2h9.13v9.13h-9.13zM998.02 407.94h9.13v9.13h-9.13zM893.2 416.67h9.13v9.13h-9.13zM936.88 425.41h9.13v9.13h-9.13zM989.28 425.41h9.13v9.13h-9.13zM1076.63 434.14h9.13v9.13h-9.13zM1111.57 434.14h9.13v9.13h-9.13zM919.41 442.88h9.13v9.13h-9.13zM963.08 442.88h9.13v9.13h-9.13zM867 451.61h9.13v9.13h-9.13zM1024.22 460.34h9.13v9.13h-9.13zM1032.96 460.34h9.13v9.13h-9.13zM1076.63 460.34h9.13v9.13h-9.13zM936.88 469.08h9.13v9.13h-9.13zM1006.75 469.08h9.13v9.13h-9.13zM1067.89 469.08h9.13v9.13h-9.13zM1102.83 477.81h9.13v9.13h-9.13zM998.02 486.55h9.13v9.13h-9.13zM919.41 495.28h9.13v9.13h-9.13zM1059.16 495.28h9.13v9.13h-9.13zM901.94 504.02h9.13v9.13h-9.13zM980.55 504.02h9.13v9.13h-9.13zM1059.16 504.02h9.13v9.13h-9.13zM867 512.75h9.13v9.13h-9.13zM963.08 512.75h9.13v9.13h-9.13zM1059.16 512.75h9.13v9.13h-9.13zM1111.57 512.75h9.13v9.13h-9.13zM1094.1 521.49h9.13v9.13h-9.13zM1111.57 521.49h9.13v9.13h-9.13zM954.34 530.22h9.13v9.13h-9.13zM1102.83 530.22h9.13v9.13h-9.13zM954.34 538.96h9.13v9.13h-9.13zM893.2 547.69h9.13v9.13h-9.13zM1059.16 547.69h9.13v9.13h-9.13zM1076.63 556.42h9.13v9.13h-9.13zM989.28 565.16h9.13v9.13h-9.13zM998.02 565.16h9.13v9.13h-9.13zM1006.75 565.16h9.13v9.13h-9.13zM1041.69 565.16h9.13v9.13h-9.13zM963.08 573.89h9.13v9.13h-9.13zM928.14 582.63h9.13v9.13h-9.13zM954.34 582.63h9.13v9.13h-9.13zM1050.42 582.63h9.13v9.13h-9.13zM1015.49 600.1h9.13v9.13h-9.13zM971.81 608.83h9.13v9.13h-9.13zM1024.22 608.83h9.13v9.13h-9.13zM893.2 617.57h9.13v9.13h-9.13zM928.14 617.57h9.13v9.13h-9.13zM1006.75 617.57h9.13v9.13h-9.13zM1015.49 617.57h9.13v9.13h-9.13z"/>
<path fill="#3e748e" shape-rendering="crispEdges" d="M963.08 373h9.13v9.13h-9.13zM867 469.08h9.13v9.13h-9.13zM1032.96 504.02h9.13v9.13h-9.13zM1067.89 530.22h9.13v9.13h-9.13zM998.02 538.96h9.13v9.13h-9.13zM1041.69 538.96h9.13v9.13h-9.13zM1032.96 547.69h9.13v9.13h-9.13zM1024.22 573.89h9.13v9.13h-9.13z"/>
<path fill="#44908c" shape-rendering="crispEdges" d="M980.55 373h9.13v9.13h-9.13zM1059.16 373h9.13v9.13h-9.13zM928.14 381.73h9.13v9.13h-9.13zM901.94 390.47h9.13v9.13h-9.13zM1041.69 390.47h9.13v9.13h-9.13zM1067.89 390.47h9.13v9.13h-9.13zM901.94 399.2h9.13v9.13h-9.13zM1076.63 399.2h9.13v9.13h-9.13zM884.47 407.94h9.13v9.13h-9.13zM893.2 407.94h9.13v9.13h-9.13zM1076.63 416.67h9.13v9.13h-9.13zM875.73 434.14h9.13v9.13h-9.13zM971.81 434.14h9.13v9.13h-9.13zM1050.42 434.14h9.13v9.13h-9.13zM928.14 477.81h9.13v9.13h-9.13zM1015.49 477.81h9.13v9.13h-9.13zM867 486.55h9.13v9.13h-9.13zM1006.75 486.55h9.13v9.13h-9.13zM1032.96 486.55h9.13v9.13h-9.13zM1076.63 486.55h9.13v9.13h-9.13zM1076.63 495.28h9.13v9.13h-9.13zM980.55 512.75h9.13v9.13h-9.13zM1067.89 512.75h9.13v9.13h-9.13zM971.81 521.49h9.13v9.13h-9.13zM1050.42 530.22h9.13v9.13h-9.13zM980.55 538.96h9.13v9.13h-9.13zM884.47 547.69h9.13v9.13h-9.13zM928.14 556.42h9.13v9.13h-9.13zM1024.22 556.42h9.13v9.13h-9.13zM867 565.16h9.13v9.13h-9.13zM884.47 573.89h9.13v9.13h-9.13zM1006.75 573.89h9.13v9.13h-9.13zM1076.63 573.89h9.13v9.13h-9.13zM893.2 582.63h9.13v9.13h-9.13zM910.67 582.63h9.13v9.13h-9.13zM980.55 582.63h9.13v9.13h-9.13zM989.28 582.63h9.13v9.13h-9.13zM1067.89 582.63h9.13v9.13h-9.13zM1111.57 582.63h9.13v9.13h-9.13zM1076.63 617.57h9.13v9.13h-9.13z"/>
<path fill="#4d9d88" shape-rendering="crispEdges" d="M989.28 373h9.13v9.13h-9.13zM1094.1 373h9.13v9.13h-9.13zM1111.57 373h9.13v9.13h-9.13zM901.94 381.73h9.13v9.13h-9.13zM1041.69 381.73h9.13v9.13h-9.13zM1076.63 381.73h9.13v9.13h-9.13zM928.14 390.47h9.13v9.13h-9.13zM980.55 390.47h9.13v9.13h-9.13zM989.28 390.47h9.13v9.13h-9.13zM1006.75 390.47h9.13v9.13h-9.13zM936.88 399.2h9.13v9.13h-9.13zM963.08 399.2h9.13v9.13h-9.13zM998.02 399.2h9.13v9.13h-9.13zM875.73 407.94h9.13v9.13h-9.13zM936.88 407.94h9.13v9.13h-9.13zM980.55 407.94h9.13v9.13h-9.13zM928.14 416.67h9.13v9.13h-9.13zM884.47 434.14h9.13v9.13h-9.13zM910.67 434.14h9.13v9.13h-9.13zM963.08 434.14h9.13v9.13h-9.13zM1006.75 434.14h9.13v9.13h-9.13zM893.2 442.88h9.13v9.13h-9.13zM901.94 442.88h9.13v9.13h-9.13zM1085.36 442.88h9.13v9.13h-9.13zM1050.42 460.34h9.13v9.13h-9.13zM1111.57 460.34h9.13v9.13h-9.13zM893.2 469.08h9.13v9.13h-9.13zM928.14 469.08h9.13v9.13h-9.13zM1094.1 477.81h9.13v9.13h-9.13zM884.47 486.55h9.13v9.13h-9.13zM901.94 486.55h9.13v9.13h-9.13zM1015.49 486.55h9.13v9.13h-9.13zM1024.22 486.55h9.13v9.13h-9.13zM867 495.28h9.13v9.13h-9.13zM884.47 495.28h9.13v9.13h-9.13zM1024.22 495.28h9.13v9.13h-9.13zM1102.83 495.28h9.13v9.13h-9.13zM893.2 504.02h9.13v9.13h-9.13zM1006.75 504.02h9.13v9.13h-9.13zM1094.1 504.02h9.13v9.13h-9.13zM884.47 512.75h9.13v9.13h-9.13zM928.14 512.75h9.13v9.13h-9.13zM998.02 512.75h9.13v9.13h-9.13zM1041.69 512.75h9.13v9.13h-9.13zM980.55 521.49h9.13v9.13h-9.13zM1041.69 521.49h9.13v9.13h-9.13zM980.55 530.22h9.13v9.13h-9.13zM989.28 530.22h9.13v9.13h-9.13zM1059.16 530.22h9.13v9.13h-9.13zM875.73 547.69h9.13v9.13h-9.13zM1006.75 547.69h9.13v9.13h-9.13zM1015.49 547.69h9.13v9.13h-9.13zM954.34 556.42h9.13v9.13h-9.13zM1024.22 565.16h9.13v9.13h-9.13zM1094.1 565.16h9.13v9.13h-9.13zM875.73 582.63h9.13v9.13h-9.13zM936.88 591.36h9.13v9.13h-9.13zM1102.83 591.36h9.13v9.13h-9.13zM867 600.1h9.13v9.13h-9.13zM971.81 600.1h9.13v9.13h-9.13zM998.02 600.1h9.13v9.13h-9.13zM1059.16 600.1h9.13v9.13h-9.13zM989.28 608.83h9.13v9.13h-9.13zM1085.36 608.83h9.13v9.13h-9.13zM867 617.57h9.13v9.13h-9.13zM954.34 617.57h9.13v9.13h-9.13z"/>
<path fill="#5eb27d" shape-rendering="crispEdges" d="M998.02 373h9.13v9.13h-9.13zM919.41 381.73h9.13v9.13h-9.13zM1094.1 381.73h9.13v9.13h-9.13zM1094.1 399.2h9.13v9.13h-9.13zM989.28 407.94h9.13v9.13h-9.13zM1067.89 407.94h9.13v9.13h-9.13zM875.73 425.41h9.13v9.13h-9.13zM1085.36 434.14h9.13v9.13h-9.13zM1015.49 451.61h9.13v9.13h-9.13zM1050.42 451.61h9.13v9.13h-9.13zM901.94 495.28h9.13v9.13h-9.13zM867 504.02h9.13v9.13h-9.13zM1050.42 504.02h9.13v9.13h-9.13zM945.61 521.49h9.13v9.13h-9.13zM945.61 556.42h9.13v9.13h-9.13zM998.02 556.42h9.13v9.13h-9.13zM1102.83 565.16h9.13v9.13h-9.13zM901.94 573.89h9.13v9.13h-9.13zM928.14 591.36h9.13v9.13h-9.13zM875.73 600.1h9.13v9.13h-9.13zM893.2 600.1h9.13v9.13h-9.13zM1059.16 608.83h9.13v9.13h-9.13z"/>
<path fill="#57ab82" shape-rendering="crispEdges" d="M1024.22 373h9.13v9.13h-9.13zM945.61 381.73h9.13v9.13h-9.13zM963.08 381.73h9.13v9.13h-9.13zM1102.83 381.73h9.13v9.13h-9.13zM1085.36 390.47h9.13v9.13h-9.13zM954.34 416.67h9.13v9.13h-9.13zM1059.16 425.41h9.13v9.13h-9.13zM1006.75 442.88h9.13v9.13h-9.13zM1094.1 442.88h9.13v9.13h-9.13zM875.73 451.61h9.13v9.13h-9.13zM963.08 451.61h9.13v9.13h-9.13zM1006.75 451.61h9.13v9.13h-9.13zM910.67 460.34h9.13v9.13h-9.13zM989.28 460.34h9.13v9.13h-9.13zM875.73 469.08h9.13v9.13h-9.13zM945.61 469.08h9.13v9.13h-9.13zM989.28 486.55h9.13v9.13h-9.13zM1094.1 486.55h9.13v9.13h-9.13zM954.34 495.28h9.13v9.13h-9.13zM980.55 495.28h9.13v9.13h-9.13zM1041.69 495.28h9.13v9.13h-9.13zM936.88 512.75h9.13v9.13h-9.13zM945.61 512.75h9.13v9.13h-9.13zM1076.63 512.75h9.13v9.13h-9.13zM1076.63 521.49h9.13v9.13h-9.13zM867 530.22h9.13v9.13h-9.13zM1111.57 530.22h9.13v9.13h-9.13zM989.28 547.69h9.13v9.13h-9.13zM1050.42 547.69h9.13v9.13h-9.13zM1102.83 547.69h9.13v9.13h-9.13zM1111.57 547.69h9.13v9.13h-9.13zM1041.69 556.42h9.13v9.13h-9.13zM919.41 565.16h9.13v9.13h-9.13zM1006.75 582.63h9.13v9.13h-9.13zM1015.49 582.63h9.13v9.13h-9.13zM884.47 591.36h9.13v9.13h-9.13zM936.88 600.1h9.13v9.13h-9.13zM980.55 600.1h9.13v9.13h-9.13zM875.73 608.83h9.13v9.13h-9.13zM1041.69 608.83h9.13v9.13h-9.13zM1024.22 617.57h9.13v9.13h-9.13zM1041.69 617.57h9.13v9.13h-9.13z"/>
<path fill="#3e7d8e" shape-rendering="crispEdges" d="M1032.96 373h9.13v9.13h-9.13zM1059.16 460.34h9.13v9.13h-9.13zM1076.63 530.22h9.13v9.13h-9.13zM867 538.96h9.13v9.13h-9.13zM954.34 565.16h9.13v9.13h-9.13zM1076.63 565.16h9.13v9.13h-9.13zM1024.22 582.63h9.13v9.13h-9.13zM1059.16 582.63h9.13v9.13h-9.13z"/>
<path fill="#4fa187" shape-rendering="crispEdges" d="M1041.69 373h9.13v9.13h-9.13zM1076.63 373h9.13v9.13h-9.13zM1102.83 373h9.13v9.13h-9.13zM954.34 381.73h9.13v9.13h-9.13zM980.55 381.73h9.13v9.13h-9.13zM1006.75 381.73h9.13v9.13h-9.13zM1067.89 381.73h9.13v9.13h-9.13zM963.08 390.47h9.13v9.13h-9.13zM963.08 407.94h9.13v9.13h-9.13zM971.81 407.94h9.13v9.13h-9.13zM1050.42 407.94h9.13v9.13h-9.13zM971.81 416.67h9.13v9.13h-9.13zM1067.89 416.67h9.13v9.13h-9.13zM1111.57 416.67h9.13v9.13h-9.13zM1041.69 425.41h9.13v9.13h-9.13zM1050.42 425.41h9.13v9.13h-9.13zM1067.89 425.41h9.13v9.13h-9.13zM936.88 434.14h9.13v9.13h-9.13zM989.28 434.14h9.13v9.13h-9.13zM928.14 442.88h9.13v9.13h-9.13zM1050.42 442.88h9.13v9.13h-9.13zM875.73 460.34h9.13v9.13h-9.13zM1015.49 460.34h9.13v9.13h-9.13zM884.47 469.08h9.13v9.13h-9.13zM901.94 469.08h9.13v9.13h-9.13zM998.02 469.08h9.13v9.13h-9.13zM1111.57 469.08h9.13v9.13h-9.13zM901.94 477.81h9.13v9.13h-9.13zM910.67 477.81h9.13v9.13h-9.13zM875.73 486.55h9.13v9.13h-9.13zM1041.69 486.55h9.13v9.13h-9.13zM1050.42 486.55h9.13v9.13h-9.13zM928.14 495.28h9.13v9.13h-9.13zM1111.57 495.28h9.13v9.13h-9.13zM963.08 504.02h9.13v9.13h-9.13zM875.73 512.75h9.13v9.13h-9.13zM1094.1 512.75h9.13v9.13h-9.13zM954.34 521.49h9.13v9.13h-9.13zM1085.36 521.49h9.13v9.13h-9.13zM1102.83 521.49h9.13v9.13h-9.13zM1111.57 538.96h9.13v9.13h-9.13zM867 547.69h9.13v9.13h-9.13zM919.41 547.69h9.13v9.13h-9.13zM980.55 547.69h9.13v9.13h-9.13zM1067.89 547.69h9.13v9.13h-9.13zM1094.1 547.69h9.13v9.13h-9.13zM901.94 556.42h9.13v9.13h-9.13zM919.41 556.42h9.13v9.13h-9.13zM936.88 556.42h9.13v9.13h-9.13zM980.55 556.42h9.13v9.13h-9.13zM875.73 573.89h9.13v9.13h-9.13zM910.67 573.89h9.13v9.13h-9.13zM919.41 573.89h9.13v9.13h-9.13zM1041.69 573.89h9.13v9.13h-9.13zM867 582.63h9.13v9.13h-9.13zM1015.49 591.36h9.13v9.13h-9.13zM1006.75 600.1h9.13v9.13h-9.13zM1041.69 600.1h9.13v9.13h-9.13zM867 608.83h9.13v9.13h-9.13zM1015.49 608.83h9.13v9.13h-9.13zM910.67 617.57h9.13v9.13h-9.13zM963.08 617.57h9.13v9.13h-9.13zM989.28 617.57h9.13v9.13h-9.13zM1032.96 617.57h9.13v9.13h-9.13z"/>
<path fill="#3f828d" shape-rendering="crispEdges" d="M1067.89 373h9.13v9.13h-9.13zM936.88 390.47h9.13v9.13h-9.13zM954.34 399.2h9.13v9.13h-9.13zM928.14 407.94h9.13v9.13h-9.13zM901.94 434.14h9.13v9.13h-9.13zM1041.69 434.14h9.13v9.13h-9.13zM884.47 442.88h9.13v9.13h-9.13zM1032.96 451.61h9.13v9.13h-9.13zM893.2 460.34h9.13v9.13h-9.13zM1032.96 521.49h9.13v9.13h-9.13zM945.61 538.96h9.13v9.13h-9.13zM1015.49 538.96h9.13v9.13h-9.13zM928.14 547.69h9.13v9.13h-9.13zM1059.16 556.42h9.13v9.13h-9.13zM1050.42 565.16h9.13v9.13h-9.13zM867 573.89h9.13v9.13h-9.13z"/>
<path fill="#5aae80" shape-rendering="crispEdges" d="M893.2 381.73h9.13v9.13h-9.13zM910.67 381.73h9.13v9.13h-9.13zM971.81 381.73h9.13v9.13h-9.13zM998.02 381.73h9.13v9.13h-9.13zM875.73 399.2h9.13v9.13h-9.13zM989.28 399.2h9.13v9.13h-9.13zM1015.49 407.94h9.13v9.13h-9.13zM1041.69 407.94h9.13v9.13h-9.13zM875.73 416.67h9.13v9.13h-9.13zM928.14 425.41h9.13v9.13h-9.13zM919.41 434.14h9.13v9.13h-9.13zM998.02 434.14h9.13v9.13h-9.13zM998.02 451.61h9.13v9.13h-9.13zM1041.69 451.61h9.13v9.13h-9.13zM980.55 460.34h9.13v9.13h-9.13zM875.73 477.81h9.13v9.13h-9.13zM1024.22 477.81h9.13v9.13h-9.13zM1050.42 477.81h9.13v9.13h-9.13zM1059.16 477.81h9.13v9.13h-9.13zM954.34 486.55h9.13v9.13h-9.13zM893.2 495.28h9.13v9.13h-9.13zM1006.75 495.28h9.13v9.13h-9.13zM875.73 504.02h9.13v9.13h-9.13zM928.14 504.02h9.13v9.13h-9.13zM945.61 504.02h9.13v9.13h-9.13zM1102.83 504.02h9.13v9.13h-9.13zM989.28 512.75h9.13v9.13h-9.13zM901.94 521.49h9.13v9.13h-9.13zM971.81 530.22h9.13v9.13h-9.13zM901.94 547.69h9.13v9.13h-9.13zM945.61 547.69h9.13v9.13h-9.13zM1076.63 547.69h9.13v9.13h-9.13zM971.81 556.42h9.13v9.13h-9.13zM1094.1 556.42h9.13v9.13h-9.13zM971.81 565.16h9.13v9.13h-9.13zM1085.36 565.16h9.13v9.13h-9.13zM1085.36 573.89h9.13v9.13h-9.13zM1094.1 573.89h9.13v9.13h-9.13zM1041.69 582.63h9.13v9.13h-9.13zM1059.16 591.36h9.13v9.13h-9.13zM1067.89 591.36h9.13v9.13h-9.13zM1050.42 600.1h9.13v9.13h-9.13zM1067.89 600.1h9.13v9.13h-9.13zM998.02 608.83h9.13v9.13h-9.13z"/>
<path fill="#69bc73" shape-rendering="crispEdges" d="M1024.22 381.73h9.13v9.13h-9.13zM1015.49 434.14h9.13v9.13h-9.13zM1024.22 434.14h9.13v9.13h-9.13zM989.28 442.88h9.13v9.13h-9.13zM1102.83 442.88h9.13v9.13h-9.13zM980.55 469.08h9.13v9.13h-9.13zM1085.36 469.08h9.13v9.13h-9.13zM963.08 486.55h9.13v9.13h-9.13zM936.88 495.28h9.13v9.13h-9.13zM1041.69 504.02h9.13v9.13h-9.13zM1085.36 512.75h9.13v9.13h-9.13zM928.14 521.49h9.13v9.13h-9.13zM875.73 530.22h9.13v9.13h-9.13zM928.14 530.22h9.13v9.13h-9.13zM998.02 547.69h9.13v9.13h-9.13zM963.08 591.36h9.13v9.13h-9.13zM1006.75 591.36h9.13v9.13h-9.13zM1111.57 591.36h9.13v9.13h-9.13zM936.88 608.83h9.13v9.13h-9.13zM1085.36 617.57h9.13v9.13h-9.13z"/>
<path fill="#62b579" shape-rendering="crispEdges" d="M1085.36 381.73h9.13v9.13h-9.13zM1024.22 399.2h9.13v9.13h-9.13zM1111.57 407.94h9.13v9.13h-9.13zM1094.1 416.67h9.13v9.13h-9.13zM1102.83 416.67h9.13v9.13h-9.13zM1085.36 425.41h9.13v9.13h-9.13zM1111.57 425.41h9.13v9.13h-9.13zM1059.16 442.88h9.13v9.13h-9.13zM1067.89 442.88h9.13v9.13h-9.13zM1111.57 442.88h9.13v9.13h-9.13zM971.81 469.08h9.13v9.13h-9.13zM1041.69 469.08h9.13v9.13h-9.13zM963.08 477.81h9.13v9.13h-9.13zM1111.57 504.02h9.13v9.13h-9.13zM1024.22 512.75h9.13v9.13h-9.13zM893.2 530.22h9.13v9.13h-9.13zM1006.75 530.22h9.13v9.13h-9.13zM963.08 547.69h9.13v9.13h-9.13zM1085.36 547.69h9.13v9.13h-9.13zM936.88 565.16h9.13v9.13h-9.13zM936.88 573.89h9.13v9.13h-9.13zM875.73 591.36h9.13v9.13h-9.13zM919.41 591.36h9.13v9.13h-9.13zM1041.69 591.36h9.13v9.13h-9.13zM910.67 600.1h9.13v9.13h-9.13zM910.67 608.83h9.13v9.13h-9.13zM901.94 617.57h9.13v9.13h-9.13zM919.41 617.57h9.13v9.13h-9.13zM936.88 617.57h9.13v9.13h-9.13zM998.02 617.57h9.13v9.13h-9.13z"/>
<path fill="#3e668e" shape-rendering="crispEdges" d="M919.41 390.47h9.13v9.13h-9.13zM954.34 390.47h9.13v9.13h-9.13zM1032.96 390.47h9.13v9.13h-9.13zM1076.63 390.47h9.13v9.13h-9.13zM884.47 425.41h9.13v9.13h-9.13zM971.81 425.41h9.13v9.13h-9.13zM1032.96 434.14h9.13v9.13h-9.13zM1032.96 442.88h9.13v9.13h-9.13zM884.47 460.34h9.13v9.13h-9.13zM919.41 477.81h9.13v9.13h-9.13zM1032.96 477.81h9.13v9.13h-9.13zM1076.63 477.81h9.13v9.13h-9.13zM1032.96 512.75h9.13v9.13h-9.13zM884.47 538.96h9.13v9.13h-9.13zM928.14 538.96h9.13v9.13h-9.13zM936.88 538.96h9.13v9.13h-9.13zM971.81 538.96h9.13v9.13h-9.13zM1006.75 538.96h9.13v9.13h-9.13zM1059.16 538.96h9.13v9.13h-9.13zM1067.89 538.96h9.13v9.13h-9.13zM1076.63 538.96h9.13v9.13h-9.13zM1032.96 565.16h9.13v9.13h-9.13zM1032.96 573.89h9.13v9.13h-9.13zM884.47 582.63h9.13v9.13h-9.13zM971.81 582.63h9.13v9.13h-9.13zM1032.96 582.63h9.13v9.13h-9.13z"/>
<path fill="#41898c" shape-rendering="crispEdges" d="M971.81 390.47h9.13v9.13h-9.13zM980.55 399.2h9.13v9.13h-9.13zM1102.83 407.94h9.13v9.13h-9.13zM963.08 416.67h9.13v9.13h-9.13zM1024.22 425.41h9.13v9.13h-9.13zM1032.96 425.41h9.13v9.13h-9.13zM910.67 469.08h9.13v9.13h-9.13zM884.47 477.81h9.13v9.13h-9.13zM893.2 486.55h9.13v9.13h-9.13zM1059.16 521.49h9.13v9.13h-9.13zM919.41 530.22h9.13v9.13h-9.13zM919.41 538.96h9.13v9.13h-9.13zM1015.49 565.16h9.13v9.13h-9.13zM901.94 608.83h9.13v9.13h-9.13z"/>
<path fill="#65b976" shape-rendering="crispEdges" d="M1050.42 390.47h9.13v9.13h-9.13zM1067.89 399.2h9.13v9.13h-9.13zM998.02 416.67h9.13v9.13h-9.13zM1059.16 434.14h9.13v9.13h-9.13zM1024.22 442.88h9.13v9.13h-9.13zM1111.57 451.61h9.13v9.13h-9.13zM1085.36 460.34h9.13v9.13h-9.13zM1050.42 469.08h9.13v9.13h-9.13zM1050.42 495.28h9.13v9.13h-9.13zM910.67 504.02h9.13v9.13h-9.13zM936.88 530.22h9.13v9.13h-9.13zM884.47 556.42h9.13v9.13h-9.13zM963.08 556.42h9.13v9.13h-9.13zM989.28 556.42h9.13v9.13h-9.13zM928.14 565.16h9.13v9.13h-9.13zM893.2 573.89h9.13v9.13h-9.13zM954.34 591.36h9.13v9.13h-9.13zM1094.1 591.36h9.13v9.13h-9.13zM1085.36 600.1h9.13v9.13h-9.13zM945.61 617.57h9.13v9.13h-9.13z"/>
<path fill="#6fc06f" shape-rendering="crispEdges" d="M945.61 399.2h9.13v9.13h-9.13zM1102.83 399.2h9.13v9.13h-9.13zM1024.22 416.67h9.13v9.13h-9.13zM1102.83 425.41h9.13v9.13h-9.13zM893.2 451.61h9.13v9.13h-9.13zM1059.16 451.61h9.13v9.13h-9.13zM910.67 530.22h9.13v9.13h-9.13zM945.61 565.16h9.13v9.13h-9.13zM893.2 608.83h9.13v9.13h-9.13zM919.41 608.83h9.13v9.13h-9.13z"/>
<path fill="#3e788e" shape-rendering="crispEdges" d="M1032.96 399.2h9.13v9.13h-9.13zM1032.96 495.28h9.13v9.13h-9.13zM893.2 538.96h9.13v9.13h-9.13zM989.28 538.96h9.13v9.13h-9.13zM1094.1 538.96h9.13v9.13h-9.13zM1032.96 600.1h9.13v9.13h-9.13z"/>
<path fill="#86cc62" shape-rendering="crispEdges" d="M1085.36 407.94h9.13v9.13h-9.13zM901.94 591.36h9.13v9.13h-9.13z"/>
<path fill="#80c965" shape-rendering="crispEdges" d="M1094.1 451.61h9.13v9.13h-9.13zM1085.36 556.42h9.13v9.13h-9.13zM1094.1 582.63h9.13v9.13h-9.13zM1050.42 591.36h9.13v9.13h-9.13zM945.61 600.1h9.13v9.13h-9.13zM1076.63 600.1h9.13v9.13h-9.13z"/>
<path fill="#3d6b8f" shape-rendering="crispEdges" d="M998.02 460.34h9.13v9.13h-9.13zM954.34 504.02h9.13v9.13h-9.13z"/>
<path fill="#3d708f" shape-rendering="crispEdges" d="M1032.96 530.22h9.13v9.13h-9.13zM1024.22 538.96h9.13v9.13h-9.13z"/>
<text x="480.45" y="383.40" font-size="16.5" fill="#000" font-weight="normal" font-style="normal">1</text>
<text x="468.82" y="628.70" font-size="16.5" fill="#000" font-weight="normal" font-style="normal">29</text>
<text x="496.45" y="649.60" font-size="16.5" fill="#000" font-weight="normal" font-style="normal">1</text>
<text x="737.33" y="649.60" font-size="16.5" fill="#000" font-weight="normal" font-style="normal">29</text>
<text x="556.25" y="654.30" font-size="15.9" fill="#000" font-weight="normal" font-style="normal">Singing epoch index</text>
<text x="481.77" y="576.25" font-size="17" fill="#000" font-weight="normal" font-style="normal" transform="rotate(-90 481.77 576.25)">Singing epoch index</text>
<text x="850.75" y="384.60" font-size="16.5" fill="#000" font-weight="normal" font-style="normal">1</text>
<text x="840.42" y="630.00" font-size="16.5" fill="#000" font-weight="normal" font-style="normal">29</text>
<text x="863.75" y="649.70" font-size="16.5" fill="#000" font-weight="normal" font-style="normal">1</text>
<text x="1106.42" y="650.00" font-size="16.5" fill="#000" font-weight="normal" font-style="normal">29</text>
<text x="916.55" y="654.80" font-size="15.8" fill="#000" font-weight="normal" font-style="normal">Nonsinging epoch index</text>
<text x="849.58" y="586.05" font-size="15.8" fill="#000" font-weight="normal" font-style="normal" transform="rotate(-90 849.58 586.05)">Nonsinging epoch index</text>
<rect x="793.9" y="427.9" width="21.6" height="112.6" fill="url(#vcb)" stroke="#000" stroke-width="1"/>
<text x="799.55" y="420.80" font-size="16.5" fill="#000" font-weight="normal" font-style="normal">1</text>
<text x="799.38" y="557.90" font-size="16.5" fill="#000" font-weight="normal" font-style="normal">0</text>
<text x="786.62" y="523.77" font-size="16.8" fill="#000" font-weight="normal" font-style="normal" transform="rotate(-90 786.62 523.77)">Correlation</text>
<path d="M1196.9,95.3 V309 H1435.6" fill="none" stroke="#444" stroke-width="1.3"/>
<line x1="1188.8" y1="309.0" x2="1196.9" y2="309.0" stroke="#444" stroke-width="1.3"/>
<line x1="1196.9" y1="309" x2="1196.9" y2="316" stroke="#444" stroke-width="1.3"/>
<line x1="1188.8" y1="266.3" x2="1196.9" y2="266.3" stroke="#444" stroke-width="1.3"/>
<line x1="1244.6" y1="309" x2="1244.6" y2="316" stroke="#444" stroke-width="1.3"/>
<line x1="1188.8" y1="223.5" x2="1196.9" y2="223.5" stroke="#444" stroke-width="1.3"/>
<line x1="1292.4" y1="309" x2="1292.4" y2="316" stroke="#444" stroke-width="1.3"/>
<line x1="1188.8" y1="180.8" x2="1196.9" y2="180.8" stroke="#444" stroke-width="1.3"/>
<line x1="1340.1" y1="309" x2="1340.1" y2="316" stroke="#444" stroke-width="1.3"/>
<line x1="1188.8" y1="138.0" x2="1196.9" y2="138.0" stroke="#444" stroke-width="1.3"/>
<line x1="1387.9" y1="309" x2="1387.9" y2="316" stroke="#444" stroke-width="1.3"/>
<line x1="1188.8" y1="95.3" x2="1196.9" y2="95.3" stroke="#444" stroke-width="1.3"/>
<line x1="1435.6" y1="309" x2="1435.6" y2="316" stroke="#444" stroke-width="1.3"/>
<polyline points="1196.9,308.6 1255.3,308.3 1269.0,306.5 1279.3,303.1 1289.6,295.2 1296.5,287.6 1303.3,275.6 1310.2,256.7 1317.1,236.1 1322.2,215.5 1327.4,191.5 1332.5,170.9 1341.1,141.7 1349.7,122.8 1358.3,108.4 1368.6,102.2 1377.2,98.1 1382.3,96.0 1396.1,95.3 1435.6,95.3" fill="none" stroke="#a8a8a8" stroke-width="2"/>
<polyline points="1196.9,308.6 1317.1,308.3 1320.5,304.8 1327.4,299.7 1337.7,292.8 1346.3,284.2 1351.4,273.9 1358.3,249.9 1365.2,232.7 1370.3,212.1 1375.5,198.3 1380.6,177.7 1384.1,153.7 1387.5,129.7 1390.9,112.5 1394.4,100.5 1397.8,97.0 1402.9,95.3 1435.6,95.3" fill="none" stroke="#000" stroke-width="2"/>
<text x="1175.95" y="101.60" font-size="17" fill="#000" font-weight="normal" font-style="normal">1</text>
<text x="1175.28" y="318.00" font-size="17" fill="#000" font-weight="normal" font-style="normal">0</text>
<text x="1191.78" y="333.00" font-size="17" fill="#000" font-weight="normal" font-style="normal">0</text>
<text x="1431.75" y="333.00" font-size="17" fill="#000" font-weight="normal" font-style="normal">1</text>
<text x="1231.03" y="342.70" font-size="16.8" fill="#000" font-weight="normal" font-style="normal">Correlation coefficient</text>
<text x="1173.17" y="286.88" font-size="17.1" fill="#000" font-weight="normal" font-style="normal" transform="rotate(-90 1173.17 286.88)">Cumulative frequency</text>
<text x="1219.33" y="133.10" font-size="17.8" fill="#000" font-weight="normal" font-style="normal">Singing</text>
<text x="1218.70" y="157.10" font-size="17.8" fill="#a8a8a8" font-weight="normal" font-style="normal">Nonsinging</text>
<path d="M1197,381.9 V621 H1432.6" fill="none" stroke="#222" stroke-width="1.3"/>
<line x1="1189.2" y1="602.0" x2="1197" y2="602.0" stroke="#222" stroke-width="1.3"/>
<line x1="1215.5" y1="621" x2="1215.5" y2="628.6" stroke="#222" stroke-width="1.3"/>
<line x1="1189.2" y1="565.3" x2="1197" y2="565.3" stroke="#222" stroke-width="1.3"/>
<line x1="1251.7" y1="621" x2="1251.7" y2="628.6" stroke="#222" stroke-width="1.3"/>
<line x1="1189.2" y1="528.6" x2="1197" y2="528.6" stroke="#222" stroke-width="1.3"/>
<line x1="1287.9" y1="621" x2="1287.9" y2="628.6" stroke="#222" stroke-width="1.3"/>
<line x1="1189.2" y1="491.9" x2="1197" y2="491.9" stroke="#222" stroke-width="1.3"/>
<line x1="1324.1" y1="621" x2="1324.1" y2="628.6" stroke="#222" stroke-width="1.3"/>
<line x1="1189.2" y1="455.2" x2="1197" y2="455.2" stroke="#222" stroke-width="1.3"/>
<line x1="1360.3" y1="621" x2="1360.3" y2="628.6" stroke="#222" stroke-width="1.3"/>
<line x1="1189.2" y1="418.5" x2="1197" y2="418.5" stroke="#222" stroke-width="1.3"/>
<line x1="1396.5" y1="621" x2="1396.5" y2="628.6" stroke="#222" stroke-width="1.3"/>
<line x1="1189.2" y1="381.8" x2="1197" y2="381.8" stroke="#222" stroke-width="1.3"/>
<line x1="1432.7" y1="621" x2="1432.7" y2="628.6" stroke="#222" stroke-width="1.3"/>
<line x1="1197" y1="621" x2="1409.6" y2="405" stroke="#222" stroke-width="1.3" stroke-dasharray="8,5"/>
<g stroke="#000" stroke-width="1.8"><line x1="1252.5" y1="477" x2="1270.5" y2="477"/><line x1="1261.4" y1="472.5" x2="1261.4" y2="481.5"/><line x1="1220" y1="534.8" x2="1233" y2="534.8"/><line x1="1227" y1="527" x2="1227" y2="541"/></g>
<circle cx="1204.9" cy="505" r="3.2" fill="#111"/>
<circle cx="1214.3" cy="500.7" r="3.2" fill="#111"/>
<circle cx="1226.8" cy="534.4" r="3.2" fill="#111"/>
<circle cx="1228.3" cy="537.3" r="3.2" fill="#111"/>
<circle cx="1242.6" cy="536.8" r="3.2" fill="#111"/>
<circle cx="1250.5" cy="516" r="3.2" fill="#111"/>
<circle cx="1261.4" cy="477" r="3.2" fill="#111"/>
<circle cx="1260.8" cy="555.2" r="3.2" fill="#111"/>
<circle cx="1290.1" cy="449.6" r="3.2" fill="#111"/>
<circle cx="1302.4" cy="463.8" r="3.2" fill="#111"/>
<circle cx="1337.5" cy="432.1" r="3.2" fill="#111"/>
<circle cx="1346.1" cy="417.3" r="3.2" fill="#111"/>
<circle cx="1337.5" cy="432.1" r="1.6" fill="#888"/>
<circle cx="1301.7" cy="444.8" r="4.9" fill="#e53f33"/><circle cx="1301.7" cy="444.8" r="1.2" fill="#000"/>
<text x="1160.97" y="387.20" font-size="16.7" fill="#000" font-weight="normal" font-style="normal">0.9</text>
<text x="1161.97" y="609.60" font-size="16.7" fill="#000" font-weight="normal" font-style="normal">0.3</text>
<text x="1200.88" y="651.60" font-size="16.7" fill="#000" font-weight="normal" font-style="normal">0.3</text>
<text x="1415.38" y="651.60" font-size="16.7" fill="#000" font-weight="normal" font-style="normal">0.9</text>
<text x="1251.70" y="649.50" font-size="16.8" fill="#000" font-weight="normal" font-style="normal">Average Correlation</text>
<text x="1246.80" y="668.80" font-size="17" fill="#000" font-weight="normal" font-style="normal">(nonsinging epochs)</text>
<text x="1156.70" y="568.50" font-size="17.3" fill="#000" font-weight="normal" font-style="normal" transform="rotate(-90 1156.70 568.50)">Average Correlation</text>
<text x="1174.58" y="560.00" font-size="17" fill="#000" font-weight="normal" font-style="normal" transform="rotate(-90 1174.58 560.00)">(Singing epochs)</text>
</svg></body></html>
